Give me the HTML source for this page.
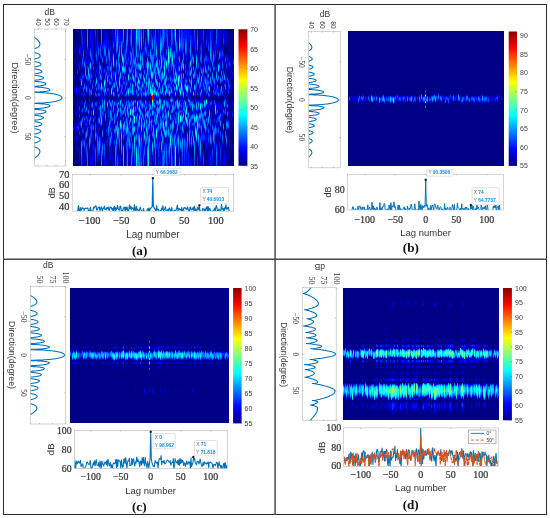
<!DOCTYPE html>
<html lang="en"><head><meta charset="utf-8"><title>Figure</title>
<style>html,body{margin:0;padding:0;background:#fff;}svg{display:block;}</style></head>
<body>
<svg width="550" height="518" viewBox="0 0 550 518"><rect x="0" y="0" width="550" height="518" fill="#fff"/>
<defs><filter id="bl" x="-5%" y="-5%" width="110%" height="110%"><feGaussianBlur stdDeviation="0.5"/></filter></defs>
<rect x="73.00" y="29.00" width="161.00" height="137.00" fill="#000087"/>
<clipPath id="hc1"><rect x="73.00" y="29.00" width="161.00" height="137.00"/></clipPath>
<g clip-path="url(#hc1)"><g shape-rendering="crispEdges" filter="url(#bl)"><g transform="translate(73.5 29.0)" stroke-width="1.05" fill="none">
<path d="M0 33v1M0 84v1M0 91v1M0 97v1M0 114v1M1 50v1M1 63v1M1 73v2M1 104v1M2 30v1M2 35v1M2 64v2M2 79v2M2 82v1M2 90v4M2 108v1M3 14v2M3 19v2M3 56v1M3 86v1M3 95v1M3 105v1M3 112v1M3 116v2M3 121v2M4 22v1M4 34v1M4 39v1M4 50v1M4 58v1M4 94v1M4 103v2M4 113v3M4 125v3M5 17v2M5 24v1M5 40v5M5 48v1M5 65v1M5 71v1M5 73v5M5 83v1M5 92v2M5 103v1M5 109v1M5 113v2M6 7v3M6 14v2M6 27v1M6 32v1M6 43v1M6 48v1M6 52v1M6 66v1M6 89v1M6 116v1M7 15v1M7 26v1M7 31v1M7 35v1M7 40v2M7 61v1M7 64v3M7 70v1M7 79v1M7 83v1M7 103v1M7 107v2M8 14v1M8 22v1M8 31v2M8 60v2M8 65v1M8 71v1M8 107v1M9 25v1M9 41v1M9 43v1M9 60v1M9 62v1M9 72v1M9 105v1M10 2v9M10 16v1M10 35v1M10 73v1M10 85v1M10 94v3M10 109v1M10 119v1M10 130v5M11 0v7M11 18v2M11 24v2M11 30v1M11 40v1M11 44v1M11 49v1M11 63v1M11 82v3M11 94v1M11 125v12M12 0v4M12 52v1M12 55v1M12 61v1M12 65v1M12 76v1M12 78v1M12 85v1M12 135v2M13 9v7M13 52v1M13 54v1M13 65v1M13 75v1M13 92v1M13 98v1M13 110v1M14 23v1M14 25v2M14 30v1M14 77v1M14 111v2M15 10v4M15 25v4M15 65v1M15 73v1M15 79v1M15 94v1M15 103v1M15 111v4M16 0v9M16 20v1M16 32v1M16 57v1M16 81v1M16 84v1M16 87v1M16 104v2M16 135v2M17 56v1M17 58v1M17 73v2M17 76v1M17 81v1M17 83v1M17 86v1M17 124v1M18 0v3M18 16v1M18 22v1M18 32v1M18 43v1M18 52v1M18 57v1M18 70v2M18 88v1M18 91v1M18 110v1M18 129v8M19 40v3M19 53v1M19 62v3M19 71v1M19 82v1M19 90v1M19 110v5M20 16v1M20 21v1M20 44v6M20 61v1M20 63v1M20 72v1M20 87v1M20 102v1M20 127v2M21 9v3M21 36v3M21 44v3M21 50v1M21 54v1M21 57v1M21 73v1M21 112v2M22 31v1M22 42v1M22 68v1M22 80v2M22 90v1M22 113v1M22 115v1M23 4v4M23 34v1M23 38v1M23 45v1M23 68v1M23 82v4M23 94v1M23 99v2M23 112v1M23 117v4M24 21v1M24 35v1M24 56v1M24 60v1M24 66v1M24 80v1M24 97v1M24 103v1M25 42v1M25 51v1M25 68v1M25 75v1M25 85v1M25 98v6M25 133v3M26 11v2M26 18v2M26 25v1M26 76v1M26 82v1M26 103v1M26 105v1M26 132v3M27 13v1M27 34v1M27 55v2M27 64v1M27 74v1M27 99v1M27 106v1M27 128v1M28 20v2M28 66v1M28 70v1M28 98v1M28 112v4M29 0v3M29 12v1M29 23v1M29 37v1M29 42v3M29 51v4M29 66v1M29 95v1M29 98v1M29 112v1M29 134v3M30 6v2M30 50v1M30 73v1M30 88v1M30 91v1M30 98v1M30 103v2M30 109v1M30 121v1M31 37v1M31 90v1M31 100v2M31 103v2M32 9v1M32 35v1M32 56v2M32 82v1M32 93v1M33 21v1M33 52v1M33 61v1M33 71v1M33 76v1M33 81v4M33 90v1M33 107v3M33 117v1M33 127v1M34 0v7M34 18v1M34 43v2M34 57v1M34 69v1M34 92v1M34 94v1M34 123v14M35 2v6M35 32v2M35 64v1M35 70v1M35 75v1M35 113v2M35 125v10M36 57v1M36 60v1M36 85v1M37 0v5M37 15v1M37 24v1M37 35v1M37 58v4M37 67v1M37 69v1M37 79v1M37 134v3M38 20v1M38 57v1M38 93v2M38 112v1M38 117v5M39 36v1M39 41v1M39 100v2M39 116v2M39 122v3M40 0v4M40 50v1M40 72v2M40 87v1M40 91v2M40 94v1M40 104v2M40 107v2M40 114v1M40 123v2M40 133v4M41 21v3M41 28v2M41 31v1M41 39v2M41 49v2M41 60v1M41 71v1M41 82v1M41 96v1M41 129v2M42 18v3M42 36v1M42 39v1M42 63v1M42 84v1M42 86v1M42 110v1M43 26v1M43 60v1M43 63v1M43 65v2M43 92v1M43 105v2M44 26v1M44 43v2M44 65v1M44 117v1M45 18v1M45 48v1M45 55v1M45 57v1M45 77v1M45 87v1M45 117v1M45 124v1M46 30v1M46 45v1M46 61v1M46 78v1M46 99v2M47 23v2M47 32v2M47 39v1M47 59v2M47 106v1M47 111v5M47 123v2M48 8v1M48 49v3M48 68v1M48 75v1M48 92v1M48 129v1M49 53v1M49 60v2M49 66v1M49 70v1M49 72v1M49 87v2M49 108v2M49 112v2M49 123v7M50 24v1M50 45v1M50 57v2M50 62v1M50 65v1M51 12v2M51 35v1M51 48v1M51 50v1M51 67v1M51 75v1M51 87v1M51 111v1M52 14v2M52 108v1M52 114v2M52 118v2M53 46v4M53 59v1M53 68v1M53 85v1M53 108v1M54 20v1M54 22v1M54 31v1M54 47v1M54 66v1M55 0v8M55 35v1M55 42v1M55 68v1M55 133v4M56 0v4M56 26v1M56 30v1M56 33v1M56 55v1M56 65v1M56 84v3M56 99v1M56 122v1M56 130v7M57 46v1M57 71v1M57 87v1M57 94v1M57 101v1M57 110v1M57 122v1M57 126v1M58 34v2M58 66v1M58 87v2M58 96v4M58 117v3M59 9v1M59 15v1M59 108v1M59 110v1M60 7v4M60 67v1M60 70v1M60 111v2M60 118v1M60 129v4M61 15v1M61 22v1M61 39v1M61 45v2M61 56v1M61 66v1M61 79v2M61 95v1M61 104v1M62 65v1M62 69v1M62 87v6M62 94v2M62 100v2M62 114v1M62 117v1M63 31v1M63 51v1M63 66v1M63 71v1M63 74v3M63 113v1M64 51v1M64 63v1M64 82v1M64 114v1M65 30v1M65 42v2M65 68v1M65 83v1M66 42v1M66 66v1M66 99v1M66 123v1M67 56v1M67 92v1M68 24v1M68 41v1M68 87v1M68 104v1M69 0v10M69 19v1M69 49v2M69 68v3M69 91v1M69 108v1M69 110v1M69 135v2M70 43v1M70 71v1M70 79v1M70 115v1M71 6v3M71 11v2M71 28v5M71 36v3M71 100v1M71 113v2M72 27v4M72 49v3M72 92v3M72 122v5M73 0v12M73 28v1M73 30v1M73 119v1M73 131v6M74 66v1M74 70v3M75 18v1M75 20v1M75 71v1M76 13v2M76 20v3M76 46v1M76 67v1M76 101v2M76 119v1M76 122v2M77 72v1M77 89v1M77 104v4M78 21v1M78 68v1M78 71v3M78 84v2M78 105v2M78 115v2M78 118v2M79 0v3M79 40v1M79 52v1M79 88v1M79 101v1M79 130v7M80 50v1M81 48v1M81 123v1M81 126v1M82 70v1M82 73v1M83 0v4M83 40v1M83 59v1M83 111v2M83 124v1M83 131v6M84 2v14M84 70v1M84 130v6M85 21v2M85 26v7M86 10v2M86 51v1M86 107v1M86 126v1M87 67v1M87 113v4M87 122v2M88 86v2M88 99v1M88 109v1M88 128v3M89 69v1M89 102v1M90 42v1M91 19v5M91 60v2M91 93v1M91 109v1M91 111v1M92 23v2M92 40v3M92 67v1M92 70v1M92 75v1M92 99v1M92 123v1M93 54v1M93 69v1M94 44v2M94 51v1M94 66v1M94 94v3M94 108v3M94 118v1M94 123v1M95 11v1M95 46v1M95 70v1M95 90v1M95 112v2M96 13v1M96 20v1M96 71v1M96 83v2M96 86v3M97 11v4M97 32v1M97 39v3M97 74v1M97 80v1M97 92v1M98 44v2M98 86v1M99 43v4M99 59v2M99 86v1M99 118v1M99 122v1M100 10v2M100 30v1M100 60v1M100 69v1M100 102v1M100 109v1M100 125v1M101 16v1M101 19v1M101 32v2M101 72v3M101 83v1M101 97v2M101 101v1M102 81v1M102 87v1M102 96v1M102 98v1M102 100v1M102 102v1M102 112v1M103 0v4M103 27v1M103 63v1M103 66v1M103 69v1M103 79v2M103 123v1M103 133v4M104 31v3M104 41v2M104 69v1M104 120v6M105 10v2M105 19v1M105 68v4M105 98v1M105 101v1M106 25v1M106 112v1M106 122v1M107 26v1M107 48v1M107 69v1M107 79v1M107 123v1M107 131v2M108 26v2M108 30v1M108 71v1M109 42v2M109 46v1M109 68v1M109 106v1M110 52v1M110 56v4M110 90v1M110 97v2M110 109v1M110 117v1M110 126v2M111 21v1M111 32v1M111 35v2M111 41v1M111 47v1M111 60v1M111 65v1M111 85v1M111 87v2M111 104v2M112 0v3M112 29v1M112 32v1M112 62v2M112 70v1M112 79v1M112 94v1M112 103v1M112 106v1M112 123v1M112 133v4M113 67v1M113 106v2M114 18v2M114 35v1M114 38v1M114 73v1M114 80v1M114 128v2M115 17v1M115 29v1M115 34v2M115 49v1M115 91v1M115 105v1M115 108v1M115 114v1M115 119v1M116 13v4M116 28v2M116 66v1M116 79v1M116 86v1M117 39v2M117 48v2M117 56v1M117 85v2M117 108v1M117 119v1M117 126v1M118 19v4M118 67v1M118 83v1M118 99v1M118 102v1M118 121v3M119 18v1M119 22v1M119 47v1M119 49v1M119 56v1M119 111v3M119 117v2M119 129v2M120 5v3M120 16v1M120 60v1M120 81v1M120 91v1M120 98v1M120 104v1M120 123v1M121 27v2M121 39v1M121 52v1M121 63v1M121 106v1M122 0v4M122 30v1M122 35v1M122 80v1M122 85v1M122 94v2M122 111v2M122 121v1M122 131v6M123 9v1M123 44v1M123 63v1M123 116v6M124 23v1M124 26v1M124 38v2M124 55v1M124 104v1M124 122v1M125 30v1M125 67v1M125 82v1M125 84v1M125 101v1M125 124v2M126 26v1M126 40v1M126 65v1M126 77v2M126 102v1M126 109v2M127 34v1M127 50v1M128 58v1M128 91v1M128 120v2M129 14v3M129 21v14M129 63v2M129 67v1M129 100v1M129 115v1M129 123v1M130 23v3M130 28v1M130 46v1M130 61v1M130 66v1M130 69v1M130 75v1M130 80v2M130 101v1M131 10v2M131 20v1M131 88v1M131 102v2M131 114v1M132 17v1M132 45v1M132 64v1M132 79v1M132 110v1M132 116v1M132 129v4M133 46v1M133 48v1M133 81v1M133 95v1M133 121v1M133 131v2M134 21v2M134 36v1M134 39v1M134 73v1M134 75v1M134 89v1M134 110v1M134 118v3M135 27v1M135 69v3M135 85v1M135 121v1M136 18v1M136 25v1M136 29v1M136 36v1M136 50v1M136 64v1M136 91v1M136 95v2M136 107v1M136 113v2M136 124v3M137 33v1M137 46v1M137 56v1M137 59v1M137 71v1M137 82v2M137 101v1M138 36v1M138 58v1M138 61v1M138 63v1M138 77v1M138 89v1M138 97v1M138 102v1M138 129v2M139 15v1M139 24v2M139 41v1M139 58v1M139 61v3M139 72v1M139 82v2M139 88v3M139 103v2M139 111v1M140 15v1M140 35v1M140 43v1M140 55v1M140 77v1M140 79v1M140 117v3M140 127v2M141 8v2M141 34v1M141 43v1M141 81v1M141 86v1M141 94v1M141 124v2M142 14v1M142 30v1M142 34v1M142 51v1M142 53v1M142 58v1M142 60v1M142 73v1M142 109v3M142 119v2M143 21v1M143 29v7M143 72v1M143 89v1M144 7v1M144 41v1M144 45v1M144 54v1M144 66v1M144 78v1M144 85v1M144 98v2M144 112v1M144 117v1M145 19v1M145 32v2M145 57v1M145 69v1M145 73v1M145 80v1M145 108v1M145 117v4M146 1v4M146 16v1M146 19v1M146 54v1M146 59v1M146 62v1M146 74v1M146 120v1M147 31v1M147 33v1M147 41v1M147 72v1M147 98v1M147 110v1M148 1v6M148 14v2M148 21v1M148 35v1M148 100v6M148 132v4M149 16v1M149 54v3M149 72v1M149 80v1M149 91v1M149 100v1M149 118v1M150 21v1M150 55v1M150 63v4M150 92v1M150 124v2M151 17v1M151 27v1M151 33v2M151 60v1M151 66v1M151 119v1M152 7v3M152 17v2M152 35v1M152 38v1M152 117v2M153 15v1M153 44v2M153 62v1M153 71v1M153 82v1M153 89v1M153 120v1M153 124v2M154 36v1M154 43v1M154 71v1M154 81v1M154 89v1M154 115v6M155 27v1M155 43v1M155 73v1M155 81v1M155 102v1M156 14v4M156 22v2M156 39v1M156 65v2M156 81v1M156 105v1M156 125v2M157 21v1M157 29v3M157 39v1M157 45v1M157 59v1M157 84v1M158 53v1M158 60v2M158 64v1M158 111v1M158 121v1M159 34v2M159 42v1M159 48v1M159 72v1M159 77v1M160 28v1M160 37v1M160 40v1M160 75v1M160 80v1M160 87v2" stroke="#00009f"/>
<path d="M0 85v1M0 90v1M0 102v1M0 108v1M0 113v1M1 20v2M1 25v1M1 59v1M1 62v1M1 93v1M1 102v2M2 31v1M2 34v1M2 81v1M2 102v1M2 107v1M3 16v3M3 66v1M3 75v1M3 82v1M3 111v1M3 118v3M4 23v1M4 33v1M4 56v2M4 70v1M4 78v1M4 116v9M5 19v5M5 31v1M5 39v1M5 45v3M5 58v1M5 72v1M5 78v1M5 87v1M5 90v2M5 94v1M5 110v3M6 0v7M6 16v1M6 49v3M6 60v1M6 71v2M6 76v1M6 96v1M6 107v1M6 117v1M6 133v4M7 16v1M7 32v3M7 56v1M7 60v1M7 71v2M7 75v1M7 98v1M7 104v3M8 13v1M8 30v1M8 33v1M8 47v1M8 49v1M8 73v1M8 77v1M8 85v1M8 89v1M8 100v1M8 108v1M9 20v1M9 40v1M9 53v2M9 59v1M9 67v1M9 78v1M9 84v1M9 94v1M9 121v5M10 17v1M10 34v1M10 43v1M10 67v1M10 74v1M10 89v1M10 98v1M10 118v1M11 7v11M11 20v4M11 61v1M11 72v1M11 81v1M11 85v1M11 93v1M11 95v1M11 100v1M11 123v2M12 4v12M12 27v3M12 49v1M12 53v2M12 62v3M12 70v1M12 91v1M12 98v1M12 101v1M12 129v6M13 4v5M13 16v3M13 35v1M13 44v1M13 93v1M14 22v1M14 27v3M14 42v1M14 45v1M14 54v1M14 60v1M14 75v2M14 86v1M14 107v1M14 113v3M15 14v4M15 24v1M15 29v1M15 64v1M15 86v1M15 89v1M15 93v1M15 95v2M15 101v2M16 21v1M16 27v1M16 42v1M16 52v1M16 73v1M16 85v2M16 89v1M16 103v1M16 129v6M17 29v1M17 75v1M17 82v1M17 117v1M17 125v1M18 3v5M18 14v2M18 35v1M18 67v1M18 72v1M19 39v1M19 43v1M19 50v1M19 87v3M19 93v1M19 108v2M19 115v2M20 17v4M20 28v1M20 58v1M20 66v1M20 88v1M20 94v1M20 105v1M20 126v1M21 0v9M21 51v3M21 58v3M21 74v2M21 82v1M21 85v1M21 92v1M21 114v2M21 134v3M22 36v1M22 39v1M22 59v1M22 79v1M22 85v1M22 89v1M22 91v1M23 8v3M23 47v1M23 56v1M23 62v1M23 78v1M23 101v1M23 111v1M24 26v1M24 34v1M24 36v1M24 46v1M24 51v1M24 76v1M24 79v1M24 81v1M24 89v1M24 94v1M24 102v1M25 14v1M25 32v1M25 39v1M25 49v1M25 97v1M25 104v3M25 131v2M26 13v5M26 26v5M26 61v1M26 84v1M26 130v2M27 14v1M27 31v1M27 68v1M27 98v1M27 126v2M28 22v1M28 32v4M28 116v2M29 13v1M29 26v1M29 48v1M29 67v2M29 132v2M30 8v1M30 33v1M30 38v1M30 46v1M30 51v1M30 54v3M30 65v2M30 110v2M30 119v2M31 29v1M31 84v2M31 89v1M31 102v1M31 110v1M32 10v2M32 34v1M32 40v1M32 75v1M32 78v1M32 80v1M33 20v1M33 24v1M33 37v2M33 49v1M33 53v1M33 59v1M33 66v1M33 91v5M33 106v1M33 110v2M33 115v2M33 128v3M34 7v4M34 16v2M34 25v1M34 33v2M34 55v1M34 65v1M34 68v1M34 80v1M34 91v1M34 95v2M34 99v4M34 122v1M35 8v3M35 31v1M35 54v1M35 77v1M35 91v3M35 111v2M36 0v15M36 61v1M36 68v1M36 81v4M36 133v4M37 16v1M37 33v1M37 44v1M37 50v1M37 65v2M37 70v1M37 104v2M37 131v3M38 21v2M38 56v1M39 18v4M39 35v1M39 53v1M39 94v2M39 99v1M39 102v1M39 114v2M39 125v3M40 4v2M40 49v1M40 51v1M40 60v1M40 85v2M40 88v3M40 95v1M40 102v2M40 106v1M40 115v1M40 122v1M41 0v4M41 19v2M41 24v4M41 48v1M41 51v1M41 61v1M41 79v1M41 81v1M41 108v1M41 119v1M41 131v6M42 16v2M42 37v2M42 65v1M42 93v1M42 113v1M43 58v1M43 62v1M43 71v1M43 79v3M43 91v1M43 94v1M44 25v1M44 45v6M44 66v1M44 116v1M44 123v1M45 17v1M45 54v1M45 88v2M45 94v2M45 116v1M45 125v1M46 32v1M46 60v1M46 62v1M46 72v2M46 77v1M46 79v1M46 84v2M46 91v1M47 22v1M47 34v1M47 38v1M47 40v1M47 89v1M47 104v2M47 125v3M48 9v1M48 42v7M48 52v1M48 79v1M48 91v1M48 128v1M49 0v2M49 23v1M49 52v1M49 71v1M49 73v1M49 89v1M49 93v4M49 106v2M49 114v1M49 121v2M49 130v7M50 23v1M50 26v1M50 44v1M50 59v3M50 63v2M50 70v1M50 86v1M50 93v1M50 113v1M51 14v2M51 34v1M51 58v1M51 63v1M51 71v1M51 76v1M51 86v1M51 88v1M51 110v1M52 16v2M52 73v1M52 107v1M52 116v2M53 37v1M53 40v1M53 58v1M53 69v1M53 86v1M53 109v1M54 19v1M54 23v1M54 30v1M54 32v1M54 45v2M54 48v1M54 71v1M55 8v7M55 22v4M55 36v1M55 43v1M55 53v2M55 69v1M55 92v3M55 127v6M56 4v4M56 25v1M56 31v2M56 36v1M56 54v1M56 81v3M56 98v1M57 18v2M57 38v1M57 45v1M57 66v1M57 111v1M57 127v2M58 58v1M58 95v1M58 100v3M58 116v1M58 120v1M59 8v1M59 42v1M59 67v1M59 71v1M60 11v1M60 37v2M60 54v1M60 59v1M60 109v2M60 119v2M60 125v4M61 13v2M61 23v2M61 40v1M61 55v1M61 57v1M61 105v1M62 63v2M62 86v1M62 96v1M62 98v2M62 102v1M62 113v1M62 118v2M63 30v1M63 50v1M63 58v1M63 72v2M63 77v1M63 100v2M63 114v1M64 21v2M64 50v1M64 81v1M64 112v2M64 115v3M65 44v3M65 62v1M65 76v1M65 82v1M66 56v1M66 62v1M66 101v1M66 120v1M67 19v2M67 93v1M68 22v1M68 40v1M68 54v1M68 80v1M68 105v1M69 20v1M69 41v8M69 72v1M69 81v1M69 90v1M69 100v2M69 107v1M69 111v1M69 131v4M70 29v2M70 42v1M70 67v1M70 78v1M70 80v1M70 83v2M70 93v1M70 119v1M71 0v6M71 13v1M71 26v2M71 33v3M71 55v1M71 61v1M71 70v1M71 72v2M71 80v6M71 135v2M72 26v1M72 31v1M72 42v7M72 52v2M72 95v2M72 121v1M72 127v2M73 12v1M73 60v1M73 68v1M73 117v2M73 120v4M73 126v5M74 78v2M75 29v2M75 67v1M75 72v1M75 91v2M75 103v2M76 0v2M76 9v4M76 23v12M76 45v1M76 47v1M76 59v2M76 71v1M76 118v1M76 124v3M76 135v2M77 0v1M77 48v2M77 96v2M77 103v1M77 108v4M77 136v1M78 20v1M78 23v1M78 74v2M78 83v1M78 86v2M78 107v1M78 114v1M78 120v1M79 3v2M79 94v1M79 100v1M79 128v2M80 49v1M80 68v1M80 79v1M80 87v2M80 92v2M80 113v4M81 47v1M81 49v1M81 53v3M81 122v1M81 127v2M82 74v1M82 81v1M82 103v7M83 4v3M83 47v2M83 58v1M83 60v1M83 69v1M83 76v1M83 123v1M84 16v8M84 50v1M84 59v1M84 127v3M85 20v1M85 33v1M85 52v3M85 88v3M86 12v2M86 26v2M86 38v1M86 60v1M86 105v2M86 108v2M86 124v2M87 65v1M87 112v1M87 124v2M88 0v1M88 60v1M88 66v1M88 71v1M88 88v1M88 127v1M88 131v4M88 136v1M89 38v2M89 72v2M89 101v1M90 51v1M90 59v3M90 81v1M90 105v1M91 17v2M91 24v1M91 59v1M91 84v2M91 92v1M91 94v1M91 112v1M92 25v1M92 39v1M92 43v1M92 74v1M92 76v1M92 110v2M92 122v1M93 14v3M93 29v1M93 65v1M94 21v1M94 25v1M94 43v1M94 46v1M94 52v1M94 58v1M94 93v1M94 97v1M94 107v1M94 117v1M94 124v1M95 7v4M95 12v2M95 45v1M95 91v1M95 111v1M95 114v1M96 11v2M96 39v4M96 68v1M96 85v1M96 89v1M96 110v1M97 8v3M97 42v1M97 66v1M97 68v1M97 79v1M97 81v1M97 93v1M97 123v2M98 43v1M98 46v1M98 65v1M98 78v1M98 85v1M99 41v2M99 47v1M99 65v1M99 67v1M99 74v1M99 85v1M100 12v3M100 59v1M100 83v2M100 110v1M100 124v1M101 15v1M101 63v1M101 67v1M101 75v1M101 84v1M101 94v3M101 102v1M102 26v3M102 48v1M102 80v1M102 99v1M102 113v1M103 4v2M103 26v1M103 28v1M103 64v2M103 122v1M104 30v1M104 34v1M104 40v1M104 43v5M104 65v1M104 119v1M104 126v5M105 7v3M105 20v1M105 63v2M105 67v1M105 102v1M106 43v2M106 102v2M106 111v1M106 123v1M107 0v3M107 25v1M107 32v1M107 40v2M107 47v1M107 73v1M107 84v1M107 133v4M108 25v1M108 64v1M108 94v1M109 25v2M109 41v1M109 47v1M109 67v1M109 69v1M109 75v3M110 53v3M110 60v1M110 71v1M110 106v1M110 110v1M110 115v2M110 128v2M111 19v2M111 22v3M111 31v1M111 37v4M111 48v1M111 61v1M111 69v1M111 89v1M111 99v5M111 106v1M112 3v2M112 46v1M112 93v1M112 102v1M112 107v1M112 122v1M113 35v2M113 96v1M113 108v2M114 20v2M114 33v2M114 39v1M114 52v1M114 54v1M114 72v1M114 82v1M114 87v1M114 126v2M115 15v2M115 18v2M115 27v2M115 36v1M115 48v1M115 53v1M115 64v1M115 74v1M115 78v1M115 98v2M115 104v1M115 109v1M115 113v1M115 120v1M116 11v2M116 17v1M116 27v1M116 30v1M116 78v1M116 87v1M117 55v1M117 65v1M117 80v1M117 95v3M117 107v1M117 109v1M117 127v2M118 18v1M118 23v1M118 62v1M118 71v1M118 79v1M118 120v1M118 124v2M119 0v4M119 17v1M119 36v1M119 42v2M119 46v1M119 54v1M119 57v1M119 63v1M119 70v1M119 110v1M119 114v3M119 131v6M120 0v5M120 17v1M120 22v1M120 43v1M120 55v1M120 57v1M120 92v1M120 118v1M120 124v2M120 132v5M121 21v6M121 51v1M121 62v1M121 67v1M121 100v1M121 107v2M122 4v3M122 28v2M122 113v2M122 119v2M123 10v2M123 41v1M123 71v1M123 83v1M123 96v1M123 115v1M124 33v1M124 43v1M124 60v1M124 75v1M124 77v1M124 84v1M124 123v1M125 41v1M125 45v1M125 56v1M125 58v1M125 71v1M125 122v2M126 31v1M126 37v1M126 62v3M126 72v1M126 79v4M126 100v1M126 103v1M126 108v1M126 111v1M127 36v1M127 45v1M127 49v1M127 102v2M128 56v1M128 67v3M128 90v1M128 94v1M128 113v1M128 122v2M129 0v2M129 11v3M129 62v1M129 65v2M129 73v1M129 98v2M129 101v1M129 124v3M129 135v2M130 20v3M130 29v1M130 34v2M130 50v1M130 59v1M130 74v1M130 76v4M130 98v1M130 114v1M130 119v1M131 12v2M131 19v1M131 26v1M131 45v1M131 63v1M131 113v1M132 18v2M132 62v1M132 68v1M132 108v2M132 117v2M132 127v2M133 0v3M133 19v1M133 24v1M133 36v2M133 79v1M133 133v4M134 23v1M134 35v1M134 40v1M134 74v1M134 100v3M134 109v1M135 0v1M135 68v1M135 74v1M135 83v1M135 115v1M135 122v1M135 136v1M136 19v1M136 24v1M136 35v1M136 37v1M136 43v1M136 55v1M136 68v1M136 72v1M136 76v1M136 79v1M136 97v2M136 106v1M136 115v9M137 36v1M137 44v1M137 60v3M137 66v1M137 78v1M137 84v2M137 100v1M137 102v1M137 117v1M137 122v1M138 0v1M138 43v1M138 62v1M138 81v1M138 92v1M138 96v1M138 103v1M138 119v1M138 131v4M138 136v1M139 12v3M139 16v3M139 23v1M139 28v1M139 39v1M139 73v1M139 75v2M139 81v1M139 105v1M139 116v1M140 16v1M140 34v1M140 46v1M140 58v1M140 73v1M140 116v1M140 120v2M140 124v3M141 10v2M141 33v1M141 35v1M141 47v1M141 80v1M141 87v1M141 123v1M142 15v2M142 35v1M142 39v2M142 45v4M142 50v1M142 66v1M142 87v1M142 94v1M142 108v1M142 112v3M142 116v3M143 20v1M143 36v1M143 66v1M143 106v1M143 112v1M144 4v3M144 17v1M144 28v1M144 74v1M144 87v1M144 95v3M144 104v1M145 25v1M145 45v1M145 52v1M145 79v1M145 84v1M145 93v1M145 121v6M146 5v3M146 14v2M146 60v2M146 72v2M146 77v1M146 80v1M146 97v1M146 102v2M146 105v1M147 14v5M147 40v1M147 46v1M147 73v4M147 81v2M147 114v1M148 7v7M148 22v1M148 30v1M148 36v2M148 54v1M148 72v1M148 99v1M149 17v1M149 60v1M149 79v1M149 81v1M149 90v1M149 101v1M149 117v1M150 20v1M150 22v2M150 31v1M150 40v1M150 49v1M150 54v1M150 56v1M150 76v1M150 78v1M150 91v1M150 103v1M150 126v1M151 15v2M151 28v5M151 43v1M151 120v1M152 10v7M152 25v1M152 44v1M152 61v2M152 113v4M153 0v3M153 13v2M153 25v1M153 50v1M153 54v1M153 57v1M153 81v1M153 101v1M153 119v1M153 126v11M154 24v1M154 35v1M154 44v1M154 70v1M154 79v1M154 90v1M155 28v1M155 42v1M155 48v1M155 77v1M155 86v1M156 18v4M156 106v1M156 123v2M157 22v2M157 27v2M157 32v1M157 49v1M157 54v1M158 62v2M158 86v1M158 112v1M158 119v2M159 81v1M159 93v3M160 76v2M160 79v1" stroke="#0000b7"/>
<path d="M0 86v1M0 89v1M0 98v1M0 101v1M0 109v4M1 22v3M1 47v3M1 60v2M1 94v8M2 32v2M2 103v4M3 76v2M3 85v1M3 100v1M3 106v1M3 110v1M4 24v9M4 45v1M4 73v3M4 95v1M4 102v1M5 32v1M5 37v2M5 59v1M5 64v1M5 79v1M5 82v1M5 88v2M5 102v1M6 17v1M6 26v1M6 33v1M6 42v1M6 61v2M6 65v1M6 82v2M6 92v1M6 100v1M6 118v1M6 129v4M7 17v1M7 25v1M7 47v1M7 52v1M7 73v2M7 80v1M7 82v1M7 91v1M8 12v1M8 23v1M8 29v1M8 34v1M8 39v1M8 43v1M8 72v1M8 84v1M8 109v1M9 19v1M9 26v1M9 44v1M9 52v1M9 55v4M9 75v1M9 98v1M9 109v1M9 120v1M9 126v2M10 18v1M10 32v2M10 54v1M10 57v1M10 63v2M10 75v1M10 81v1M10 86v1M10 88v1M10 105v1M10 110v1M10 117v1M11 45v2M11 48v1M11 53v1M11 67v1M11 96v1M11 99v1M11 108v1M11 122v1M12 16v11M12 30v2M12 84v1M12 113v4M12 125v4M13 0v4M13 19v9M13 55v1M13 83v1M13 91v1M13 114v1M13 132v5M14 35v1M14 61v1M14 63v1M14 106v1M14 116v2M15 18v6M15 30v1M15 35v2M15 62v2M15 74v1M15 76v1M15 90v3M15 97v4M16 22v1M16 26v1M16 41v1M16 74v1M16 80v1M16 98v2M16 106v1M16 126v3M17 66v1M17 126v1M18 8v6M18 40v1M18 51v1M18 58v1M18 73v1M18 92v1M18 109v1M19 38v1M19 44v1M19 61v1M19 81v1M19 104v4M19 117v4M20 43v1M20 55v1M20 95v1M20 125v1M21 76v1M21 116v1M21 129v5M22 30v1M22 37v2M22 49v3M22 61v1M22 72v1M22 86v3M22 92v1M22 112v1M22 116v1M23 11v4M23 39v1M23 57v1M23 95v1M23 98v1M23 110v1M24 20v1M24 33v1M24 37v1M24 45v1M24 55v1M24 61v1M24 77v2M24 86v1M24 98v1M24 101v1M24 104v1M25 27v1M25 33v1M25 38v1M25 43v1M25 62v1M25 76v1M25 81v1M25 86v1M25 96v1M25 107v2M25 130v1M26 31v1M26 52v2M26 60v1M26 62v1M26 102v1M26 106v1M26 128v2M27 15v1M27 42v1M27 54v1M27 62v1M27 65v3M27 107v1M27 125v1M28 19v1M28 31v1M28 36v2M28 118v1M29 14v1M29 22v1M29 34v1M29 38v1M29 41v1M29 45v3M29 55v1M29 63v1M29 94v1M29 109v1M29 131v1M30 9v2M30 32v1M30 39v1M30 45v1M30 52v2M30 64v1M30 92v1M30 97v1M30 112v1M30 118v1M31 45v3M31 83v1M31 88v1M31 111v1M32 12v1M32 30v4M32 64v1M32 79v1M32 92v1M33 0v4M33 19v1M33 36v1M33 39v1M33 72v1M33 75v1M33 96v2M33 105v1M33 112v3M33 131v6M34 11v5M34 26v1M34 32v1M34 63v1M34 79v1M34 86v1M34 97v2M34 103v2M34 120v2M35 11v3M35 34v1M35 57v1M35 90v1M35 94v1M35 110v1M36 15v2M36 40v2M36 48v1M36 67v1M36 80v1M36 89v1M36 128v5M37 23v1M37 28v1M37 43v1M37 49v1M37 57v1M37 78v1M37 129v2M38 23v1M38 28v3M38 72v1M38 95v1M38 111v1M39 0v8M39 14v4M39 22v2M39 34v1M39 42v1M39 79v1M39 84v1M39 87v1M39 96v3M39 103v1M39 112v2M39 128v9M40 6v2M40 22v2M40 61v1M40 74v1M40 116v6M41 4v3M41 18v1M41 32v1M41 38v1M41 67v1M41 77v1M41 80v1M41 83v1M41 105v1M41 118v1M42 15v1M42 42v1M42 67v3M42 78v2M42 83v1M42 92v1M42 94v1M42 109v1M43 61v1M43 78v1M43 82v1M43 104v1M44 51v4M44 64v1M44 67v2M44 89v1M44 114v2M44 124v1M45 22v1M45 46v1M45 49v1M45 62v1M45 69v1M45 84v1M45 90v1M45 93v1M45 115v1M45 126v2M46 43v1M46 68v2M46 71v1M46 74v1M46 76v1M46 86v1M46 90v1M46 98v1M46 101v1M47 0v3M47 21v1M47 35v3M47 52v1M47 58v1M47 65v1M47 102v2M47 128v9M48 41v1M48 65v1M48 69v1M48 76v1M48 78v1M48 80v1M48 127v1M49 2v3M49 20v1M49 51v1M49 54v1M49 90v3M49 97v2M49 103v3M49 115v6M50 16v4M50 22v1M50 56v1M50 72v2M50 112v1M51 16v1M51 47v1M51 56v1M51 62v1M51 89v1M52 18v1M52 45v1M52 62v2M52 68v2M52 90v4M52 105v2M53 27v2M53 45v1M53 50v1M53 60v1M53 84v1M53 107v1M54 24v1M54 28v2M54 33v1M54 39v6M55 15v7M55 26v1M55 34v1M55 55v3M55 67v1M55 91v1M55 95v1M55 123v4M56 8v11M56 24v1M56 46v2M56 56v1M56 64v1M56 70v1M56 87v2M56 100v1M56 121v1M57 17v1M57 20v1M57 78v1M57 95v1M57 100v1M57 102v1M57 109v1M57 121v1M57 129v1M58 57v1M58 59v1M58 86v1M58 103v1M58 115v1M59 6v2M59 16v1M59 28v2M59 41v1M59 52v1M59 78v1M59 88v2M59 111v1M60 12v2M60 36v1M60 60v1M60 108v1M60 121v4M61 11v2M61 25v1M61 41v1M61 44v1M61 58v1M61 75v1M61 85v1M62 62v1M62 85v1M62 97v1M62 112v1M62 120v2M63 32v1M63 52v1M63 57v1M63 78v1M63 84v1M63 99v1M63 102v1M63 112v1M64 20v1M64 23v1M64 62v1M64 68v1M64 89v2M64 111v1M64 118v3M65 19v1M65 32v1M65 41v1M65 63v1M65 71v1M65 75v1M65 84v1M65 88v2M66 25v1M66 31v2M66 49v1M66 57v1M66 61v1M66 84v1M66 124v1M67 17v2M67 21v1M67 55v1M67 57v1M67 91v1M68 53v1M68 79v1M68 121v4M69 21v1M69 40v1M69 51v1M69 67v1M69 82v1M69 92v1M69 99v1M69 102v1M69 106v1M69 112v1M69 128v3M70 28v1M70 31v1M70 44v1M70 60v1M70 81v2M70 92v1M70 114v1M70 120v1M71 14v1M71 25v1M71 39v1M71 56v1M71 67v1M71 71v1M71 86v1M71 101v1M71 112v1M71 115v1M71 132v3M72 32v1M72 41v1M72 69v1M72 91v1M72 97v1M72 103v2M72 120v1M72 129v4M73 13v1M73 27v1M73 31v1M73 41v2M73 59v1M73 71v1M73 81v1M73 124v2M74 49v2M74 58v2M74 90v1M75 17v1M75 21v1M75 73v1M75 102v1M76 2v7M76 35v1M76 103v1M76 127v8M77 1v10M77 31v2M77 50v1M77 73v1M77 82v1M77 88v1M77 98v1M77 102v1M77 112v3M77 125v11M78 36v1M78 56v2M78 88v1M78 104v1M78 108v1M78 113v1M78 121v2M79 5v1M79 51v1M79 109v1M79 111v1M80 15v5M80 48v1M80 51v1M80 67v1M80 89v1M80 91v1M80 94v1M80 112v1M80 117v1M81 31v3M81 50v3M81 56v1M81 73v1M81 97v2M81 121v1M81 129v2M82 71v2M82 80v1M82 98v5M82 110v1M83 7v3M83 41v1M83 70v1M83 77v1M83 113v1M83 122v1M84 24v1M84 44v2M84 105v2M84 124v3M85 18v2M85 34v1M85 48v4M85 55v1M85 69v1M85 77v1M85 86v2M85 91v1M86 14v3M86 24v2M86 28v1M86 39v1M86 64v1M86 66v1M86 99v6M86 110v1M86 123v1M87 68v1M87 84v2M87 102v2M87 111v1M87 126v1M88 1v3M88 41v1M88 61v1M88 72v4M88 85v1M88 98v1M88 100v1M88 111v1M88 126v1M88 135v1M89 37v1M89 40v1M89 53v1M89 65v1M89 100v1M89 103v1M90 33v2M90 41v1M90 43v1M90 52v1M90 58v1M90 62v1M90 68v2M90 82v1M90 103v1M91 16v1M91 25v1M91 58v1M91 62v1M91 108v1M91 113v1M92 26v1M92 38v1M92 44v2M92 112v1M92 121v1M93 13v1M93 27v1M93 80v2M93 110v3M94 26v1M94 41v2M94 47v1M94 50v1M94 71v1M94 81v2M94 92v1M94 98v1M94 111v2M94 116v1M94 125v1M95 0v7M95 14v1M95 47v1M95 89v1M95 92v1M95 95v1M95 110v1M95 115v1M95 135v2M96 8v3M96 21v1M96 38v1M96 43v1M96 51v2M96 72v1M96 82v1M96 94v2M96 109v1M96 111v1M97 0v8M97 15v1M97 30v1M97 33v1M97 38v1M97 43v2M97 54v2M97 75v1M97 82v2M97 122v1M97 125v12M98 47v4M98 79v1M98 92v1M99 19v2M99 40v1M99 73v1M99 87v1M99 117v1M99 123v1M100 15v3M100 32v1M100 61v1M100 64v1M100 101v1M100 111v1M100 123v1M101 14v1M101 20v1M101 31v1M101 34v1M101 55v2M101 64v1M101 82v1M101 93v1M101 103v1M102 25v1M102 29v1M102 37v1M102 86v1M102 88v1M102 95v1M102 111v1M103 6v2M103 29v1M103 36v5M103 78v1M103 107v2M103 121v1M104 0v5M104 35v1M104 48v1M104 54v2M104 104v2M104 118v1M104 131v6M105 0v7M105 21v1M105 65v1M105 72v1M105 97v1M105 103v1M105 133v4M106 23v1M106 34v1M106 55v2M106 70v1M106 87v2M106 101v1M106 104v1M106 110v1M106 124v1M107 3v2M107 24v1M107 33v1M107 39v1M107 55v1M107 67v1M107 74v1M107 78v1M107 95v1M107 102v1M107 122v1M108 24v1M108 31v1M108 63v1M108 68v3M108 73v1M108 96v1M109 24v1M109 27v1M109 48v1M109 74v1M109 78v1M109 104v1M110 0v3M110 50v1M110 91v1M110 111v4M110 130v7M111 17v2M111 25v6M111 49v3M111 59v1M111 90v1M111 98v1M111 107v1M112 5v1M112 28v1M112 33v1M112 48v1M112 95v1M112 101v1M112 108v1M112 121v1M113 28v1M113 34v1M113 37v1M113 41v3M113 71v1M114 22v2M114 29v4M114 48v4M114 68v1M114 86v1M114 99v2M114 124v2M115 13v2M115 20v2M115 25v2M115 37v1M115 47v1M115 75v1M115 77v1M115 81v1M115 90v1M115 92v1M115 100v1M115 103v1M115 110v3M116 7v4M116 18v1M116 62v1M117 70v1M117 81v1M117 84v1M117 110v1M117 118v1M117 129v2M118 17v1M118 24v1M118 35v2M118 45v2M118 60v2M118 63v1M118 66v1M118 78v1M118 82v1M118 92v2M118 98v1M118 103v1M118 119v1M118 126v1M119 4v3M119 16v1M119 23v1M119 33v1M119 37v1M119 41v1M119 44v2M119 50v1M119 53v1M119 58v1M119 62v1M119 83v1M119 100v1M119 109v1M120 18v1M120 21v1M120 50v1M120 52v1M120 58v2M120 61v1M120 71v1M120 79v1M120 105v1M120 126v6M121 18v3M121 40v1M121 50v1M121 54v1M121 74v1M122 7v2M122 27v1M122 36v1M122 67v2M122 86v1M122 110v1M122 115v4M123 12v2M123 20v3M123 45v1M123 62v1M123 82v1M123 95v1M123 97v1M123 114v1M124 27v1M124 66v1M124 71v1M124 103v1M124 124v1M125 31v1M125 62v2M125 81v1M125 85v1M125 103v1M125 120v2M126 12v6M126 24v2M126 32v1M126 36v1M126 52v2M126 61v1M126 76v1M126 107v1M126 112v1M127 7v5M127 42v1M127 51v1M127 72v1M127 104v1M128 0v5M128 35v1M128 55v1M128 66v1M128 70v2M128 124v13M129 2v9M129 39v1M129 50v3M129 61v1M129 81v1M129 97v1M129 102v1M129 114v1M129 127v8M130 18v2M130 30v1M130 33v1M130 36v1M130 51v1M130 62v1M130 65v1M130 82v1M130 102v1M130 113v1M130 120v1M131 14v5M131 41v1M131 70v1M131 101v1M131 104v1M131 112v1M132 20v1M132 47v1M132 59v1M132 67v1M132 80v1M132 91v2M132 105v3M132 119v8M133 3v2M133 35v1M133 38v1M133 86v2M133 110v1M133 120v1M134 24v2M134 90v1M134 99v1M134 103v1M134 108v1M135 1v8M135 23v1M135 33v2M135 49v1M135 62v1M135 98v1M135 123v13M136 20v4M136 30v1M136 34v1M136 90v1M136 99v1M137 63v1M137 86v1M137 103v1M137 123v1M138 1v4M138 35v1M138 50v2M138 88v1M138 93v3M138 104v1M138 118v1M138 135v1M139 9v3M139 19v4M139 53v2M139 57v1M139 74v1M139 77v4M139 94v1M139 102v1M139 110v1M140 17v1M140 65v1M140 76v1M140 80v1M140 83v3M140 89v2M140 122v2M141 12v2M141 42v1M141 70v1M141 79v1M141 97v1M141 122v1M142 17v1M142 29v1M142 36v3M142 41v4M142 49v1M142 54v1M142 107v1M142 115v1M143 53v3M143 73v1M143 96v2M144 0v4M144 18v1M144 27v1M144 42v1M144 44v1M144 48v1M144 60v1M144 77v1M144 79v1M144 94v1M144 105v1M144 111v1M144 118v1M144 133v4M145 0v6M145 17v2M145 31v1M145 68v1M145 74v1M145 78v1M145 96v1M145 107v1M145 127v10M146 8v6M146 20v1M146 32v1M146 41v1M146 78v1M146 84v1M146 96v1M146 104v1M146 111v1M146 119v1M147 12v2M147 19v1M147 30v1M147 34v1M147 39v1M147 55v1M147 58v1M147 77v1M147 80v1M147 101v1M147 109v1M147 115v1M148 38v1M148 48v1M148 55v1M148 63v1M148 80v1M148 88v4M148 98v1M149 18v1M149 42v2M149 53v1M149 66v1M149 73v1M149 78v1M149 89v1M150 19v1M150 30v1M150 48v1M150 50v1M150 53v1M150 57v1M150 62v1M150 71v1M150 88v1M150 90v1M150 93v1M150 127v2M151 13v2M151 58v1M151 67v2M151 85v1M151 121v2M152 47v1M152 77v1M152 100v1M152 112v1M153 3v10M153 26v6M153 40v1M153 61v1M153 72v1M153 80v1M153 105v1M153 118v1M154 25v1M154 45v1M154 54v1M154 88v1M155 29v1M155 39v3M155 65v1M155 74v1M155 76v1M155 90v1M155 101v1M156 31v1M156 38v1M156 54v1M156 61v1M156 82v1M156 86v1M156 107v1M156 121v2M157 24v3M157 33v2M157 37v2M157 46v3M157 58v1M158 91v1M158 113v2M158 117v2M159 43v1M159 47v1M159 73v1M159 76v1M159 88v1M160 41v1M160 44v1M160 78v1" stroke="#0000cf"/>
<path d="M0 87v2M0 99v2M3 57v1M3 65v1M3 83v2M3 96v1M3 107v1M3 109v1M4 40v1M4 71v2M4 76v2M4 101v1M5 33v4M5 63v1M5 80v2M5 95v1M6 18v1M6 34v1M6 63v2M6 88v1M6 106v1M6 119v3M6 125v4M7 18v1M7 24v1M7 57v1M7 59v1M7 81v1M8 11v1M8 24v2M8 28v1M8 78v6M8 110v1M9 39v1M9 51v1M9 63v1M9 73v2M9 87v1M9 104v1M9 119v1M9 128v3M10 31v1M10 44v1M10 50v2M10 53v1M10 66v1M10 76v1M10 87v1M10 99v1M11 39v1M11 47v1M11 86v1M11 97v2M11 121v1M12 32v1M12 75v1M12 92v1M12 97v1M12 102v1M12 112v1M12 117v8M13 28v2M13 34v1M13 51v1M13 64v1M13 76v1M13 86v1M13 94v1M13 97v1M13 101v1M13 130v2M14 21v1M14 46v1M14 53v1M14 62v1M14 87v1M14 95v2M14 118v1M15 31v1M15 33v2M15 54v8M15 75v1M16 23v3M16 33v1M16 58v1M16 68v1M16 72v1M16 75v1M16 97v1M16 100v3M16 123v3M17 16v2M17 42v1M17 55v1M17 59v1M17 94v2M17 116v1M17 127v2M18 23v1M18 36v1M18 80v2M18 87v1M19 0v6M19 37v1M19 45v1M19 49v1M19 80v1M19 94v1M19 102v2M19 121v16M20 29v1M20 50v1M20 59v2M20 64v1M20 79v1M20 106v1M20 112v2M20 124v1M21 77v1M21 91v1M21 117v3M21 124v5M22 13v6M22 29v1M22 43v1M22 48v1M22 67v1M22 78v1M23 15v4M23 33v1M23 44v1M23 67v1M23 72v1M23 96v2M23 102v1M24 19v1M24 27v1M24 43v2M24 52v3M24 65v1M24 82v1M24 90v1M24 93v1M24 99v2M24 105v1M25 15v1M25 34v4M25 48v1M25 52v1M25 67v1M25 95v1M25 109v1M25 128v2M26 32v1M26 46v2M26 59v1M26 67v1M26 72v1M26 74v1M26 85v2M26 95v1M26 98v1M26 127v1M27 30v1M27 43v1M27 53v1M27 57v1M27 69v1M27 72v1M27 97v1M27 108v1M27 123v2M28 18v1M28 23v1M28 30v1M28 38v1M28 65v1M28 71v1M28 97v1M28 119v1M29 15v1M29 21v1M29 39v2M29 69v1M29 88v3M29 93v1M29 99v1M29 113v1M29 130v1M30 11v2M30 30v2M30 40v1M30 44v1M30 74v1M30 87v1M30 93v1M30 96v1M30 113v5M31 0v11M31 28v1M31 38v1M31 48v1M31 86v2M31 112v1M31 135v2M32 13v1M32 29v1M32 41v1M32 72v1M32 74v1M32 83v1M33 4v3M33 18v1M33 25v1M33 48v1M33 54v1M33 62v1M33 73v2M33 98v1M33 104v1M34 27v1M34 31v1M34 35v1M34 42v1M34 58v1M34 66v2M34 81v1M34 85v1M34 87v4M34 105v2M34 119v1M35 14v2M35 30v1M35 53v1M35 63v1M35 109v1M36 17v1M36 39v1M36 42v1M36 47v1M36 49v1M36 56v1M36 62v1M36 69v1M36 79v1M36 125v3M37 17v1M37 32v1M37 45v1M37 51v1M37 71v1M37 103v1M37 106v1M37 118v11M38 24v4M38 31v1M38 92v1M39 8v6M39 24v2M39 32v2M39 43v4M39 55v1M39 78v1M39 80v1M39 93v1M39 104v2M39 109v3M40 8v2M40 21v1M40 48v1M40 52v1M40 84v1M40 96v1M40 101v1M41 7v4M41 15v3M41 33v1M41 37v1M41 41v1M41 47v1M41 59v1M41 62v1M41 98v1M42 14v1M42 62v1M42 66v1M42 72v2M42 77v1M42 80v1M42 87v1M42 108v1M42 114v1M43 25v1M43 29v1M43 49v1M43 72v1M43 90v1M43 107v1M44 24v1M44 69v1M44 72v2M44 90v1M44 112v2M45 16v1M45 53v1M45 58v1M45 76v1M45 91v2M45 114v1M45 128v2M46 0v6M46 29v1M46 46v1M46 63v1M46 67v1M46 70v1M46 75v1M46 80v1M46 83v1M46 89v1M46 92v1M46 123v14M47 3v5M47 20v1M47 41v1M47 51v1M47 53v1M47 61v1M47 70v1M47 88v1M48 10v1M48 31v2M48 53v1M48 73v1M48 77v1M48 93v1M49 5v2M49 35v1M49 45v1M49 62v1M49 80v1M49 86v1M49 99v4M50 15v1M50 20v2M50 71v1M50 74v1M50 79v1M50 87v1M50 91v1M50 111v1M50 114v1M51 17v2M51 33v1M51 36v1M51 51v1M51 59v1M51 74v1M51 85v1M51 90v1M51 109v1M52 19v1M52 46v1M52 70v1M52 72v1M52 74v1M52 89v1M52 94v1M52 104v1M53 26v1M53 36v1M53 41v4M53 67v1M53 70v1M53 79v1M53 110v1M54 18v1M54 25v3M54 34v1M54 38v1M54 49v1M54 72v3M55 37v1M55 41v1M55 70v1M55 90v1M55 96v1M55 119v4M56 19v5M56 45v1M56 48v1M56 53v1M56 89v2M57 16v1M57 37v1M57 72v1M57 112v1M57 120v1M57 130v3M58 33v1M58 36v1M58 44v3M58 51v2M58 56v1M58 70v1M58 89v1M58 94v1M58 104v1M58 121v1M59 0v6M59 17v1M59 27v1M59 30v1M59 43v1M59 51v1M59 107v1M59 135v2M60 14v1M60 39v1M61 7v4M61 26v1M61 38v1M61 42v2M61 47v1M61 54v1M61 59v4M61 70v1M61 74v1M61 76v3M61 81v1M61 84v1M62 0v2M62 59v3M62 75v1M62 84v1M62 103v1M62 122v8M62 134v3M63 49v1M63 59v1M63 83v1M63 94v5M63 115v1M64 64v1M64 83v1M64 91v1M64 94v2M64 110v1M64 121v1M65 17v2M65 20v1M65 29v1M65 87v1M65 102v1M66 24v1M66 26v2M66 30v1M66 43v1M66 63v1M66 70v1M66 102v1M66 125v1M67 16v1M67 43v1M67 51v1M67 65v1M67 78v1M67 94v1M67 99v2M68 25v1M68 32v1M68 42v1M68 52v1M68 55v1M68 81v1M68 86v1M68 120v1M68 125v1M69 22v1M69 39v1M69 61v1M69 103v3M69 113v1M69 125v3M70 32v1M70 41v1M70 59v1M70 85v1M70 94v1M70 113v1M70 121v1M71 15v1M71 24v1M71 46v1M71 60v1M71 87v1M71 130v2M72 0v5M72 25v1M72 33v1M72 40v1M72 54v1M72 68v1M72 98v1M72 101v2M72 105v1M72 119v1M72 133v4M73 14v2M73 26v1M73 40v1M73 61v1M73 82v1M73 116v1M74 16v3M74 48v1M74 51v1M74 57v1M74 65v1M74 73v1M74 77v1M74 91v1M75 28v1M75 78v2M75 90v1M75 105v1M76 36v1M76 44v1M76 58v1M76 61v1M76 72v1M76 100v1M76 117v1M77 11v6M77 47v1M77 65v1M77 90v1M77 95v1M77 99v1M77 101v1M77 115v10M78 19v1M78 24v1M78 35v1M78 37v1M78 76v1M78 82v1M78 109v4M78 123v1M79 6v1M79 23v2M79 41v1M79 87v1M79 89v1M79 93v1M79 95v1M79 99v1M79 102v1M79 127v1M80 11v4M80 20v2M80 47v1M80 69v1M80 78v1M80 86v1M80 90v1M80 118v2M81 30v1M81 34v1M81 80v2M81 96v1M81 99v2M81 131v3M82 30v2M82 55v1M82 66v1M82 75v1M82 111v1M83 10v2M83 57v1M83 68v1M83 97v1M83 110v1M83 121v1M84 25v1M84 49v1M84 51v1M84 58v1M84 90v1M84 107v1M84 122v2M85 16v2M85 103v4M86 17v7M86 37v1M86 50v1M86 91v8M86 122v1M87 33v2M87 52v3M87 83v1M87 86v1M87 101v1M87 104v1M87 110v1M87 127v2M88 4v2M88 23v2M88 54v2M88 59v1M88 76v1M88 84v1M88 89v1M88 125v1M89 36v1M89 52v1M89 54v1M89 70v2M90 35v1M90 80v1M90 106v1M90 114v4M91 15v1M91 26v1M91 65v1M91 70v1M91 91v1M91 95v1M92 27v1M92 37v1M92 46v1M92 71v1M92 73v1M92 77v1M92 100v1M92 120v1M93 12v1M93 17v1M93 41v2M93 53v1M93 79v1M93 109v1M94 20v1M94 38v3M94 48v2M94 53v1M94 57v1M94 59v1M94 80v1M94 90v2M94 106v1M94 113v3M94 126v1M95 53v1M95 66v1M95 71v1M95 79v1M95 93v2M95 96v1M95 116v1M95 131v4M96 5v3M96 37v1M96 44v1M96 50v1M96 73v2M96 90v4M96 96v2M96 99v2M97 16v1M97 45v1M97 78v1M97 121v1M98 42v1M98 51v1M98 77v1M98 87v1M98 93v1M98 111v2M99 18v1M99 21v1M99 39v1M99 48v1M99 58v1M99 61v1M99 68v1M99 124v1M100 18v2M100 29v1M100 53v1M100 70v1M100 85v1M100 122v1M101 13v1M101 76v1M101 85v1M101 92v1M102 20v5M102 30v1M102 36v1M102 38v1M102 56v2M102 71v1M102 82v1M102 103v1M103 8v1M103 25v1M103 30v1M103 35v1M103 41v1M103 62v1M103 81v1M103 106v1M103 109v1M103 120v1M104 5v4M104 28v2M104 36v1M104 39v1M104 64v1M104 84v3M104 92v2M104 103v1M104 117v1M105 22v1M105 43v2M105 59v2M105 62v1M105 66v1M105 129v4M106 36v1M106 54v1M106 99v2M106 105v5M106 125v1M107 5v2M107 23v1M107 34v1M107 42v1M107 49v1M107 56v1M107 85v1M107 94v1M107 101v1M107 103v5M108 23v1M108 80v1M108 110v1M109 40v1M109 49v1M109 54v2M109 70v1M109 79v1M109 107v1M110 3v3M110 32v1M110 43v1M110 70v1M110 72v1M110 99v1M110 105v1M111 15v2M111 52v2M111 62v1M111 64v1M111 84v1M112 6v2M112 27v1M112 61v1M112 71v1M112 96v1M112 100v1M112 109v1M112 120v1M113 26v2M113 29v5M113 38v3M113 48v1M113 86v1M113 110v1M114 24v5M114 40v1M114 47v1M114 69v1M114 71v1M114 74v1M114 79v1M114 83v1M114 88v1M114 101v1M114 123v1M115 11v2M115 22v3M115 38v6M115 46v1M115 54v1M115 63v1M115 65v1M115 76v1M115 97v1M115 101v2M115 121v2M116 0v7M116 19v1M116 26v1M116 31v1M116 55v1M116 61v1M116 63v1M116 65v1M116 77v1M116 88v1M116 120v4M116 130v7M117 0v2M117 57v1M117 79v1M117 82v2M117 87v1M117 98v1M117 106v1M117 111v1M117 117v1M117 131v6M118 16v1M118 25v1M118 64v2M118 80v1M118 85v1M118 104v1M118 127v3M119 7v4M119 14v2M119 38v3M119 51v2M119 59v3M119 84v1M119 91v2M119 97v1M120 19v2M120 26v1M120 42v1M120 72v1M120 82v1M120 90v1M120 97v1M121 16v2M121 82v1M121 99v1M121 109v1M122 9v2M122 25v2M122 69v1M122 73v1M122 78v1M122 81v1M122 84v1M123 14v6M123 23v1M123 46v2M123 61v1M124 22v1M124 32v1M124 54v1M124 61v1M124 82v1M124 125v1M125 40v1M125 46v1M125 59v3M125 66v1M125 100v1M125 119v1M126 0v12M126 18v6M126 33v3M126 41v1M126 54v1M126 73v3M126 91v2M126 104v3M126 113v1M126 132v5M127 0v7M127 12v2M127 33v1M127 46v1M127 48v1M127 60v2M127 68v4M127 93v2M127 101v1M127 105v1M127 135v2M128 5v5M128 38v1M128 45v1M128 65v1M128 79v1M128 89v1M128 112v1M129 49v1M129 53v1M129 60v1M129 82v1M129 96v1M129 103v1M129 113v1M130 16v2M130 31v2M130 45v1M130 58v1M130 63v2M130 70v1M130 73v1M130 83v1M130 121v1M131 27v1M131 40v1M131 79v2M131 87v1M131 89v1M131 111v1M132 21v2M132 34v2M132 61v1M132 65v2M132 69v1M132 90v1M132 93v1M132 104v1M133 5v2M133 18v1M133 25v1M133 34v1M133 49v1M133 69v1M133 77v2M133 82v1M133 93v1M133 103v2M133 108v2M133 111v2M133 119v1M134 26v1M134 33v2M134 41v1M134 65v1M134 104v4M135 9v3M135 28v1M135 51v1M135 75v1M135 78v1M135 82v1M135 86v1M135 95v1M135 114v1M136 31v3M136 38v1M136 42v1M136 51v1M136 54v1M136 63v1M136 75v1M136 100v2M136 104v2M137 32v1M137 64v2M137 77v1M137 87v1M137 99v1M137 116v1M137 124v2M138 5v2M138 44v1M138 49v1M138 71v1M138 76v1M138 82v1M138 105v1M138 117v1M139 6v3M139 29v1M139 42v1M139 52v1M139 55v2M139 106v1M139 109v1M139 117v1M140 18v2M140 36v1M140 47v1M140 54v1M140 59v1M140 74v1M140 81v2M140 86v1M140 88v1M140 91v2M140 115v1M141 14v2M141 19v6M141 32v1M141 36v1M141 48v1M141 65v1M141 76v3M141 88v1M141 93v1M141 121v1M142 18v1M142 57v1M143 19v1M143 37v1M143 52v1M143 56v2M143 74v1M143 78v3M143 86v1M143 90v1M143 95v1M143 105v1M143 113v1M144 43v1M144 53v1M144 55v1M144 62v1M144 75v2M144 110v1M144 119v1M144 130v3M145 6v5M145 15v2M145 26v1M145 43v1M145 51v1M145 58v1M145 62v1M145 75v3M145 85v1M145 106v1M146 31v1M146 79v1M146 95v1M146 112v1M146 118v1M147 9v3M147 20v1M147 35v1M147 38v1M147 66v1M147 78v2M148 23v1M148 29v1M148 39v1M148 47v1M148 49v1M148 53v1M148 73v1M148 78v2M148 81v7M148 92v1M148 97v1M149 41v1M149 44v1M149 74v1M149 82v1M149 88v1M149 102v1M149 116v1M150 18v1M150 24v1M150 29v1M150 47v1M150 51v2M150 75v1M150 84v1M150 89v1M150 102v1M150 129v3M151 0v13M151 54v1M151 63v1M151 69v1M151 81v1M151 123v3M151 132v5M152 26v1M152 34v1M152 39v1M152 43v1M152 74v1M152 86v1M152 111v1M153 32v1M153 51v1M153 53v1M153 58v1M153 60v1M153 79v1M153 90v1M154 26v1M154 34v1M154 46v1M154 100v1M155 30v1M155 38v1M155 49v1M155 75v1M155 82v1M155 85v1M156 108v3M156 118v3M157 35v2M157 55v1M158 87v1M158 90v1M158 115v2M159 74v2M159 82v1M160 29v1M160 36v1M160 42v2" stroke="#0000e7"/>
<path d="M3 58v1M3 63v2M3 97v1M3 99v1M3 108v1M4 96v1M4 99v2M5 60v3M5 96v1M5 101v1M6 19v1M6 25v1M6 35v1M6 41v1M6 84v1M6 93v1M6 95v1M6 101v1M6 122v3M7 19v5M7 48v1M7 51v1M7 58v1M7 97v1M8 9v2M8 26v2M8 35v1M8 38v1M8 46v1M8 57v1M8 99v1M9 0v5M9 18v1M9 27v1M9 38v1M9 45v1M9 66v1M9 93v1M9 110v1M9 118v1M9 131v6M10 19v1M10 30v1M10 49v1M10 52v1M10 65v1M10 77v1M10 80v1M10 100v1M10 104v1M10 111v1M10 115v2M11 31v1M11 73v1M11 80v1M11 92v1M11 109v1M11 120v1M12 33v1M12 48v1M12 79v1M12 83v1M12 111v1M13 30v4M13 45v1M13 109v1M13 128v2M14 36v1M14 41v1M14 88v1M14 94v1M14 97v1M14 105v1M14 119v1M15 32v1M15 37v1M15 53v1M15 85v1M16 40v1M16 43v1M16 51v1M16 69v1M16 79v1M16 90v1M16 121v2M17 0v4M17 13v3M17 18v1M17 32v1M17 41v1M17 43v1M17 87v1M17 93v1M17 96v1M17 101v3M17 115v1M17 129v8M18 31v1M18 39v1M18 44v1M18 50v1M18 59v1M18 66v1M18 79v1M18 93v1M18 108v1M19 6v8M19 19v9M19 36v1M19 46v3M19 54v1M19 60v1M19 72v1M19 101v1M20 30v1M20 42v1M20 65v1M20 93v1M20 101v1M20 107v1M20 109v3M20 114v2M20 122v2M21 81v1M21 86v1M21 90v1M21 120v4M22 10v3M22 19v4M22 28v1M22 52v1M22 58v1M22 93v1M22 117v1M23 19v2M23 32v1M23 40v1M23 43v1M23 64v1M23 77v1M23 109v1M24 0v5M24 17v2M24 28v1M24 32v1M24 38v5M24 62v3M24 83v3M24 91v2M24 133v4M25 16v1M25 26v1M25 44v1M25 61v1M25 63v1M25 77v1M25 80v1M25 87v1M25 110v1M25 127v1M26 48v1M26 51v1M26 54v1M26 63v1M26 73v1M26 77v1M26 81v1M26 87v1M26 101v1M26 126v1M27 16v1M27 29v1M27 35v1M27 51v2M27 120v3M28 24v1M28 39v1M28 45v2M28 72v5M28 84v1M28 120v1M29 16v1M29 27v1M29 62v1M29 87v1M29 91v2M29 128v2M30 13v2M30 23v7M30 41v3M30 57v1M30 63v1M30 94v2M31 11v3M31 39v1M31 44v1M31 68v1M31 113v1M31 130v5M32 14v2M32 28v1M32 42v2M32 73v1M33 7v3M33 17v1M33 35v1M33 40v1M33 55v1M33 58v1M33 99v1M33 102v2M34 28v3M34 36v1M34 45v1M34 54v1M34 72v1M34 84v1M34 107v2M34 117v2M35 16v1M35 35v1M35 52v1M35 58v1M35 71v1M35 74v1M35 78v1M35 89v1M35 95v1M35 108v1M36 18v2M36 38v1M36 43v1M36 46v1M36 78v1M36 90v1M36 101v4M36 122v3M37 18v2M37 21v2M37 29v1M37 36v1M37 56v1M37 80v1M37 96v2M37 117v1M38 51v3M38 55v1M38 66v1M38 96v1M38 110v1M39 26v6M39 47v1M39 52v1M39 62v1M39 65v1M39 70v1M39 77v1M39 83v1M39 92v1M39 106v3M40 10v1M40 20v1M40 40v2M40 59v1M40 67v1M40 83v1M40 97v4M41 11v4M41 34v1M41 46v1M41 52v1M41 95v1M41 109v1M41 117v1M42 13v1M42 56v2M42 70v2M42 74v1M42 76v1M42 81v2M42 88v1M42 91v1M42 95v1M43 46v3M43 50v1M43 77v1M43 83v1M43 95v1M44 23v1M44 55v1M44 88v1M44 91v1M44 111v1M44 125v1M45 0v3M45 15v1M45 39v1M45 50v3M45 68v1M45 96v1M45 113v1M45 130v7M46 6v6M46 59v1M46 81v2M46 87v2M46 97v1M46 102v1M46 121v2M47 8v4M47 18v2M47 101v1M48 11v1M48 30v1M48 33v1M48 40v1M48 54v1M48 87v1M48 90v1M48 126v1M49 7v2M49 19v1M49 46v1M49 50v1M49 55v1M49 59v1M49 79v1M50 14v1M50 46v1M50 78v1M50 85v1M51 19v2M51 46v1M51 60v2M51 64v1M51 66v1M51 108v1M52 44v1M52 52v2M52 61v1M52 71v1M52 103v1M53 25v1M53 29v1M53 51v1M53 78v1M53 80v1M53 83v1M53 87v1M53 124v3M54 17v1M54 35v3M54 50v1M54 55v3M54 65v1M54 75v1M55 27v1M55 33v1M55 52v1M55 58v1M55 97v1M55 118v1M56 37v1M56 49v4M56 63v1M56 71v1M56 80v1M56 101v1M56 120v1M57 0v4M57 21v1M57 39v1M57 47v1M57 52v1M57 65v1M57 133v4M58 20v3M58 47v1M58 50v1M58 53v3M58 65v1M58 90v1M58 93v1M58 105v1M58 114v1M58 122v1M59 26v1M59 40v1M59 53v1M59 77v1M59 87v1M59 112v1M59 132v3M60 15v2M60 53v1M60 55v1M60 58v1M60 66v1M60 107v1M61 0v7M61 27v1M61 63v1M61 65v1M61 96v1M61 133v4M62 2v6M62 22v4M62 58v1M62 70v1M62 76v1M62 83v1M62 104v1M62 111v1M62 130v4M63 29v1M63 33v1M63 53v1M63 56v1M63 79v1M63 82v1M63 85v1M63 103v1M64 19v1M64 24v1M64 41v2M64 49v1M64 60v2M64 71v1M64 88v1M64 92v2M64 96v1M64 109v1M64 122v2M65 16v1M65 21v1M65 47v1M65 67v1M65 74v1M65 85v2M65 101v1M65 103v1M66 23v1M66 28v2M66 33v1M66 41v1M66 50v1M66 65v1M66 98v1M66 103v1M66 119v1M67 14v2M67 22v1M67 50v1M67 52v1M67 54v1M67 70v1M67 77v1M67 90v1M67 98v1M67 101v2M67 107v2M68 21v1M68 31v1M68 33v1M68 51v1M68 68v3M68 103v1M68 119v1M68 126v1M69 38v1M69 60v1M69 62v1M69 66v1M69 80v1M69 98v1M69 114v1M69 123v2M70 17v4M70 27v1M70 52v2M70 61v1M70 72v1M70 77v1M71 16v1M71 23v1M71 40v1M71 47v1M71 62v1M71 74v1M71 79v1M71 88v1M71 99v1M71 116v1M71 129v1M72 5v3M72 24v1M72 34v1M72 39v1M72 55v1M72 70v1M72 76v2M72 90v1M72 99v2M72 118v1M73 16v1M73 32v1M73 43v1M73 75v1M73 88v1M73 115v1M74 14v2M74 19v7M74 47v1M74 52v1M74 80v1M74 113v2M75 22v1M75 31v1M75 74v1M75 77v1M75 80v1M75 93v1M75 101v1M76 37v1M76 62v1M76 66v1M77 17v1M77 46v1M77 51v1M77 81v1M77 83v1M77 100v1M78 18v1M78 34v1M78 38v1M78 67v1M78 77v1M78 89v1M78 103v1M78 124v4M79 7v1M79 22v1M79 39v1M79 53v1M79 126v1M80 0v11M80 22v1M80 37v1M80 46v1M80 66v1M80 80v1M80 111v1M80 120v3M80 130v7M81 0v5M81 46v1M81 68v1M81 72v1M81 82v1M81 95v1M81 101v1M81 120v1M81 134v3M82 28v2M82 32v1M82 56v1M82 79v1M82 82v1M82 97v1M82 112v1M83 12v1M83 29v2M83 39v1M83 46v1M83 61v1M83 75v1M83 84v1M83 96v1M83 98v1M83 114v1M83 120v1M84 26v1M84 43v1M84 46v1M84 66v1M84 89v1M84 95v2M84 104v1M84 108v1M84 120v2M85 12v4M85 35v1M85 62v1M85 68v1M85 78v1M85 85v1M85 92v1M85 107v8M86 29v1M86 52v1M86 59v1M86 61v1M86 67v1M86 89v2M86 111v1M86 120v2M87 31v2M87 35v1M87 55v3M87 82v1M87 105v1M87 108v2M87 129v3M88 6v1M88 25v1M88 40v1M88 42v1M88 56v1M88 77v1M88 83v1M88 108v1M89 23v3M89 35v1M89 99v1M90 21v3M90 32v1M90 50v1M90 57v1M90 67v1M90 70v1M90 113v1M90 118v2M91 13v2M91 57v1M91 63v1M91 79v1M91 83v1M91 86v1M91 114v1M92 59v2M92 72v1M92 109v1M92 113v1M92 119v1M93 10v2M93 18v1M93 43v1M93 55v1M93 70v1M93 78v1M93 82v1M93 113v1M94 19v1M94 27v1M94 36v2M94 65v1M94 83v1M94 88v2M94 99v1M94 105v1M94 127v2M95 15v1M95 44v1M95 48v1M95 52v1M95 54v1M95 80v1M95 109v1M95 117v1M95 128v3M96 0v5M96 22v1M96 36v1M96 45v2M96 53v1M96 59v1M96 98v1M96 101v1M96 108v1M96 112v1M96 133v4M97 34v1M97 37v1M97 46v1M97 53v1M97 56v1M97 65v1M97 69v1M97 73v1M97 76v2M97 84v1M97 91v1M97 120v1M98 66v1M98 91v1M98 110v1M98 113v1M99 17v1M99 38v1M99 54v4M99 88v1M99 116v1M99 125v1M100 20v1M100 52v1M100 54v1M100 58v1M100 62v2M100 82v1M100 100v1M100 112v1M100 121v1M101 12v1M101 21v1M101 30v1M101 35v1M101 41v3M101 62v1M101 65v2M101 91v1M101 104v1M102 19v1M102 31v1M102 35v1M102 47v1M103 9v2M103 31v1M103 34v1M103 70v1M103 96v3M103 110v1M103 119v1M104 9v3M104 27v1M104 37v2M104 63v1M104 82v2M104 87v1M104 91v1M104 106v1M104 116v1M105 23v2M105 31v5M105 58v1M105 61v1M105 104v1M105 126v3M106 26v1M106 57v1M106 64v1M106 86v1M106 89v1M106 96v3M106 126v1M107 7v1M107 22v1M107 35v1M107 38v1M107 43v1M107 46v1M107 54v1M107 70v1M107 72v1M107 80v1M107 100v1M107 108v1M107 121v1M108 22v1M108 32v1M108 65v1M108 67v1M108 79v1M108 81v1M108 97v1M108 101v2M108 109v1M108 111v2M109 23v1M109 28v1M109 53v1M109 56v1M109 66v1M109 73v1M109 84v2M109 94v1M110 6v2M110 61v1M110 69v1M110 96v1M111 13v2M111 54v1M111 63v1M111 70v1M111 91v1M111 97v1M111 108v1M112 8v1M112 34v1M112 45v1M112 80v1M112 97v3M112 110v1M112 119v1M113 25v1M113 44v4M113 49v1M113 55v1M113 75v1M113 111v2M114 67v1M114 70v1M114 84v2M114 98v1M114 121v2M115 8v3M115 44v2M115 62v1M115 73v1M115 123v1M116 20v2M116 24v2M116 54v1M116 64v1M116 118v2M116 124v6M117 2v4M117 50v1M117 94v1M117 99v1M117 105v1M117 112v2M117 115v2M118 0v6M118 13v3M118 59v1M118 77v1M118 81v1M118 91v1M118 94v1M118 97v1M118 118v1M118 130v7M119 11v3M119 24v1M119 32v1M119 71v1M119 108v1M120 35v2M120 53v2M120 67v1M120 73v1M120 83v1M120 93v1M120 117v1M121 14v2M121 64v1M121 66v1M121 81v1M121 83v1M121 98v1M121 110v1M122 11v3M122 23v2M122 37v1M122 49v5M122 66v1M122 74v1M122 109v1M123 24v1M123 40v1M123 48v2M123 60v1M123 94v1M123 98v1M123 113v1M124 28v1M124 44v1M124 72v1M124 74v1M124 126v2M125 32v1M125 64v1M125 80v1M125 86v1M125 118v1M126 60v1M126 83v1M126 99v1M126 114v1M126 127v5M127 14v2M127 37v1M127 41v1M127 47v1M127 59v1M127 92v1M127 95v1M127 100v1M127 106v1M127 132v3M128 10v4M128 54v1M128 72v1M128 78v1M128 95v1M128 111v1M129 40v1M129 48v1M129 54v6M129 80v1M129 95v1M129 104v1M129 112v1M130 15v1M130 37v1M130 97v1M130 103v1M130 112v1M130 122v1M131 39v1M131 46v1M131 62v1M131 105v1M132 23v2M132 33v1M132 44v1M132 56v1M132 60v1M132 78v1M132 88v2M133 7v2M133 17v1M133 33v1M133 39v1M133 45v1M133 65v1M133 85v1M133 96v1M133 102v1M133 105v3M133 113v1M133 118v1M134 27v3M134 32v1M134 42v1M134 91v1M134 98v1M135 12v1M135 22v1M135 32v1M135 35v1M135 63v1M135 76v2M135 79v3M136 39v1M136 56v1M136 67v1M136 73v2M136 102v2M137 37v1M137 43v1M137 47v1M137 55v1M137 72v1M137 88v1M137 98v1M137 104v1M137 126v1M138 7v2M138 34v1M138 45v1M138 52v1M138 57v1M138 83v1M138 87v1M138 106v1M139 0v6M139 38v1M139 107v2M139 118v1M139 132v5M140 20v2M140 33v1M140 42v1M140 75v1M140 87v1M140 93v1M140 95v3M141 16v3M141 25v1M141 31v1M141 41v1M141 61v2M141 75v1M141 89v1M141 92v1M141 98v1M141 119v2M142 19v1M142 28v1M142 55v2M142 61v1M142 86v1M142 95v1M142 106v1M143 17v2M143 38v1M143 58v1M143 65v1M143 75v3M143 81v1M143 98v1M143 114v1M144 19v1M144 26v1M144 84v1M144 88v1M144 93v1M144 106v4M144 120v1M144 127v3M145 11v4M145 27v1M145 30v1M145 34v1M145 59v3M145 92v1M145 97v1M145 105v1M146 21v1M146 33v1M146 85v1M146 94v1M146 117v1M147 0v9M147 21v1M147 29v1M147 36v2M147 47v1M147 59v1M147 83v1M147 108v1M147 116v2M147 133v4M148 24v1M148 28v1M148 40v1M148 74v4M148 93v4M149 19v1M149 29v2M149 52v1M149 61v1M149 75v3M149 83v2M149 87v1M149 103v1M149 115v1M150 0v5M150 16v2M150 25v4M150 41v1M150 58v1M150 61v1M150 72v1M150 79v1M150 132v5M151 51v1M151 61v1M151 78v1M151 84v1M151 126v6M152 40v1M152 42v1M152 48v1M152 63v1M152 65v1M152 70v1M152 78v1M152 101v1M152 110v1M153 33v1M153 52v1M153 59v1M153 73v1M153 78v1M153 100v1M153 117v1M154 27v1M154 32v2M154 47v1M154 53v1M154 74v1M154 91v1M155 31v2M155 36v2M155 59v1M155 83v2M155 91v1M155 100v1M156 32v1M156 83v3M156 111v7M157 56v2M158 88v2M159 44v3M159 83v1M159 87v1" stroke="#0000ff"/>
<path d="M3 59v1M3 61v2M3 98v1M4 41v1M4 44v1M4 97v2M5 97v1M5 100v1M6 20v5M6 36v5M6 77v1M6 81v1M6 85v1M6 94v1M6 102v1M6 105v1M7 92v1M8 7v2M8 36v2M8 44v2M8 90v1M8 111v1M9 5v3M9 16v2M9 28v1M9 37v1M9 46v1M9 50v1M9 64v1M9 79v1M9 83v1M9 88v1M9 99v1M9 103v1M9 117v1M10 20v1M10 45v1M10 48v1M10 62v1M10 78v2M10 103v1M10 112v3M11 54v1M11 60v1M11 64v1M11 66v1M11 87v1M11 110v1M11 119v1M12 34v2M12 71v1M12 80v1M12 93v4M12 103v1M12 110v1M13 50v1M13 56v1M13 63v1M13 90v1M13 95v2M13 115v1M13 126v2M14 20v1M14 40v1M14 47v1M14 52v1M14 89v1M14 93v1M14 120v1M15 52v1M15 80v1M16 34v1M16 67v1M16 70v2M16 76v3M16 96v1M16 107v1M16 120v1M17 4v9M17 19v1M17 28v1M17 44v1M17 48v1M17 60v1M17 65v1M17 97v1M17 99v2M17 104v1M18 24v1M18 37v2M18 74v1M18 82v1M18 86v1M18 94v1M19 14v5M19 28v2M19 35v1M19 79v1M19 95v1M19 100v1M20 31v6M20 41v1M20 51v1M20 54v1M20 96v1M20 108v1M20 116v6M21 78v3M21 87v1M21 89v1M22 7v3M22 23v5M22 44v2M22 47v1M22 62v1M22 73v1M22 77v1M22 94v1M22 111v1M22 118v1M23 21v1M23 41v2M23 55v1M23 103v1M23 108v1M24 5v12M24 29v3M24 106v1M24 127v6M25 17v1M25 45v3M25 53v1M25 78v2M25 88v1M25 94v1M25 111v1M25 126v1M26 33v1M26 45v1M26 49v2M26 58v1M26 99v2M26 107v1M26 125v1M27 17v1M27 28v1M27 41v1M27 61v1M27 70v2M27 75v1M27 90v3M27 96v1M27 109v2M27 117v3M28 17v1M28 25v1M28 29v1M28 44v1M28 52v1M28 62v3M28 77v7M28 85v1M28 121v1M29 17v4M29 33v1M29 56v1M29 61v1M29 80v2M29 100v1M29 108v1M29 127v1M30 15v3M30 20v3M30 75v1M30 80v2M30 86v1M31 14v1M31 27v1M31 43v1M31 49v1M31 67v1M31 69v1M31 82v1M31 114v1M31 128v2M32 16v1M32 44v1M32 55v1M32 91v1M33 10v7M33 26v1M33 41v1M33 47v1M33 56v2M33 63v1M33 65v1M33 100v2M34 41v1M34 62v1M34 82v2M34 109v3M34 114v3M35 17v2M35 29v1M35 36v1M35 42v4M35 48v4M35 62v1M35 83v1M35 88v1M35 107v1M36 20v1M36 37v1M36 44v2M36 63v1M36 66v1M36 76v2M36 100v1M36 105v4M36 118v4M37 20v1M37 30v2M37 42v1M37 48v1M37 72v1M37 95v1M37 98v1M37 116v1M38 32v1M38 54v1M38 58v1M38 73v1M38 81v1M38 97v5M39 48v1M39 61v1M39 63v2M39 81v2M39 88v1M40 11v2M40 19v1M40 24v1M40 39v1M40 42v2M40 47v1M40 53v1M40 75v1M41 35v2M41 42v1M41 45v1M41 63v1M41 84v1M41 104v1M41 110v1M41 116v1M42 11v2M42 55v1M42 58v4M42 75v1M42 89v2M42 107v1M42 115v1M43 0v7M43 24v1M43 40v1M43 44v2M43 51v1M43 57v1M43 73v1M43 76v1M43 89v1M43 103v1M43 108v1M43 125v12M44 70v2M44 126v1M45 3v5M45 13v2M45 23v1M45 38v1M45 40v1M45 45v1M45 61v1M45 64v1M45 78v1M45 112v1M46 12v3M46 33v1M46 64v1M46 66v1M46 93v1M46 103v2M46 119v2M47 12v6M47 50v1M47 54v1M47 57v1M47 62v1M47 64v1M47 90v1M48 29v1M48 34v1M48 39v1M48 55v1M48 64v1M48 70v1M48 81v1M48 86v1M48 88v2M48 125v1M49 9v2M49 18v1M49 24v1M49 34v1M49 44v1M49 47v3M49 65v1M49 81v1M50 27v1M50 51v2M50 55v1M50 75v1M50 77v1M50 80v1M50 104v1M50 110v1M50 115v1M51 21v3M51 32v1M51 55v1M51 65v1M51 72v2M51 77v1M51 84v1M51 91v1M51 107v1M52 20v1M52 31v4M52 47v1M52 51v1M52 54v2M52 67v1M52 81v1M52 88v1M52 95v1M52 102v1M53 0v4M53 24v1M53 30v1M53 35v1M53 57v1M53 61v1M53 71v1M53 77v1M53 81v2M53 106v1M53 111v1M53 121v3M53 127v10M54 51v4M54 58v1M54 87v4M55 28v1M55 32v1M55 38v3M55 80v2M55 89v1M55 116v2M56 44v1M56 57v1M56 72v1M56 91v1M56 97v1M57 4v3M57 14v2M57 29v2M57 51v1M57 73v1M57 77v1M57 93v1M57 96v1M57 99v1M57 108v1M57 113v1M57 119v1M58 19v1M58 43v1M58 48v2M58 60v1M58 85v1M58 91v2M58 106v1M58 113v1M58 123v1M59 18v1M59 31v1M59 39v1M59 66v1M59 72v1M59 79v1M59 90v1M59 106v1M59 113v1M59 130v2M60 17v2M60 35v1M60 45v1M60 95v2M61 28v1M61 53v1M61 64v1M61 82v2M61 103v1M61 106v1M61 129v4M62 8v4M62 20v2M62 26v1M62 74v1M62 105v1M62 110v1M63 40v2M63 54v2M63 65v1M63 80v2M63 93v1M63 111v1M64 18v1M64 32v2M64 40v1M64 43v2M64 52v1M64 59v1M64 67v1M64 80v1M64 105v4M64 124v2M65 15v1M65 22v1M65 28v1M65 33v1M65 72v1M65 77v1M65 81v1M65 90v1M65 100v1M65 104v1M66 22v1M66 48v1M66 58v1M66 60v1M66 64v1M66 73v3M66 85v1M66 104v1M66 126v1M67 11v3M67 42v1M67 53v1M67 79v1M67 95v3M67 103v4M67 109v2M68 26v1M68 39v1M68 48v3M68 56v1M68 71v1M68 78v1M68 88v1M68 106v1M68 117v2M68 127v1M69 23v1M69 52v1M69 63v3M69 73v1M69 83v1M69 89v1M69 93v1M69 115v8M70 15v2M70 21v2M70 25v2M70 33v1M70 40v1M70 45v1M70 54v1M70 58v1M70 86v1M70 91v1M70 102v4M70 111v2M70 122v2M71 17v2M71 21v2M71 57v1M71 89v1M71 127v2M72 8v2M72 23v1M72 35v4M72 56v1M72 106v1M73 17v1M73 25v1M73 39v1M73 58v1M73 62v1M73 67v1M73 76v1M73 80v1M73 89v1M73 105v2M74 13v1M74 26v2M74 53v1M74 56v1M74 60v1M74 74v1M74 76v1M74 89v1M74 92v1M74 96v3M74 112v1M74 115v1M75 16v1M75 27v1M75 47v1M75 66v1M75 75v2M75 89v1M75 106v1M76 38v2M76 43v1M76 48v1M76 57v1M76 104v1M76 116v1M77 18v2M77 30v1M77 33v1M77 45v1M77 52v1M77 74v1M77 87v1M77 94v1M78 0v6M78 16v2M78 25v1M78 55v1M78 81v1M78 102v1M78 128v9M79 8v1M79 21v1M79 25v1M79 90v1M79 92v1M79 96v1M79 98v1M79 108v1M79 112v1M80 23v1M80 36v1M80 38v1M80 52v1M80 59v1M80 70v1M80 95v1M80 110v1M80 123v7M81 5v2M81 29v1M81 35v1M81 57v1M81 67v1M81 69v1M81 83v3M81 94v1M81 102v3M82 16v12M82 33v1M82 54v1M82 57v1M82 76v1M82 88v2M82 96v1M82 113v2M83 13v2M83 42v1M83 49v1M83 78v1M83 83v1M83 115v1M83 118v2M84 27v1M84 48v1M84 91v1M84 97v1M84 109v1M84 117v3M85 0v12M85 47v1M85 56v1M85 61v1M85 76v1M85 102v1M85 115v3M85 128v9M86 40v1M86 63v1M86 68v1M86 87v2M86 112v2M86 119v1M87 0v4M87 30v1M87 36v1M87 43v3M87 51v1M87 58v1M87 69v1M87 81v1M87 87v1M87 106v2M87 132v5M88 7v1M88 22v1M88 57v2M88 62v1M88 78v5M88 101v1M88 124v1M89 21v2M89 26v2M89 34v1M89 41v1M89 51v1M89 74v1M89 104v1M89 117v5M90 19v2M90 24v1M90 31v1M90 36v1M90 40v1M90 53v1M90 63v1M90 83v1M90 107v1M90 112v1M90 120v1M91 12v1M91 27v1M91 64v1M91 78v1M91 80v1M91 96v1M91 107v1M91 115v1M92 28v1M92 36v1M92 47v1M92 78v1M92 98v1M92 114v2M92 117v2M93 8v2M93 19v1M93 26v1M93 30v1M93 40v1M93 44v1M93 64v1M93 114v1M94 28v2M94 34v2M94 54v1M94 56v1M94 79v1M94 84v4M94 100v1M94 129v3M95 16v1M95 51v1M95 72v1M95 78v1M95 97v1M95 118v3M95 125v3M96 35v1M96 47v3M96 60v1M96 75v1M96 81v1M96 102v1M96 113v1M96 130v3M97 17v1M97 29v1M97 35v2M97 94v1M97 103v1M98 41v1M98 52v1M98 56v2M98 64v1M98 67v1M98 75v2M98 80v1M98 84v1M98 88v1M98 90v1M98 94v1M98 100v2M98 109v1M98 114v1M99 15v2M99 22v1M99 49v1M99 53v1M99 64v1M99 84v1M99 89v2M99 104v3M99 126v2M100 21v1M100 28v1M100 33v1M100 46v3M100 71v1M100 86v5M100 113v1M100 119v2M101 11v1M101 40v1M101 44v1M101 81v1M101 86v1M101 90v1M102 18v1M102 32v3M102 39v1M102 49v1M102 58v1M102 61v1M102 67v1M102 79v1M102 83v1M102 85v1M102 104v1M102 110v1M102 114v1M103 11v1M103 24v1M103 32v2M103 42v1M103 53v1M103 77v1M103 82v1M103 95v1M103 99v1M103 105v1M103 111v1M103 118v1M104 12v5M104 22v5M104 49v1M104 53v1M104 56v1M104 80v2M104 88v3M104 94v1M104 102v1M104 107v1M104 115v1M105 25v6M105 36v1M105 42v1M105 45v1M105 81v1M105 124v2M106 53v1M106 71v1M106 78v2M106 85v1M106 90v2M106 93v3M106 127v1M107 8v2M107 21v1M107 36v2M107 44v2M107 57v1M107 75v1M107 77v1M107 83v1M107 96v1M107 109v1M108 0v2M108 20v2M108 42v2M108 66v1M108 82v1M108 93v1M108 98v3M108 103v1M108 107v2M108 113v1M108 123v14M109 0v4M109 22v1M109 39v1M109 50v3M109 65v1M109 71v2M109 80v2M109 83v1M109 93v1M109 134v3M110 8v2M110 20v3M110 31v1M110 33v1M110 41v1M110 89v1M110 104v1M111 0v13M111 58v1M111 83v1M111 96v1M111 130v7M112 9v1M112 26v1M112 49v1M112 92v1M112 111v1M112 118v1M113 0v6M113 54v1M113 66v1M113 72v1M113 74v1M113 76v1M113 95v1M113 113v1M113 124v13M114 41v1M114 46v1M114 55v1M114 66v1M114 102v1M114 120v1M115 0v8M115 55v1M115 59v3M115 66v3M115 82v1M115 93v1M115 96v1M115 124v13M116 22v2M116 32v1M116 56v1M116 70v1M116 76v1M116 89v1M116 117v1M117 6v2M117 28v2M117 38v1M117 47v1M117 54v1M117 64v1M117 71v1M117 100v1M117 104v1M117 114v1M118 6v7M118 26v1M118 34v1M118 37v1M118 47v1M118 95v2M118 105v1M118 117v1M119 90v1M119 93v1M119 96v1M120 44v1M120 84v1M120 96v1M121 11v3M121 41v1M121 49v1M121 75v1M121 80v1M121 111v1M122 14v3M122 20v3M122 38v1M122 46v3M122 54v1M122 70v1M122 72v1M122 77v1M122 82v2M122 93v1M122 96v1M123 50v1M123 59v1M123 72v1M123 84v1M124 21v1M124 29v3M124 62v1M124 73v1M124 78v1M124 102v1M124 128v2M125 33v1M125 39v1M125 47v1M125 65v1M125 104v1M125 117v1M126 42v1M126 51v1M126 115v2M126 122v5M127 16v2M127 21v4M127 38v1M127 52v1M127 62v1M127 67v1M127 73v1M127 96v1M127 99v1M127 107v2M127 130v2M128 14v2M128 34v1M128 44v1M128 59v1M128 80v1M128 88v1M128 105v2M128 110v1M129 74v1M129 83v1M129 94v1M129 105v1M129 111v1M130 13v2M130 52v1M130 71v2M130 84v1M130 111v1M130 123v1M131 28v1M131 35v4M131 53v3M131 81v1M131 100v1M131 106v1M131 109v2M132 25v2M132 32v1M132 36v1M132 48v1M132 70v1M132 103v1M133 9v2M133 16v1M133 26v1M133 32v1M133 50v1M133 76v1M133 83v2M133 88v1M133 101v1M133 114v4M134 30v2M134 43v1M134 58v1M134 64v1M134 97v1M135 13v2M135 29v3M135 41v1M135 44v1M135 56v1M135 61v1M135 67v1M135 99v1M135 104v3M135 113v1M136 40v2M136 52v2M136 65v1M136 80v1M136 89v1M137 0v3M137 31v1M137 76v1M137 89v1M137 97v1M137 115v1M137 127v10M138 9v2M138 33v1M138 46v3M138 75v1M138 84v3M138 107v2M138 115v2M139 30v1M139 51v1M139 95v1M139 101v1M139 119v1M139 129v3M140 22v1M140 48v1M140 60v1M140 64v1M140 94v1M140 98v1M140 114v1M141 26v2M141 30v1M141 37v1M141 56v2M141 60v1M141 63v2M141 90v2M141 118v1M142 20v2M142 27v1M142 74v1M142 105v1M143 16v1M143 39v2M143 51v1M143 59v1M143 64v1M143 82v1M143 85v1M143 91v1M143 94v1M143 104v1M143 115v1M144 20v2M144 24v2M144 80v1M144 92v1M144 121v6M145 28v2M145 67v1M145 86v1M145 104v1M146 30v1M146 40v1M146 93v1M146 113v4M147 22v1M147 28v1M147 60v1M147 89v2M147 97v1M147 102v1M147 118v1M147 129v4M148 25v3M148 46v1M148 50v1M148 52v1M149 20v2M149 27v2M149 31v1M149 40v1M149 45v1M149 65v1M149 85v2M149 104v1M149 114v1M150 5v4M150 15v1M150 46v1M150 59v2M150 73v2M150 94v1M150 101v1M151 44v1M151 57v1M151 62v1M151 70v1M151 82v1M152 27v1M152 33v1M152 41v1M152 53v2M152 60v1M152 64v1M152 85v1M152 109v1M153 39v1M153 74v4M153 91v1M153 106v1M153 116v1M154 28v4M154 48v1M154 82v1M154 87v1M155 33v3M155 50v1M155 58v1M155 60v2M155 64v1M156 37v1M156 55v1M156 60v1M159 84v3M160 30v1M160 35v1" stroke="#0018ff"/>
<path d="M3 60v1M4 42v2M5 98v2M6 80v1M6 86v2M6 103v2M7 49v2M7 93v1M7 96v1M8 0v7M8 112v1M8 134v3M9 8v8M9 29v2M9 35v2M9 47v1M9 49v1M9 65v1M9 92v1M9 100v3M9 111v1M9 116v1M10 21v1M10 29v1M10 46v2M10 58v1M10 101v2M11 32v1M11 38v1M11 65v1M11 79v1M11 88v1M11 91v1M11 118v1M12 36v1M12 74v1M12 81v2M12 104v1M12 109v1M13 46v1M13 77v1M13 82v1M13 87v1M13 116v1M13 124v2M14 19v1M14 37v3M14 51v1M14 90v3M14 98v1M14 104v1M14 121v2M15 51v1M16 35v1M16 39v1M16 59v1M16 66v1M16 119v1M17 20v1M17 45v3M17 49v1M17 54v1M17 61v1M17 64v1M17 92v1M17 98v1M17 105v2M17 114v1M18 25v1M18 30v1M18 45v1M18 49v1M18 60v1M18 78v1M18 83v1M18 85v1M18 95v1M18 107v1M19 30v5M19 55v1M19 59v1M19 73v1M19 96v4M20 37v2M20 40v1M20 52v2M20 89v1M21 88v1M22 0v7M22 46v1M22 53v1M22 66v1M22 76v1M22 95v1M22 119v1M22 132v5M23 22v2M23 31v1M23 48v1M23 58v1M23 61v1M23 66v1M23 73v1M23 76v1M23 104v2M23 107v1M24 124v3M25 18v1M25 25v1M25 54v1M25 89v1M25 93v1M25 112v1M25 124v2M26 34v1M26 44v1M26 55v3M26 64v1M26 66v1M26 88v1M26 124v1M27 18v2M27 26v2M27 44v1M27 50v1M27 58v1M27 89v1M27 93v3M27 111v6M28 16v1M28 26v3M28 40v1M28 43v1M28 47v1M28 51v1M28 96v1M28 122v1M29 28v1M29 57v1M29 70v1M29 82v1M29 86v1M29 114v1M29 126v1M30 18v2M30 58v1M30 76v4M30 82v4M31 15v2M31 40v3M31 59v1M31 66v1M31 115v1M31 125v3M32 17v1M32 27v1M32 45v2M32 58v1M33 27v1M33 34v1M33 42v1M33 64v1M34 37v1M34 40v1M34 53v1M34 59v1M34 78v1M34 112v2M35 19v1M35 28v1M35 37v1M35 40v2M35 46v2M35 59v1M35 61v1M35 72v2M35 79v4M35 84v4M35 96v1M35 106v1M36 21v1M36 33v4M36 50v1M36 55v1M36 64v2M36 70v1M36 75v1M36 91v1M36 99v1M36 109v9M37 46v2M37 52v1M37 94v1M37 102v1M37 107v1M38 33v1M38 41v1M38 50v1M38 80v1M38 82v2M38 91v1M38 102v1M38 109v1M39 49v3M39 76v1M39 91v1M40 13v2M40 18v1M40 38v1M40 44v1M40 46v1M40 58v1M40 82v1M41 43v2M41 66v1M41 72v1M41 99v1M41 111v1M41 115v1M42 9v2M42 43v1M42 54v1M42 96v1M42 105v2M42 116v1M43 7v3M43 30v1M43 39v1M43 41v3M43 74v2M43 84v1M43 88v1M43 121v4M44 22v1M44 56v1M44 87v1M44 92v1M44 110v1M44 127v2M45 8v5M45 37v1M45 41v1M45 59v1M45 72v1M45 83v1M45 97v1M45 110v2M46 15v2M46 28v1M46 42v1M46 65v1M46 94v3M46 105v4M46 118v1M47 42v1M47 55v2M47 63v1M47 87v1M48 12v1M48 28v1M48 35v4M48 56v3M48 72v1M48 85v1M48 124v1M49 11v3M49 16v2M49 36v1M49 56v1M49 58v1M49 63v1M49 74v1M49 85v1M50 13v1M50 50v1M50 53v2M50 76v1M50 88v1M50 90v1M50 94v1M50 103v1M50 105v1M50 109v1M51 24v8M51 37v1M51 45v1M51 52v1M51 101v6M52 21v1M52 30v1M52 35v1M52 43v1M52 48v3M52 56v2M52 60v1M52 64v1M52 75v1M52 80v1M53 4v4M53 31v1M53 52v1M53 66v1M53 88v1M53 95v2M53 112v1M53 119v2M54 16v1M54 59v1M54 76v1M54 91v1M55 29v3M55 44v1M55 71v1M55 79v1M55 82v1M55 98v1M55 114v2M56 62v1M56 102v1M56 119v1M57 7v7M57 22v1M57 28v1M57 31v1M57 36v1M57 44v1M57 53v1M57 58v1M57 64v1M57 86v1M57 88v1M57 103v1M57 118v1M58 18v1M58 23v1M58 32v1M58 37v1M58 71v1M58 84v1M58 107v2M58 111v2M58 124v1M59 19v1M59 25v1M59 32v1M59 38v1M59 44v1M59 50v1M59 128v2M60 19v6M60 40v1M60 44v1M60 56v2M60 61v1M60 71v1M60 94v1M60 106v1M61 29v1M61 37v1M61 48v1M61 71v1M61 73v1M61 127v2M62 12v8M62 50v1M62 82v1M62 106v4M63 39v1M63 42v1M63 48v1M63 86v1M63 104v1M63 116v1M64 25v1M64 31v1M64 34v2M64 38v2M64 45v2M64 48v1M64 84v1M64 87v1M64 97v1M64 103v2M64 126v2M65 14v1M65 23v1M65 27v1M65 40v1M65 73v1M65 99v1M65 105v1M66 34v1M66 55v1M66 59v1M66 71v2M66 83v1M66 97v1M66 127v1M67 0v11M67 23v1M67 44v1M67 58v1M67 64v1M67 76v1M67 111v3M67 127v10M68 30v1M68 34v1M68 43v1M68 47v1M68 63v1M68 72v1M68 82v1M68 116v1M68 128v2M69 24v1M69 37v1M69 59v1M69 97v1M70 13v2M70 23v2M70 34v1M70 39v1M70 51v1M70 57v1M70 62v1M70 66v1M70 73v1M70 76v1M70 95v1M70 101v1M70 106v5M70 124v1M71 19v2M71 45v1M71 54v1M71 58v2M71 66v1M71 75v1M71 78v1M71 90v1M71 111v1M71 117v1M71 126v1M72 10v2M72 22v1M72 57v2M72 67v1M72 71v1M72 75v1M72 117v1M73 18v1M73 24v1M73 33v1M73 38v1M73 51v1M73 72v1M73 74v1M73 87v1M73 107v1M73 114v1M74 11v2M74 46v1M74 54v2M74 64v1M74 75v1M74 93v3M74 99v1M74 111v1M74 116v1M75 23v1M75 41v2M75 46v1M75 48v1M75 81v1M75 94v1M75 100v1M75 107v1M76 40v3M76 63v3M76 73v1M76 84v2M76 99v1M77 44v1M77 53v1M77 84v1M77 91v1M78 6v10M78 39v1M78 50v2M78 58v1M78 78v3M78 90v1M78 101v1M79 9v1M79 50v1M79 80v1M79 91v1M79 97v1M79 103v1M79 125v1M80 24v1M80 35v1M80 39v1M80 45v1M80 60v1M80 77v1M80 85v1M81 7v2M81 27v2M81 36v1M81 70v2M81 74v1M81 79v1M81 86v1M81 105v1M81 119v1M82 11v5M82 58v2M82 77v2M82 115v1M83 15v1M83 28v1M83 45v1M83 71v1M83 82v1M83 85v1M83 95v1M83 116v2M84 28v1M84 47v1M84 60v1M84 92v1M84 94v1M84 103v1M84 110v7M85 36v1M85 63v1M85 72v1M85 84v1M85 93v1M85 118v10M86 30v1M86 36v1M86 62v1M86 85v2M86 114v5M87 4v3M87 29v1M87 46v1M87 50v1M87 64v1M87 100v1M88 8v1M88 53v1M88 65v1M88 90v1M88 97v1M88 112v1M88 123v1M89 19v2M89 28v6M89 55v1M89 82v2M89 90v3M89 98v1M89 116v1M89 122v3M90 18v1M90 25v1M90 37v1M90 44v1M90 56v1M90 79v1M90 89v2M90 102v1M90 108v4M90 121v1M91 9v3M91 28v1M91 49v1M91 56v1M91 81v2M91 87v1M91 90v1M91 116v2M92 29v1M92 35v1M92 48v1M92 108v1M92 116v1M93 0v8M93 45v1M93 77v1M93 83v1M93 108v1M93 115v1M93 135v2M94 0v5M94 18v1M94 30v4M94 55v1M94 60v1M94 72v1M94 101v4M94 132v5M95 43v1M95 49v2M95 55v1M95 65v1M95 73v1M95 88v1M95 108v1M95 121v4M96 23v1M96 34v1M96 54v1M96 58v1M96 67v1M96 103v1M96 107v1M96 128v2M97 47v1M97 57v1M97 59v3M97 85v1M97 102v1M97 119v1M98 17v3M98 53v1M98 55v1M98 58v1M98 68v1M98 74v1M98 89v1M98 99v1M98 102v1M99 0v4M99 14v1M99 23v1M99 37v1M99 50v1M99 62v2M99 69v1M99 75v1M99 91v1M99 103v1M99 107v1M99 115v1M99 128v9M100 22v1M100 27v1M100 49v1M100 51v1M100 55v1M100 57v1M100 72v1M100 114v5M101 0v1M101 7v4M101 22v1M101 29v1M101 36v4M101 45v1M101 54v1M101 57v1M101 77v1M101 87v3M101 105v1M101 136v1M102 17v1M102 59v2M102 62v1M102 84v1M102 89v1M102 94v1M103 12v1M103 52v1M103 76v1M103 83v1M103 91v1M103 94v1M103 104v1M103 112v1M103 116v2M104 17v5M104 50v1M104 62v1M104 70v1M104 114v1M105 37v1M105 73v1M105 80v1M105 96v1M105 105v1M105 122v2M106 22v1M106 42v1M106 80v1M106 92v1M106 128v2M107 10v2M107 19v2M107 50v1M107 71v1M107 76v1M107 97v1M107 99v1M107 120v1M108 2v5M108 19v1M108 33v1M108 62v1M108 74v1M108 78v1M108 83v1M108 104v3M108 114v2M108 120v3M109 4v10M109 20v2M109 29v1M109 64v1M109 82v1M109 86v1M109 95v1M109 103v1M109 108v1M109 127v7M110 10v3M110 18v2M110 23v1M110 49v1M110 68v1M110 73v1M110 82v1M110 92v1M110 100v1M111 55v3M111 75v3M111 92v1M111 109v1M111 120v10M112 10v1M112 25v1M112 35v2M112 39v3M112 44v1M112 78v1M112 112v6M113 6v5M113 24v1M113 50v1M113 63v2M113 73v1M113 87v1M113 114v10M114 42v1M114 45v1M114 65v1M114 75v1M114 78v1M114 89v1M114 103v1M114 118v2M115 56v3M115 89v1M115 94v2M116 33v1M116 39v1M116 46v3M116 53v1M116 60v1M116 116v1M117 8v3M117 27v1M117 30v1M117 41v1M117 78v1M117 88v1M117 93v1M117 101v3M118 27v1M118 44v1M118 72v1M118 106v1M119 25v1M119 31v1M119 72v1M119 82v1M119 101v1M119 107v1M120 27v1M120 74v1M120 78v1M120 85v1M120 89v1M120 94v2M120 106v1M120 116v1M121 6v5M121 55v1M121 61v1M121 65v1M121 79v1M121 84v1M121 97v1M122 17v3M122 39v1M122 44v2M122 55v1M122 63v3M122 71v1M122 75v2M122 87v1M122 108v1M123 25v1M123 51v2M123 58v1M123 81v1M123 93v1M123 112v1M124 0v2M124 45v1M124 53v1M124 65v1M124 81v1M124 85v1M124 130v7M125 34v1M125 38v1M125 55v1M125 72v1M125 79v1M125 87v2M125 99v1M125 116v1M126 55v1M126 59v1M126 90v1M126 93v1M126 117v5M127 18v3M127 25v2M127 32v1M127 39v2M127 58v1M127 82v2M127 91v1M127 97v2M127 109v1M127 128v2M128 16v3M128 46v1M128 53v1M128 73v1M128 77v1M128 104v1M128 107v3M129 41v1M129 47v1M129 79v1M129 93v1M129 106v5M130 0v4M130 8v5M130 38v1M130 44v1M130 53v1M130 57v1M130 85v3M130 96v1M130 104v2M130 110v1M130 124v3M130 133v4M131 29v1M131 33v2M131 47v1M131 52v1M131 56v1M131 107v2M132 27v2M132 31v1M132 81v1M132 87v1M132 94v1M133 11v5M133 27v1M133 30v2M133 40v1M133 92v1M133 97v1M133 100v1M134 44v2M134 47v4M134 56v2M134 59v2M134 63v1M134 92v1M135 15v2M135 21v1M135 55v1M135 107v1M135 112v1M136 66v1M137 3v8M137 38v1M137 73v1M137 90v1M137 96v1M137 105v1M138 11v2M138 53v1M138 56v1M138 72v1M138 109v2M138 114v1M139 31v1M139 37v1M139 43v1M139 120v2M139 125v4M140 23v1M140 37v1M140 41v1M140 49v1M140 53v1M140 61v1M140 99v1M141 28v2M141 38v3M141 49v1M141 55v1M141 58v2M141 71v1M141 74v1M141 108v5M141 115v3M142 22v5M142 65v1M142 96v1M143 14v2M143 41v1M143 60v4M143 83v2M143 92v2M143 99v1M143 116v2M144 22v2M144 49v1M144 52v1M144 59v1M144 63v1M144 65v1M144 89v3M145 46v1M145 50v1M145 63v1M145 91v1M145 98v1M145 103v1M146 22v1M146 34v1M146 86v1M147 23v2M147 26v2M147 48v1M147 54v1M147 61v1M147 65v1M147 84v1M147 88v1M147 107v1M147 119v10M148 41v1M148 51v1M148 56v1M148 62v1M149 22v2M149 25v2M149 32v1M149 39v1M149 62v1M149 64v1M149 113v1M150 9v6M150 42v1M150 80v1M150 83v1M151 55v1M151 71v1M151 83v1M152 28v1M152 32v1M152 49v1M152 52v1M152 79v2M152 102v1M152 108v1M153 34v1M153 38v1M153 115v1M154 49v1M154 51v2M154 78v1M154 92v1M154 99v1M155 51v1M155 56v2M155 62v2M155 92v1M155 99v1M156 33v2M156 36v1M156 59v1M160 31v1M160 34v1" stroke="#0030ff"/>
<path d="M6 78v2M7 94v2M8 50v1M8 91v1M8 98v1M8 130v4M9 31v4M9 48v1M9 80v3M9 89v1M9 91v1M9 112v4M10 22v1M10 27v2M10 61v1M11 55v1M11 74v1M11 89v2M11 111v2M11 116v2M12 37v1M12 47v1M12 72v2M12 105v4M13 47v1M13 49v1M13 57v1M13 88v2M13 102v1M13 108v1M13 117v2M13 121v3M14 18v1M14 48v3M14 99v1M14 103v1M14 123v1M15 38v1M15 49v2M15 81v1M15 84v1M16 36v3M16 44v1M16 50v1M16 60v1M16 63v3M16 91v1M16 95v1M16 108v1M16 118v1M17 21v1M17 27v1M17 40v1M17 50v1M17 62v2M17 88v1M17 107v2M17 112v2M18 26v1M18 29v1M18 48v1M18 61v1M18 65v1M18 75v3M18 84v1M18 96v2M18 106v1M19 56v1M19 58v1M19 78v1M20 39v1M20 86v1M20 92v1M20 100v1M22 54v1M22 57v1M22 63v1M22 74v2M22 96v7M22 110v1M22 120v1M22 128v4M23 24v2M23 29v2M23 65v1M23 74v2M23 106v1M24 107v1M24 121v3M25 19v1M25 24v1M25 55v1M25 60v1M25 64v1M25 66v1M25 90v3M25 113v2M25 122v2M26 35v1M26 65v1M26 78v1M26 80v1M26 94v1M26 108v1M26 123v1M27 20v6M27 36v1M27 59v2M28 15v1M28 41v2M28 53v1M28 61v1M28 86v1M28 123v2M29 29v1M29 32v1M29 58v3M29 79v1M29 83v3M29 101v1M29 107v1M29 115v1M29 125v1M30 62v1M31 17v1M31 26v1M31 60v1M31 65v1M31 70v1M31 116v9M32 18v1M32 26v1M32 47v4M32 63v1M32 84v1M32 90v1M33 33v1M33 43v1M33 45v2M34 38v2M34 46v1M34 60v2M35 20v2M35 27v1M35 38v2M35 60v1M35 97v1M35 105v1M36 22v1M36 32v1M36 74v1M36 92v1M36 98v1M37 37v1M37 55v1M37 77v1M37 93v1M37 99v3M37 115v1M38 34v1M38 39v2M38 42v1M38 74v1M38 79v1M38 84v1M38 90v1M39 56v1M39 75v1M39 89v2M40 15v3M40 25v1M40 45v1M40 54v1M40 62v1M41 53v1M41 58v1M41 64v2M41 76v1M41 85v1M41 94v1M41 103v1M41 112v3M42 6v3M42 53v1M42 104v1M43 10v3M43 23v1M43 38v1M43 52v1M43 56v1M43 85v3M43 96v1M43 102v1M43 109v1M43 119v2M44 21v1M44 63v1M44 74v1M44 80v1M44 129v2M45 24v1M45 36v1M45 44v1M45 60v1M45 67v1M45 109v1M46 17v1M46 47v1M46 58v1M46 109v1M46 116v2M47 77v1M47 84v3M47 100v1M48 13v1M48 27v1M48 59v1M48 63v1M48 71v1M48 82v1M48 94v1M48 101v1M49 14v2M49 57v1M49 64v1M49 78v1M49 82v1M50 12v1M50 28v1M50 43v1M50 47v1M50 49v1M50 84v1M50 89v1M50 106v3M50 116v1M51 53v2M51 83v1M51 92v1M51 100v1M52 22v2M52 29v1M52 36v1M52 58v2M52 65v2M52 82v1M52 87v1M52 96v1M52 101v1M53 8v3M53 23v1M53 32v3M53 53v1M53 56v1M53 62v1M53 72v1M53 76v1M53 94v1M53 97v1M53 105v1M53 113v2M53 116v3M54 15v1M54 60v1M54 64v1M54 86v1M54 105v3M54 116v3M55 66v1M55 72v1M55 78v1M55 88v1M55 99v1M55 113v1M56 38v1M56 58v1M56 61v1M56 73v1M56 79v1M56 92v1M56 96v1M56 103v5M56 118v1M57 23v1M57 27v1M57 40v1M57 48v1M57 50v1M57 57v1M57 59v1M57 74v1M57 76v1M57 79v1M57 97v2M57 107v1M57 114v4M58 17v1M58 24v1M58 42v1M58 61v1M58 64v1M58 72v5M58 78v6M58 109v2M58 125v2M59 20v5M59 33v5M59 54v1M59 91v1M59 105v1M59 114v1M59 126v2M60 25v2M60 34v1M60 41v3M60 46v1M60 93v1M61 30v1M61 52v1M61 72v1M61 86v1M61 125v2M62 27v1M62 35v3M62 49v1M62 51v1M62 57v1M62 77v1M63 28v1M63 34v1M63 43v1M63 47v1M63 60v1M63 92v1M63 110v1M64 0v2M64 17v1M64 26v1M64 29v2M64 36v2M64 47v1M64 65v2M64 79v1M64 98v1M64 101v2M64 128v9M65 13v1M65 24v3M65 55v2M65 61v1M65 64v1M65 78v1M65 80v1M65 91v1M65 98v1M65 106v1M65 114v5M66 21v1M66 76v1M66 105v1M66 118v1M66 128v2M67 24v1M67 33v2M67 49v1M67 62v2M67 89v1M67 114v13M68 20v1M68 27v3M68 35v1M68 38v1M68 46v1M68 57v1M68 62v1M68 67v1M68 73v1M68 77v1M68 85v1M68 107v1M68 114v2M68 130v3M69 25v1M69 36v1M69 79v1M69 94v3M70 0v3M70 10v3M70 35v4M70 55v2M70 74v2M70 87v1M70 90v1M70 96v1M70 99v2M70 125v3M70 134v3M71 41v1M71 63v1M71 76v2M71 102v1M71 118v1M71 124v2M72 12v2M72 20v2M72 59v1M72 78v1M72 83v2M72 89v1M72 107v1M72 116v1M73 19v5M73 34v1M73 37v1M73 44v1M73 50v1M73 63v1M73 73v1M73 77v1M73 83v1M73 95v2M73 104v1M73 113v1M74 9v2M74 28v1M74 61v1M74 81v1M74 110v1M75 15v1M75 24v3M75 40v1M75 43v3M75 82v1M75 88v1M76 56v1M76 74v1M76 86v1M76 115v1M77 20v1M77 43v1M77 54v1M77 75v1M77 86v1M77 92v2M78 26v1M78 33v1M78 40v1M78 52v1M78 54v1M78 99v2M79 10v1M79 20v1M79 26v1M79 38v1M79 42v1M79 86v1M79 107v1M79 124v1M80 25v1M80 34v1M80 44v1M80 58v1M80 65v1M80 81v1M80 96v1M80 109v1M81 9v2M81 20v7M81 37v1M81 45v1M81 66v1M81 87v1M81 93v1M81 106v1M81 118v1M82 0v11M82 34v1M82 42v1M82 53v1M82 60v1M82 65v1M82 83v1M82 87v1M82 90v1M82 95v1M82 116v1M82 130v7M83 16v1M83 31v1M83 43v2M83 56v1M83 79v1M83 109v1M84 42v1M84 65v1M84 71v1M84 76v1M84 93v1M84 98v1M84 102v1M85 37v1M85 57v1M85 60v1M85 94v1M85 101v1M86 49v1M86 75v2M86 84v1M87 7v2M87 28v1M87 37v1M87 42v1M87 47v1M87 49v1M87 59v1M87 80v1M87 88v1M88 9v1M88 21v1M88 26v1M88 39v1M88 43v1M88 63v1M88 107v1M89 0v7M89 16v3M89 42v1M89 64v1M89 84v1M89 89v1M89 93v2M89 96v2M89 105v1M89 115v1M89 125v12M90 17v1M90 26v2M90 29v2M90 38v2M90 49v1M90 54v2M90 64v1M90 66v1M90 71v1M90 78v1M90 88v1M90 122v2M91 0v9M91 29v1M91 48v1M91 71v1M91 77v1M91 88v2M91 97v1M91 106v1M91 118v1M91 133v4M92 30v1M92 34v1M92 58v1M92 66v1M92 79v1M92 84v1M92 90v2M93 20v1M93 25v1M93 46v1M93 52v1M93 71v1M93 76v1M93 116v2M93 130v5M94 5v3M94 16v2M94 64v1M95 17v1M95 38v2M95 42v1M95 59v3M95 74v1M95 77v1M95 98v1M95 107v1M96 24v1M96 76v1M96 104v3M96 114v1M96 127v1M97 18v1M97 52v1M97 58v1M97 62v1M97 64v1M97 70v1M97 72v1M97 101v1M97 104v1M98 11v6M98 20v3M98 39v2M98 54v1M98 95v1M98 98v1M98 108v1M98 115v1M99 4v10M99 51v2M99 72v1M99 92v1M99 108v1M99 114v1M100 23v4M100 45v1M100 50v1M100 56v1M100 73v4M100 81v1M100 91v1M100 99v1M101 1v6M101 23v1M101 46v1M101 61v1M101 78v1M101 80v1M101 106v1M101 118v18M102 16v1M102 55v1M102 72v1M102 105v1M102 109v1M103 13v1M103 23v1M103 43v1M103 71v1M103 75v1M103 84v7M103 92v2M103 100v2M103 103v1M103 113v3M104 51v2M104 79v1M104 95v1M104 101v1M104 108v2M104 112v2M105 38v4M105 82v1M105 120v2M106 27v1M106 33v1M106 37v1M106 45v1M106 52v1M106 58v1M106 77v1M106 81v1M106 84v1M106 130v4M107 12v3M107 17v2M107 53v1M107 58v1M107 81v1M107 98v1M107 110v1M107 119v1M108 7v4M108 17v2M108 41v1M108 44v1M108 51v1M108 75v1M108 77v1M108 84v1M108 116v4M109 14v6M109 30v1M109 38v1M109 57v1M109 63v1M109 92v1M109 123v4M110 13v5M110 24v1M110 30v1M110 75v3M110 81v1M110 95v1M110 101v1M110 103v1M111 71v1M111 73v2M111 78v1M111 82v1M111 93v3M111 110v1M111 117v3M112 11v1M112 24v1M112 37v2M112 42v2M112 50v1M112 60v1M113 11v3M113 22v2M113 53v1M113 65v1M114 43v2M114 64v1M114 76v2M114 97v1M114 117v1M115 69v1M115 83v1M116 34v5M116 40v6M116 49v1M116 57v1M116 59v1M116 75v1M116 99v2M116 115v1M117 11v2M117 51v1M117 53v1M117 58v1M117 72v2M118 28v1M118 33v1M118 58v1M118 76v1M118 86v1M118 90v1M118 107v1M118 116v1M119 26v1M119 85v1M119 94v2M120 34v1M120 37v1M120 41v1M120 49v1M120 62v1M121 0v6M121 42v1M121 48v1M121 76v3M121 85v1M121 96v1M121 112v1M121 131v6M122 40v4M122 61v2M123 39v1M123 53v5M123 73v1M123 99v1M124 2v4M124 20v1M124 46v1M124 63v2M124 79v2M125 35v3M125 89v4M125 98v1M125 105v1M125 115v1M126 43v1M126 50v1M126 56v1M126 58v1M126 84v1M126 98v1M127 27v1M127 31v1M127 63v1M127 90v1M127 110v1M127 127v1M128 19v6M128 33v1M128 39v1M128 64v1M128 81v1M128 87v1M128 96v1M128 103v1M129 42v1M129 46v1M129 84v1M129 92v1M130 4v4M130 56v1M130 88v3M130 106v4M130 127v6M131 30v3M131 48v4M131 57v1M131 61v1M131 71v1M131 78v1M131 86v1M131 90v1M131 99v1M132 29v2M132 55v1M132 71v1M132 77v1M132 102v1M133 28v2M133 41v1M133 44v1M133 51v2M133 60v1M133 64v1M133 89v1M133 98v2M134 46v1M134 51v2M134 55v1M134 61v2M134 93v4M135 17v4M135 36v1M135 48v1M135 52v1M135 57v1M135 87v1M135 94v1M135 100v1M135 102v2M135 108v4M137 11v6M137 30v1M137 39v1M137 42v1M137 48v1M137 54v1M137 74v2M137 91v5M137 114v1M138 13v13M138 32v1M138 54v2M138 73v2M138 111v3M139 50v1M139 96v1M139 100v1M139 122v3M140 24v1M140 32v1M140 38v1M140 50v1M140 52v1M140 62v2M140 100v1M140 113v1M141 72v2M141 99v1M141 107v1M141 113v2M142 62v1M142 85v1M142 104v1M143 10v4M143 42v1M143 100v1M143 102v2M143 118v1M144 50v1M144 56v1M144 64v1M144 81v1M144 83v1M145 87v1M145 90v1M145 99v4M146 23v1M146 29v1M146 39v1M146 92v1M147 25v1M147 62v3M147 87v1M147 91v1M147 103v4M148 45v1M149 24v1M149 33v2M149 38v1M149 46v1M149 51v1M149 63v1M149 105v2M149 112v1M150 43v3M150 81v2M150 100v1M151 45v1M151 56v1M152 29v3M152 50v2M152 55v1M152 71v1M152 73v1M152 81v1M152 84v1M152 107v1M153 35v3M153 92v1M153 99v1M153 107v1M153 114v1M154 50v1M154 86v1M155 52v4M155 93v1M155 98v1M156 35v1M156 56v3M160 32v2" stroke="#0048ff"/>
<path d="M8 113v2M8 127v3M9 90v1M10 23v4M10 59v2M11 33v1M11 37v1M11 56v1M11 59v1M11 75v1M11 78v1M11 113v3M12 38v1M13 48v1M13 62v1M13 78v1M13 81v1M13 119v2M14 17v1M14 100v3M14 124v2M15 48v1M16 61v2M16 92v3M16 109v1M16 117v1M17 22v1M17 33v1M17 51v3M17 89v3M17 109v3M18 27v2M18 46v2M18 62v3M18 98v8M19 57v1M19 74v1M19 77v1M20 80v1M20 90v2M20 97v3M22 55v2M22 64v2M22 103v1M22 109v1M22 121v7M23 26v3M23 59v2M24 108v1M24 117v4M25 20v4M25 56v2M25 59v1M25 65v1M25 115v7M26 36v8M26 79v1M26 109v1M26 122v1M27 40v1M27 49v1M27 76v1M27 88v1M28 14v1M28 48v3M28 125v2M29 30v2M29 71v3M29 102v1M29 106v1M29 124v1M30 59v3M31 18v2M31 25v1M31 50v1M31 58v1M31 64v1M31 81v1M32 19v2M32 24v2M32 51v1M32 54v1M33 28v2M33 32v1M33 44v1M35 22v5M35 104v1M36 23v1M36 30v2M36 51v1M36 54v1M36 71v1M36 73v1M36 97v1M37 41v1M37 53v2M37 73v1M37 81v1M37 89v4M37 108v1M37 114v1M38 35v4M38 43v1M38 75v1M38 78v1M38 85v2M38 89v1M38 103v1M38 108v1M39 60v1M39 71v1M39 74v1M40 55v3M40 76v1M40 81v1M41 89v1M41 100v1M41 102v1M42 0v6M42 52v1M42 97v1M42 103v1M42 117v1M42 132v5M43 13v2M43 22v1M43 31v1M43 37v1M43 97v1M43 110v1M43 117v2M44 0v4M44 20v1M44 79v1M44 93v1M44 109v1M44 131v6M45 25v1M45 31v5M45 42v2M45 75v1M45 98v1M45 108v1M46 18v1M46 27v1M46 34v1M46 41v1M46 110v2M46 114v2M47 43v1M47 49v1M47 76v1M47 78v1M47 83v1M48 14v1M48 26v1M48 60v3M48 83v2M48 100v1M48 102v1M48 123v1M49 25v1M49 83v2M50 11v1M50 48v1M50 81v1M50 102v1M51 44v1M51 78v1M51 82v1M51 99v1M52 24v5M52 37v1M52 42v1M52 79v1M52 97v4M53 11v3M53 21v2M53 54v2M53 65v1M53 73v3M53 89v1M53 93v1M53 115v1M54 14v1M54 61v3M54 77v1M54 85v1M54 92v1M54 104v1M54 108v1M54 113v3M54 119v2M55 51v1M55 59v1M55 73v5M55 83v1M55 100v13M56 43v1M56 59v2M56 93v1M56 108v1M56 117v1M57 24v3M57 32v1M57 35v1M57 43v1M57 49v1M57 54v1M57 56v1M57 60v1M57 63v1M57 75v1M57 104v1M57 106v1M58 16v1M58 38v1M58 41v1M58 62v2M58 77v1M58 127v3M59 45v1M59 65v1M59 73v1M59 76v1M59 86v1M59 92v1M59 115v2M59 124v2M60 27v2M60 33v1M60 52v1M60 62v1M60 65v1M60 76v1M60 90v3M60 97v1M60 105v1M61 36v1M61 49v1M61 94v1M61 123v2M62 28v1M62 38v1M62 71v1M62 73v1M62 81v1M63 35v1M63 37v2M63 44v3M63 64v1M63 87v1M63 105v1M63 109v1M63 117v1M64 2v5M64 15v2M64 27v2M64 58v1M64 85v2M64 99v2M65 11v2M65 34v1M65 39v1M65 48v1M65 66v1M65 79v1M65 107v1M65 112v2M65 119v2M66 20v1M66 44v1M66 51v1M66 92v2M66 96v1M66 130v3M67 32v1M67 59v3M67 71v1M67 75v1M67 80v1M67 86v3M68 0v4M68 36v2M68 44v2M68 58v1M68 61v1M68 64v1M68 74v3M68 83v2M68 102v1M68 108v1M68 111v3M68 133v4M69 26v1M69 53v1M69 58v1M69 84v1M69 88v1M70 3v7M70 46v1M70 50v1M70 63v1M70 65v1M70 88v2M70 97v2M70 128v6M71 42v1M71 44v1M71 48v1M71 65v1M71 91v1M71 98v1M71 110v1M71 119v5M72 14v6M72 60v1M72 72v1M72 74v1M72 82v1M72 108v1M72 115v1M73 35v2M73 52v1M73 57v1M73 66v1M73 78v2M73 90v1M73 94v1M73 108v1M73 112v1M74 7v2M74 29v1M74 45v1M74 62v2M74 88v1M74 100v1M74 109v1M74 117v1M75 14v1M75 32v1M75 49v1M75 65v1M75 83v1M75 86v2M75 95v1M75 99v1M75 108v2M76 49v1M76 75v4M76 83v1M76 87v1M76 98v1M76 105v1M76 114v1M77 21v1M77 29v1M77 42v1M77 55v1M77 64v1M77 80v1M77 85v1M78 32v1M78 49v1M78 53v1M78 91v1M78 97v2M79 11v2M79 19v1M79 27v1M79 54v1M79 79v1M79 104v1M79 113v1M79 123v1M80 26v2M80 33v1M80 40v4M80 53v1M80 61v1M80 71v2M80 84v1M80 108v1M81 11v9M81 38v1M81 44v1M81 58v1M81 75v1M81 78v1M81 88v1M81 92v1M81 107v1M82 35v1M82 40v2M82 43v2M82 61v1M82 84v1M82 86v1M82 91v1M82 117v4M82 124v6M83 17v1M83 27v1M83 38v1M83 62v1M83 67v1M83 74v1M83 80v2M83 94v1M83 99v1M84 29v1M84 52v1M84 57v1M84 61v1M84 75v1M84 77v1M84 88v1M84 99v3M85 46v1M85 58v2M85 67v1M85 75v1M85 79v1M85 100v1M86 31v1M86 35v1M86 41v1M86 69v1M86 83v1M87 9v2M87 27v1M87 38v4M87 48v1M87 60v1M87 89v5M87 99v1M88 10v2M88 20v1M88 44v1M88 52v1M88 64v1M88 91v1M88 102v1M88 113v1M88 122v1M89 7v9M89 50v1M89 56v1M89 81v1M89 85v1M89 88v1M89 95v1M89 106v1M89 114v1M90 0v1M90 15v2M90 28v1M90 65v1M90 72v6M90 84v1M90 87v1M90 91v1M90 124v3M90 136v1M91 30v1M91 50v1M91 119v3M91 128v5M92 31v3M92 49v1M92 61v1M92 83v1M92 85v1M92 89v1M92 101v1M93 21v4M93 39v1M93 56v1M93 75v1M93 84v1M93 99v2M93 107v1M93 118v4M93 125v5M94 8v8M94 61v1M94 73v1M94 78v1M95 37v1M95 40v2M95 56v3M95 62v1M95 64v1M95 75v2M95 81v1M95 99v1M96 33v1M96 55v3M96 61v1M96 80v1M96 115v1M96 125v2M97 28v1M97 48v1M97 51v1M97 63v1M97 71v1M97 90v1M97 95v1M97 100v1M97 118v1M98 0v11M98 23v2M98 32v7M98 69v1M98 73v1M98 81v3M98 96v2M98 103v1M98 107v1M98 116v2M98 129v8M99 24v1M99 36v1M99 70v1M99 83v1M99 102v1M99 109v1M99 113v1M100 34v1M100 41v4M100 77v1M101 24v1M101 28v1M101 47v1M101 79v1M101 116v2M102 15v1M102 40v1M102 46v1M102 78v1M102 90v1M102 93v1M102 106v1M102 108v1M102 115v1M103 14v2M103 22v1M103 54v1M103 61v1M103 72v3M103 102v1M104 57v1M104 61v1M104 110v2M105 46v1M105 57v1M105 95v1M105 106v1M105 118v2M106 0v5M106 21v1M106 63v1M106 72v1M106 76v1M106 82v2M106 134v3M107 15v2M107 51v2M107 66v1M107 82v1M107 93v1M107 111v1M108 11v6M108 34v1M108 52v1M108 76v1M108 85v1M109 37v1M109 58v1M109 62v1M109 87v1M109 102v1M109 109v1M109 121v2M110 25v1M110 34v1M110 44v1M110 62v1M110 74v1M110 78v1M110 83v1M110 93v1M110 102v1M111 72v1M111 79v1M111 81v1M111 111v6M112 12v2M112 23v1M112 51v3M112 72v1M112 81v1M112 91v1M113 14v8M113 51v2M113 56v1M113 77v1M113 85v1M114 104v1M114 116v1M115 72v1M116 50v1M116 52v1M116 58v1M116 90v1M116 98v1M116 101v1M117 13v4M117 26v1M117 31v1M117 52v1M117 63v1M117 74v1M117 77v1M117 89v1M117 92v1M118 29v1M118 32v1M118 38v1M118 48v1M118 73v1M118 115v1M119 27v1M119 29v2M119 73v1M119 89v1M119 102v1M119 106v1M120 75v1M120 77v1M120 86v3M120 107v1M120 115v1M121 95v1M121 113v2M121 127v4M122 56v1M122 60v1M122 107v1M123 26v1M123 111v1M124 6v3M124 19v1M124 47v1M124 52v1M124 86v1M124 101v1M125 48v1M125 73v1M125 78v1M125 93v2M125 97v1M125 114v1M126 44v1M126 57v1M126 94v1M127 28v3M127 53v1M127 57v1M127 66v1M127 84v1M127 111v1M127 125v2M128 25v8M128 43v1M128 74v1M128 76v1M128 102v1M129 43v3M129 75v1M129 78v1M129 91v1M130 39v1M130 43v1M130 54v2M130 91v2M130 94v2M131 58v1M131 60v1M131 82v1M132 37v1M132 43v1M132 49v1M132 72v1M132 86v1M132 95v1M133 42v2M133 53v2M133 58v2M133 61v3M133 75v1M133 91v1M134 53v2M135 45v1M135 53v2M135 60v1M135 64v1M135 66v1M135 101v1M136 81v1M136 88v1M137 17v2M137 40v2M137 106v1M137 113v1M138 26v6M139 32v2M139 36v1M139 44v1M139 97v1M139 99v1M140 25v1M140 39v2M140 51v1M140 101v2M140 112v1M141 50v1M141 54v1M141 100v1M141 105v2M142 63v2M142 75v1M142 97v1M142 103v1M143 0v10M143 50v1M143 101v1M143 119v4M143 128v9M144 51v1M144 82v1M145 35v1M145 42v1M145 47v1M145 49v1M145 64v1M145 66v1M145 88v2M146 35v1M146 87v2M146 90v2M147 49v1M147 53v1M147 85v2M147 96v1M148 42v3M149 35v3M149 50v1M149 107v2M149 110v2M150 95v1M151 50v1M151 72v1M152 56v1M152 59v1M152 72v1M152 82v2M152 103v4M153 93v1M153 98v1M153 108v1M153 113v1M154 75v1M154 83v1M154 93v1M154 98v1M155 94v4" stroke="#0060ff"/>
<path d="M8 56v1M8 92v1M8 97v1M8 115v1M8 125v2M11 34v3M11 57v2M11 76v2M12 39v2M12 46v1M13 58v1M13 79v2M13 103v1M13 107v1M14 0v2M14 16v1M14 126v11M15 39v1M15 47v1M15 82v2M16 45v1M16 49v1M16 116v1M17 23v4M17 39v1M19 75v2M22 104v1M22 108v1M23 49v1M23 54v1M24 109v8M25 58v1M26 89v1M26 110v1M26 120v2M27 37v1M27 39v1M27 45v1M27 85v3M28 0v6M28 11v3M28 60v1M28 87v1M28 95v1M28 127v10M29 74v1M29 78v1M29 103v3M29 116v2M29 122v2M31 20v5M31 61v3M31 71v1M31 80v1M32 21v3M32 52v2M32 85v1M32 89v1M33 30v2M34 47v1M34 52v1M35 98v2M35 103v1M36 24v6M36 52v2M36 72v1M36 93v4M37 38v1M37 76v1M37 88v1M37 109v1M37 113v1M38 44v1M38 49v1M38 59v1M38 65v1M38 76v2M38 87v2M38 104v4M39 57v1M39 59v1M39 72v2M40 37v1M40 66v1M41 54v1M41 73v1M41 75v1M41 86v3M41 90v4M41 101v1M42 44v1M42 98v2M42 101v2M42 118v2M42 128v4M43 15v7M43 36v1M43 53v3M43 101v1M43 111v1M43 115v2M44 4v3M44 19v1M44 57v1M44 81v1M44 86v1M44 94v1M44 97v3M45 26v5M45 65v2M45 73v1M45 79v1M45 82v1M45 106v2M46 19v2M46 48v1M46 57v1M46 112v2M47 48v1M47 71v1M48 15v1M48 25v1M48 95v1M48 121v2M49 33v1M49 43v1M49 75v1M49 77v1M50 9v2M50 82v2M50 117v1M51 38v1M51 93v1M51 98v1M52 38v4M52 76v1M52 83v1M52 86v1M53 14v7M53 63v2M53 90v3M53 98v1M53 104v1M54 12v2M54 93v1M54 103v1M54 109v4M54 121v3M55 87v1M56 39v1M56 42v1M56 94v2M56 109v1M57 33v2M57 41v1M57 55v1M57 61v2M57 92v1M57 105v1M58 0v7M58 13v3M58 25v1M58 31v1M58 39v2M58 130v7M59 49v1M59 55v1M59 74v2M59 80v1M59 93v1M59 96v2M59 104v1M59 117v7M60 29v4M60 63v2M60 89v1M61 31v2M61 35v1M61 50v2M61 97v1M61 102v1M61 107v1M61 121v2M62 29v1M62 34v1M62 39v1M62 48v1M62 52v1M62 56v1M62 72v1M62 78v1M62 80v1M63 16v4M63 27v1M63 36v1M63 61v1M63 91v1M63 106v3M64 7v8M64 53v1M64 78v1M65 0v11M65 65v1M65 92v1M65 97v1M65 108v4M65 121v4M65 131v6M66 0v5M66 19v1M66 35v1M66 40v1M66 47v1M66 54v1M66 77v1M66 86v1M66 91v1M66 94v2M66 106v1M66 117v1M66 133v4M67 25v1M67 35v1M67 41v1M67 45v1M67 74v1M67 85v1M68 4v3M68 19v1M68 59v2M68 65v2M68 89v1M68 94v1M68 109v2M69 27v1M69 35v1M69 54v1M69 74v1M69 85v1M69 87v1M70 64v1M71 43v1M71 64v1M71 92v1M72 61v1M72 73v1M72 79v1M72 81v1M72 85v1M72 88v1M72 109v1M72 113v2M73 45v1M73 49v1M73 64v1M73 84v1M73 86v1M73 97v1M73 103v1M73 109v3M74 0v7M74 30v1M74 44v1M74 82v1M74 101v1M74 108v1M74 118v1M74 133v4M75 13v1M75 39v1M75 50v1M75 61v4M75 84v2M75 96v3M75 110v2M76 55v1M76 79v4M76 97v1M76 106v1M77 22v1M77 28v1M77 34v1M77 56v1M78 27v1M78 41v1M78 59v1M78 66v1M78 96v1M79 13v1M79 18v1M79 28v6M79 37v1M79 49v1M79 78v1M79 81v1M79 105v2M80 28v5M80 54v1M80 57v1M80 73v4M80 82v2M80 97v1M80 107v1M81 39v1M81 65v1M81 89v3M81 108v1M81 117v1M82 36v4M82 45v1M82 62v1M82 64v1M82 85v1M82 92v3M82 121v3M83 18v1M83 50v1M83 72v2M83 86v1M83 93v1M84 30v1M84 41v1M84 62v3M85 38v1M85 73v1M85 83v1M85 95v2M85 99v1M86 32v3M86 42v1M86 47v2M86 53v1M86 58v1M86 74v1M86 77v1M87 11v2M87 26v1M87 61v1M87 63v1M87 70v1M87 79v1M87 94v1M88 12v1M88 19v1M88 27v1M88 45v7M88 92v1M88 96v1M88 106v1M88 121v1M89 57v1M89 75v1M89 86v2M89 113v1M90 1v14M90 45v1M90 85v2M90 101v1M90 127v9M91 31v2M91 55v1M91 76v1M91 98v1M91 105v1M91 122v6M92 57v1M92 80v3M92 86v1M92 88v1M92 97v1M92 107v1M93 31v1M93 47v1M93 51v1M93 63v1M93 72v3M93 85v1M93 98v1M93 101v1M93 106v1M93 122v3M94 62v2M95 18v1M95 36v1M95 63v1M95 87v1M95 106v1M96 25v1M96 32v1M96 77v1M96 79v1M96 116v1M96 123v2M97 19v1M97 49v2M97 86v1M97 96v1M97 99v1M97 105v1M98 25v2M98 29v3M98 59v1M98 63v1M98 104v3M98 118v11M99 71v1M99 76v1M99 93v1M99 101v1M99 110v3M100 39v2M100 78v3M100 92v1M100 98v1M101 25v3M101 48v1M101 53v1M101 58v1M101 60v1M101 107v2M101 114v2M102 14v1M102 66v1M102 73v5M102 91v2M102 107v1M103 16v6M103 44v1M103 51v1M104 78v1M104 96v1M104 100v1M105 74v1M105 79v1M105 83v1M105 107v1M105 117v1M106 5v2M106 28v1M106 32v1M106 41v1M106 51v1M106 59v1M107 59v1M107 112v1M107 118v1M108 35v1M108 40v1M108 50v1M108 61v1M108 86v1M108 92v1M109 31v1M109 36v1M109 59v1M109 61v1M109 91v1M109 96v1M109 118v3M110 26v4M110 48v1M110 67v1M110 79v2M110 94v1M111 80v1M112 14v2M112 21v2M112 54v1M113 62v1M113 94v1M114 56v1M114 90v1M114 96v1M114 105v1M114 114v2M115 70v1M115 88v1M116 51v1M116 71v1M116 74v1M116 97v1M116 102v2M116 113v2M117 17v3M117 24v2M117 37v1M117 42v1M117 46v1M117 59v1M117 75v2M117 90v2M118 30v2M118 43v1M118 49v1M118 74v2M118 87v3M118 108v1M118 114v1M119 28v1M119 74v1M119 81v1M119 86v1M119 103v3M120 28v1M120 33v1M120 38v1M120 40v1M120 45v1M120 66v1M120 76v1M121 43v1M121 47v1M121 56v1M121 86v1M121 94v1M121 115v1M121 124v3M122 57v3M122 92v1M122 97v1M123 38v1M123 74v1M123 80v1M123 85v1M123 92v1M124 9v2M124 17v2M124 48v4M124 89v3M125 54v1M125 77v1M125 95v2M125 106v1M125 113v1M126 45v1M126 49v1M126 85v1M126 89v1M126 97v1M127 54v1M127 56v1M127 64v2M127 74v1M127 81v1M127 85v1M127 89v1M127 112v1M127 124v1M128 40v1M128 42v1M128 60v1M128 75v1M128 82v1M128 86v1M128 97v1M128 101v1M129 76v2M129 85v1M129 90v1M130 40v1M130 42v1M130 93v1M131 59v1M131 85v1M131 91v1M131 98v1M132 50v1M132 73v4M132 82v1M132 101v1M133 55v3M133 70v1M133 90v1M135 37v1M135 40v1M135 47v1M135 58v2M135 65v1M135 88v1M135 93v1M136 57v1M136 62v1M137 19v2M137 29v1M137 49v1M137 53v1M137 107v1M137 112v1M139 34v2M139 45v1M139 49v1M139 98v1M140 26v1M140 31v1M140 103v1M141 51v1M141 53v1M141 101v4M142 84v1M142 98v2M142 101v2M143 43v1M143 49v1M143 123v5M144 57v2M145 48v1M145 65v1M146 24v2M146 28v1M146 36v3M146 89v1M147 92v1M148 57v1M148 61v1M149 47v3M149 109v1M150 96v1M150 99v1M151 46v1M151 77v1M152 57v2M153 94v1M153 97v1M153 109v4M154 76v2M154 84v2M154 94v1M154 97v1" stroke="#0078ff"/>
<path d="M8 96v1M8 116v9M12 41v1M12 45v1M13 59v3M13 104v3M14 2v8M14 12v4M15 46v1M16 46v1M16 110v2M16 113v3M22 105v3M26 93v1M26 111v2M26 119v1M27 38v1M27 46v1M27 48v1M27 77v8M28 6v5M29 75v1M29 77v1M29 118v4M31 75v5M32 59v1M32 62v1M32 86v3M34 51v1M34 73v1M34 77v1M35 100v3M37 39v2M37 74v2M37 82v1M37 86v2M37 110v3M38 45v1M38 48v1M39 58v1M40 26v1M40 63v1M40 77v1M40 80v1M41 57v1M41 74v1M42 51v1M42 100v1M42 120v8M43 32v2M43 35v1M43 98v3M43 112v3M44 7v3M44 18v1M44 62v1M44 75v1M44 78v1M44 95v2M44 100v1M44 108v1M45 74v1M45 80v2M45 99v1M45 105v1M46 21v2M46 25v2M46 35v1M46 40v1M47 44v1M47 75v1M47 79v1M47 82v1M47 91v1M47 99v1M48 16v1M48 24v1M48 99v1M48 103v1M48 111v4M48 120v1M49 37v1M49 76v1M50 7v2M50 29v1M50 35v3M50 42v1M50 95v1M50 101v1M51 43v1M51 79v3M51 94v4M52 77v2M52 84v2M53 99v1M54 0v12M54 78v1M54 84v1M54 94v1M54 124v13M55 45v1M55 65v1M55 84v3M56 40v2M56 74v1M56 78v1M56 110v1M56 116v1M57 42v1M58 7v6M58 26v1M58 30v1M59 46v3M59 64v1M59 94v2M59 98v2M59 103v1M60 47v1M60 72v1M60 75v1M60 77v1M60 84v2M60 88v1M60 98v1M60 104v1M61 33v2M61 120v1M62 30v4M62 40v1M62 47v1M62 79v1M63 14v2M63 20v2M63 26v1M63 62v2M63 88v3M63 118v1M64 57v1M64 72v1M65 35v1M65 38v1M65 54v1M65 57v1M65 96v1M65 125v6M66 5v3M66 18v1M66 45v2M66 82v1M66 107v1M67 26v1M67 31v1M67 48v1M67 72v2M67 81v1M67 84v1M68 7v2M68 18v1M68 93v1M68 95v1M69 28v2M69 33v2M69 55v1M69 57v1M69 78v1M69 86v1M70 47v3M71 53v1M71 97v1M71 103v1M72 62v1M72 66v1M72 80v1M72 86v2M72 110v3M73 46v3M73 53v1M73 56v1M73 65v1M73 85v1M73 91v1M73 93v1M74 31v1M74 43v1M74 102v6M74 119v1M74 129v4M75 12v1M75 33v1M75 51v1M75 60v1M75 112v4M76 50v1M76 88v2M76 96v1M76 113v1M77 23v2M77 27v1M77 41v1M77 76v1M78 28v4M78 92v4M79 14v4M79 34v3M79 55v1M79 59v1M79 77v1M79 114v1M79 122v1M80 55v2M80 62v3M80 98v1M80 106v1M81 40v4M81 59v1M81 64v1M81 76v2M81 109v2M81 115v2M82 52v1M82 63v1M83 19v1M83 26v1M83 32v1M83 55v1M83 92v1M84 31v2M84 39v2M84 74v1M84 78v1M85 45v1M85 64v1M85 66v1M85 74v1M85 80v1M85 82v1M85 97v2M86 43v4M86 78v1M86 82v1M87 13v2M87 24v2M87 62v1M87 74v1M87 95v4M88 13v2M88 18v1M88 38v1M88 93v3M88 103v3M88 114v1M88 120v1M89 43v1M89 49v1M89 58v1M89 63v1M89 80v1M89 107v2M89 110v3M90 46v1M90 48v1M90 92v1M91 33v1M91 47v1M91 51v1M91 72v1M91 75v1M91 99v1M92 50v1M92 56v1M92 87v1M92 92v1M93 48v1M93 86v5M93 97v1M93 102v1M93 105v1M94 74v1M94 76v2M95 19v1M95 35v1M95 100v1M95 105v1M96 26v1M96 31v1M96 78v1M96 117v6M97 20v1M97 27v1M97 87v1M97 89v1M97 97v2M97 117v1M98 27v2M99 25v1M99 35v1M99 77v1M99 81v2M99 94v1M99 99v2M100 35v1M100 38v1M100 93v1M100 97v1M101 59v1M101 109v5M102 13v1M102 41v1M102 50v1M102 63v1M102 116v1M104 58v3M104 71v1M104 77v1M104 97v3M105 94v1M105 108v1M105 115v2M106 7v2M106 20v1M106 38v1M106 46v1M106 73v3M107 60v1M107 86v1M107 113v1M107 116v2M108 36v1M108 39v1M108 45v1M109 32v4M109 60v1M109 88v3M109 101v1M109 110v2M109 116v2M110 40v1M110 45v1M110 84v1M110 88v1M112 16v5M112 59v1M112 82v1M114 63v1M114 106v2M114 112v2M115 71v1M115 84v1M116 72v2M116 91v1M116 104v1M116 112v1M117 20v4M117 32v1M117 60v3M118 39v1M118 50v1M118 57v1M118 109v5M119 75v1M119 87v2M120 29v1M120 39v1M120 48v1M120 108v1M120 114v1M121 44v1M121 46v1M121 60v1M121 93v1M121 116v8M122 88v1M122 106v1M123 27v1M123 37v1M123 75v1M123 79v1M123 100v1M123 110v1M124 11v6M124 87v2M124 100v1M125 49v1M125 74v1M125 76v1M125 107v1M125 112v1M126 46v3M126 95v2M127 55v1M127 86v1M127 88v1M127 113v2M127 122v2M128 41v1M128 47v1M128 52v1M128 63v1M128 83v3M128 98v1M128 100v1M129 86v4M130 41v1M131 77v1M131 83v2M131 97v1M132 38v1M132 42v1M132 51v1M132 54v1M132 85v1M132 96v1M132 100v1M135 38v2M135 46v1M137 21v1M137 28v1M137 50v3M137 108v4M139 46v1M139 48v1M140 27v4M140 104v1M140 111v1M141 52v1M142 100v1M143 44v1M146 26v2M147 50v3M147 93v3M150 97v2M151 47v1M151 49v1M151 73v1M153 95v2M154 95v2" stroke="#008fff"/>
<path d="M8 51v1M8 93v3M12 42v3M14 10v2M15 40v1M15 45v1M16 47v2M16 112v1M17 34v1M17 38v1M20 85v1M23 50v1M26 90v1M26 92v1M26 113v6M27 47v1M28 54v1M28 88v1M28 94v1M29 76v1M31 51v1M31 57v1M31 72v3M32 60v1M34 48v3M37 83v3M38 46v2M40 36v1M40 65v1M40 78v2M41 55v2M42 45v1M42 50v1M43 34v1M44 10v8M44 58v1M44 61v1M44 76v2M44 82v1M44 85v1M44 101v1M44 107v1M45 100v5M46 23v2M46 36v1M46 39v1M46 49v1M46 56v1M47 45v3M47 80v2M48 17v7M48 96v3M48 104v1M48 109v2M48 115v5M49 26v1M49 32v1M49 42v1M50 0v7M50 30v1M50 34v1M50 118v1M50 134v3M51 39v1M51 42v1M53 100v4M54 83v1M54 95v1M54 102v1M55 60v1M56 75v1M56 77v1M56 111v5M57 89v1M58 27v3M59 56v1M59 63v1M59 85v1M59 100v3M60 51v1M60 86v2M61 101v1M61 108v1M61 118v2M62 41v6M62 53v3M63 12v2M63 22v4M63 119v1M64 54v1M64 77v1M65 36v2M65 49v1M65 60v1M65 93v3M66 8v3M66 16v2M66 36v1M66 39v1M66 52v2M66 78v1M66 90v1M66 116v1M67 27v1M67 30v1M67 36v1M67 46v2M67 82v2M68 9v2M68 17v1M68 101v1M69 30v3M69 56v1M69 75v1M69 77v1M71 49v1M71 93v1M71 96v1M71 109v1M72 63v1M73 54v2M73 92v1M73 98v1M73 102v1M74 32v1M74 42v1M74 83v1M74 87v1M74 120v9M75 11v1M75 38v1M75 52v5M75 58v2M75 116v2M76 51v1M76 54v1M76 90v2M76 95v1M76 107v2M76 111v2M77 25v2M77 35v1M77 40v1M77 57v1M77 63v1M77 77v3M78 42v1M78 48v1M79 43v1M79 58v1M79 60v1M79 82v1M79 85v1M79 121v1M80 99v1M80 105v1M81 111v4M82 46v1M83 20v1M83 25v1M83 37v1M83 51v1M83 87v1M83 91v1M83 108v1M84 33v6M84 53v1M84 56v1M84 72v2M84 79v4M84 87v1M85 39v1M85 65v1M85 81v1M86 70v1M86 79v3M87 15v4M87 21v3M87 71v1M87 73v1M87 75v4M88 15v3M88 28v1M88 115v5M89 44v1M89 48v1M89 76v1M89 109v1M90 47v1M90 100v1M91 34v2M91 46v1M91 52v3M91 73v2M91 100v1M91 103v2M92 51v1M92 55v1M92 62v1M92 102v1M92 106v1M93 38v1M93 49v2M93 57v1M93 62v1M93 91v1M93 103v2M94 75v1M95 82v1M95 101v4M96 27v4M96 62v1M96 66v1M97 21v1M97 88v1M97 106v1M97 116v1M98 60v1M98 62v1M98 70v1M98 72v1M99 26v1M99 34v1M99 78v3M99 95v1M99 97v2M100 36v2M100 94v3M101 49v2M101 52v1M102 12v1M102 42v1M102 45v1M102 54v1M103 45v1M103 50v1M103 55v1M105 56v1M105 75v1M105 78v1M105 109v1M105 113v2M106 9v2M106 19v1M106 29v3M106 39v2M106 50v1M106 60v3M107 114v2M108 37v2M108 49v1M108 53v1M108 60v1M108 87v1M108 91v1M109 97v1M109 112v4M110 35v1M110 46v2M110 63v1M112 55v1M112 77v1M112 83v1M112 90v1M113 88v1M113 93v1M114 91v1M114 95v1M114 108v4M115 85v3M116 92v1M116 96v1M116 105v7M117 36v1M117 43v1M117 45v1M118 42v1M118 51v1M118 56v1M119 76v1M119 80v1M120 30v1M120 32v1M120 46v2M120 63v1M120 109v1M120 113v1M121 45v1M121 57v1M121 87v1M121 92v1M122 89v1M122 91v1M122 98v1M122 105v1M123 28v1M123 36v1M123 76v3M123 91v1M123 101v1M124 92v1M125 50v1M125 53v1M125 75v1M125 108v4M126 86v1M126 88v1M127 87v1M127 115v7M128 61v2M128 99v1M131 72v1M131 92v1M131 96v1M132 39v1M132 41v1M132 52v2M132 83v2M132 97v1M132 99v1M135 89v4M136 82v1M136 87v1M137 22v6M139 47v1M140 105v1M140 110v1M142 76v1M142 83v1M143 45v4M145 36v1M148 58v3M151 48v1M151 76v1" stroke="#00a7ff"/>
<path d="M8 55v1M15 41v4M17 35v1M17 37v1M20 81v1M23 53v1M26 91v1M28 59v1M28 93v1M32 61v1M34 74v1M34 76v1M38 60v1M40 27v1M40 64v1M42 46v1M44 59v2M44 83v2M44 102v1M44 106v1M46 37v2M46 50v1M47 72v1M47 74v1M47 98v1M48 105v1M48 108v1M49 27v1M49 38v1M50 31v3M50 38v1M50 41v1M50 96v1M50 100v1M50 119v1M50 130v4M51 40v2M54 79v2M54 82v1M54 96v1M54 101v1M55 50v1M56 76v1M57 80v1M57 90v2M59 57v6M59 81v1M59 84v1M60 48v1M60 73v2M60 83v1M60 99v1M60 103v1M61 87v1M61 98v1M61 109v1M61 116v2M63 10v2M63 120v1M64 55v2M65 58v2M66 11v5M66 37v2M66 79v1M66 81v1M66 87v1M66 89v1M66 108v1M66 115v1M67 28v2M67 40v1M68 11v6M68 90v3M68 96v1M69 76v1M71 52v1M71 94v2M71 104v1M71 108v1M72 64v2M73 101v1M74 33v1M74 40v2M74 84v3M75 7v4M75 34v1M75 37v1M75 57v1M75 118v3M76 52v2M76 92v3M76 109v2M78 60v1M78 65v1M79 48v1M79 56v2M79 61v1M79 76v1M79 83v2M79 115v2M79 119v2M80 100v5M81 60v1M81 63v1M82 47v1M82 51v1M83 21v4M83 33v1M83 36v1M83 52v1M83 54v1M83 63v1M83 66v1M83 88v3M83 100v1M84 54v1M84 83v1M85 40v1M85 44v1M86 54v1M86 57v1M86 73v1M87 19v2M87 72v1M88 29v1M88 37v1M89 45v3M89 59v4M89 77v3M90 93v1M91 36v1M91 101v2M92 52v3M92 65v1M92 93v1M92 96v1M92 103v1M92 105v1M93 32v1M93 92v1M93 96v1M95 20v1M95 34v1M95 83v1M95 86v1M97 22v1M97 25v2M98 61v1M98 71v1M99 27v1M99 33v1M99 96v1M101 51v1M102 10v2M102 43v2M102 51v1M102 53v1M102 64v2M102 117v1M103 46v1M103 49v1M103 60v1M104 76v1M105 47v1M105 76v2M105 84v1M105 92v2M105 110v3M106 11v3M106 18v1M106 47v1M107 61v1M107 92v1M108 46v1M108 48v1M108 88v1M109 98v3M110 39v1M110 66v1M110 85v1M110 87v1M112 56v1M112 58v1M112 73v1M112 84v2M112 89v1M113 57v1M113 61v1M113 78v1M114 57v1M114 62v1M114 92v3M116 93v3M117 33v3M117 44v1M118 40v2M118 52v2M118 55v1M119 77v3M120 31v1M120 64v2M120 110v3M121 58v2M121 88v4M122 90v1M123 29v2M123 34v2M123 86v1M123 90v1M123 109v1M124 93v1M124 99v1M125 51v2M126 87v1M127 75v1M127 80v1M128 48v1M128 51v1M131 73v1M131 76v1M131 93v3M132 40v1M132 98v1M133 74v1M136 58v1M136 83v1M136 86v1M140 106v4M145 41v1M151 74v2" stroke="#00bfff"/>
<path d="M8 52v1M8 54v1M17 36v1M20 84v1M23 51v2M28 55v1M28 89v1M28 92v1M31 52v1M31 56v1M34 75v1M38 64v1M40 35v1M42 47v3M44 103v3M46 51v1M46 55v1M47 73v1M47 92v1M48 106v2M49 31v1M49 41v1M50 39v2M50 97v3M50 120v3M50 126v4M54 81v1M54 97v4M55 46v1M55 49v1M55 61v1M55 64v1M57 85v1M59 82v2M60 49v2M60 78v1M60 100v3M61 93v1M61 99v2M61 110v1M61 114v2M63 0v10M63 121v2M63 133v4M64 73v1M64 76v1M65 50v1M65 53v1M66 80v1M66 88v1M66 109v1M66 114v1M67 37v3M68 100v1M71 50v2M71 105v3M73 99v2M74 34v6M75 0v7M75 35v2M75 121v3M75 129v8M77 36v4M77 58v1M77 62v1M78 43v1M78 47v1M78 61v1M79 44v1M79 47v1M79 62v1M79 75v1M79 117v2M81 61v2M82 48v3M83 34v2M83 53v1M83 107v1M84 55v1M84 84v3M85 41v3M86 55v2M86 71v2M88 30v2M88 35v2M90 99v1M91 37v2M91 44v2M92 63v1M92 94v2M92 104v1M93 37v1M93 58v4M93 93v3M95 21v1M95 84v2M96 63v1M96 65v1M97 23v2M97 107v1M97 115v1M99 28v1M99 32v1M102 8v2M102 52v1M103 47v2M103 56v1M104 72v1M104 74v2M105 85v7M106 14v4M106 48v2M107 65v1M108 47v1M108 54v1M108 59v1M108 89v2M110 36v1M110 64v2M110 86v1M112 57v1M112 76v1M112 86v3M113 84v1M118 54v1M122 99v2M122 103v2M123 31v3M123 87v1M123 89v1M123 102v1M123 108v1M124 98v1M128 49v2M131 74v2M133 71v1M136 61v1M136 84v2M142 77v1M142 82v1M145 37v1M145 40v1" stroke="#00d7ff"/>
<path d="M8 53v1M20 82v2M28 56v1M28 58v1M28 90v2M38 61v1M38 63v1M40 28v1M40 34v1M46 52v3M47 97v1M49 28v3M49 39v2M50 123v3M55 47v2M55 62v2M60 82v1M61 111v3M63 123v10M64 75v1M65 51v2M66 110v4M68 97v3M75 124v5M77 59v3M78 44v1M78 46v1M78 62v3M79 45v2M79 74v1M83 64v2M83 101v1M88 32v3M90 94v1M91 39v5M92 64v1M93 33v2M93 36v1M95 22v1M95 33v1M96 64v1M97 108v1M97 114v1M99 29v3M102 0v8M102 118v1M102 134v3M103 59v1M104 73v1M105 48v1M105 55v1M107 62v1M107 87v1M108 58v1M110 37v2M112 74v2M113 58v1M113 60v1M113 79v1M113 89v1M113 92v1M114 58v1M114 61v1M122 101v2M123 88v1M123 103v2M123 106v2M124 94v4M127 76v1M127 79v1M133 73v1M136 59v2M142 78v1M142 81v1M145 38v2" stroke="#00efff"/>
<path d="M28 57v1M31 53v3M38 62v1M40 29v1M40 33v1M47 93v1M57 81v1M60 79v1M60 81v1M61 88v1M64 74v1M78 45v1M79 63v1M83 106v1M90 95v4M93 35v1M95 23v1M95 32v1M97 109v5M102 119v2M102 129v5M103 57v2M105 54v1M107 63v2M107 91v1M108 55v3M113 59v1M113 90v2M114 59v2M123 105v1M127 77v2M133 72v1M142 79v2" stroke="#08fff7"/>
<path d="M40 30v3M47 94v3M57 84v1M60 80v1M61 92v1M79 73v1M83 102v4M95 24v2M95 30v2M102 121v8M105 49v1M107 88v1M113 80v1M113 83v1" stroke="#20ffdf"/>
<path d="M57 82v2M61 89v1M61 91v1M79 64v1M79 72v1M95 26v4M105 50v4M107 89v2M113 81v2" stroke="#38ffc7"/>
<path d="M61 90v1" stroke="#50ffaf"/>
<path d="M79 65v1M79 71v1" stroke="#ffd700"/>
<path d="M79 66v1M79 70v1" stroke="#ff4800"/>
<path d="M79 67v1M79 69v1" stroke="#ff0000"/>
<path d="M79 68v1" stroke="#e70000"/>
</g></g></g>
<rect x="34.30" y="29.00" width="31.30" height="137.00" fill="none" stroke="#b8b8b8" stroke-width="0.60"/>
<defs><linearGradient id="ga" x1="0" y1="0" x2="0" y2="1"><stop offset="0.0000" stop-color="#870000"/><stop offset="0.0312" stop-color="#a70000"/><stop offset="0.0625" stop-color="#c60000"/><stop offset="0.0938" stop-color="#e60000"/><stop offset="0.1250" stop-color="#ff0600"/><stop offset="0.1562" stop-color="#ff2500"/><stop offset="0.1875" stop-color="#ff4500"/><stop offset="0.2188" stop-color="#ff6400"/><stop offset="0.2500" stop-color="#ff8300"/><stop offset="0.2812" stop-color="#ffa300"/><stop offset="0.3125" stop-color="#ffc200"/><stop offset="0.3438" stop-color="#ffe200"/><stop offset="0.3750" stop-color="#fdff02"/><stop offset="0.4062" stop-color="#deff21"/><stop offset="0.4375" stop-color="#beff41"/><stop offset="0.4688" stop-color="#9fff60"/><stop offset="0.5000" stop-color="#80ff80"/><stop offset="0.5312" stop-color="#60ff9f"/><stop offset="0.5625" stop-color="#41ffbe"/><stop offset="0.5938" stop-color="#21ffde"/><stop offset="0.6250" stop-color="#02fffd"/><stop offset="0.6562" stop-color="#00e2ff"/><stop offset="0.6875" stop-color="#00c2ff"/><stop offset="0.7188" stop-color="#00a3ff"/><stop offset="0.7500" stop-color="#0083ff"/><stop offset="0.7812" stop-color="#0064ff"/><stop offset="0.8125" stop-color="#0045ff"/><stop offset="0.8438" stop-color="#0025ff"/><stop offset="0.8750" stop-color="#0006ff"/><stop offset="0.9062" stop-color="#0000e6"/><stop offset="0.9375" stop-color="#0000c6"/><stop offset="0.9688" stop-color="#0000a7"/><stop offset="1.0000" stop-color="#000087"/></linearGradient></defs>
<rect x="238.50" y="29.30" width="8.90" height="136.50" fill="url(#ga)"/>
<text x="250.20" y="29.70" font-family='"Liberation Sans", Arial, sans-serif' font-size="7.00" text-anchor="start" dominant-baseline="central" fill="#404040">70</text>
<line x1="246.20" y1="29.70" x2="247.40" y2="29.70" stroke="#555" stroke-width="0.4"/>
<text x="250.20" y="49.20" font-family='"Liberation Sans", Arial, sans-serif' font-size="7.00" text-anchor="start" dominant-baseline="central" fill="#404040">65</text>
<line x1="246.20" y1="49.20" x2="247.40" y2="49.20" stroke="#555" stroke-width="0.4"/>
<text x="250.20" y="68.70" font-family='"Liberation Sans", Arial, sans-serif' font-size="7.00" text-anchor="start" dominant-baseline="central" fill="#404040">60</text>
<line x1="246.20" y1="68.70" x2="247.40" y2="68.70" stroke="#555" stroke-width="0.4"/>
<text x="250.20" y="88.20" font-family='"Liberation Sans", Arial, sans-serif' font-size="7.00" text-anchor="start" dominant-baseline="central" fill="#404040">55</text>
<line x1="246.20" y1="88.20" x2="247.40" y2="88.20" stroke="#555" stroke-width="0.4"/>
<text x="250.20" y="107.70" font-family='"Liberation Sans", Arial, sans-serif' font-size="7.00" text-anchor="start" dominant-baseline="central" fill="#404040">50</text>
<line x1="246.20" y1="107.70" x2="247.40" y2="107.70" stroke="#555" stroke-width="0.4"/>
<text x="250.20" y="127.20" font-family='"Liberation Sans", Arial, sans-serif' font-size="7.00" text-anchor="start" dominant-baseline="central" fill="#404040">45</text>
<line x1="246.20" y1="127.20" x2="247.40" y2="127.20" stroke="#555" stroke-width="0.4"/>
<text x="250.20" y="146.70" font-family='"Liberation Sans", Arial, sans-serif' font-size="7.00" text-anchor="start" dominant-baseline="central" fill="#404040">40</text>
<line x1="246.20" y1="146.70" x2="247.40" y2="146.70" stroke="#555" stroke-width="0.4"/>
<text x="250.20" y="166.20" font-family='"Liberation Sans", Arial, sans-serif' font-size="7.00" text-anchor="start" dominant-baseline="central" fill="#404040">35</text>
<line x1="246.20" y1="166.20" x2="247.40" y2="166.20" stroke="#555" stroke-width="0.4"/>
<rect x="72.20" y="174.30" width="161.50" height="36.90" fill="none" stroke="#b8b8b8" stroke-width="0.60"/>
<text x="69.40" y="174.20" font-family='"Liberation Serif", "Times New Roman", serif' font-size="10.40" text-anchor="end" dominant-baseline="central" fill="#333" stroke="#333" stroke-width="0.22">70</text>
<text x="69.40" y="184.80" font-family='"Liberation Serif", "Times New Roman", serif' font-size="10.40" text-anchor="end" dominant-baseline="central" fill="#333" stroke="#333" stroke-width="0.22">60</text>
<text x="69.40" y="195.40" font-family='"Liberation Serif", "Times New Roman", serif' font-size="10.40" text-anchor="end" dominant-baseline="central" fill="#333" stroke="#333" stroke-width="0.22">50</text>
<text x="69.40" y="206.00" font-family='"Liberation Serif", "Times New Roman", serif' font-size="10.40" text-anchor="end" dominant-baseline="central" fill="#333" stroke="#333" stroke-width="0.22">40</text>
<text x="89.80" y="220.30" font-family='"Liberation Serif", "Times New Roman", serif' font-size="10.40" text-anchor="middle" dominant-baseline="central" fill="#333" stroke="#333" stroke-width="0.22">−100</text>
<line x1="89.80" y1="211.20" x2="89.80" y2="210.00" stroke="#888" stroke-width="0.5"/>
<line x1="89.80" y1="174.30" x2="89.80" y2="175.50" stroke="#888" stroke-width="0.5"/>
<text x="121.30" y="220.30" font-family='"Liberation Serif", "Times New Roman", serif' font-size="10.40" text-anchor="middle" dominant-baseline="central" fill="#333" stroke="#333" stroke-width="0.22">−50</text>
<line x1="121.30" y1="211.20" x2="121.30" y2="210.00" stroke="#888" stroke-width="0.5"/>
<line x1="121.30" y1="174.30" x2="121.30" y2="175.50" stroke="#888" stroke-width="0.5"/>
<text x="152.80" y="220.30" font-family='"Liberation Serif", "Times New Roman", serif' font-size="10.40" text-anchor="middle" dominant-baseline="central" fill="#333" stroke="#333" stroke-width="0.22">0</text>
<line x1="152.80" y1="211.20" x2="152.80" y2="210.00" stroke="#888" stroke-width="0.5"/>
<line x1="152.80" y1="174.30" x2="152.80" y2="175.50" stroke="#888" stroke-width="0.5"/>
<text x="184.30" y="220.30" font-family='"Liberation Serif", "Times New Roman", serif' font-size="10.40" text-anchor="middle" dominant-baseline="central" fill="#333" stroke="#333" stroke-width="0.22">50</text>
<line x1="184.30" y1="211.20" x2="184.30" y2="210.00" stroke="#888" stroke-width="0.5"/>
<line x1="184.30" y1="174.30" x2="184.30" y2="175.50" stroke="#888" stroke-width="0.5"/>
<text x="215.80" y="220.30" font-family='"Liberation Serif", "Times New Roman", serif' font-size="10.40" text-anchor="middle" dominant-baseline="central" fill="#333" stroke="#333" stroke-width="0.22">100</text>
<line x1="215.80" y1="211.20" x2="215.80" y2="210.00" stroke="#888" stroke-width="0.5"/>
<line x1="215.80" y1="174.30" x2="215.80" y2="175.50" stroke="#888" stroke-width="0.5"/>
<text x="152.90" y="234.10" font-family='"Liberation Sans", Arial, sans-serif' font-size="10.00" text-anchor="middle" dominant-baseline="central" fill="#333">Lag number</text>
<text x="139.60" y="250.80" font-family='"Liberation Serif", "Times New Roman", serif' font-size="13.20" text-anchor="middle" dominant-baseline="central" fill="#111" font-weight="bold">(a)</text>
<text x="49.70" y="11.60" font-family='"Liberation Sans", Arial, sans-serif' font-size="8.50" text-anchor="middle" dominant-baseline="central" fill="#333">dB</text>
<text x="38.00" y="25.60" font-family='"Liberation Sans", Arial, sans-serif' font-size="6.60" text-anchor="end" dominant-baseline="central" fill="#333" transform="rotate(90 38.00 25.60)">40</text>
<line x1="38.00" y1="29.00" x2="38.00" y2="30.20" stroke="#888" stroke-width="0.5"/>
<line x1="38.00" y1="166.00" x2="38.00" y2="164.80" stroke="#888" stroke-width="0.5"/>
<text x="47.00" y="25.60" font-family='"Liberation Sans", Arial, sans-serif' font-size="6.60" text-anchor="end" dominant-baseline="central" fill="#333" transform="rotate(90 47.00 25.60)">50</text>
<line x1="47.00" y1="29.00" x2="47.00" y2="30.20" stroke="#888" stroke-width="0.5"/>
<line x1="47.00" y1="166.00" x2="47.00" y2="164.80" stroke="#888" stroke-width="0.5"/>
<text x="56.00" y="25.60" font-family='"Liberation Sans", Arial, sans-serif' font-size="6.60" text-anchor="end" dominant-baseline="central" fill="#333" transform="rotate(90 56.00 25.60)">60</text>
<line x1="56.00" y1="29.00" x2="56.00" y2="30.20" stroke="#888" stroke-width="0.5"/>
<line x1="56.00" y1="166.00" x2="56.00" y2="164.80" stroke="#888" stroke-width="0.5"/>
<text x="66.00" y="25.60" font-family='"Liberation Sans", Arial, sans-serif' font-size="6.60" text-anchor="end" dominant-baseline="central" fill="#333" transform="rotate(90 66.00 25.60)">70</text>
<line x1="66.00" y1="29.00" x2="66.00" y2="30.20" stroke="#888" stroke-width="0.5"/>
<line x1="66.00" y1="166.00" x2="66.00" y2="164.80" stroke="#888" stroke-width="0.5"/>
<text x="27.00" y="59.40" font-family='"Liberation Serif", "Times New Roman", serif' font-size="7.40" text-anchor="middle" dominant-baseline="central" fill="#333" transform="rotate(90 27.00 59.40)">−50</text>
<line x1="34.30" y1="59.40" x2="35.50" y2="59.40" stroke="#888" stroke-width="0.5"/>
<line x1="65.60" y1="59.40" x2="64.40" y2="59.40" stroke="#888" stroke-width="0.5"/>
<text x="27.00" y="97.80" font-family='"Liberation Serif", "Times New Roman", serif' font-size="7.40" text-anchor="middle" dominant-baseline="central" fill="#333" transform="rotate(90 27.00 97.80)">0</text>
<line x1="34.30" y1="97.80" x2="35.50" y2="97.80" stroke="#888" stroke-width="0.5"/>
<line x1="65.60" y1="97.80" x2="64.40" y2="97.80" stroke="#888" stroke-width="0.5"/>
<text x="27.00" y="136.60" font-family='"Liberation Serif", "Times New Roman", serif' font-size="7.40" text-anchor="middle" dominant-baseline="central" fill="#333" transform="rotate(90 27.00 136.60)">50</text>
<line x1="34.30" y1="136.60" x2="35.50" y2="136.60" stroke="#888" stroke-width="0.5"/>
<line x1="65.60" y1="136.60" x2="64.40" y2="136.60" stroke="#888" stroke-width="0.5"/>
<text x="14.70" y="98.00" font-family='"Liberation Sans", Arial, sans-serif' font-size="9.20" text-anchor="middle" dominant-baseline="central" fill="#333" transform="rotate(90 14.70 98.00)">Direction(degree)</text>
<text x="52.30" y="192.80" font-family='"Liberation Sans", Arial, sans-serif' font-size="9.00" text-anchor="middle" dominant-baseline="central" fill="#333" transform="rotate(-90 52.30 192.80)">dB</text>
<clipPath id="cp2"><rect x="34.60" y="29.30" width="30.70" height="136.40"/></clipPath><g clip-path="url(#cp2)">
<polyline points="31.3,28.4 31.3,28.5 31.3,28.6 31.3,28.6 31.3,28.7 31.3,28.8 31.3,28.9 31.3,28.9 31.3,29.0 31.3,29.1 31.3,29.2 31.3,29.2 31.3,29.3 31.3,29.4 31.3,29.5 31.3,29.6 31.3,29.6 31.3,29.7 31.3,29.8 31.3,29.9 31.3,29.9 31.3,30.0 31.3,30.1 31.3,30.2 31.3,30.2 31.3,30.3 31.3,30.4 31.3,30.5 31.3,30.6 31.3,30.6 31.3,30.7 31.3,30.8 31.3,30.9 31.3,30.9 31.3,31.0 31.3,31.1 31.3,31.2 31.3,31.3 31.3,31.3 31.3,31.4 31.3,31.5 31.3,31.6 31.3,31.6 31.3,31.7 31.3,31.8 31.3,31.9 31.3,31.9 31.3,32.0 31.3,32.1 31.3,32.2 31.3,32.3 31.3,32.3 31.3,32.4 31.3,32.5 31.3,32.6 31.3,32.6 31.3,32.7 31.3,32.8 31.3,32.9 31.3,32.9 31.3,33.0 31.3,33.1 31.3,33.2 31.3,33.3 31.3,33.3 31.3,33.4 31.3,33.5 31.3,33.6 31.3,33.6 31.3,33.7 31.3,33.8 31.3,33.9 31.3,34.0 31.3,34.0 31.3,34.1 31.3,34.2 31.3,34.3 31.3,34.3 31.3,34.4 31.3,34.5 31.3,34.6 31.3,34.6 31.3,34.7 31.3,34.8 31.3,34.9 31.3,35.0 31.3,35.0 31.3,35.1 31.3,35.2 31.3,35.3 31.3,35.3 31.3,35.4 31.3,35.5 31.3,35.6 31.3,35.6 31.3,35.7 31.5,35.8 31.6,35.9 31.8,36.0 31.9,36.0 32.1,36.1 32.2,36.2 32.4,36.3 32.5,36.3 32.7,36.4 32.8,36.5 33.0,36.6 33.1,36.7 33.2,36.7 33.4,36.8 33.5,36.9 33.6,37.0 33.8,37.0 33.9,37.1 34.0,37.2 34.2,37.3 34.3,37.3 34.4,37.4 34.5,37.5 34.6,37.6 34.8,37.7 34.9,37.7 35.0,37.8 35.1,37.9 35.2,38.0 35.3,38.0 35.4,38.1 35.6,38.2 35.7,38.3 35.8,38.4 35.9,38.4 36.0,38.5 36.1,38.6 36.2,38.7 36.3,38.7 36.4,38.8 36.5,38.9 36.6,39.0 36.7,39.0 36.8,39.1 36.8,39.2 36.9,39.3 37.0,39.4 37.1,39.4 37.2,39.5 37.3,39.6 37.4,39.7 37.4,39.7 37.5,39.8 37.6,39.9 37.7,40.0 37.8,40.0 37.8,40.1 37.9,40.2 38.0,40.3 38.1,40.4 38.1,40.4 38.2,40.5 38.3,40.6 38.3,40.7 38.4,40.7 38.5,40.8 38.5,40.9 38.6,41.0 38.6,41.1 38.7,41.1 38.8,41.2 38.8,41.3 38.9,41.4 38.9,41.4 39.0,41.5 39.0,41.6 39.1,41.7 39.1,41.7 39.2,41.8 39.2,41.9 39.3,42.0 39.3,42.1 39.4,42.1 39.4,42.2 39.4,42.3 39.5,42.4 39.5,42.4 39.5,42.5 39.6,42.6 39.6,42.7 39.6,42.7 39.7,42.8 39.7,42.9 39.7,43.0 39.7,43.1 39.8,43.1 39.8,43.2 39.8,43.3 39.8,43.4 39.8,43.4 39.8,43.5 39.8,43.6 39.9,43.7 39.9,43.8 39.9,43.8 39.9,43.9 39.9,44.0 39.9,44.1 39.9,44.1 39.9,44.2 39.9,44.3 39.9,44.4 39.9,44.4 39.9,44.5 39.8,44.6 39.8,44.7 39.8,44.8 39.8,44.8 39.8,44.9 39.7,45.0 39.7,45.1 39.7,45.1 39.7,45.2 39.6,45.3 39.6,45.4 39.6,45.4 39.5,45.5 39.5,45.6 39.4,45.7 39.4,45.8 39.3,45.8 39.3,45.9 39.2,46.0 39.2,46.1 39.1,46.1 39.0,46.2 39.0,46.3 38.9,46.4 38.8,46.5 38.7,46.5 38.7,46.6 38.6,46.7 38.5,46.8 38.4,46.8 38.3,46.9 38.2,47.0 38.1,47.1 38.0,47.1 37.9,47.2 37.7,47.3 37.6,47.4 37.5,47.5 37.3,47.5 37.2,47.6 37.0,47.7 36.9,47.8 36.7,47.8 36.6,47.9 36.4,48.0 36.2,48.1 36.0,48.1 35.8,48.2 35.6,48.3 35.4,48.4 35.2,48.5 34.9,48.5 34.7,48.6 34.4,48.7 34.1,48.8 33.8,48.8 33.5,48.9 33.2,49.0 32.9,49.1 32.5,49.2 32.1,49.2 31.7,49.3 31.3,49.4 31.3,49.5 31.3,49.5 31.3,49.6 31.3,49.7 31.3,49.8 31.3,49.8 31.3,49.9 31.3,50.0 31.3,50.1 31.3,50.2 31.3,50.2 31.3,50.3 31.3,50.4 31.3,50.5 31.3,50.5 31.3,50.6 31.3,50.7 31.3,50.8 31.3,50.8 31.3,50.9 31.3,51.0 31.3,51.1 31.3,51.2 31.3,51.2 31.3,51.3 31.3,51.4 31.3,51.5 31.3,51.5 31.3,51.6 31.3,51.7 31.3,51.8 31.3,51.9 31.6,51.9 32.1,52.0 32.5,52.1 32.9,52.2 33.3,52.2 33.7,52.3 34.0,52.4 34.4,52.5 34.7,52.5 35.0,52.6 35.3,52.7 35.5,52.8 35.8,52.9 36.1,52.9 36.3,53.0 36.5,53.1 36.7,53.2 37.0,53.2 37.2,53.3 37.4,53.4 37.5,53.5 37.7,53.6 37.9,53.6 38.1,53.7 38.2,53.8 38.4,53.9 38.5,53.9 38.6,54.0 38.8,54.1 38.9,54.2 39.0,54.2 39.1,54.3 39.2,54.4 39.3,54.5 39.4,54.6 39.5,54.6 39.6,54.7 39.7,54.8 39.7,54.9 39.8,54.9 39.9,55.0 39.9,55.1 40.0,55.2 40.0,55.2 40.1,55.3 40.1,55.4 40.1,55.5 40.1,55.6 40.2,55.6 40.2,55.7 40.2,55.8 40.2,55.9 40.2,55.9 40.2,56.0 40.2,56.1 40.2,56.2 40.1,56.3 40.1,56.3 40.1,56.4 40.0,56.5 40.0,56.6 40.0,56.6 39.9,56.7 39.8,56.8 39.8,56.9 39.7,56.9 39.6,57.0 39.5,57.1 39.4,57.2 39.3,57.3 39.2,57.3 39.1,57.4 39.0,57.5 38.8,57.6 38.7,57.6 38.6,57.7 38.4,57.8 38.2,57.9 38.0,57.9 37.9,58.0 37.7,58.1 37.4,58.2 37.2,58.3 37.0,58.3 36.7,58.4 36.4,58.5 36.2,58.6 35.9,58.6 35.5,58.7 35.2,58.8 34.8,58.9 34.4,59.0 34.0,59.0 33.5,59.1 33.0,59.2 32.5,59.3 31.9,59.3 31.3,59.4 31.3,59.5 31.3,59.6 31.3,59.6 31.3,59.7 31.3,59.8 31.3,59.9 31.3,60.0 31.3,60.0 31.3,60.1 31.3,60.2 31.3,60.3 31.3,60.3 31.3,60.4 31.3,60.5 31.3,60.6 31.3,60.6 31.3,60.7 31.3,60.8 31.3,60.9 31.3,61.0 31.3,61.0 31.3,61.1 31.8,61.2 32.5,61.3 33.1,61.3 33.6,61.4 34.1,61.5 34.6,61.6 35.0,61.7 35.4,61.7 35.8,61.8 36.2,61.9 36.5,62.0 36.8,62.0 37.1,62.1 37.4,62.2 37.7,62.3 37.9,62.3 38.2,62.4 38.4,62.5 38.6,62.6 38.8,62.7 39.0,62.7 39.2,62.8 39.4,62.9 39.5,63.0 39.7,63.0 39.8,63.1 39.9,63.2 40.1,63.3 40.2,63.3 40.3,63.4 40.4,63.5 40.5,63.6 40.5,63.7 40.6,63.7 40.7,63.8 40.7,63.9 40.8,64.0 40.8,64.0 40.8,64.1 40.8,64.2 40.8,64.3 40.9,64.4 40.8,64.4 40.8,64.5 40.8,64.6 40.8,64.7 40.7,64.7 40.7,64.8 40.6,64.9 40.6,65.0 40.5,65.0 40.4,65.1 40.3,65.2 40.2,65.3 40.1,65.4 40.0,65.4 39.9,65.5 39.7,65.6 39.6,65.7 39.4,65.7 39.2,65.8 39.0,65.9 38.8,66.0 38.6,66.0 38.3,66.1 38.1,66.2 37.8,66.3 37.5,66.4 37.2,66.4 36.8,66.5 36.4,66.6 36.0,66.7 35.6,66.7 35.1,66.8 34.6,66.9 34.1,67.0 33.4,67.1 32.8,67.1 32.0,67.2 31.3,67.3 31.3,67.4 31.3,67.4 31.3,67.5 31.3,67.6 31.3,67.7 31.3,67.7 31.3,67.8 31.3,67.9 31.3,68.0 31.3,68.1 31.3,68.1 31.3,68.2 31.3,68.3 31.3,68.4 31.3,68.4 31.3,68.5 31.5,68.6 32.4,68.7 33.2,68.8 33.9,68.8 34.5,68.9 35.1,69.0 35.7,69.1 36.2,69.1 36.6,69.2 37.0,69.3 37.5,69.4 37.8,69.4 38.2,69.5 38.5,69.6 38.8,69.7 39.1,69.8 39.4,69.8 39.6,69.9 39.8,70.0 40.1,70.1 40.3,70.1 40.5,70.2 40.6,70.3 40.8,70.4 41.0,70.4 41.1,70.5 41.2,70.6 41.3,70.7 41.4,70.8 41.5,70.8 41.6,70.9 41.7,71.0 41.8,71.1 41.8,71.1 41.9,71.2 41.9,71.3 41.9,71.4 41.9,71.5 41.9,71.5 41.9,71.6 41.9,71.7 41.8,71.8 41.8,71.8 41.7,71.9 41.7,72.0 41.6,72.1 41.5,72.1 41.4,72.2 41.3,72.3 41.2,72.4 41.0,72.5 40.9,72.5 40.7,72.6 40.5,72.7 40.3,72.8 40.1,72.8 39.8,72.9 39.6,73.0 39.3,73.1 39.0,73.1 38.7,73.2 38.3,73.3 37.9,73.4 37.5,73.5 37.0,73.5 36.5,73.6 36.0,73.7 35.4,73.8 34.7,73.8 33.9,73.9 33.1,74.0 32.1,74.1 31.3,74.2 31.3,74.2 31.3,74.3 31.3,74.4 31.3,74.5 31.3,74.5 31.3,74.6 31.3,74.7 31.3,74.8 31.3,74.8 31.3,74.9 31.3,75.0 31.3,75.1 31.7,75.2 32.8,75.2 33.8,75.3 34.6,75.4 35.4,75.5 36.1,75.5 36.7,75.6 37.3,75.7 37.9,75.8 38.4,75.8 38.8,75.9 39.2,76.0 39.6,76.1 40.0,76.2 40.3,76.2 40.6,76.3 40.9,76.4 41.2,76.5 41.5,76.5 41.7,76.6 41.9,76.7 42.1,76.8 42.3,76.9 42.5,76.9 42.6,77.0 42.8,77.1 42.9,77.2 43.0,77.2 43.1,77.3 43.2,77.4 43.3,77.5 43.4,77.5 43.4,77.6 43.5,77.7 43.5,77.8 43.5,77.9 43.5,77.9 43.5,78.0 43.5,78.1 43.4,78.2 43.4,78.2 43.3,78.3 43.3,78.4 43.2,78.5 43.1,78.5 43.0,78.6 42.8,78.7 42.7,78.8 42.5,78.9 42.3,78.9 42.1,79.0 41.9,79.1 41.7,79.2 41.4,79.2 41.1,79.3 40.8,79.4 40.5,79.5 40.1,79.6 39.7,79.6 39.2,79.7 38.7,79.8 38.2,79.9 37.6,79.9 36.9,80.0 36.1,80.1 35.3,80.2 34.3,80.2 33.2,80.3 31.8,80.4 31.3,80.5 31.3,80.6 31.3,80.6 31.3,80.7 31.3,80.8 31.3,80.9 31.3,80.9 31.3,81.0 31.3,81.1 31.7,81.2 33.2,81.2 34.5,81.3 35.6,81.4 36.5,81.5 37.4,81.6 38.1,81.6 38.8,81.7 39.4,81.8 40.0,81.9 40.5,81.9 41.0,82.0 41.5,82.1 41.9,82.2 42.3,82.3 42.6,82.3 43.0,82.4 43.3,82.5 43.6,82.6 43.8,82.6 44.1,82.7 44.3,82.8 44.5,82.9 44.7,82.9 44.9,83.0 45.1,83.1 45.2,83.2 45.3,83.3 45.5,83.3 45.6,83.4 45.7,83.5 45.7,83.6 45.8,83.6 45.8,83.7 45.9,83.8 45.9,83.9 45.9,84.0 45.9,84.0 45.9,84.1 45.9,84.2 45.8,84.3 45.7,84.3 45.7,84.4 45.6,84.5 45.5,84.6 45.3,84.6 45.2,84.7 45.0,84.8 44.8,84.9 44.6,85.0 44.4,85.0 44.2,85.1 43.9,85.2 43.6,85.3 43.2,85.3 42.9,85.4 42.5,85.5 42.0,85.6 41.5,85.6 41.0,85.7 40.4,85.8 39.7,85.9 38.9,86.0 38.0,86.0 37.0,86.1 35.7,86.2 34.3,86.3 32.4,86.3 31.3,86.4 31.3,86.5 31.3,86.6 31.3,86.7 31.3,86.7 31.3,86.8 32.1,86.9 34.2,87.0 35.9,87.0 37.3,87.1 38.5,87.2 39.5,87.3 40.4,87.3 41.3,87.4 42.0,87.5 42.7,87.6 43.3,87.7 43.9,87.7 44.4,87.8 44.9,87.9 45.3,88.0 45.7,88.0 46.1,88.1 46.5,88.2 46.8,88.3 47.1,88.3 47.4,88.4 47.7,88.5 48.0,88.6 48.2,88.7 48.4,88.7 48.6,88.8 48.8,88.9 49.0,89.0 49.1,89.0 49.3,89.1 49.4,89.2 49.5,89.3 49.6,89.4 49.7,89.4 49.8,89.5 49.8,89.6 49.9,89.7 49.9,89.7 49.9,89.8 49.9,89.9 49.9,90.0 49.9,90.0 49.8,90.1 49.7,90.2 49.7,90.3 49.6,90.4 49.4,90.4 49.3,90.5 49.1,90.6 49.0,90.7 48.8,90.7 48.5,90.8 48.3,90.9 48.0,91.0 47.7,91.0 47.3,91.1 46.9,91.2 46.4,91.3 45.9,91.4 45.4,91.4 44.7,91.5 44.0,91.6 43.2,91.7 42.2,91.7 41.0,91.8 39.6,91.9 37.8,92.0 35.3,92.1 31.7,92.1 31.3,92.2 31.3,92.3 31.3,92.4 34.9,92.4 37.9,92.5 40.0,92.6 41.8,92.7 43.2,92.7 44.5,92.8 45.6,92.9 46.6,93.0 47.5,93.1 48.3,93.1 49.0,93.2 49.7,93.3 50.4,93.4 51.0,93.4 51.5,93.5 52.1,93.6 52.6,93.7 53.0,93.7 53.5,93.8 53.9,93.9 54.3,94.0 54.7,94.1 55.1,94.1 55.4,94.2 55.8,94.3 56.1,94.4 56.4,94.4 56.7,94.5 57.0,94.6 57.3,94.7 57.5,94.8 57.8,94.8 58.0,94.9 58.3,95.0 58.5,95.1 58.7,95.1 58.9,95.2 59.1,95.3 59.3,95.4 59.5,95.4 59.6,95.5 59.8,95.6 60.0,95.7 60.1,95.8 60.3,95.8 60.4,95.9 60.5,96.0 60.7,96.1 60.8,96.1 60.9,96.2 61.0,96.3 61.1,96.4 61.2,96.4 61.3,96.5 61.4,96.6 61.5,96.7 61.5,96.8 61.6,96.8 61.7,96.9 61.7,97.0 61.8,97.1 61.8,97.1 61.9,97.2 61.9,97.3 61.9,97.4 61.9,97.5 62.0,97.5 62.0,97.6 62.0,97.7 62.0,97.8 62.0,97.8 62.0,97.9 62.0,98.0 62.0,98.1 61.9,98.1 61.9,98.2 61.9,98.3 61.9,98.4 61.8,98.5 61.8,98.5 61.7,98.6 61.7,98.7 61.6,98.8 61.5,98.8 61.5,98.9 61.4,99.0 61.3,99.1 61.2,99.2 61.1,99.2 61.0,99.3 60.9,99.4 60.8,99.5 60.7,99.5 60.5,99.6 60.4,99.7 60.3,99.8 60.1,99.8 60.0,99.9 59.8,100.0 59.6,100.1 59.5,100.2 59.3,100.2 59.1,100.3 58.9,100.4 58.7,100.5 58.5,100.5 58.3,100.6 58.0,100.7 57.8,100.8 57.5,100.8 57.3,100.9 57.0,101.0 56.7,101.1 56.4,101.2 56.1,101.2 55.8,101.3 55.4,101.4 55.1,101.5 54.7,101.5 54.3,101.6 53.9,101.7 53.5,101.8 53.0,101.9 52.6,101.9 52.1,102.0 51.5,102.1 51.0,102.2 50.4,102.2 49.7,102.3 49.0,102.4 48.3,102.5 47.5,102.5 46.6,102.6 45.6,102.7 44.5,102.8 43.2,102.9 41.8,102.9 40.0,103.0 37.9,103.1 34.9,103.2 31.3,103.2 31.3,103.3 31.3,103.4 31.7,103.5 35.3,103.5 37.8,103.6 39.6,103.7 41.0,103.8 42.2,103.9 43.2,103.9 44.0,104.0 44.7,104.1 45.4,104.2 45.9,104.2 46.4,104.3 46.9,104.4 47.3,104.5 47.7,104.6 48.0,104.6 48.3,104.7 48.5,104.8 48.8,104.9 49.0,104.9 49.1,105.0 49.3,105.1 49.4,105.2 49.6,105.2 49.7,105.3 49.7,105.4 49.8,105.5 49.9,105.6 49.9,105.6 49.9,105.7 49.9,105.8 49.9,105.9 49.9,105.9 49.8,106.0 49.8,106.1 49.7,106.2 49.6,106.2 49.5,106.3 49.4,106.4 49.3,106.5 49.1,106.6 49.0,106.6 48.8,106.7 48.6,106.8 48.4,106.9 48.2,106.9 48.0,107.0 47.7,107.1 47.4,107.2 47.1,107.3 46.8,107.3 46.5,107.4 46.1,107.5 45.7,107.6 45.3,107.6 44.9,107.7 44.4,107.8 43.9,107.9 43.3,107.9 42.7,108.0 42.0,108.1 41.3,108.2 40.4,108.3 39.5,108.3 38.5,108.4 37.3,108.5 35.9,108.6 34.2,108.6 32.1,108.7 31.3,108.8 31.3,108.9 31.3,108.9 31.3,109.0 31.3,109.1 31.3,109.2 32.4,109.3 34.3,109.3 35.7,109.4 37.0,109.5 38.0,109.6 38.9,109.6 39.7,109.7 40.4,109.8 41.0,109.9 41.5,110.0 42.0,110.0 42.5,110.1 42.9,110.2 43.2,110.3 43.6,110.3 43.9,110.4 44.2,110.5 44.4,110.6 44.6,110.6 44.8,110.7 45.0,110.8 45.2,110.9 45.3,111.0 45.5,111.0 45.6,111.1 45.7,111.2 45.7,111.3 45.8,111.3 45.9,111.4 45.9,111.5 45.9,111.6 45.9,111.6 45.9,111.7 45.9,111.8 45.8,111.9 45.8,112.0 45.7,112.0 45.7,112.1 45.6,112.2 45.5,112.3 45.3,112.3 45.2,112.4 45.1,112.5 44.9,112.6 44.7,112.7 44.5,112.7 44.3,112.8 44.1,112.9 43.8,113.0 43.6,113.0 43.3,113.1 43.0,113.2 42.6,113.3 42.3,113.3 41.9,113.4 41.5,113.5 41.0,113.6 40.5,113.7 40.0,113.7 39.4,113.8 38.8,113.9 38.1,114.0 37.4,114.0 36.5,114.1 35.6,114.2 34.5,114.3 33.2,114.4 31.7,114.4 31.3,114.5 31.3,114.6 31.3,114.7 31.3,114.7 31.3,114.8 31.3,114.9 31.3,115.0 31.3,115.0 31.3,115.1 31.8,115.2 33.2,115.3 34.3,115.4 35.3,115.4 36.1,115.5 36.9,115.6 37.6,115.7 38.2,115.7 38.7,115.8 39.2,115.9 39.7,116.0 40.1,116.0 40.5,116.1 40.8,116.2 41.1,116.3 41.4,116.4 41.7,116.4 41.9,116.5 42.1,116.6 42.3,116.7 42.5,116.7 42.7,116.8 42.8,116.9 43.0,117.0 43.1,117.1 43.2,117.1 43.3,117.2 43.3,117.3 43.4,117.4 43.4,117.4 43.5,117.5 43.5,117.6 43.5,117.7 43.5,117.7 43.5,117.8 43.5,117.9 43.4,118.0 43.4,118.1 43.3,118.1 43.2,118.2 43.1,118.3 43.0,118.4 42.9,118.4 42.8,118.5 42.6,118.6 42.5,118.7 42.3,118.7 42.1,118.8 41.9,118.9 41.7,119.0 41.5,119.1 41.2,119.1 40.9,119.2 40.6,119.3 40.3,119.4 40.0,119.4 39.6,119.5 39.2,119.6 38.8,119.7 38.4,119.8 37.9,119.8 37.3,119.9 36.7,120.0 36.1,120.1 35.4,120.1 34.6,120.2 33.8,120.3 32.8,120.4 31.7,120.4 31.3,120.5 31.3,120.6 31.3,120.7 31.3,120.8 31.3,120.8 31.3,120.9 31.3,121.0 31.3,121.1 31.3,121.1 31.3,121.2 31.3,121.3 31.3,121.4 31.3,121.4 32.1,121.5 33.1,121.6 33.9,121.7 34.7,121.8 35.4,121.8 36.0,121.9 36.5,122.0 37.0,122.1 37.5,122.1 37.9,122.2 38.3,122.3 38.7,122.4 39.0,122.5 39.3,122.5 39.6,122.6 39.8,122.7 40.1,122.8 40.3,122.8 40.5,122.9 40.7,123.0 40.9,123.1 41.0,123.1 41.2,123.2 41.3,123.3 41.4,123.4 41.5,123.5 41.6,123.5 41.7,123.6 41.7,123.7 41.8,123.8 41.8,123.8 41.9,123.9 41.9,124.0 41.9,124.1 41.9,124.1 41.9,124.2 41.9,124.3 41.9,124.4 41.8,124.5 41.8,124.5 41.7,124.6 41.6,124.7 41.5,124.8 41.4,124.8 41.3,124.9 41.2,125.0 41.1,125.1 41.0,125.2 40.8,125.2 40.6,125.3 40.5,125.4 40.3,125.5 40.1,125.5 39.8,125.6 39.6,125.7 39.4,125.8 39.1,125.8 38.8,125.9 38.5,126.0 38.2,126.1 37.8,126.2 37.5,126.2 37.0,126.3 36.6,126.4 36.2,126.5 35.7,126.5 35.1,126.6 34.5,126.7 33.9,126.8 33.2,126.8 32.4,126.9 31.5,127.0 31.3,127.1 31.3,127.2 31.3,127.2 31.3,127.3 31.3,127.4 31.3,127.5 31.3,127.5 31.3,127.6 31.3,127.7 31.3,127.8 31.3,127.9 31.3,127.9 31.3,128.0 31.3,128.1 31.3,128.2 31.3,128.2 31.3,128.3 32.0,128.4 32.8,128.5 33.4,128.5 34.1,128.6 34.6,128.7 35.1,128.8 35.6,128.9 36.0,128.9 36.4,129.0 36.8,129.1 37.2,129.2 37.5,129.2 37.8,129.3 38.1,129.4 38.3,129.5 38.6,129.6 38.8,129.6 39.0,129.7 39.2,129.8 39.4,129.9 39.6,129.9 39.7,130.0 39.9,130.1 40.0,130.2 40.1,130.2 40.2,130.3 40.3,130.4 40.4,130.5 40.5,130.6 40.6,130.6 40.6,130.7 40.7,130.8 40.7,130.9 40.8,130.9 40.8,131.0 40.8,131.1 40.8,131.2 40.9,131.2 40.8,131.3 40.8,131.4 40.8,131.5 40.8,131.6 40.8,131.6 40.7,131.7 40.7,131.8 40.6,131.9 40.5,131.9 40.5,132.0 40.4,132.1 40.3,132.2 40.2,132.3 40.1,132.3 39.9,132.4 39.8,132.5 39.7,132.6 39.5,132.6 39.4,132.7 39.2,132.8 39.0,132.9 38.8,132.9 38.6,133.0 38.4,133.1 38.2,133.2 37.9,133.3 37.7,133.3 37.4,133.4 37.1,133.5 36.8,133.6 36.5,133.6 36.2,133.7 35.8,133.8 35.4,133.9 35.0,133.9 34.6,134.0 34.1,134.1 33.6,134.2 33.1,134.3 32.5,134.3 31.8,134.4 31.3,134.5 31.3,134.6 31.3,134.6 31.3,134.7 31.3,134.8 31.3,134.9 31.3,135.0 31.3,135.0 31.3,135.1 31.3,135.2 31.3,135.3 31.3,135.3 31.3,135.4 31.3,135.5 31.3,135.6 31.3,135.6 31.3,135.7 31.3,135.8 31.3,135.9 31.3,136.0 31.3,136.0 31.3,136.1 31.3,136.2 31.9,136.3 32.5,136.3 33.0,136.4 33.5,136.5 34.0,136.6 34.4,136.6 34.8,136.7 35.2,136.8 35.5,136.9 35.9,137.0 36.2,137.0 36.4,137.1 36.7,137.2 37.0,137.3 37.2,137.3 37.4,137.4 37.7,137.5 37.9,137.6 38.0,137.7 38.2,137.7 38.4,137.8 38.6,137.9 38.7,138.0 38.8,138.0 39.0,138.1 39.1,138.2 39.2,138.3 39.3,138.3 39.4,138.4 39.5,138.5 39.6,138.6 39.7,138.7 39.8,138.7 39.8,138.8 39.9,138.9 40.0,139.0 40.0,139.0 40.0,139.1 40.1,139.2 40.1,139.3 40.1,139.3 40.2,139.4 40.2,139.5 40.2,139.6 40.2,139.7 40.2,139.7 40.2,139.8 40.2,139.9 40.2,140.0 40.1,140.0 40.1,140.1 40.1,140.2 40.1,140.3 40.0,140.4 40.0,140.4 39.9,140.5 39.9,140.6 39.8,140.7 39.7,140.7 39.7,140.8 39.6,140.9 39.5,141.0 39.4,141.0 39.3,141.1 39.2,141.2 39.1,141.3 39.0,141.4 38.9,141.4 38.8,141.5 38.6,141.6 38.5,141.7 38.4,141.7 38.2,141.8 38.1,141.9 37.9,142.0 37.7,142.0 37.5,142.1 37.4,142.2 37.2,142.3 37.0,142.4 36.7,142.4 36.5,142.5 36.3,142.6 36.1,142.7 35.8,142.7 35.5,142.8 35.3,142.9 35.0,143.0 34.7,143.1 34.4,143.1 34.0,143.2 33.7,143.3 33.3,143.4 32.9,143.4 32.5,143.5 32.1,143.6 31.6,143.7 31.3,143.7 31.3,143.8 31.3,143.9 31.3,144.0 31.3,144.1 31.3,144.1 31.3,144.2 31.3,144.3 31.3,144.4 31.3,144.4 31.3,144.5 31.3,144.6 31.3,144.7 31.3,144.8 31.3,144.8 31.3,144.9 31.3,145.0 31.3,145.1 31.3,145.1 31.3,145.2 31.3,145.3 31.3,145.4 31.3,145.4 31.3,145.5 31.3,145.6 31.3,145.7 31.3,145.8 31.3,145.8 31.3,145.9 31.3,146.0 31.3,146.1 31.3,146.1 31.3,146.2 31.7,146.3 32.1,146.4 32.5,146.4 32.9,146.5 33.2,146.6 33.5,146.7 33.8,146.8 34.1,146.8 34.4,146.9 34.7,147.0 34.9,147.1 35.2,147.1 35.4,147.2 35.6,147.3 35.8,147.4 36.0,147.5 36.2,147.5 36.4,147.6 36.6,147.7 36.7,147.8 36.9,147.8 37.0,147.9 37.2,148.0 37.3,148.1 37.5,148.1 37.6,148.2 37.7,148.3 37.9,148.4 38.0,148.5 38.1,148.5 38.2,148.6 38.3,148.7 38.4,148.8 38.5,148.8 38.6,148.9 38.7,149.0 38.7,149.1 38.8,149.1 38.9,149.2 39.0,149.3 39.0,149.4 39.1,149.5 39.2,149.5 39.2,149.6 39.3,149.7 39.3,149.8 39.4,149.8 39.4,149.9 39.5,150.0 39.5,150.1 39.6,150.2 39.6,150.2 39.6,150.3 39.7,150.4 39.7,150.5 39.7,150.5 39.7,150.6 39.8,150.7 39.8,150.8 39.8,150.8 39.8,150.9 39.8,151.0 39.9,151.1 39.9,151.2 39.9,151.2 39.9,151.3 39.9,151.4 39.9,151.5 39.9,151.5 39.9,151.6 39.9,151.7 39.9,151.8 39.9,151.8 39.9,151.9 39.8,152.0 39.8,152.1 39.8,152.2 39.8,152.2 39.8,152.3 39.8,152.4 39.8,152.5 39.7,152.5 39.7,152.6 39.7,152.7 39.7,152.8 39.6,152.9 39.6,152.9 39.6,153.0 39.5,153.1 39.5,153.2 39.5,153.2 39.4,153.3 39.4,153.4 39.4,153.5 39.3,153.5 39.3,153.6 39.2,153.7 39.2,153.8 39.1,153.9 39.1,153.9 39.0,154.0 39.0,154.1 38.9,154.2 38.9,154.2 38.8,154.3 38.8,154.4 38.7,154.5 38.6,154.5 38.6,154.6 38.5,154.7 38.5,154.8 38.4,154.9 38.3,154.9 38.3,155.0 38.2,155.1 38.1,155.2 38.1,155.2 38.0,155.3 37.9,155.4 37.8,155.5 37.8,155.6 37.7,155.6 37.6,155.7 37.5,155.8 37.4,155.9 37.4,155.9 37.3,156.0 37.2,156.1 37.1,156.2 37.0,156.2 36.9,156.3 36.8,156.4 36.8,156.5 36.7,156.6 36.6,156.6 36.5,156.7 36.4,156.8 36.3,156.9 36.2,156.9 36.1,157.0 36.0,157.1 35.9,157.2 35.8,157.2 35.7,157.3 35.6,157.4 35.4,157.5 35.3,157.6 35.2,157.6 35.1,157.7 35.0,157.8 34.9,157.9 34.8,157.9 34.6,158.0 34.5,158.1 34.4,158.2 34.3,158.3 34.2,158.3 34.0,158.4 33.9,158.5 33.8,158.6 33.6,158.6 33.5,158.7 33.4,158.8 33.2,158.9 33.1,158.9 33.0,159.0 32.8,159.1 32.7,159.2 32.5,159.3 32.4,159.3 32.2,159.4 32.1,159.5 31.9,159.6 31.8,159.6 31.6,159.7 31.5,159.8 31.3,159.9 31.3,160.0 31.3,160.0 31.3,160.1 31.3,160.2 31.3,160.3 31.3,160.3 31.3,160.4 31.3,160.5 31.3,160.6 31.3,160.6 31.3,160.7 31.3,160.8 31.3,160.9 31.3,161.0 31.3,161.0 31.3,161.1 31.3,161.2 31.3,161.3 31.3,161.3 31.3,161.4 31.3,161.5 31.3,161.6 31.3,161.6 31.3,161.7 31.3,161.8 31.3,161.9 31.3,162.0 31.3,162.0 31.3,162.1 31.3,162.2 31.3,162.3 31.3,162.3 31.3,162.4 31.3,162.5 31.3,162.6 31.3,162.7 31.3,162.7 31.3,162.8 31.3,162.9 31.3,163.0 31.3,163.0 31.3,163.1 31.3,163.2 31.3,163.3 31.3,163.3 31.3,163.4 31.3,163.5 31.3,163.6 31.3,163.7 31.3,163.7 31.3,163.8 31.3,163.9 31.3,164.0 31.3,164.0 31.3,164.1 31.3,164.2 31.3,164.3 31.3,164.3 31.3,164.4 31.3,164.5 31.3,164.6 31.3,164.7 31.3,164.7 31.3,164.8 31.3,164.9 31.3,165.0 31.3,165.0 31.3,165.1 31.3,165.2 31.3,165.3 31.3,165.4 31.3,165.4 31.3,165.5 31.3,165.6 31.3,165.7 31.3,165.7 31.3,165.8 31.3,165.9 31.3,166.0 31.3,166.0 31.3,166.1 31.3,166.2 31.3,166.3 31.3,166.4 31.3,166.4 31.3,166.5 31.3,166.6 31.3,166.7 31.3,166.7 31.3,166.8 31.3,166.9 31.3,167.0 31.3,167.0 31.3,167.1 31.3,167.2" fill="none" stroke="#0072bd" stroke-width="1.05" stroke-linejoin="round" stroke-linecap="round"/>
</g>
<clipPath id="cp3"><rect x="72.50" y="174.60" width="160.90" height="36.40"/></clipPath><g clip-path="url(#cp3)">
<polyline points="74.1,214.2 74.7,214.2 75.3,214.2 75.9,214.2 76.6,212.4 77.2,212.2 77.8,210.6 78.5,205.5 79.1,210.7 79.7,212.2 80.4,207.6 81.0,210.3 81.6,209.3 82.2,207.7 82.9,208.0 83.5,208.6 84.1,210.3 84.8,208.4 85.4,208.4 86.0,208.3 86.7,208.5 87.3,208.0 87.9,208.3 88.5,211.3 89.2,210.4 89.8,209.5 90.4,207.3 91.1,212.7 91.7,210.9 92.3,213.7 93.0,211.1 93.6,207.0 94.2,208.1 94.8,207.0 95.5,205.8 96.1,206.0 96.7,210.0 97.4,210.0 98.0,207.9 98.6,207.2 99.3,207.0 99.9,210.4 100.5,209.6 101.1,206.9 101.8,207.7 102.4,211.1 103.0,208.7 103.7,208.1 104.3,206.1 104.9,209.4 105.6,208.8 106.2,209.8 106.8,207.7 107.4,208.4 108.1,206.9 108.7,209.6 109.3,210.3 110.0,207.2 110.6,207.6 111.2,207.2 111.9,209.4 112.5,208.4 113.1,212.4 113.7,207.6 114.4,206.2 115.0,211.3 115.6,207.8 116.3,209.7 116.9,208.0 117.5,205.3 118.2,209.2 118.8,209.5 119.4,210.1 120.0,206.5 120.7,206.2 121.3,210.6 121.9,210.3 122.6,213.0 123.2,208.3 123.8,207.8 124.5,207.1 125.1,211.3 125.7,207.1 126.3,209.5 127.0,207.1 127.6,209.5 128.2,212.8 128.9,209.5 129.5,204.9 130.1,208.9 130.8,206.5 131.4,209.5 132.0,207.5 132.6,208.7 133.3,208.3 133.9,210.6 134.5,204.9 135.2,209.7 135.8,211.9 136.4,206.3 137.1,209.9 137.7,209.4 138.3,210.8 138.9,212.3 139.6,209.3 140.2,207.3 140.8,209.1 141.5,211.1 142.1,212.2 142.7,213.1 143.4,208.5 144.0,210.8 144.6,213.2 145.2,211.9 145.9,212.0 146.5,212.0 147.1,210.3 147.8,208.7 148.4,210.4 149.0,207.9 149.7,211.1 150.3,208.4 150.9,208.1 151.5,207.6 152.2,206.5 152.8,178.2 153.4,206.5 154.1,207.6 154.7,208.7 155.3,209.5 156.0,211.3 156.6,205.7 157.2,210.0 157.8,209.0 158.5,209.4 159.1,212.3 159.7,212.5 160.4,210.4 161.0,211.3 161.6,208.1 162.2,209.5 162.9,205.7 163.5,211.1 164.1,209.6 164.8,208.9 165.4,206.7 166.0,210.8 166.7,214.0 167.3,209.7 167.9,212.5 168.6,209.7 169.2,208.0 169.8,208.6 170.4,213.4 171.1,211.0 171.7,207.5 172.3,211.1 173.0,213.0 173.6,212.0 174.2,210.4 174.9,210.4 175.5,211.2 176.1,210.0 176.7,208.0 177.4,205.1 178.0,210.6 178.6,208.5 179.3,208.6 179.9,210.0 180.5,209.4 181.2,210.4 181.8,207.3 182.4,211.9 183.0,210.9 183.7,208.4 184.3,207.5 184.9,208.1 185.6,207.9 186.2,209.6 186.8,209.3 187.5,206.9 188.1,208.9 188.7,212.8 189.3,213.0 190.0,207.0 190.6,207.4 191.2,209.8 191.9,210.0 192.5,208.7 193.1,207.4 193.8,210.3 194.4,206.2 195.0,210.6 195.6,209.1 196.3,210.9 196.9,210.5 197.5,207.0 198.2,209.3 198.8,209.7 199.4,205.3 200.1,213.5 200.7,211.0 201.3,214.2 201.9,212.1 202.6,208.6 203.2,208.7 203.8,209.3 204.5,211.9 205.1,208.7 205.7,211.0 206.4,207.2 207.0,206.8 207.6,210.8 208.2,206.6 208.9,210.6 209.5,208.5 210.1,208.9 210.8,212.2 211.4,213.8 212.0,211.4 212.7,211.0 213.3,210.8 213.9,209.8 214.5,208.2 215.2,211.2 215.8,207.4 216.4,205.5 217.1,208.6 217.7,212.2 218.3,210.6 219.0,209.0 219.6,211.1 220.2,211.7 220.8,210.2 221.5,204.4 222.1,209.1 222.7,209.3 223.4,208.5 224.0,212.5 224.6,207.9 225.2,208.9 225.9,204.9 226.5,208.9 227.1,209.2 227.8,207.6 228.4,207.3 229.0,209.9 229.7,214.2 230.3,214.2 230.9,214.2 231.6,214.2" fill="none" stroke="#0072bd" stroke-width="1.15" stroke-linejoin="round" stroke-linecap="round"/>
</g>
<rect x="151.80" y="177.15" width="2.00" height="2.00" fill="#111"/>
<rect x="198.42" y="204.26" width="2.00" height="2.00" fill="#111"/>
<rect x="154.00" y="168.40" width="26.80" height="6.90" fill="#fdfdfd" stroke="#c8c8c8" stroke-width="0.5" rx="0.6"/>
<text x="155.80" y="173.58" font-family='"Liberation Sans", Arial, sans-serif' font-size="4.80" fill="#666">Y <tspan fill="#1a8fe0" font-weight="bold">66.2682</tspan></text>
<rect x="200.60" y="187.50" width="28.00" height="16.30" fill="#fdfdfd" stroke="#c8c8c8" stroke-width="0.5" rx="0.6"/>
<text x="202.40" y="193.30" font-family='"Liberation Sans", Arial, sans-serif' font-size="4.80" fill="#666">X <tspan fill="#1a8fe0" font-weight="bold">74</tspan></text>
<text x="202.40" y="201.45" font-family='"Liberation Sans", Arial, sans-serif' font-size="4.80" fill="#666">Y <tspan fill="#1a8fe0" font-weight="bold">40.6913</tspan></text>
<rect x="348.00" y="31.00" width="156.00" height="135.00" fill="#000087"/>
<clipPath id="hc4"><rect x="348.00" y="31.00" width="156.00" height="135.00"/></clipPath>
<g clip-path="url(#hc4)"><g shape-rendering="crispEdges" filter="url(#bl)"><g transform="translate(348.5 31.0)" stroke-width="1.05" fill="none">
<path d="M0 67v1M0 69v1M2 67v3M4 65v1M7 68v1M15 69v1M21 71v1M23 71v1M24 64v1M32 65v1M36 65v1M38 64v1M39 65v1M41 63v1M42 59v2M42 64v1M43 71v1M47 70v1M48 69v1M50 70v1M51 64v1M54 64v1M54 70v1M55 64v1M59 64v1M60 69v1M64 64v1M68 66v1M70 67v2M72 65v1M77 54v1M77 58v1M77 81v1M80 68v2M82 65v1M85 63v1M88 63v1M91 64v1M93 71v1M94 64v1M95 69v1M96 69v1M104 70v1M108 64v1M111 71v1M112 65v1M117 70v1M119 63v1M121 65v1M123 64v1M124 64v1M129 65v1M130 71v1M133 67v1M135 71v1M138 71v1M141 71v1M142 66v1M142 70v1M143 70v1M150 65v1M151 63v1M153 69v1" stroke="#00009f"/>
<path d="M0 68v1M1 70v1M6 69v1M7 65v1M7 67v1M8 66v1M9 66v1M10 65v1M11 63v1M13 70v1M16 67v1M16 70v1M17 70v1M18 66v1M18 69v1M23 63v1M26 64v1M27 70v1M29 69v1M30 67v1M30 70v1M33 71v1M34 71v1M37 67v3M38 70v1M39 71v1M46 65v1M49 69v1M53 65v1M56 69v1M58 69v1M62 71v1M63 71v1M64 69v1M68 67v3M71 64v1M74 70v1M76 64v1M76 71v1M81 65v1M85 70v1M90 69v1M91 68v1M94 69v1M95 64v1M97 65v1M97 72v1M98 64v1M98 70v1M101 64v1M103 65v1M105 63v1M106 70v1M109 66v1M109 69v1M110 70v1M112 70v1M113 66v1M113 72v1M116 70v1M117 65v1M120 71v1M125 65v1M127 66v3M128 70v1M129 68v1M132 65v1M133 68v1M134 63v1M137 64v1M138 64v1M139 70v1M142 67v3M143 66v1M144 65v1M144 69v1M146 65v1M146 70v1M147 71v1M148 69v1M149 70v1M150 70v1M153 65v1M154 66v1M154 68v1" stroke="#0000b7"/>
<path d="M3 64v1M3 68v1M4 69v1M7 66v1M8 69v1M9 70v1M11 69v1M12 66v1M12 70v1M13 64v1M15 63v1M16 68v2M18 67v2M19 65v1M19 69v1M21 65v1M25 65v1M25 70v1M27 67v1M27 69v1M29 66v1M30 68v2M32 71v1M33 66v1M35 63v1M36 72v1M40 64v1M41 69v1M42 72v1M44 71v1M47 64v1M48 64v1M50 65v1M53 68v1M53 70v1M56 64v1M58 66v1M59 71v1M60 65v1M60 68v1M62 65v1M65 67v1M65 72v1M66 64v1M67 65v1M67 71v1M69 64v1M69 69v1M73 69v1M78 65v1M79 64v1M81 71v1M82 71v1M84 64v1M88 69v1M89 64v1M89 70v1M92 70v1M93 64v1M94 68v1M96 65v1M96 68v1M99 65v1M99 70v1M101 68v1M102 63v1M103 66v1M103 68v1M106 65v1M107 70v1M108 68v1M109 67v2M111 65v1M112 69v1M115 70v1M116 65v1M117 69v1M118 70v1M124 70v1M125 71v1M126 65v1M129 66v2M130 64v1M132 71v1M135 65v1M136 71v1M139 66v2M140 65v1M141 65v1M148 64v1M149 64v1M150 66v1M151 68v1M154 67v1" stroke="#0000cf"/>
<path d="M1 65v1M4 66v1M6 65v1M6 68v1M8 67v2M9 67v1M9 69v1M12 69v1M14 70v1M17 65v1M20 64v1M20 69v1M27 68v1M28 64v1M28 70v1M29 67v2M31 72v1M34 64v1M38 65v1M39 66v1M41 64v1M43 65v1M46 72v1M48 68v1M49 63v1M51 70v1M52 65v1M52 70v1M53 66v2M53 69v1M54 65v1M54 69v1M57 71v1M58 68v1M61 65v1M64 65v1M71 71v1M72 66v1M72 70v1M74 65v1M75 71v1M77 61v1M77 72v1M78 71v1M82 66v1M83 64v1M87 64v1M91 65v1M91 67v1M92 64v1M94 65v1M96 66v2M100 66v1M100 72v1M101 65v1M101 67v1M102 68v1M103 67v1M104 65v1M105 70v1M106 69v1M107 65v1M108 65v3M112 66v1M114 65v1M116 69v1M117 66v1M119 69v1M120 66v1M120 70v1M123 70v1M126 71v1M128 65v1M131 65v1M131 71v1M136 65v1M139 68v2M140 71v1M141 66v1M141 70v1M143 67v1M143 69v1M144 66v1M144 68v1M146 66v1M147 66v1M150 67v3M151 64v1M151 67v1M153 68v1" stroke="#0000e7"/>
<path d="M3 65v3M4 67v2M6 66v2M9 68v1M11 64v1M12 67v2M13 69v1M14 65v1M15 68v1M17 69v1M19 66v1M19 68v1M24 71v1M25 66v1M25 69v1M26 69v1M31 65v1M33 70v1M39 70v1M44 65v1M45 65v1M47 69v1M48 65v1M50 66v1M50 69v1M51 65v1M55 70v1M56 68v1M57 66v1M58 67v1M60 66v2M61 70v1M63 64v1M64 68v1M65 68v1M66 70v1M74 69v1M75 65v1M79 71v1M83 69v1M84 71v1M86 63v1M86 69v1M88 64v1M91 66v1M94 66v2M95 65v1M95 68v1M98 69v1M101 66v1M104 69v1M106 68v1M111 70v1M112 67v2M113 67v1M114 71v1M115 65v1M115 69v1M116 66v1M117 67v2M121 71v1M123 65v1M128 69v1M130 70v1M132 66v1M134 70v1M135 66v1M135 70v1M137 70v1M138 70v1M141 67v3M143 68v1M144 67v1M146 67v3M147 70v1M148 65v1M148 68v1M151 65v2M153 66v2" stroke="#0000ff"/>
<path d="M1 69v1M10 66v1M10 71v1M14 69v1M15 64v1M17 66v1M17 68v1M19 67v1M21 66v1M21 70v1M25 67v2M26 65v1M32 66v1M32 70v1M33 67v3M36 66v1M38 69v1M40 65v1M40 70v1M41 65v1M41 68v1M43 70v1M46 66v1M48 66v2M49 68v1M50 67v1M54 68v1M55 65v1M56 65v1M57 70v1M62 70v1M64 66v2M65 71v1M67 66v1M67 70v1M69 65v1M69 68v1M72 67v3M73 63v1M74 66v1M77 74v1M81 66v1M81 70v1M82 70v1M85 69v1M87 71v1M88 68v1M89 65v1M89 69v1M90 68v1M92 69v1M93 70v1M95 66v1M97 66v1M98 65v1M99 66v1M99 69v1M102 67v1M104 66v1M106 66v2M107 66v1M107 69v1M110 63v1M113 71v1M116 67v2M118 64v1M119 64v1M120 67v1M120 69v1M121 66v1M124 65v1M124 69v1M125 66v1M125 70v1M128 66v1M132 67v1M132 70v1M137 65v1M138 65v1M140 66v1M147 67v1M147 69v1M149 65v1M149 69v1" stroke="#0018ff"/>
<path d="M1 66v1M10 67v1M11 68v1M13 65v1M13 68v1M17 67v1M20 65v1M20 68v1M21 67v1M21 69v1M23 70v1M24 65v1M28 65v1M34 70v1M35 70v1M36 71v1M38 66v1M38 68v1M39 67v1M39 69v1M40 66v1M41 66v2M43 66v1M44 70v1M45 72v1M47 65v1M47 68v1M49 64v1M49 67v1M50 68v1M51 69v1M52 66v1M52 69v1M54 66v2M56 66v2M57 67v3M59 65v1M59 70v1M61 66v1M61 69v1M62 66v1M63 70v1M65 69v2M66 65v1M69 66v2M71 70v1M73 68v1M74 67v2M76 65v1M76 70v1M78 66v1M78 70v1M82 67v1M83 65v1M83 68v1M85 64v1M88 67v1M89 66v3M90 63v1M93 65v1M95 67v1M97 71v1M98 68v1M99 67v2M100 67v1M102 64v1M104 67v2M107 67v2M111 66v1M113 68v1M115 68v1M118 69v1M119 68v1M120 68v1M123 69v1M126 66v1M126 70v1M128 67v2M130 65v1M131 66v1M131 70v1M132 68v2M134 64v1M135 67v1M135 69v1M136 66v1M136 70v1M140 67v1M140 70v1M147 68v1M148 66v2M149 68v1" stroke="#0030ff"/>
<path d="M1 68v1M10 68v1M11 65v1M13 67v1M14 66v1M14 68v1M15 67v1M21 68v1M23 64v1M26 66v3M28 69v1M32 67v1M32 69v1M34 65v1M35 64v1M36 67v1M38 67v1M39 68v1M40 67v1M42 65v1M42 71v1M43 69v1M44 66v1M46 67v5M47 66v1M49 65v2M51 66v1M52 67v2M55 69v1M61 67v2M66 66v1M66 69v1M67 67v1M67 69v1M71 65v1M75 70v1M77 76v1M81 67v1M81 69v1M82 68v2M83 66v2M84 65v1M85 68v1M86 64v1M86 68v1M87 65v1M88 65v2M90 67v1M92 65v1M97 67v2M98 66v1M100 68v1M100 71v1M102 65v2M105 64v1M105 69v1M110 69v1M111 69v1M113 69v2M114 66v1M114 70v1M115 66v1M121 67v1M123 66v1M123 68v1M124 66v1M124 68v1M125 69v1M126 67v1M130 69v1M135 68v1M136 67v1M136 69v1M137 69v1M138 69v1M140 68v2M149 66v2" stroke="#0048ff"/>
<path d="M1 67v1M10 69v2M11 66v2M13 66v1M14 67v1M15 65v2M20 66v2M24 70v1M31 71v1M32 68v1M34 66v1M40 68v2M43 67v1M44 67v1M44 69v1M47 67v1M51 68v1M55 66v1M62 67v1M62 69v1M63 65v1M66 67v2M67 68v1M75 66v1M76 69v1M77 59v1M77 63v1M78 67v1M79 65v1M81 68v1M84 70v1M86 67v1M90 64v1M92 68v1M93 66v1M93 69v1M97 69v1M98 67v1M100 69v2M111 67v2M114 67v1M115 67v1M118 65v1M119 65v3M121 70v1M123 67v1M124 67v1M125 67v1M126 68v2M130 66v1M131 67v1M131 69v1M136 68v1M137 66v3M138 66v1" stroke="#0060ff"/>
<path d="M24 66v1M28 66v1M28 68v1M31 66v1M34 69v1M35 65v1M36 68v1M36 70v1M43 68v1M44 68v1M45 66v1M51 67v1M55 68v1M59 66v1M59 69v1M62 68v1M71 69v1M73 64v1M75 69v1M78 68v2M79 70v1M85 65v1M85 67v1M86 65v1M87 70v1M90 65v2M92 66v2M93 67v2M97 70v1M105 68v1M110 64v1M118 68v1M121 68v2M125 68v1M130 68v1M131 68v1M134 65v1M134 69v1M138 67v2" stroke="#0078ff"/>
<path d="M23 69v1M28 67v1M31 70v1M34 67v2M36 69v1M45 71v1M55 67v1M59 67v2M63 69v1M71 68v1M73 67v1M76 66v1M76 68v1M77 60v1M77 75v1M84 66v1M84 69v1M85 66v1M86 66v1M87 66v1M105 65v1M105 67v1M110 68v1M114 68v2M118 66v2M130 67v1" stroke="#008fff"/>
<path d="M23 65v1M24 67v1M24 69v1M31 67v1M31 69v1M35 66v1M35 69v1M42 66v1M42 70v1M63 66v3M71 66v2M73 65v2M75 67v2M76 67v1M79 66v4M84 67v2M87 67v1M87 69v1M105 66v1M110 65v1M134 66v1M134 68v1" stroke="#00a7ff"/>
<path d="M23 68v1M24 68v1M31 68v1M35 67v2M42 69v1M87 68v1M110 66v2M134 67v1" stroke="#00bfff"/>
<path d="M23 66v2M42 67v2" stroke="#00d7ff"/>
<path d="M45 67v1M45 70v1" stroke="#00efff"/>
<path d="M45 69v1" stroke="#20ffdf"/>
<path d="M45 68v1" stroke="#38ffc7"/>
<path d="M77 71v1" stroke="#afff50"/>
<path d="M77 64v1" stroke="#dfff20"/>
<path d="M77 70v1" stroke="#ff7800"/>
<path d="M77 65v1" stroke="#ff4800"/>
<path d="M77 69v1" stroke="#e70000"/>
<path d="M77 66v1" stroke="#cf0000"/>
<path d="M77 67v2" stroke="#9f0000"/>
</g></g></g>
<rect x="308.60" y="31.40" width="31.90" height="136.40" fill="none" stroke="#b8b8b8" stroke-width="0.60"/>
<defs><linearGradient id="gb" x1="0" y1="0" x2="0" y2="1"><stop offset="0.0000" stop-color="#870000"/><stop offset="0.0312" stop-color="#a70000"/><stop offset="0.0625" stop-color="#c60000"/><stop offset="0.0938" stop-color="#e60000"/><stop offset="0.1250" stop-color="#ff0600"/><stop offset="0.1562" stop-color="#ff2500"/><stop offset="0.1875" stop-color="#ff4500"/><stop offset="0.2188" stop-color="#ff6400"/><stop offset="0.2500" stop-color="#ff8300"/><stop offset="0.2812" stop-color="#ffa300"/><stop offset="0.3125" stop-color="#ffc200"/><stop offset="0.3438" stop-color="#ffe200"/><stop offset="0.3750" stop-color="#fdff02"/><stop offset="0.4062" stop-color="#deff21"/><stop offset="0.4375" stop-color="#beff41"/><stop offset="0.4688" stop-color="#9fff60"/><stop offset="0.5000" stop-color="#80ff80"/><stop offset="0.5312" stop-color="#60ff9f"/><stop offset="0.5625" stop-color="#41ffbe"/><stop offset="0.5938" stop-color="#21ffde"/><stop offset="0.6250" stop-color="#02fffd"/><stop offset="0.6562" stop-color="#00e2ff"/><stop offset="0.6875" stop-color="#00c2ff"/><stop offset="0.7188" stop-color="#00a3ff"/><stop offset="0.7500" stop-color="#0083ff"/><stop offset="0.7812" stop-color="#0064ff"/><stop offset="0.8125" stop-color="#0045ff"/><stop offset="0.8438" stop-color="#0025ff"/><stop offset="0.8750" stop-color="#0006ff"/><stop offset="0.9062" stop-color="#0000e6"/><stop offset="0.9375" stop-color="#0000c6"/><stop offset="0.9688" stop-color="#0000a7"/><stop offset="1.0000" stop-color="#000087"/></linearGradient></defs>
<rect x="508.70" y="31.50" width="8.30" height="134.40" fill="url(#gb)"/>
<text x="520.00" y="35.80" font-family='"Liberation Sans", Arial, sans-serif' font-size="7.00" text-anchor="start" dominant-baseline="central" fill="#404040">90</text>
<line x1="515.80" y1="35.80" x2="517.00" y2="35.80" stroke="#555" stroke-width="0.4"/>
<text x="520.00" y="54.35" font-family='"Liberation Sans", Arial, sans-serif' font-size="7.00" text-anchor="start" dominant-baseline="central" fill="#404040">85</text>
<line x1="515.80" y1="54.35" x2="517.00" y2="54.35" stroke="#555" stroke-width="0.4"/>
<text x="520.00" y="72.90" font-family='"Liberation Sans", Arial, sans-serif' font-size="7.00" text-anchor="start" dominant-baseline="central" fill="#404040">80</text>
<line x1="515.80" y1="72.90" x2="517.00" y2="72.90" stroke="#555" stroke-width="0.4"/>
<text x="520.00" y="91.45" font-family='"Liberation Sans", Arial, sans-serif' font-size="7.00" text-anchor="start" dominant-baseline="central" fill="#404040">75</text>
<line x1="515.80" y1="91.45" x2="517.00" y2="91.45" stroke="#555" stroke-width="0.4"/>
<text x="520.00" y="110.00" font-family='"Liberation Sans", Arial, sans-serif' font-size="7.00" text-anchor="start" dominant-baseline="central" fill="#404040">70</text>
<line x1="515.80" y1="110.00" x2="517.00" y2="110.00" stroke="#555" stroke-width="0.4"/>
<text x="520.00" y="128.55" font-family='"Liberation Sans", Arial, sans-serif' font-size="7.00" text-anchor="start" dominant-baseline="central" fill="#404040">65</text>
<line x1="515.80" y1="128.55" x2="517.00" y2="128.55" stroke="#555" stroke-width="0.4"/>
<text x="520.00" y="147.10" font-family='"Liberation Sans", Arial, sans-serif' font-size="7.00" text-anchor="start" dominant-baseline="central" fill="#404040">60</text>
<line x1="515.80" y1="147.10" x2="517.00" y2="147.10" stroke="#555" stroke-width="0.4"/>
<text x="520.00" y="165.65" font-family='"Liberation Sans", Arial, sans-serif' font-size="7.00" text-anchor="start" dominant-baseline="central" fill="#404040">55</text>
<line x1="515.80" y1="165.65" x2="517.00" y2="165.65" stroke="#555" stroke-width="0.4"/>
<rect x="347.60" y="174.20" width="156.00" height="35.80" fill="none" stroke="#b8b8b8" stroke-width="0.60"/>
<text x="344.80" y="189.50" font-family='"Liberation Serif", "Times New Roman", serif' font-size="10.00" text-anchor="end" dominant-baseline="central" fill="#333" stroke="#333" stroke-width="0.22">80</text>
<text x="344.80" y="209.70" font-family='"Liberation Serif", "Times New Roman", serif' font-size="10.00" text-anchor="end" dominant-baseline="central" fill="#333" stroke="#333" stroke-width="0.22">60</text>
<text x="364.70" y="219.00" font-family='"Liberation Serif", "Times New Roman", serif' font-size="10.00" text-anchor="middle" dominant-baseline="central" fill="#333" stroke="#333" stroke-width="0.22">−100</text>
<line x1="364.70" y1="210.00" x2="364.70" y2="208.80" stroke="#888" stroke-width="0.5"/>
<line x1="364.70" y1="174.20" x2="364.70" y2="175.40" stroke="#888" stroke-width="0.5"/>
<text x="395.20" y="219.00" font-family='"Liberation Serif", "Times New Roman", serif' font-size="10.00" text-anchor="middle" dominant-baseline="central" fill="#333" stroke="#333" stroke-width="0.22">−50</text>
<line x1="395.20" y1="210.00" x2="395.20" y2="208.80" stroke="#888" stroke-width="0.5"/>
<line x1="395.20" y1="174.20" x2="395.20" y2="175.40" stroke="#888" stroke-width="0.5"/>
<text x="425.70" y="219.00" font-family='"Liberation Serif", "Times New Roman", serif' font-size="10.00" text-anchor="middle" dominant-baseline="central" fill="#333" stroke="#333" stroke-width="0.22">0</text>
<line x1="425.70" y1="210.00" x2="425.70" y2="208.80" stroke="#888" stroke-width="0.5"/>
<line x1="425.70" y1="174.20" x2="425.70" y2="175.40" stroke="#888" stroke-width="0.5"/>
<text x="456.20" y="219.00" font-family='"Liberation Serif", "Times New Roman", serif' font-size="10.00" text-anchor="middle" dominant-baseline="central" fill="#333" stroke="#333" stroke-width="0.22">50</text>
<line x1="456.20" y1="210.00" x2="456.20" y2="208.80" stroke="#888" stroke-width="0.5"/>
<line x1="456.20" y1="174.20" x2="456.20" y2="175.40" stroke="#888" stroke-width="0.5"/>
<text x="486.70" y="219.00" font-family='"Liberation Serif", "Times New Roman", serif' font-size="10.00" text-anchor="middle" dominant-baseline="central" fill="#333" stroke="#333" stroke-width="0.22">100</text>
<line x1="486.70" y1="210.00" x2="486.70" y2="208.80" stroke="#888" stroke-width="0.5"/>
<line x1="486.70" y1="174.20" x2="486.70" y2="175.40" stroke="#888" stroke-width="0.5"/>
<text x="425.60" y="232.50" font-family='"Liberation Sans", Arial, sans-serif' font-size="9.50" text-anchor="middle" dominant-baseline="central" fill="#333">Lag number</text>
<text x="410.80" y="247.60" font-family='"Liberation Serif", "Times New Roman", serif' font-size="13.20" text-anchor="middle" dominant-baseline="central" fill="#111" font-weight="bold">(b)</text>
<text x="324.90" y="14.20" font-family='"Liberation Sans", Arial, sans-serif' font-size="8.50" text-anchor="middle" dominant-baseline="central" fill="#333">dB</text>
<text x="311.50" y="28.70" font-family='"Liberation Sans", Arial, sans-serif' font-size="6.60" text-anchor="end" dominant-baseline="central" fill="#333" transform="rotate(90 311.50 28.70)">40</text>
<line x1="311.50" y1="31.40" x2="311.50" y2="32.60" stroke="#888" stroke-width="0.5"/>
<line x1="311.50" y1="167.80" x2="311.50" y2="166.60" stroke="#888" stroke-width="0.5"/>
<text x="322.30" y="28.70" font-family='"Liberation Sans", Arial, sans-serif' font-size="6.60" text-anchor="end" dominant-baseline="central" fill="#333" transform="rotate(90 322.30 28.70)">60</text>
<line x1="322.30" y1="31.40" x2="322.30" y2="32.60" stroke="#888" stroke-width="0.5"/>
<line x1="322.30" y1="167.80" x2="322.30" y2="166.60" stroke="#888" stroke-width="0.5"/>
<text x="333.50" y="28.70" font-family='"Liberation Sans", Arial, sans-serif' font-size="6.60" text-anchor="end" dominant-baseline="central" fill="#333" transform="rotate(90 333.50 28.70)">80</text>
<line x1="333.50" y1="31.40" x2="333.50" y2="32.60" stroke="#888" stroke-width="0.5"/>
<line x1="333.50" y1="167.80" x2="333.50" y2="166.60" stroke="#888" stroke-width="0.5"/>
<text x="301.40" y="62.00" font-family='"Liberation Serif", "Times New Roman", serif' font-size="7.40" text-anchor="middle" dominant-baseline="central" fill="#333" transform="rotate(90 301.40 62.00)">−50</text>
<line x1="308.60" y1="62.00" x2="309.80" y2="62.00" stroke="#888" stroke-width="0.5"/>
<line x1="340.50" y1="62.00" x2="339.30" y2="62.00" stroke="#888" stroke-width="0.5"/>
<text x="301.40" y="99.90" font-family='"Liberation Serif", "Times New Roman", serif' font-size="7.40" text-anchor="middle" dominant-baseline="central" fill="#333" transform="rotate(90 301.40 99.90)">0</text>
<line x1="308.60" y1="99.90" x2="309.80" y2="99.90" stroke="#888" stroke-width="0.5"/>
<line x1="340.50" y1="99.90" x2="339.30" y2="99.90" stroke="#888" stroke-width="0.5"/>
<text x="301.40" y="137.50" font-family='"Liberation Serif", "Times New Roman", serif' font-size="7.40" text-anchor="middle" dominant-baseline="central" fill="#333" transform="rotate(90 301.40 137.50)">50</text>
<line x1="308.60" y1="137.50" x2="309.80" y2="137.50" stroke="#888" stroke-width="0.5"/>
<line x1="340.50" y1="137.50" x2="339.30" y2="137.50" stroke="#888" stroke-width="0.5"/>
<text x="289.80" y="100.00" font-family='"Liberation Sans", Arial, sans-serif' font-size="8.60" text-anchor="middle" dominant-baseline="central" fill="#333" transform="rotate(90 289.80 100.00)">Direction(degree)</text>
<text x="328.40" y="192.00" font-family='"Liberation Sans", Arial, sans-serif' font-size="9.00" text-anchor="middle" dominant-baseline="central" fill="#333" transform="rotate(-90 328.40 192.00)">dB</text>
<clipPath id="cp5"><rect x="308.90" y="31.70" width="31.30" height="135.80"/></clipPath><g clip-path="url(#cp5)">
<polyline points="305.6,32.0 305.6,32.1 305.6,32.2 305.6,32.3 305.6,32.3 305.6,32.4 305.6,32.5 305.6,32.6 305.6,32.6 305.6,32.7 305.6,32.8 305.6,32.9 305.6,32.9 305.6,33.0 305.6,33.1 305.6,33.2 305.6,33.2 305.6,33.3 305.6,33.4 305.6,33.5 305.6,33.5 305.6,33.6 305.6,33.7 305.6,33.8 305.6,33.8 305.6,33.9 305.6,34.0 305.6,34.1 305.6,34.1 305.6,34.2 305.6,34.3 305.6,34.4 305.6,34.4 305.6,34.5 305.6,34.6 305.6,34.7 305.6,34.7 305.6,34.8 305.6,34.9 305.6,35.0 305.6,35.0 305.6,35.1 305.6,35.2 305.6,35.3 305.6,35.3 305.6,35.4 305.6,35.5 305.6,35.6 305.6,35.6 305.6,35.7 305.6,35.8 305.6,35.9 305.6,35.9 305.6,36.0 305.6,36.1 305.6,36.2 305.6,36.3 305.6,36.3 305.6,36.4 305.6,36.5 305.6,36.6 305.6,36.6 305.6,36.7 305.6,36.8 305.6,36.9 305.6,36.9 305.6,37.0 305.6,37.1 305.6,37.2 305.6,37.2 305.6,37.3 305.6,37.4 305.6,37.5 305.6,37.5 305.6,37.6 305.6,37.7 305.6,37.8 305.6,37.8 305.6,37.9 305.6,38.0 305.6,38.1 305.6,38.1 305.6,38.2 305.6,38.3 305.6,38.4 305.6,38.4 305.6,38.5 305.6,38.6 305.6,38.7 305.6,38.7 305.6,38.8 305.6,38.9 305.6,39.0 305.6,39.0 305.6,39.1 305.6,39.2 305.6,39.3 305.6,39.3 305.6,39.4 305.6,39.5 305.6,39.6 305.6,39.6 305.6,39.7 305.6,39.8 305.6,39.9 305.6,39.9 305.6,40.0 305.6,40.1 305.6,40.2 305.6,40.3 305.6,40.3 305.6,40.4 305.6,40.5 305.6,40.6 305.6,40.6 305.6,40.7 305.6,40.8 305.6,40.9 305.6,40.9 305.6,41.0 305.7,41.1 305.9,41.2 306.0,41.2 306.2,41.3 306.3,41.4 306.4,41.5 306.6,41.5 306.7,41.6 306.8,41.7 306.9,41.8 307.1,41.8 307.2,41.9 307.3,42.0 307.4,42.1 307.5,42.1 307.7,42.2 307.8,42.3 307.9,42.4 308.0,42.4 308.1,42.5 308.2,42.6 308.3,42.7 308.4,42.7 308.5,42.8 308.6,42.9 308.7,43.0 308.8,43.0 308.9,43.1 309.0,43.2 309.1,43.3 309.2,43.3 309.3,43.4 309.4,43.5 309.5,43.6 309.6,43.6 309.7,43.7 309.8,43.8 309.8,43.9 309.9,43.9 310.0,44.0 310.1,44.1 310.2,44.2 310.2,44.2 310.3,44.3 310.4,44.4 310.5,44.5 310.5,44.6 310.6,44.6 310.7,44.7 310.7,44.8 310.8,44.9 310.8,44.9 310.9,45.0 311.0,45.1 311.0,45.2 311.1,45.2 311.1,45.3 311.2,45.4 311.2,45.5 311.3,45.5 311.3,45.6 311.4,45.7 311.4,45.8 311.4,45.8 311.5,45.9 311.5,46.0 311.6,46.1 311.6,46.1 311.6,46.2 311.6,46.3 311.7,46.4 311.7,46.4 311.7,46.5 311.7,46.6 311.8,46.7 311.8,46.7 311.8,46.8 311.8,46.9 311.8,47.0 311.8,47.0 311.8,47.1 311.9,47.2 311.9,47.3 311.9,47.3 311.9,47.4 311.9,47.5 311.8,47.6 311.8,47.6 311.8,47.7 311.8,47.8 311.8,47.9 311.8,47.9 311.8,48.0 311.7,48.1 311.7,48.2 311.7,48.2 311.7,48.3 311.6,48.4 311.6,48.5 311.6,48.6 311.5,48.6 311.5,48.7 311.4,48.8 311.4,48.9 311.3,48.9 311.3,49.0 311.2,49.1 311.1,49.2 311.1,49.2 311.0,49.3 310.9,49.4 310.8,49.5 310.8,49.5 310.7,49.6 310.6,49.7 310.5,49.8 310.4,49.8 310.3,49.9 310.2,50.0 310.1,50.1 309.9,50.1 309.8,50.2 309.7,50.3 309.6,50.4 309.4,50.4 309.3,50.5 309.1,50.6 309.0,50.7 308.8,50.7 308.6,50.8 308.5,50.9 308.3,51.0 308.1,51.0 307.9,51.1 307.7,51.2 307.5,51.3 307.2,51.3 307.0,51.4 306.7,51.5 306.5,51.6 306.2,51.6 305.9,51.7 305.6,51.8 305.6,51.9 305.6,51.9 305.6,52.0 305.6,52.1 305.6,52.2 305.6,52.2 305.6,52.3 305.6,52.4 305.6,52.5 305.6,52.6 305.6,52.6 305.6,52.7 305.6,52.8 305.6,52.9 305.6,52.9 305.6,53.0 305.6,53.1 305.6,53.2 305.6,53.2 305.6,53.3 305.6,53.4 305.6,53.5 305.6,53.5 305.6,53.6 305.6,53.7 305.6,53.8 305.6,53.8 305.6,53.9 305.6,54.0 305.6,54.1 305.6,54.1 305.6,54.2 305.6,54.3 305.6,54.4 305.6,54.4 305.6,54.5 305.6,54.6 305.6,54.7 305.6,54.7 305.6,54.8 305.6,54.9 305.6,55.0 305.6,55.0 305.6,55.1 305.6,55.2 305.6,55.3 305.6,55.3 305.6,55.4 305.6,55.5 305.6,55.6 305.6,55.6 306.0,55.7 306.3,55.8 306.7,55.9 307.0,55.9 307.3,56.0 307.6,56.1 307.8,56.2 308.1,56.2 308.4,56.3 308.6,56.4 308.8,56.5 309.1,56.5 309.3,56.6 309.5,56.7 309.7,56.8 309.9,56.9 310.0,56.9 310.2,57.0 310.4,57.1 310.5,57.2 310.7,57.2 310.8,57.3 310.9,57.4 311.1,57.5 311.2,57.5 311.3,57.6 311.4,57.7 311.5,57.8 311.6,57.8 311.7,57.9 311.8,58.0 311.8,58.1 311.9,58.1 312.0,58.2 312.0,58.3 312.1,58.4 312.1,58.4 312.1,58.5 312.2,58.6 312.2,58.7 312.2,58.7 312.2,58.8 312.2,58.9 312.2,59.0 312.2,59.0 312.2,59.1 312.2,59.2 312.2,59.3 312.1,59.3 312.1,59.4 312.1,59.5 312.0,59.6 311.9,59.6 311.9,59.7 311.8,59.8 311.7,59.9 311.6,59.9 311.5,60.0 311.4,60.1 311.3,60.2 311.2,60.2 311.1,60.3 310.9,60.4 310.8,60.5 310.6,60.5 310.4,60.6 310.3,60.7 310.1,60.8 309.9,60.9 309.7,60.9 309.4,61.0 309.2,61.1 308.9,61.2 308.7,61.2 308.4,61.3 308.1,61.4 307.7,61.5 307.4,61.5 307.0,61.6 306.6,61.7 306.2,61.8 305.8,61.8 305.6,61.9 305.6,62.0 305.6,62.1 305.6,62.1 305.6,62.2 305.6,62.3 305.6,62.4 305.6,62.4 305.6,62.5 305.6,62.6 305.6,62.7 305.6,62.7 305.6,62.8 305.6,62.9 305.6,63.0 305.6,63.0 305.6,63.1 305.6,63.2 305.6,63.3 305.6,63.3 305.6,63.4 305.6,63.5 305.6,63.6 305.6,63.6 305.6,63.7 305.6,63.8 305.6,63.9 305.6,63.9 305.6,64.0 305.6,64.1 305.6,64.2 305.6,64.2 305.6,64.3 305.6,64.4 305.6,64.5 306.0,64.5 306.5,64.6 307.0,64.7 307.4,64.8 307.8,64.8 308.2,64.9 308.6,65.0 308.9,65.1 309.2,65.2 309.5,65.2 309.8,65.3 310.1,65.4 310.4,65.5 310.6,65.5 310.8,65.6 311.0,65.7 311.2,65.8 311.4,65.8 311.6,65.9 311.8,66.0 311.9,66.1 312.1,66.1 312.2,66.2 312.3,66.3 312.4,66.4 312.5,66.4 312.6,66.5 312.7,66.6 312.8,66.7 312.8,66.7 312.9,66.8 312.9,66.9 313.0,67.0 313.0,67.0 313.0,67.1 313.0,67.2 313.0,67.3 313.0,67.3 313.0,67.4 312.9,67.5 312.9,67.6 312.8,67.6 312.8,67.7 312.7,67.8 312.6,67.9 312.5,67.9 312.4,68.0 312.3,68.1 312.1,68.2 312.0,68.2 311.8,68.3 311.7,68.4 311.5,68.5 311.3,68.5 311.1,68.6 310.8,68.7 310.6,68.8 310.3,68.8 310.0,68.9 309.7,69.0 309.4,69.1 309.0,69.2 308.6,69.2 308.2,69.3 307.7,69.4 307.3,69.5 306.7,69.5 306.2,69.6 305.6,69.7 305.6,69.8 305.6,69.8 305.6,69.9 305.6,70.0 305.6,70.1 305.6,70.1 305.6,70.2 305.6,70.3 305.6,70.4 305.6,70.4 305.6,70.5 305.6,70.6 305.6,70.7 305.6,70.7 305.6,70.8 305.6,70.9 305.6,71.0 305.6,71.0 305.6,71.1 305.6,71.2 305.6,71.3 305.6,71.3 305.6,71.4 305.6,71.5 305.6,71.6 305.6,71.6 306.2,71.7 306.8,71.8 307.4,71.9 308.0,71.9 308.5,72.0 308.9,72.1 309.4,72.2 309.8,72.2 310.2,72.3 310.6,72.4 310.9,72.5 311.2,72.5 311.5,72.6 311.8,72.7 312.1,72.8 312.3,72.8 312.5,72.9 312.8,73.0 313.0,73.1 313.1,73.2 313.3,73.2 313.5,73.3 313.6,73.4 313.7,73.5 313.8,73.5 313.9,73.6 314.0,73.7 314.1,73.8 314.2,73.8 314.2,73.9 314.2,74.0 314.3,74.1 314.3,74.1 314.3,74.2 314.3,74.3 314.2,74.4 314.2,74.4 314.1,74.5 314.1,74.6 314.0,74.7 313.9,74.7 313.8,74.8 313.7,74.9 313.5,75.0 313.4,75.0 313.2,75.1 313.0,75.2 312.8,75.3 312.6,75.3 312.4,75.4 312.1,75.5 311.8,75.6 311.5,75.6 311.2,75.7 310.8,75.8 310.4,75.9 310.0,75.9 309.5,76.0 309.0,76.1 308.5,76.2 307.9,76.2 307.2,76.3 306.5,76.4 305.7,76.5 305.6,76.5 305.6,76.6 305.6,76.7 305.6,76.8 305.6,76.8 305.6,76.9 305.6,77.0 305.6,77.1 305.6,77.1 305.6,77.2 305.6,77.3 305.6,77.4 305.6,77.5 305.6,77.5 305.6,77.6 305.6,77.7 305.6,77.8 305.6,77.8 305.6,77.9 305.6,78.0 306.5,78.1 307.4,78.1 308.1,78.2 308.8,78.3 309.4,78.4 310.0,78.4 310.6,78.5 311.1,78.6 311.5,78.7 312.0,78.7 312.4,78.8 312.8,78.9 313.1,79.0 313.4,79.0 313.7,79.1 314.0,79.2 314.3,79.3 314.5,79.3 314.7,79.4 315.0,79.5 315.1,79.6 315.3,79.6 315.5,79.7 315.6,79.8 315.7,79.9 315.8,79.9 315.9,80.0 316.0,80.1 316.1,80.2 316.1,80.2 316.2,80.3 316.2,80.4 316.2,80.5 316.2,80.5 316.2,80.6 316.1,80.7 316.1,80.8 316.0,80.8 315.9,80.9 315.8,81.0 315.7,81.1 315.5,81.1 315.4,81.2 315.2,81.3 315.0,81.4 314.8,81.5 314.5,81.5 314.3,81.6 314.0,81.7 313.7,81.8 313.3,81.8 313.0,81.9 312.5,82.0 312.1,82.1 311.6,82.1 311.1,82.2 310.5,82.3 309.8,82.4 309.1,82.4 308.3,82.5 307.4,82.6 306.4,82.7 305.6,82.7 305.6,82.8 305.6,82.9 305.6,83.0 305.6,83.0 305.6,83.1 305.6,83.2 305.6,83.3 305.6,83.3 305.6,83.4 305.6,83.5 305.6,83.6 305.6,83.6 305.6,83.7 305.6,83.8 306.7,83.9 307.8,83.9 308.8,84.0 309.7,84.1 310.6,84.2 311.3,84.2 312.0,84.3 312.6,84.4 313.2,84.5 313.7,84.5 314.2,84.6 314.7,84.7 315.1,84.8 315.5,84.8 315.9,84.9 316.3,85.0 316.6,85.1 316.9,85.1 317.1,85.2 317.4,85.3 317.6,85.4 317.8,85.4 318.0,85.5 318.2,85.6 318.4,85.7 318.5,85.8 318.6,85.8 318.8,85.9 318.8,86.0 318.9,86.1 319.0,86.1 319.0,86.2 319.1,86.3 319.1,86.4 319.1,86.4 319.0,86.5 319.0,86.6 318.9,86.7 318.9,86.7 318.8,86.8 318.7,86.9 318.5,87.0 318.4,87.0 318.2,87.1 318.0,87.2 317.8,87.3 317.5,87.3 317.3,87.4 317.0,87.5 316.6,87.6 316.3,87.6 315.9,87.7 315.4,87.8 314.9,87.9 314.4,87.9 313.8,88.0 313.2,88.1 312.4,88.2 311.6,88.2 310.7,88.3 309.6,88.4 308.4,88.5 306.9,88.5 305.6,88.6 305.6,88.7 305.6,88.8 305.6,88.8 305.6,88.9 305.6,89.0 305.6,89.1 305.6,89.1 305.6,89.2 305.6,89.3 307.1,89.4 308.8,89.4 310.2,89.5 311.4,89.6 312.5,89.7 313.5,89.8 314.4,89.8 315.2,89.9 315.9,90.0 316.6,90.1 317.2,90.1 317.8,90.2 318.4,90.3 318.9,90.4 319.3,90.4 319.8,90.5 320.2,90.6 320.5,90.7 320.9,90.7 321.2,90.8 321.5,90.9 321.8,91.0 322.1,91.0 322.3,91.1 322.5,91.2 322.7,91.3 322.9,91.3 323.1,91.4 323.2,91.5 323.4,91.6 323.5,91.6 323.6,91.7 323.7,91.8 323.7,91.9 323.8,91.9 323.8,92.0 323.8,92.1 323.8,92.2 323.8,92.2 323.8,92.3 323.7,92.4 323.6,92.5 323.5,92.5 323.4,92.6 323.3,92.7 323.1,92.8 322.9,92.8 322.7,92.9 322.5,93.0 322.2,93.1 321.9,93.1 321.5,93.2 321.1,93.3 320.7,93.4 320.2,93.4 319.7,93.5 319.1,93.6 318.4,93.7 317.7,93.8 316.8,93.8 315.8,93.9 314.6,94.0 313.2,94.1 311.5,94.1 309.3,94.2 306.4,94.3 305.6,94.4 305.6,94.4 305.6,94.5 305.6,94.6 305.9,94.7 309.4,94.7 312.0,94.8 314.1,94.9 315.9,95.0 317.4,95.0 318.7,95.1 319.9,95.2 320.9,95.3 321.9,95.3 322.8,95.4 323.6,95.5 324.4,95.6 325.1,95.6 325.8,95.7 326.4,95.8 327.0,95.9 327.6,95.9 328.1,96.0 328.6,96.1 329.1,96.2 329.6,96.2 330.0,96.3 330.5,96.4 330.9,96.5 331.2,96.5 331.6,96.6 332.0,96.7 332.3,96.8 332.6,96.8 333.0,96.9 333.3,97.0 333.5,97.1 333.8,97.1 334.1,97.2 334.3,97.3 334.6,97.4 334.8,97.4 335.1,97.5 335.3,97.6 335.5,97.7 335.7,97.7 335.9,97.8 336.1,97.9 336.2,98.0 336.4,98.1 336.6,98.1 336.7,98.2 336.8,98.3 337.0,98.4 337.1,98.4 337.2,98.5 337.3,98.6 337.5,98.7 337.6,98.7 337.7,98.8 337.7,98.9 337.8,99.0 337.9,99.0 338.0,99.1 338.0,99.2 338.1,99.3 338.1,99.3 338.2,99.4 338.2,99.5 338.2,99.6 338.3,99.6 338.3,99.7 338.3,99.8 338.3,99.9 338.3,99.9 338.3,100.0 338.3,100.1 338.3,100.2 338.2,100.2 338.2,100.3 338.2,100.4 338.1,100.5 338.1,100.5 338.0,100.6 338.0,100.7 337.9,100.8 337.8,100.8 337.7,100.9 337.7,101.0 337.6,101.1 337.5,101.1 337.3,101.2 337.2,101.3 337.1,101.4 337.0,101.4 336.8,101.5 336.7,101.6 336.6,101.7 336.4,101.7 336.2,101.8 336.1,101.9 335.9,102.0 335.7,102.1 335.5,102.1 335.3,102.2 335.1,102.3 334.8,102.4 334.6,102.4 334.3,102.5 334.1,102.6 333.8,102.7 333.5,102.7 333.3,102.8 333.0,102.9 332.6,103.0 332.3,103.0 332.0,103.1 331.6,103.2 331.2,103.3 330.9,103.3 330.5,103.4 330.0,103.5 329.6,103.6 329.1,103.6 328.6,103.7 328.1,103.8 327.6,103.9 327.0,103.9 326.4,104.0 325.8,104.1 325.1,104.2 324.4,104.2 323.6,104.3 322.8,104.4 321.9,104.5 320.9,104.5 319.9,104.6 318.7,104.7 317.4,104.8 315.9,104.8 314.1,104.9 312.0,105.0 309.4,105.1 305.9,105.1 305.6,105.2 305.6,105.3 305.6,105.4 305.6,105.4 306.4,105.5 309.3,105.6 311.5,105.7 313.2,105.7 314.6,105.8 315.8,105.9 316.8,106.0 317.7,106.0 318.4,106.1 319.1,106.2 319.7,106.3 320.2,106.4 320.7,106.4 321.1,106.5 321.5,106.6 321.9,106.7 322.2,106.7 322.5,106.8 322.7,106.9 322.9,107.0 323.1,107.0 323.3,107.1 323.4,107.2 323.5,107.3 323.6,107.3 323.7,107.4 323.8,107.5 323.8,107.6 323.8,107.6 323.8,107.7 323.8,107.8 323.8,107.9 323.7,107.9 323.7,108.0 323.6,108.1 323.5,108.2 323.4,108.2 323.2,108.3 323.1,108.4 322.9,108.5 322.7,108.5 322.5,108.6 322.3,108.7 322.1,108.8 321.8,108.8 321.5,108.9 321.2,109.0 320.9,109.1 320.5,109.1 320.2,109.2 319.8,109.3 319.3,109.4 318.9,109.4 318.4,109.5 317.8,109.6 317.2,109.7 316.6,109.7 315.9,109.8 315.2,109.9 314.4,110.0 313.5,110.0 312.5,110.1 311.4,110.2 310.2,110.3 308.8,110.4 307.1,110.4 305.6,110.5 305.6,110.6 305.6,110.7 305.6,110.7 305.6,110.8 305.6,110.9 305.6,111.0 305.6,111.0 305.6,111.1 305.6,111.2 306.9,111.3 308.4,111.3 309.6,111.4 310.7,111.5 311.6,111.6 312.4,111.6 313.2,111.7 313.8,111.8 314.4,111.9 314.9,111.9 315.4,112.0 315.9,112.1 316.3,112.2 316.6,112.2 317.0,112.3 317.3,112.4 317.5,112.5 317.8,112.5 318.0,112.6 318.2,112.7 318.4,112.8 318.5,112.8 318.7,112.9 318.8,113.0 318.9,113.1 318.9,113.1 319.0,113.2 319.0,113.3 319.1,113.4 319.1,113.4 319.1,113.5 319.0,113.6 319.0,113.7 318.9,113.7 318.8,113.8 318.8,113.9 318.6,114.0 318.5,114.0 318.4,114.1 318.2,114.2 318.0,114.3 317.8,114.4 317.6,114.4 317.4,114.5 317.1,114.6 316.9,114.7 316.6,114.7 316.3,114.8 315.9,114.9 315.5,115.0 315.1,115.0 314.7,115.1 314.2,115.2 313.7,115.3 313.2,115.3 312.6,115.4 312.0,115.5 311.3,115.6 310.6,115.6 309.7,115.7 308.8,115.8 307.8,115.9 306.7,115.9 305.6,116.0 305.6,116.1 305.6,116.2 305.6,116.2 305.6,116.3 305.6,116.4 305.6,116.5 305.6,116.5 305.6,116.6 305.6,116.7 305.6,116.8 305.6,116.8 305.6,116.9 305.6,117.0 305.6,117.1 306.4,117.1 307.4,117.2 308.3,117.3 309.1,117.4 309.8,117.4 310.5,117.5 311.1,117.6 311.6,117.7 312.1,117.7 312.5,117.8 313.0,117.9 313.3,118.0 313.7,118.0 314.0,118.1 314.3,118.2 314.5,118.3 314.8,118.3 315.0,118.4 315.2,118.5 315.4,118.6 315.5,118.7 315.7,118.7 315.8,118.8 315.9,118.9 316.0,119.0 316.1,119.0 316.1,119.1 316.2,119.2 316.2,119.3 316.2,119.3 316.2,119.4 316.2,119.5 316.1,119.6 316.1,119.6 316.0,119.7 315.9,119.8 315.8,119.9 315.7,119.9 315.6,120.0 315.5,120.1 315.3,120.2 315.1,120.2 315.0,120.3 314.7,120.4 314.5,120.5 314.3,120.5 314.0,120.6 313.7,120.7 313.4,120.8 313.1,120.8 312.8,120.9 312.4,121.0 312.0,121.1 311.5,121.1 311.1,121.2 310.6,121.3 310.0,121.4 309.4,121.4 308.8,121.5 308.1,121.6 307.4,121.7 306.5,121.7 305.6,121.8 305.6,121.9 305.6,122.0 305.6,122.0 305.6,122.1 305.6,122.2 305.6,122.3 305.6,122.3 305.6,122.4 305.6,122.5 305.6,122.6 305.6,122.7 305.6,122.7 305.6,122.8 305.6,122.9 305.6,123.0 305.6,123.0 305.6,123.1 305.6,123.2 305.6,123.3 305.7,123.3 306.5,123.4 307.2,123.5 307.9,123.6 308.5,123.6 309.0,123.7 309.5,123.8 310.0,123.9 310.4,123.9 310.8,124.0 311.2,124.1 311.5,124.2 311.8,124.2 312.1,124.3 312.4,124.4 312.6,124.5 312.8,124.5 313.0,124.6 313.2,124.7 313.4,124.8 313.5,124.8 313.7,124.9 313.8,125.0 313.9,125.1 314.0,125.1 314.1,125.2 314.1,125.3 314.2,125.4 314.2,125.4 314.3,125.5 314.3,125.6 314.3,125.7 314.3,125.7 314.2,125.8 314.2,125.9 314.2,126.0 314.1,126.0 314.0,126.1 313.9,126.2 313.8,126.3 313.7,126.3 313.6,126.4 313.5,126.5 313.3,126.6 313.1,126.6 313.0,126.7 312.8,126.8 312.5,126.9 312.3,127.0 312.1,127.0 311.8,127.1 311.5,127.2 311.2,127.3 310.9,127.3 310.6,127.4 310.2,127.5 309.8,127.6 309.4,127.6 308.9,127.7 308.5,127.8 308.0,127.9 307.4,127.9 306.8,128.0 306.2,128.1 305.6,128.2 305.6,128.2 305.6,128.3 305.6,128.4 305.6,128.5 305.6,128.5 305.6,128.6 305.6,128.7 305.6,128.8 305.6,128.8 305.6,128.9 305.6,129.0 305.6,129.1 305.6,129.1 305.6,129.2 305.6,129.3 305.6,129.4 305.6,129.4 305.6,129.5 305.6,129.6 305.6,129.7 305.6,129.7 305.6,129.8 305.6,129.9 305.6,130.0 305.6,130.0 305.6,130.1 306.2,130.2 306.7,130.3 307.3,130.3 307.7,130.4 308.2,130.5 308.6,130.6 309.0,130.6 309.4,130.7 309.7,130.8 310.0,130.9 310.3,131.0 310.6,131.0 310.8,131.1 311.1,131.2 311.3,131.3 311.5,131.3 311.7,131.4 311.8,131.5 312.0,131.6 312.1,131.6 312.3,131.7 312.4,131.8 312.5,131.9 312.6,131.9 312.7,132.0 312.8,132.1 312.8,132.2 312.9,132.2 312.9,132.3 313.0,132.4 313.0,132.5 313.0,132.5 313.0,132.6 313.0,132.7 313.0,132.8 313.0,132.8 312.9,132.9 312.9,133.0 312.8,133.1 312.8,133.1 312.7,133.2 312.6,133.3 312.5,133.4 312.4,133.4 312.3,133.5 312.2,133.6 312.1,133.7 311.9,133.7 311.8,133.8 311.6,133.9 311.4,134.0 311.2,134.0 311.0,134.1 310.8,134.2 310.6,134.3 310.4,134.3 310.1,134.4 309.8,134.5 309.5,134.6 309.2,134.6 308.9,134.7 308.6,134.8 308.2,134.9 307.8,135.0 307.4,135.0 307.0,135.1 306.5,135.2 306.0,135.3 305.6,135.3 305.6,135.4 305.6,135.5 305.6,135.6 305.6,135.6 305.6,135.7 305.6,135.8 305.6,135.9 305.6,135.9 305.6,136.0 305.6,136.1 305.6,136.2 305.6,136.2 305.6,136.3 305.6,136.4 305.6,136.5 305.6,136.5 305.6,136.6 305.6,136.7 305.6,136.8 305.6,136.8 305.6,136.9 305.6,137.0 305.6,137.1 305.6,137.1 305.6,137.2 305.6,137.3 305.6,137.4 305.6,137.4 305.6,137.5 305.6,137.6 305.6,137.7 305.6,137.7 305.6,137.8 305.6,137.9 305.8,138.0 306.2,138.0 306.6,138.1 307.0,138.2 307.4,138.3 307.7,138.3 308.1,138.4 308.4,138.5 308.7,138.6 308.9,138.6 309.2,138.7 309.4,138.8 309.7,138.9 309.9,138.9 310.1,139.0 310.3,139.1 310.4,139.2 310.6,139.3 310.8,139.3 310.9,139.4 311.1,139.5 311.2,139.6 311.3,139.6 311.4,139.7 311.5,139.8 311.6,139.9 311.7,139.9 311.8,140.0 311.9,140.1 311.9,140.2 312.0,140.2 312.1,140.3 312.1,140.4 312.1,140.5 312.2,140.5 312.2,140.6 312.2,140.7 312.2,140.8 312.2,140.8 312.2,140.9 312.2,141.0 312.2,141.1 312.2,141.1 312.2,141.2 312.1,141.3 312.1,141.4 312.1,141.4 312.0,141.5 312.0,141.6 311.9,141.7 311.8,141.7 311.8,141.8 311.7,141.9 311.6,142.0 311.5,142.0 311.4,142.1 311.3,142.2 311.2,142.3 311.1,142.3 310.9,142.4 310.8,142.5 310.7,142.6 310.5,142.6 310.4,142.7 310.2,142.8 310.0,142.9 309.9,142.9 309.7,143.0 309.5,143.1 309.3,143.2 309.1,143.3 308.8,143.3 308.6,143.4 308.4,143.5 308.1,143.6 307.8,143.6 307.6,143.7 307.3,143.8 307.0,143.9 306.7,143.9 306.3,144.0 306.0,144.1 305.6,144.2 305.6,144.2 305.6,144.3 305.6,144.4 305.6,144.5 305.6,144.5 305.6,144.6 305.6,144.7 305.6,144.8 305.6,144.8 305.6,144.9 305.6,145.0 305.6,145.1 305.6,145.1 305.6,145.2 305.6,145.3 305.6,145.4 305.6,145.4 305.6,145.5 305.6,145.6 305.6,145.7 305.6,145.7 305.6,145.8 305.6,145.9 305.6,146.0 305.6,146.0 305.6,146.1 305.6,146.2 305.6,146.3 305.6,146.3 305.6,146.4 305.6,146.5 305.6,146.6 305.6,146.6 305.6,146.7 305.6,146.8 305.6,146.9 305.6,146.9 305.6,147.0 305.6,147.1 305.6,147.2 305.6,147.2 305.6,147.3 305.6,147.4 305.6,147.5 305.6,147.6 305.6,147.6 305.6,147.7 305.6,147.8 305.6,147.9 305.6,147.9 305.6,148.0 305.9,148.1 306.2,148.2 306.5,148.2 306.7,148.3 307.0,148.4 307.2,148.5 307.5,148.5 307.7,148.6 307.9,148.7 308.1,148.8 308.3,148.8 308.5,148.9 308.6,149.0 308.8,149.1 309.0,149.1 309.1,149.2 309.3,149.3 309.4,149.4 309.6,149.4 309.7,149.5 309.8,149.6 309.9,149.7 310.1,149.7 310.2,149.8 310.3,149.9 310.4,150.0 310.5,150.0 310.6,150.1 310.7,150.2 310.8,150.3 310.8,150.3 310.9,150.4 311.0,150.5 311.1,150.6 311.1,150.6 311.2,150.7 311.3,150.8 311.3,150.9 311.4,150.9 311.4,151.0 311.5,151.1 311.5,151.2 311.6,151.2 311.6,151.3 311.6,151.4 311.7,151.5 311.7,151.6 311.7,151.6 311.7,151.7 311.8,151.8 311.8,151.9 311.8,151.9 311.8,152.0 311.8,152.1 311.8,152.2 311.8,152.2 311.9,152.3 311.9,152.4 311.9,152.5 311.9,152.5 311.9,152.6 311.8,152.7 311.8,152.8 311.8,152.8 311.8,152.9 311.8,153.0 311.8,153.1 311.8,153.1 311.7,153.2 311.7,153.3 311.7,153.4 311.7,153.4 311.6,153.5 311.6,153.6 311.6,153.7 311.6,153.7 311.5,153.8 311.5,153.9 311.4,154.0 311.4,154.0 311.4,154.1 311.3,154.2 311.3,154.3 311.2,154.3 311.2,154.4 311.1,154.5 311.1,154.6 311.0,154.6 311.0,154.7 310.9,154.8 310.8,154.9 310.8,154.9 310.7,155.0 310.7,155.1 310.6,155.2 310.5,155.2 310.5,155.3 310.4,155.4 310.3,155.5 310.2,155.6 310.2,155.6 310.1,155.7 310.0,155.8 309.9,155.9 309.8,155.9 309.8,156.0 309.7,156.1 309.6,156.2 309.5,156.2 309.4,156.3 309.3,156.4 309.2,156.5 309.1,156.5 309.0,156.6 308.9,156.7 308.8,156.8 308.7,156.8 308.6,156.9 308.5,157.0 308.4,157.1 308.3,157.1 308.2,157.2 308.1,157.3 308.0,157.4 307.9,157.4 307.8,157.5 307.7,157.6 307.5,157.7 307.4,157.7 307.3,157.8 307.2,157.9 307.1,158.0 306.9,158.0 306.8,158.1 306.7,158.2 306.6,158.3 306.4,158.3 306.3,158.4 306.2,158.5 306.0,158.6 305.9,158.6 305.7,158.7 305.6,158.8 305.6,158.9 305.6,158.9 305.6,159.0 305.6,159.1 305.6,159.2 305.6,159.2 305.6,159.3 305.6,159.4 305.6,159.5 305.6,159.5 305.6,159.6 305.6,159.7 305.6,159.8 305.6,159.9 305.6,159.9 305.6,160.0 305.6,160.1 305.6,160.2 305.6,160.2 305.6,160.3 305.6,160.4 305.6,160.5 305.6,160.5 305.6,160.6 305.6,160.7 305.6,160.8 305.6,160.8 305.6,160.9 305.6,161.0 305.6,161.1 305.6,161.1 305.6,161.2 305.6,161.3 305.6,161.4 305.6,161.4 305.6,161.5 305.6,161.6 305.6,161.7 305.6,161.7 305.6,161.8 305.6,161.9 305.6,162.0 305.6,162.0 305.6,162.1 305.6,162.2 305.6,162.3 305.6,162.3 305.6,162.4 305.6,162.5 305.6,162.6 305.6,162.6 305.6,162.7 305.6,162.8 305.6,162.9 305.6,162.9 305.6,163.0 305.6,163.1 305.6,163.2 305.6,163.2 305.6,163.3 305.6,163.4 305.6,163.5 305.6,163.5 305.6,163.6 305.6,163.7 305.6,163.8 305.6,163.9 305.6,163.9 305.6,164.0 305.6,164.1 305.6,164.2 305.6,164.2 305.6,164.3 305.6,164.4 305.6,164.5 305.6,164.5 305.6,164.6 305.6,164.7 305.6,164.8 305.6,164.8 305.6,164.9 305.6,165.0 305.6,165.1 305.6,165.1 305.6,165.2 305.6,165.3 305.6,165.4 305.6,165.4 305.6,165.5 305.6,165.6 305.6,165.7 305.6,165.7 305.6,165.8 305.6,165.9 305.6,166.0 305.6,166.0 305.6,166.1 305.6,166.2 305.6,166.3 305.6,166.3 305.6,166.4 305.6,166.5 305.6,166.6 305.6,166.6 305.6,166.7 305.6,166.8 305.6,166.9 305.6,166.9 305.6,167.0 305.6,167.1 305.6,167.2 305.6,167.2 305.6,167.3 305.6,167.4 305.6,167.5 305.6,167.5 305.6,167.6 305.6,167.7 305.6,167.8" fill="none" stroke="#0072bd" stroke-width="1.05" stroke-linejoin="round" stroke-linecap="round"/>
</g>
<clipPath id="cp6"><rect x="347.90" y="174.50" width="155.40" height="35.30"/></clipPath><g clip-path="url(#cp6)">
<polyline points="349.4,213.0 350.1,213.0 350.7,213.0 351.3,213.0 351.9,211.9 352.5,206.8 353.1,206.6 353.7,209.2 354.3,213.0 354.9,210.3 355.6,208.5 356.2,211.6 356.8,210.6 357.4,211.1 358.0,206.1 358.6,209.8 359.2,206.5 359.8,205.7 360.4,207.0 361.0,210.5 361.6,209.3 362.3,206.9 362.9,209.6 363.5,207.2 364.1,206.8 364.7,210.1 365.3,213.0 365.9,209.4 366.5,211.3 367.1,213.0 367.8,204.7 368.4,212.5 369.0,209.4 369.6,207.2 370.2,208.7 370.8,211.5 371.4,213.0 372.0,202.3 372.6,209.3 373.2,206.0 373.8,212.6 374.5,207.8 375.1,209.8 375.7,208.7 376.3,213.0 376.9,206.9 377.5,208.9 378.1,212.8 378.7,212.7 379.3,213.0 379.9,202.6 380.6,212.0 381.2,207.6 381.8,210.9 382.4,208.8 383.0,206.0 383.6,206.3 384.2,203.3 384.8,204.6 385.4,213.0 386.1,213.0 386.7,209.1 387.3,209.1 387.9,208.9 388.5,212.7 389.1,205.0 389.7,208.7 390.3,210.6 390.9,202.7 391.5,211.2 392.1,205.5 392.8,207.0 393.4,205.8 394.0,201.8 394.6,207.6 395.2,206.4 395.8,209.6 396.4,211.9 397.0,210.7 397.6,208.8 398.2,204.9 398.9,212.5 399.5,205.2 400.1,210.7 400.7,208.5 401.3,209.4 401.9,211.8 402.5,210.0 403.1,209.1 403.7,207.4 404.3,206.7 405.0,213.0 405.6,208.7 406.2,211.7 406.8,212.8 407.4,205.9 408.0,208.5 408.6,213.0 409.2,208.1 409.8,209.4 410.4,208.6 411.1,204.2 411.7,206.1 412.3,210.4 412.9,212.0 413.5,209.6 414.1,210.6 414.7,203.7 415.3,207.8 415.9,210.9 416.6,213.0 417.2,209.9 417.8,208.9 418.4,213.0 419.0,201.3 419.6,208.7 420.2,210.8 420.8,204.3 421.4,207.1 422.0,212.0 422.6,205.5 423.3,206.2 423.9,208.1 424.5,205.0 425.1,206.4 425.7,179.2 426.3,206.4 426.9,204.4 427.5,205.3 428.1,213.0 428.8,207.9 429.4,209.7 430.0,210.3 430.6,205.5 431.2,210.1 431.8,206.4 432.4,205.0 433.0,206.7 433.6,211.5 434.2,204.7 434.8,203.8 435.5,205.3 436.1,208.4 436.7,209.2 437.3,206.7 437.9,205.3 438.5,212.9 439.1,211.2 439.7,207.5 440.3,206.8 440.9,207.0 441.6,211.9 442.2,208.8 442.8,211.3 443.4,213.0 444.0,211.3 444.6,203.6 445.2,213.0 445.8,207.9 446.4,213.0 447.1,208.0 447.7,207.3 448.3,211.0 448.9,211.1 449.5,209.9 450.1,207.2 450.7,212.3 451.3,213.0 451.9,208.4 452.5,204.4 453.1,207.1 453.8,210.6 454.4,204.5 455.0,213.0 455.6,211.0 456.2,213.0 456.8,210.3 457.4,203.1 458.0,207.8 458.6,207.9 459.2,208.8 459.9,212.2 460.5,208.2 461.1,213.0 461.7,203.8 462.3,209.4 462.9,208.4 463.5,209.7 464.1,208.1 464.7,213.0 465.3,207.1 466.0,208.9 466.6,207.0 467.2,211.4 467.8,208.6 468.4,208.6 469.0,213.0 469.6,213.0 470.2,209.0 470.8,205.1 471.4,209.1 472.1,205.1 472.7,212.1 473.3,206.3 473.9,208.5 474.5,213.0 475.1,210.1 475.7,208.4 476.3,213.0 476.9,204.9 477.6,209.2 478.2,207.0 478.8,208.7 479.4,209.6 480.0,213.0 480.6,213.0 481.2,204.7 481.8,207.3 482.4,212.5 483.0,207.5 483.6,208.7 484.3,206.8 484.9,209.2 485.5,205.7 486.1,211.7 486.7,211.5 487.3,204.6 487.9,208.6 488.5,210.9 489.1,213.0 489.8,212.6 490.4,210.1 491.0,211.1 491.6,210.1 492.2,213.0 492.8,210.2 493.4,205.8 494.0,207.9 494.6,205.6 495.2,208.2 495.8,205.0 496.5,212.0 497.1,206.7 497.7,207.4 498.3,205.8 498.9,212.3 499.5,205.4 500.1,213.0 500.7,213.0 501.3,213.0 501.9,213.0" fill="none" stroke="#0072bd" stroke-width="1.00" stroke-linejoin="round" stroke-linecap="round"/>
</g>
<rect x="424.70" y="178.75" width="2.00" height="2.00" fill="#111"/>
<rect x="469.84" y="204.08" width="2.00" height="2.00" fill="#111"/>
<rect x="426.60" y="169.20" width="26.40" height="7.00" fill="#fdfdfd" stroke="#c8c8c8" stroke-width="0.5" rx="0.6"/>
<text x="428.40" y="174.43" font-family='"Liberation Sans", Arial, sans-serif' font-size="4.80" fill="#666">Y <tspan fill="#1a8fe0" font-weight="bold">90.3506</tspan></text>
<rect x="472.00" y="187.70" width="27.30" height="17.00" fill="#fdfdfd" stroke="#c8c8c8" stroke-width="0.5" rx="0.6"/>
<text x="473.80" y="193.68" font-family='"Liberation Sans", Arial, sans-serif' font-size="4.80" fill="#666">X <tspan fill="#1a8fe0" font-weight="bold">74</tspan></text>
<text x="473.80" y="202.18" font-family='"Liberation Sans", Arial, sans-serif' font-size="4.80" fill="#666">Y <tspan fill="#1a8fe0" font-weight="bold">64.7737</tspan></text>
<rect x="70.00" y="288.00" width="159.00" height="135.00" fill="#000087"/>
<clipPath id="hc7"><rect x="70.00" y="288.00" width="159.00" height="135.00"/></clipPath>
<g clip-path="url(#hc7)"><g shape-rendering="crispEdges" filter="url(#bl)"><g transform="translate(70.5 288.0)" stroke-width="1.05" fill="none">
<path d="M2 58v1M3 59v1M4 58v1M4 60v1M4 76v1M5 59v1M6 73v1M6 76v1M6 80v1M7 63v1M8 59v1M8 74v2M10 70v1M12 59v1M13 58v1M14 75v1M15 59v1M16 71v1M17 70v1M21 59v1M22 58v1M22 76v1M23 58v1M23 74v2M25 59v1M25 74v1M27 74v2M29 74v1M30 59v1M31 59v1M31 74v2M32 58v1M32 60v1M33 60v1M35 53v1M37 60v1M37 71v1M39 103v3M40 74v1M41 59v1M41 75v1M42 59v1M43 53v1M43 73v1M45 59v1M45 74v2M46 73v1M46 80v1M47 58v1M47 76v1M49 58v1M51 53v2M52 54v1M52 76v1M52 80v1M53 52v1M53 57v1M53 86v1M55 58v1M55 60v1M56 53v1M56 58v1M56 73v1M56 80v1M57 53v2M57 80v1M59 74v1M59 76v1M59 102v2M61 73v1M61 76v1M61 81v1M62 59v1M62 62v1M62 75v1M63 103v2M65 76v1M65 99v1M65 102v4M66 53v2M66 76v1M66 80v1M67 60v1M67 75v1M68 59v1M70 53v1M70 80v1M71 73v1M71 76v1M72 59v1M72 74v1M73 58v1M73 76v1M74 59v1M74 74v2M74 99v1M74 106v1M75 103v3M76 58v1M76 60v1M78 76v1M78 101v5M79 41v2M79 61v1M79 93v1M79 98v1M79 106v1M80 58v1M80 63v1M81 59v2M81 63v1M81 74v1M81 101v3M82 99v1M82 106v1M83 74v1M84 73v1M84 80v1M85 59v1M86 58v1M86 76v1M88 81v1M89 53v2M89 73v1M90 54v1M90 81v1M90 99v3M90 105v2M91 72v1M92 72v1M93 76v1M93 80v1M94 59v1M94 75v1M94 100v1M94 104v1M95 58v1M95 76v1M96 53v1M97 71v1M97 80v1M98 74v1M98 100v4M99 58v1M100 71v1M100 74v2M101 60v1M103 63v1M104 58v1M105 101v3M106 58v1M107 99v2M107 105v1M108 53v1M108 101v4M109 58v1M110 74v2M111 63v1M111 73v1M111 76v1M112 53v1M112 73v1M112 76v1M113 59v1M113 63v1M114 59v1M114 74v2M116 58v1M116 60v1M116 63v1M116 74v2M117 60v1M118 58v1M119 76v1M121 53v2M121 73v1M121 80v1M122 104v2M124 53v1M124 73v1M125 53v1M125 76v1M126 74v2M127 58v1M128 58v1M129 59v1M129 102v2M130 53v2M130 76v1M130 80v1M131 70v1M134 63v1M136 59v2M137 74v2M138 60v1M138 63v1M140 58v1M141 58v1M143 59v1M143 74v2M147 58v1M147 60v1M148 58v1M148 60v1M149 70v1M150 72v1M155 58v1M155 60v1M155 74v2M156 62v1" stroke="#00009e"/>
<path d="M2 60v1M3 74v2M5 74v2M6 58v1M8 71v1M9 63v1M9 70v1M13 60v1M13 74v1M14 60v1M14 71v1M14 74v1M16 58v1M19 70v1M21 74v2M23 60v1M25 75v1M26 64v1M26 72v1M29 59v2M29 63v1M32 59v1M32 75v1M33 59v1M33 74v2M34 70v1M35 58v1M35 73v1M36 63v1M37 59v1M37 74v2M38 63v1M39 70v1M39 101v2M40 70v1M40 75v1M41 70v1M41 74v1M42 63v1M42 75v1M43 63v1M43 76v1M46 53v2M46 76v1M49 59v1M49 74v2M50 63v1M50 70v1M53 81v1M55 75v1M56 60v1M56 76v1M57 58v1M57 76v1M59 58v1M59 75v1M60 71v1M61 53v2M61 80v1M62 74v1M63 59v2M63 74v2M64 58v1M64 63v1M65 72v1M65 100v2M66 60v1M67 58v1M67 74v1M68 74v2M69 58v1M69 60v1M69 62v1M69 75v1M70 73v1M72 75v1M73 60v1M74 100v1M74 105v1M75 69v1M79 55v1M79 85v1M79 87v1M79 92v1M79 99v4M79 105v1M80 60v1M80 74v1M82 64v1M82 104v2M83 99v1M83 106v1M84 72v1M85 75v1M88 53v2M88 79v1M90 53v1M90 72v1M90 80v1M90 102v3M91 58v1M91 60v1M92 58v1M92 60v1M92 74v1M93 58v1M94 101v1M95 60v1M96 76v1M97 58v1M97 60v1M97 62v1M98 58v1M98 60v1M99 60v1M99 76v1M101 59v1M101 62v1M101 74v2M102 58v1M103 70v1M104 60v1M104 74v2M105 70v1M105 74v2M106 59v2M106 74v2M107 58v1M107 74v2M107 101v4M108 54v1M108 60v1M109 60v1M109 74v2M110 59v1M111 58v1M115 64v1M117 59v1M118 60v1M118 74v2M119 59v2M121 62v1M121 71v1M122 103v1M123 63v1M123 71v1M124 76v1M125 58v1M125 60v1M126 59v1M127 60v1M127 74v1M128 60v1M129 62v1M129 74v1M131 58v1M131 60v1M131 74v2M135 58v1M135 60v1M136 74v2M137 59v1M138 59v1M138 75v1M139 64v1M140 59v2M140 62v1M141 74v2M142 59v1M142 74v2M144 62v1M147 59v1M147 74v1M150 58v1M150 60v1M150 74v2M151 71v1M152 63v1M152 69v1M153 69v1M157 71v1" stroke="#0000b4"/>
<path d="M1 70v1M2 59v1M2 72v1M2 75v1M3 62v1M4 59v1M5 64v1M6 59v2M8 63v1M11 63v1M12 62v1M13 59v1M13 63v1M13 75v1M14 59v1M16 60v1M16 74v1M18 63v1M18 69v1M19 62v1M21 71v1M22 60v1M23 59v1M23 63v1M25 71v1M28 63v1M31 70v1M32 74v1M35 60v1M42 74v1M43 58v1M43 60v1M43 72v1M44 74v2M46 58v1M46 60v1M47 60v1M47 71v1M48 63v1M51 58v1M51 60v1M53 53v2M53 73v1M53 80v1M54 70v1M55 59v1M55 72v1M55 74v1M56 59v1M57 59v2M58 70v1M59 59v2M61 71v1M64 75v1M65 58v1M67 59v1M67 64v1M69 59v1M69 74v1M70 76v1M71 58v1M71 60v1M73 59v1M74 101v1M75 62v1M76 59v1M76 74v2M77 71v1M78 58v1M78 71v1M78 74v2M79 103v2M80 59v1M80 75v1M82 100v1M82 103v1M83 100v1M83 105v1M84 58v1M84 60v1M84 75v1M85 71v1M85 74v1M86 59v2M86 63v1M86 74v1M88 73v1M88 76v1M88 80v1M89 76v1M90 73v1M90 76v1M91 59v1M91 74v2M92 75v1M93 60v1M93 74v1M94 102v2M95 59v1M95 74v2M98 59v1M98 63v1M99 59v1M99 62v1M100 63v1M102 60v1M102 74v2M104 59v1M105 58v1M107 60v1M108 58v2M108 75v1M109 59v1M110 71v1M112 60v1M115 71v1M116 59v1M118 59v1M118 70v1M119 63v1M120 64v1M121 58v1M121 76v1M122 100v3M125 63v1M125 74v2M127 59v1M127 75v1M128 59v1M128 63v1M128 74v2M129 70v1M129 75v1M130 58v1M131 59v1M132 70v1M135 59v1M135 70v1M135 74v2M137 63v1M138 74v1M140 75v1M141 59v2M142 64v1M146 63v1M147 75v1M148 59v1M148 74v2M149 63v1M150 59v1M154 64v1M155 59v1" stroke="#0000ca"/>
<path d="M1 65v1M2 74v1M3 70v1M4 74v2M5 72v1M7 70v1M10 64v1M11 69v1M15 71v1M16 59v1M16 75v1M20 70v1M21 63v1M22 59v1M22 63v1M22 74v2M24 70v1M25 63v1M27 63v1M28 70v1M30 64v1M31 62v1M32 71v1M35 59v1M35 75v1M36 70v1M38 70v1M39 64v1M42 71v1M44 58v1M44 60v1M44 64v1M47 59v1M47 74v2M49 63v1M49 71v1M51 59v1M51 71v1M51 74v2M52 58v1M52 60v1M52 62v1M52 74v2M53 76v1M54 63v1M57 63v1M57 74v2M59 70v1M62 70v1M63 62v1M63 70v1M64 60v1M64 74v1M65 60v1M65 74v1M66 58v2M66 72v1M66 74v2M70 58v1M71 59v1M71 74v2M72 62v1M72 70v1M73 74v2M74 102v1M74 104v1M78 60v1M79 47v2M79 52v1M79 57v1M81 71v1M82 101v2M83 70v1M83 101v1M83 103v2M84 59v1M84 74v1M86 75v1M87 62v1M88 58v1M89 58v1M90 58v1M92 59v1M93 59v1M93 75v1M96 58v1M96 60v1M96 62v1M96 74v2M97 59v1M97 74v2M98 71v1M99 74v2M102 59v1M105 60v1M106 63v1M106 71v1M107 59v1M108 74v1M109 62v1M109 70v1M111 59v2M112 58v1M112 74v2M117 70v1M119 71v1M120 70v1M121 60v1M122 70v1M124 58v1M124 60v1M125 59v1M130 60v1M130 72v1M130 74v2M135 62v1M137 71v1M140 74v1M143 71v1M145 71v1M147 63v1M153 63v1M153 68v1M157 64v1M158 64v1M158 70v1" stroke="#0000e1"/>
<path d="M0 62v1M0 68v1M1 69v1M6 75v1M7 64v1M10 69v1M12 69v1M17 63v1M17 69v1M23 71v1M24 63v1M30 71v1M34 63v1M35 74v1M37 63v1M39 69v1M41 62v1M43 59v1M43 74v2M44 59v1M45 63v1M46 59v1M46 63v1M46 75v1M48 69v1M52 59v1M56 63v1M56 74v2M58 63v1M61 58v1M61 62v1M61 74v2M64 59v1M65 59v1M65 75v1M70 60v1M71 64v1M73 71v1M74 71v1M74 103v1M77 65v1M78 59v1M78 63v1M79 86v1M82 71v1M83 102v1M87 69v1M89 60v1M89 70v1M89 74v2M90 59v2M93 70v1M94 71v1M102 71v1M103 64v1M105 59v1M107 63v1M110 63v1M111 75v1M112 59v1M113 71v1M119 74v2M121 59v1M121 74v2M124 74v2M130 59v1M132 63v1M133 70v1M134 71v1M139 71v1M140 70v1M142 72v1M143 64v1M147 71v1M149 69v1M152 64v1M152 68v1M154 70v1M156 63v1" stroke="#0000f7"/>
<path d="M1 66v3M2 64v1M4 63v1M4 71v1M6 62v1M6 74v1M9 64v1M9 69v1M11 64v1M11 68v1M13 71v1M14 63v1M15 64v1M18 64v1M18 68v1M20 63v1M22 71v1M29 71v1M32 63v1M33 71v1M34 69v1M35 63v1M40 63v1M40 69v1M46 74v1M48 64v1M50 64v1M55 64v1M59 62v1M61 60v1M67 72v1M68 70v1M69 70v1M70 59v1M73 63v1M74 64v1M75 63v1M75 68v1M79 79v1M83 63v1M85 63v1M88 60v1M88 74v2M89 59v1M90 74v2M92 64v1M93 62v1M96 59v1M103 69v1M108 62v1M111 74v1M112 71v1M114 62v1M115 70v1M116 71v1M117 63v1M118 62v1M120 65v1M122 63v1M124 59v1M124 71v1M126 64v1M127 63v1M134 64v1M136 71v1M138 71v1M139 65v1M144 63v1M144 69v1M145 64v1M146 70v1M151 64v1M152 67v1M153 64v1M153 67v1M154 65v1M155 71v1M156 69v1M157 70v1M158 65v1" stroke="#000eff"/>
<path d="M7 69v1M8 64v1M8 70v1M10 65v1M10 67v2M11 65v1M11 67v1M14 70v1M16 63v1M19 69v1M26 65v1M26 71v1M27 70v1M28 64v1M28 69v1M33 64v1M35 71v1M36 69v1M37 70v1M38 64v1M38 69v1M39 65v4M44 72v1M45 70v1M48 68v1M50 69v1M51 63v1M52 70v1M53 58v1M53 74v2M54 69v1M56 71v1M58 69v1M60 64v1M61 59v1M62 63v1M64 71v1M68 63v1M70 62v1M70 74v2M71 72v1M75 64v1M76 64v1M76 71v1M77 70v1M81 64v1M82 65v1M84 69v1M86 71v1M87 63v1M88 59v1M90 63v1M91 69v1M94 64v1M95 63v1M95 70v1M99 70v1M100 70v1M101 63v1M101 70v1M103 65v1M104 64v1M104 71v1M107 71v1M111 71v1M112 63v1M113 64v1M114 69v1M120 69v1M123 70v1M126 71v1M127 70v1M128 71v1M131 69v1M132 69v1M133 63v1M136 64v1M138 64v1M141 70v1M148 64v1M152 65v2M154 66v1M155 64v1M158 69v1" stroke="#0025ff"/>
<path d="M0 63v1M0 67v1M5 65v1M6 70v1M7 65v1M7 68v1M9 65v1M9 68v1M10 66v1M11 66v1M12 63v1M12 68v1M15 70v1M16 70v1M17 68v1M18 65v1M18 67v1M19 63v1M21 64v1M21 70v1M24 69v1M27 64v1M29 64v1M30 65v1M30 70v1M31 69v1M34 68v1M36 64v1M41 69v1M42 64v1M46 71v1M47 63v1M48 65v1M50 65v1M53 60v1M54 64v1M58 64v1M60 70v1M65 71v1M66 64v1M70 70v1M75 65v3M77 66v1M77 69v1M79 62v1M79 81v1M80 71v1M81 70v1M83 69v1M84 62v1M85 70v1M86 64v1M87 68v1M88 62v1M89 62v1M92 71v1M100 64v1M102 63v1M103 68v1M108 70v1M110 70v1M111 64v1M115 65v1M117 69v1M118 69v1M120 66v1M123 64v1M125 71v1M129 63v1M131 62v1M135 69v1M139 70v1M140 63v1M141 63v1M146 64v1M148 71v1M149 64v1M149 68v1M150 64v1M150 71v1M151 70v1M153 65v2M154 67v3M156 64v1M157 65v1M158 66v1" stroke="#003bff"/>
<path d="M0 64v1M0 66v1M2 71v1M3 63v1M3 69v1M5 71v1M7 66v2M9 66v2M12 66v2M13 64v1M17 64v1M17 67v1M18 66v1M20 69v1M23 64v1M23 70v1M24 64v1M25 64v1M25 70v1M28 68v1M31 63v1M32 70v1M34 64v1M34 66v2M36 68v1M37 64v1M40 68v1M43 64v1M44 65v1M45 64v1M47 70v1M48 66v2M50 66v1M53 59v1M53 70v1M54 68v1M55 71v1M57 71v1M58 65v1M62 69v1M63 63v1M64 64v1M65 64v1M67 65v1M69 63v1M72 63v1M72 69v1M74 70v1M77 67v2M78 70v1M79 53v2M80 64v1M82 70v1M88 70v1M91 62v1M94 70v1M96 70v1M97 70v1M98 70v1M99 63v1M100 69v1M103 66v2M105 62v1M105 69v1M106 64v1M109 69v1M113 70v1M115 69v1M116 64v1M119 64v1M120 67v2M121 63v1M121 70v1M122 69v1M124 63v1M125 64v1M128 64v1M129 69v1M130 64v1M132 64v1M132 68v1M133 69v1M134 65v1M134 70v1M135 63v1M137 64v1M137 70v1M139 66v1M142 65v1M142 71v1M143 65v1M143 70v1M144 64v1M144 68v1M145 65v1M146 69v1M147 64v1M149 67v1M157 69v1M158 67v2" stroke="#0051ff"/>
<path d="M0 65v1M8 65v1M8 69v1M12 64v2M14 64v1M15 65v1M17 65v2M19 64v1M22 64v1M24 68v1M27 65v1M27 69v1M28 65v1M28 67v1M33 65v1M33 70v1M34 65v1M36 65v1M36 67v1M38 65v1M38 68v1M40 64v1M41 63v1M42 70v1M43 71v1M49 64v1M49 70v1M50 67v2M51 70v1M52 63v1M54 65v1M57 64v1M58 66v1M59 63v1M59 69v1M62 64v1M63 69v1M67 71v1M73 70v1M74 65v1M78 64v1M79 73v1M79 80v1M81 65v1M82 66v1M82 69v1M83 64v1M87 64v1M87 67v1M94 65v1M97 63v1M98 64v1M100 68v1M101 64v1M102 70v1M104 70v1M106 70v1M107 64v1M109 63v1M110 64v1M114 63v1M115 66v1M116 70v1M117 64v1M118 63v1M119 70v1M122 64v1M123 69v1M126 65v1M127 64v1M129 64v1M130 71v1M132 66v2M133 64v1M134 66v1M136 70v1M138 65v1M138 70v1M139 69v1M140 69v1M144 65v3M145 66v1M145 70v1M146 68v1M147 70v1M149 65v2M151 65v1M151 69v1M155 70v1M156 68v1M157 66v3" stroke="#0068ff"/>
<path d="M2 65v1M3 68v1M4 64v1M4 70v1M8 66v1M13 65v1M13 70v1M14 69v1M15 69v1M16 64v1M19 68v1M20 64v1M21 65v1M22 70v1M24 65v1M24 67v1M25 69v1M26 66v1M26 70v1M27 66v1M28 66v1M29 65v1M29 70v1M30 66v4M31 68v1M32 64v1M36 66v1M37 69v1M38 66v2M40 65v1M40 67v1M41 68v1M45 65v1M45 69v1M46 64v1M53 62v1M54 66v2M55 65v1M56 64v1M58 67v2M60 65v1M61 63v1M61 70v1M64 70v1M65 70v1M66 71v1M68 64v1M69 69v1M71 65v1M72 64v1M72 68v1M74 69v1M76 65v1M79 76v1M82 67v2M83 68v1M85 64v1M85 69v1M86 65v1M86 70v1M89 69v1M90 71v1M92 65v1M92 70v1M93 63v1M93 69v1M94 69v1M95 69v1M96 63v1M99 69v1M100 65v1M100 67v1M101 69v1M102 64v1M104 65v1M106 65v1M108 63v1M110 69v1M111 70v1M112 70v1M113 65v1M113 69v1M114 68v1M115 67v2M117 68v1M118 68v1M123 65v1M126 70v1M127 69v1M128 70v1M131 63v1M131 68v1M132 65v1M133 65v4M134 67v3M136 65v1M139 67v2M141 69v1M143 66v1M145 67v2M146 65v3M148 65v1M155 65v1M156 65v1" stroke="#007eff"/>
<path d="M3 64v1M5 66v1M6 63v1M8 67v2M15 66v3M16 69v1M19 65v3M20 68v1M21 69v1M23 65v1M23 69v1M24 66v1M25 65v1M27 67v2M31 64v1M32 69v1M33 69v1M35 64v1M35 70v1M37 65v1M40 66v1M41 64v1M42 69v1M44 66v1M45 66v1M47 64v1M47 69v1M49 65v1M51 64v1M52 69v1M55 70v1M56 70v1M60 69v1M62 65v1M62 68v1M63 64v1M67 66v1M68 69v1M71 71v1M72 65v1M72 67v1M73 64v1M76 66v1M76 70v1M80 70v1M81 66v1M81 69v1M83 65v3M84 63v1M84 68v1M85 65v1M86 66v1M87 65v2M89 63v1M91 68v1M94 66v3M95 64v1M98 69v1M100 66v1M101 65v1M102 69v1M107 70v1M109 64v1M109 68v1M111 65v1M112 64v1M113 66v3M116 65v1M118 64v1M119 65v1M122 68v1M123 68v1M124 70v1M125 70v1M128 65v1M129 65v1M129 68v1M135 68v1M136 66v4M137 65v1M137 69v1M138 66v1M138 69v1M140 64v1M141 64v1M142 66v1M142 70v1M143 67v3M145 69v1M147 65v1M148 70v1M150 65v1M150 70v1M151 66v3M155 69v1M156 66v2" stroke="#0094ff"/>
<path d="M2 66v1M2 70v1M3 67v1M5 70v1M6 69v1M13 66v1M14 65v1M14 68v1M16 65v1M16 67v2M20 67v1M21 66v1M25 68v1M26 67v1M26 69v1M29 68v2M31 65v3M32 65v1M32 68v1M33 66v3M37 66v3M41 65v3M42 65v1M44 71v1M45 67v2M46 70v1M49 66v1M49 69v1M51 69v1M52 64v1M55 66v1M60 66v1M62 66v1M63 68v1M64 65v1M66 65v1M67 70v1M68 65v1M69 64v1M70 63v1M72 66v1M73 69v1M74 66v3M78 65v1M78 69v1M80 65v1M81 67v2M85 66v3M86 67v3M88 63v1M90 64v1M92 69v1M93 68v1M95 68v1M96 69v1M97 69v1M98 65v1M99 64v1M101 66v3M104 66v1M104 69v1M105 63v1M105 68v1M106 69v1M107 65v1M108 64v1M108 69v1M109 67v1M110 68v1M114 64v1M114 67v1M116 69v1M117 65v1M117 67v1M118 65v3M119 66v1M119 69v1M121 69v1M122 65v1M123 66v2M125 65v1M126 66v1M126 69v1M127 65v1M127 68v1M128 69v1M129 66v2M130 65v1M130 70v1M131 67v1M135 64v1M138 67v2M140 68v1M141 68v1M147 66v1M147 69v1M148 66v1M148 69v1M155 66v3" stroke="#00abff"/>
<path d="M3 65v2M4 65v1M4 69v1M5 67v3M13 67v3M14 66v2M16 66v1M20 65v1M22 65v1M22 69v1M23 66v1M23 68v1M25 66v1M26 68v1M29 66v2M32 66v2M42 68v1M43 65v1M43 70v1M47 65v1M47 68v1M49 67v2M52 65v1M55 69v1M57 65v1M57 70v1M59 64v1M59 68v1M60 67v2M61 64v1M62 67v1M63 65v1M64 69v1M65 65v1M65 69v1M67 67v1M68 66v1M68 68v1M69 65v1M70 69v1M73 65v1M76 67v1M78 66v1M79 58v1M80 69v1M88 69v1M90 70v1M91 63v1M92 66v1M97 64v1M98 68v1M99 68v1M102 65v1M104 67v2M106 66v3M107 66v1M107 69v1M109 65v2M110 65v1M110 67v1M111 69v1M116 66v1M117 66v1M121 64v1M122 66v2M124 64v1M125 66v2M125 69v1M126 67v2M127 66v2M128 66v1M128 68v1M131 64v3M135 67v1M137 66v3M140 65v1M140 67v1M141 65v3M142 69v1M147 67v2M148 67v2M150 66v1M150 69v1" stroke="#00c1ff"/>
<path d="M2 67v3M4 66v1M4 68v1M6 64v1M6 68v1M20 66v1M21 67v2M22 66v1M22 68v1M23 67v1M25 67v1M35 65v1M42 66v2M44 67v1M46 65v1M46 69v1M51 65v1M52 68v1M53 69v1M55 67v2M56 65v1M56 69v1M61 69v1M63 66v2M64 66v1M64 68v1M65 68v1M66 70v1M67 68v2M68 67v1M69 66v1M69 68v1M71 66v1M71 70v1M73 68v1M76 68v2M78 67v2M79 60v1M84 64v1M89 64v1M91 67v1M92 67v2M93 64v1M93 67v1M95 65v3M96 68v1M97 68v1M98 66v2M102 68v1M105 64v1M105 67v1M107 67v2M108 65v1M108 68v1M110 66v1M111 66v1M112 69v1M114 65v2M116 67v2M119 67v2M124 69v1M125 68v1M128 67v1M130 66v1M130 69v1M135 65v2M140 66v1M142 67v2M150 67v2" stroke="#00d7ff"/>
<path d="M4 67v1M6 67v1M22 67v1M35 66v1M35 69v1M43 69v1M44 68v3M46 68v1M47 66v2M51 66v1M51 68v1M52 66v2M53 63v1M57 66v2M57 69v1M59 65v3M64 67v1M65 66v2M66 66v1M69 67v1M71 69v1M73 66v2M80 66v3M84 67v1M88 64v1M89 68v1M90 65v1M91 64v1M91 66v1M96 64v1M96 67v1M97 65v3M99 65v1M99 67v1M102 66v2M105 65v2M108 66v2M111 67v2M112 65v1M121 65v1M121 68v1M124 65v1M130 67v2" stroke="#00edff"/>
<path d="M6 65v2M35 67v2M43 66v1M46 66v2M51 67v1M53 68v1M56 66v1M56 68v1M57 68v1M61 65v1M61 68v1M66 67v1M66 69v1M70 64v1M70 68v1M71 67v2M79 74v2M84 65v2M88 68v1M89 65v1M90 69v1M91 65v1M93 65v2M96 66v1M99 66v1M121 66v2M124 66v1M124 68v1" stroke="#05fffa"/>
<path d="M43 67v2M53 64v1M56 67v1M61 66v2M66 68v1M70 67v1M79 59v1M88 65v1M89 66v2M90 66v1M90 68v1M96 65v1M112 66v3M124 67v1" stroke="#1bffe4"/>
<path d="M53 65v3M70 65v2M88 67v1M90 67v1" stroke="#31ffce"/>
<path d="M79 71v1M88 66v1" stroke="#48ffb7"/>
<path d="M79 63v1" stroke="#ceff31"/>
<path d="M79 70v1" stroke="#ffab00"/>
<path d="M79 64v1" stroke="#ff6800"/>
<path d="M79 69v1" stroke="#ff0e00"/>
<path d="M79 65v1" stroke="#e10000"/>
<path d="M79 66v1M79 68v1" stroke="#b40000"/>
<path d="M79 67v1" stroke="#9e0000"/>
</g></g></g>
<rect x="30.40" y="286.40" width="35.00" height="137.60" fill="none" stroke="#b8b8b8" stroke-width="0.60"/>
<defs><linearGradient id="gc" x1="0" y1="0" x2="0" y2="1"><stop offset="0.0000" stop-color="#870000"/><stop offset="0.0312" stop-color="#a70000"/><stop offset="0.0625" stop-color="#c60000"/><stop offset="0.0938" stop-color="#e60000"/><stop offset="0.1250" stop-color="#ff0600"/><stop offset="0.1562" stop-color="#ff2500"/><stop offset="0.1875" stop-color="#ff4500"/><stop offset="0.2188" stop-color="#ff6400"/><stop offset="0.2500" stop-color="#ff8300"/><stop offset="0.2812" stop-color="#ffa300"/><stop offset="0.3125" stop-color="#ffc200"/><stop offset="0.3438" stop-color="#ffe200"/><stop offset="0.3750" stop-color="#fdff02"/><stop offset="0.4062" stop-color="#deff21"/><stop offset="0.4375" stop-color="#beff41"/><stop offset="0.4688" stop-color="#9fff60"/><stop offset="0.5000" stop-color="#80ff80"/><stop offset="0.5312" stop-color="#60ff9f"/><stop offset="0.5625" stop-color="#41ffbe"/><stop offset="0.5938" stop-color="#21ffde"/><stop offset="0.6250" stop-color="#02fffd"/><stop offset="0.6562" stop-color="#00e2ff"/><stop offset="0.6875" stop-color="#00c2ff"/><stop offset="0.7188" stop-color="#00a3ff"/><stop offset="0.7500" stop-color="#0083ff"/><stop offset="0.7812" stop-color="#0064ff"/><stop offset="0.8125" stop-color="#0045ff"/><stop offset="0.8438" stop-color="#0025ff"/><stop offset="0.8750" stop-color="#0006ff"/><stop offset="0.9062" stop-color="#0000e6"/><stop offset="0.9375" stop-color="#0000c6"/><stop offset="0.9688" stop-color="#0000a7"/><stop offset="1.0000" stop-color="#000087"/></linearGradient></defs>
<rect x="233.10" y="288.00" width="8.50" height="135.40" fill="url(#gc)"/>
<text x="244.50" y="288.30" font-family='"Liberation Sans", Arial, sans-serif' font-size="7.00" text-anchor="start" dominant-baseline="central" fill="#404040">100</text>
<line x1="240.40" y1="288.30" x2="241.60" y2="288.30" stroke="#555" stroke-width="0.4"/>
<text x="244.50" y="303.30" font-family='"Liberation Sans", Arial, sans-serif' font-size="7.00" text-anchor="start" dominant-baseline="central" fill="#404040">95</text>
<line x1="240.40" y1="303.30" x2="241.60" y2="303.30" stroke="#555" stroke-width="0.4"/>
<text x="244.50" y="318.30" font-family='"Liberation Sans", Arial, sans-serif' font-size="7.00" text-anchor="start" dominant-baseline="central" fill="#404040">90</text>
<line x1="240.40" y1="318.30" x2="241.60" y2="318.30" stroke="#555" stroke-width="0.4"/>
<text x="244.50" y="333.30" font-family='"Liberation Sans", Arial, sans-serif' font-size="7.00" text-anchor="start" dominant-baseline="central" fill="#404040">85</text>
<line x1="240.40" y1="333.30" x2="241.60" y2="333.30" stroke="#555" stroke-width="0.4"/>
<text x="244.50" y="348.30" font-family='"Liberation Sans", Arial, sans-serif' font-size="7.00" text-anchor="start" dominant-baseline="central" fill="#404040">80</text>
<line x1="240.40" y1="348.30" x2="241.60" y2="348.30" stroke="#555" stroke-width="0.4"/>
<text x="244.50" y="363.30" font-family='"Liberation Sans", Arial, sans-serif' font-size="7.00" text-anchor="start" dominant-baseline="central" fill="#404040">75</text>
<line x1="240.40" y1="363.30" x2="241.60" y2="363.30" stroke="#555" stroke-width="0.4"/>
<text x="244.50" y="378.30" font-family='"Liberation Sans", Arial, sans-serif' font-size="7.00" text-anchor="start" dominant-baseline="central" fill="#404040">70</text>
<line x1="240.40" y1="378.30" x2="241.60" y2="378.30" stroke="#555" stroke-width="0.4"/>
<text x="244.50" y="393.30" font-family='"Liberation Sans", Arial, sans-serif' font-size="7.00" text-anchor="start" dominant-baseline="central" fill="#404040">65</text>
<line x1="240.40" y1="393.30" x2="241.60" y2="393.30" stroke="#555" stroke-width="0.4"/>
<text x="244.50" y="408.30" font-family='"Liberation Sans", Arial, sans-serif' font-size="7.00" text-anchor="start" dominant-baseline="central" fill="#404040">60</text>
<line x1="240.40" y1="408.30" x2="241.60" y2="408.30" stroke="#555" stroke-width="0.4"/>
<text x="244.50" y="423.30" font-family='"Liberation Sans", Arial, sans-serif' font-size="7.00" text-anchor="start" dominant-baseline="central" fill="#404040">55</text>
<line x1="240.40" y1="423.30" x2="241.60" y2="423.30" stroke="#555" stroke-width="0.4"/>
<rect x="74.30" y="430.30" width="153.20" height="38.20" fill="none" stroke="#b8b8b8" stroke-width="0.60"/>
<text x="71.60" y="430.30" font-family='"Liberation Serif", "Times New Roman", serif' font-size="9.80" text-anchor="end" dominant-baseline="central" fill="#333" stroke="#333" stroke-width="0.22">100</text>
<text x="71.60" y="449.30" font-family='"Liberation Serif", "Times New Roman", serif' font-size="9.80" text-anchor="end" dominant-baseline="central" fill="#333" stroke="#333" stroke-width="0.22">80</text>
<text x="71.60" y="468.00" font-family='"Liberation Serif", "Times New Roman", serif' font-size="9.80" text-anchor="end" dominant-baseline="central" fill="#333" stroke="#333" stroke-width="0.22">60</text>
<text x="90.70" y="476.50" font-family='"Liberation Serif", "Times New Roman", serif' font-size="9.80" text-anchor="middle" dominant-baseline="central" fill="#333" stroke="#333" stroke-width="0.22">−100</text>
<line x1="90.70" y1="468.50" x2="90.70" y2="467.30" stroke="#888" stroke-width="0.5"/>
<line x1="90.70" y1="430.30" x2="90.70" y2="431.50" stroke="#888" stroke-width="0.5"/>
<text x="120.70" y="476.50" font-family='"Liberation Serif", "Times New Roman", serif' font-size="9.80" text-anchor="middle" dominant-baseline="central" fill="#333" stroke="#333" stroke-width="0.22">−50</text>
<line x1="120.70" y1="468.50" x2="120.70" y2="467.30" stroke="#888" stroke-width="0.5"/>
<line x1="120.70" y1="430.30" x2="120.70" y2="431.50" stroke="#888" stroke-width="0.5"/>
<text x="150.70" y="476.50" font-family='"Liberation Serif", "Times New Roman", serif' font-size="9.80" text-anchor="middle" dominant-baseline="central" fill="#333" stroke="#333" stroke-width="0.22">0</text>
<line x1="150.70" y1="468.50" x2="150.70" y2="467.30" stroke="#888" stroke-width="0.5"/>
<line x1="150.70" y1="430.30" x2="150.70" y2="431.50" stroke="#888" stroke-width="0.5"/>
<text x="180.70" y="476.50" font-family='"Liberation Serif", "Times New Roman", serif' font-size="9.80" text-anchor="middle" dominant-baseline="central" fill="#333" stroke="#333" stroke-width="0.22">50</text>
<line x1="180.70" y1="468.50" x2="180.70" y2="467.30" stroke="#888" stroke-width="0.5"/>
<line x1="180.70" y1="430.30" x2="180.70" y2="431.50" stroke="#888" stroke-width="0.5"/>
<text x="210.70" y="476.50" font-family='"Liberation Serif", "Times New Roman", serif' font-size="9.80" text-anchor="middle" dominant-baseline="central" fill="#333" stroke="#333" stroke-width="0.22">100</text>
<line x1="210.70" y1="468.50" x2="210.70" y2="467.30" stroke="#888" stroke-width="0.5"/>
<line x1="210.70" y1="430.30" x2="210.70" y2="431.50" stroke="#888" stroke-width="0.5"/>
<text x="150.60" y="490.10" font-family='"Liberation Sans", Arial, sans-serif' font-size="9.50" text-anchor="middle" dominant-baseline="central" fill="#333">Lag number</text>
<text x="139.30" y="506.90" font-family='"Liberation Serif", "Times New Roman", serif' font-size="13.20" text-anchor="middle" dominant-baseline="central" fill="#111" font-weight="bold">(c)</text>
<text x="48.30" y="264.60" font-family='"Liberation Sans", Arial, sans-serif' font-size="8.50" text-anchor="middle" dominant-baseline="central" fill="#333">dB</text>
<text x="39.70" y="283.50" font-family='"Liberation Serif", "Times New Roman", serif' font-size="8.00" text-anchor="end" dominant-baseline="central" fill="#333" transform="rotate(90 39.70 283.50)">50</text>
<line x1="39.70" y1="286.40" x2="39.70" y2="287.60" stroke="#888" stroke-width="0.5"/>
<line x1="39.70" y1="424.00" x2="39.70" y2="422.80" stroke="#888" stroke-width="0.5"/>
<text x="52.60" y="283.50" font-family='"Liberation Serif", "Times New Roman", serif' font-size="8.00" text-anchor="end" dominant-baseline="central" fill="#333" transform="rotate(90 52.60 283.50)">75</text>
<line x1="52.60" y1="286.40" x2="52.60" y2="287.60" stroke="#888" stroke-width="0.5"/>
<line x1="52.60" y1="424.00" x2="52.60" y2="422.80" stroke="#888" stroke-width="0.5"/>
<text x="65.60" y="283.50" font-family='"Liberation Serif", "Times New Roman", serif' font-size="8.00" text-anchor="end" dominant-baseline="central" fill="#333" transform="rotate(90 65.60 283.50)">100</text>
<line x1="65.60" y1="286.40" x2="65.60" y2="287.60" stroke="#888" stroke-width="0.5"/>
<line x1="65.60" y1="424.00" x2="65.60" y2="422.80" stroke="#888" stroke-width="0.5"/>
<text x="23.50" y="316.70" font-family='"Liberation Serif", "Times New Roman", serif' font-size="7.40" text-anchor="middle" dominant-baseline="central" fill="#333" transform="rotate(90 23.50 316.70)">−50</text>
<line x1="30.40" y1="316.70" x2="31.60" y2="316.70" stroke="#888" stroke-width="0.5"/>
<line x1="65.40" y1="316.70" x2="64.20" y2="316.70" stroke="#888" stroke-width="0.5"/>
<text x="23.50" y="355.00" font-family='"Liberation Serif", "Times New Roman", serif' font-size="7.40" text-anchor="middle" dominant-baseline="central" fill="#333" transform="rotate(90 23.50 355.00)">0</text>
<line x1="30.40" y1="355.00" x2="31.60" y2="355.00" stroke="#888" stroke-width="0.5"/>
<line x1="65.40" y1="355.00" x2="64.20" y2="355.00" stroke="#888" stroke-width="0.5"/>
<text x="23.50" y="393.00" font-family='"Liberation Serif", "Times New Roman", serif' font-size="7.40" text-anchor="middle" dominant-baseline="central" fill="#333" transform="rotate(90 23.50 393.00)">50</text>
<line x1="30.40" y1="393.00" x2="31.60" y2="393.00" stroke="#888" stroke-width="0.5"/>
<line x1="65.40" y1="393.00" x2="64.20" y2="393.00" stroke="#888" stroke-width="0.5"/>
<text x="11.80" y="355.00" font-family='"Liberation Sans", Arial, sans-serif' font-size="8.80" text-anchor="middle" dominant-baseline="central" fill="#333" transform="rotate(90 11.80 355.00)">Direction(degree)</text>
<text x="50.70" y="449.30" font-family='"Liberation Sans", Arial, sans-serif' font-size="9.60" text-anchor="middle" dominant-baseline="central" fill="#333" transform="rotate(-90 50.70 449.30)">dB</text>
<clipPath id="cp8"><rect x="30.70" y="286.70" width="34.40" height="137.00"/></clipPath><g clip-path="url(#cp8)">
<polyline points="27.4,286.4 27.4,286.5 27.4,286.6 27.4,286.6 27.4,286.7 27.4,286.8 27.4,286.9 27.4,286.9 27.4,287.0 27.4,287.1 27.4,287.2 27.4,287.2 27.4,287.3 27.4,287.4 27.4,287.5 27.4,287.6 27.4,287.6 27.4,287.7 27.4,287.8 27.4,287.9 27.4,287.9 27.4,288.0 27.4,288.1 27.4,288.2 27.4,288.2 27.4,288.3 27.4,288.4 27.4,288.5 27.4,288.5 27.4,288.6 27.4,288.7 27.4,288.8 27.4,288.8 27.4,288.9 27.4,289.0 27.4,289.1 27.4,289.2 27.4,289.2 27.4,289.3 27.4,289.4 27.4,289.5 27.4,289.5 27.4,289.6 27.4,289.7 27.4,289.8 27.4,289.8 27.4,289.9 27.4,290.0 27.4,290.1 27.4,290.1 27.4,290.2 27.4,290.3 27.4,290.4 27.4,290.4 27.4,290.5 27.4,290.6 27.4,290.7 27.4,290.8 27.4,290.8 27.4,290.9 27.4,291.0 27.4,291.1 27.4,291.1 27.4,291.2 27.4,291.3 27.4,291.4 27.4,291.4 27.4,291.5 27.4,291.6 27.4,291.7 27.4,291.7 27.4,291.8 27.4,291.9 27.4,292.0 27.4,292.0 27.4,292.1 27.4,292.2 27.4,292.3 27.4,292.4 27.4,292.4 27.4,292.5 27.4,292.6 27.4,292.7 27.4,292.7 27.4,292.8 27.4,292.9 27.4,293.0 27.4,293.0 27.4,293.1 27.4,293.2 27.4,293.3 27.4,293.3 27.4,293.4 27.4,293.5 27.4,293.6 27.4,293.7 27.4,293.7 27.4,293.8 27.4,293.9 27.4,294.0 27.4,294.0 27.4,294.1 27.5,294.2 27.7,294.3 27.9,294.3 28.0,294.4 28.2,294.5 28.4,294.6 28.6,294.6 28.7,294.7 28.9,294.8 29.1,294.9 29.2,294.9 29.4,295.0 29.5,295.1 29.7,295.2 29.9,295.3 30.0,295.3 30.2,295.4 30.3,295.5 30.5,295.6 30.6,295.6 30.7,295.7 30.9,295.8 31.0,295.9 31.2,295.9 31.3,296.0 31.4,296.1 31.6,296.2 31.7,296.2 31.8,296.3 32.0,296.4 32.1,296.5 32.2,296.5 32.3,296.6 32.5,296.7 32.6,296.8 32.7,296.9 32.8,296.9 32.9,297.0 33.1,297.1 33.2,297.2 33.3,297.2 33.4,297.3 33.5,297.4 33.6,297.5 33.7,297.5 33.8,297.6 33.9,297.7 34.0,297.8 34.1,297.8 34.2,297.9 34.3,298.0 34.4,298.1 34.5,298.1 34.6,298.2 34.7,298.3 34.7,298.4 34.8,298.5 34.9,298.5 35.0,298.6 35.1,298.7 35.2,298.8 35.2,298.8 35.3,298.9 35.4,299.0 35.5,299.1 35.5,299.1 35.6,299.2 35.7,299.3 35.7,299.4 35.8,299.4 35.9,299.5 35.9,299.6 36.0,299.7 36.0,299.8 36.1,299.8 36.1,299.9 36.2,300.0 36.2,300.1 36.3,300.1 36.3,300.2 36.4,300.3 36.4,300.4 36.5,300.4 36.5,300.5 36.5,300.6 36.6,300.7 36.6,300.7 36.6,300.8 36.7,300.9 36.7,301.0 36.7,301.0 36.7,301.1 36.8,301.2 36.8,301.3 36.8,301.4 36.8,301.4 36.8,301.5 36.8,301.6 36.8,301.7 36.8,301.7 36.9,301.8 36.9,301.9 36.9,302.0 36.8,302.0 36.8,302.1 36.8,302.2 36.8,302.3 36.8,302.3 36.8,302.4 36.8,302.5 36.8,302.6 36.7,302.6 36.7,302.7 36.7,302.8 36.6,302.9 36.6,303.0 36.6,303.0 36.5,303.1 36.5,303.2 36.4,303.3 36.4,303.3 36.3,303.4 36.3,303.5 36.2,303.6 36.2,303.6 36.1,303.7 36.0,303.8 36.0,303.9 35.9,303.9 35.8,304.0 35.7,304.1 35.6,304.2 35.5,304.3 35.4,304.3 35.3,304.4 35.2,304.5 35.1,304.6 35.0,304.6 34.9,304.7 34.7,304.8 34.6,304.9 34.5,304.9 34.3,305.0 34.2,305.1 34.0,305.2 33.8,305.2 33.7,305.3 33.5,305.4 33.3,305.5 33.1,305.5 32.9,305.6 32.7,305.7 32.5,305.8 32.3,305.9 32.0,305.9 31.8,306.0 31.5,306.1 31.2,306.2 30.9,306.2 30.7,306.3 30.3,306.4 30.0,306.5 29.7,306.5 29.3,306.6 28.9,306.7 28.5,306.8 28.1,306.8 27.7,306.9 27.4,307.0 27.4,307.1 27.4,307.1 27.4,307.2 27.4,307.3 27.4,307.4 27.4,307.5 27.4,307.5 27.4,307.6 27.4,307.7 27.4,307.8 27.4,307.8 27.4,307.9 27.4,308.0 27.4,308.1 27.4,308.1 27.4,308.2 27.4,308.3 27.4,308.4 27.4,308.4 27.4,308.5 27.4,308.6 27.4,308.7 27.4,308.7 27.4,308.8 27.4,308.9 27.4,309.0 27.4,309.1 27.4,309.1 27.4,309.2 27.4,309.3 27.4,309.4 27.4,309.4 27.4,309.5 27.4,309.6 27.4,309.7 27.4,309.7 27.6,309.8 28.1,309.9 28.6,310.0 29.1,310.0 29.5,310.1 29.9,310.2 30.3,310.3 30.7,310.4 31.1,310.4 31.4,310.5 31.8,310.6 32.1,310.7 32.4,310.7 32.7,310.8 32.9,310.9 33.2,311.0 33.5,311.0 33.7,311.1 33.9,311.2 34.1,311.3 34.4,311.3 34.6,311.4 34.8,311.5 34.9,311.6 35.1,311.6 35.3,311.7 35.5,311.8 35.6,311.9 35.7,312.0 35.9,312.0 36.0,312.1 36.1,312.2 36.3,312.3 36.4,312.3 36.5,312.4 36.6,312.5 36.7,312.6 36.7,312.6 36.8,312.7 36.9,312.8 37.0,312.9 37.0,312.9 37.1,313.0 37.1,313.1 37.1,313.2 37.2,313.2 37.2,313.3 37.2,313.4 37.2,313.5 37.2,313.6 37.2,313.6 37.2,313.7 37.2,313.8 37.2,313.9 37.2,313.9 37.1,314.0 37.1,314.1 37.1,314.2 37.0,314.2 36.9,314.3 36.9,314.4 36.8,314.5 36.7,314.5 36.6,314.6 36.5,314.7 36.4,314.8 36.3,314.9 36.2,314.9 36.0,315.0 35.9,315.1 35.7,315.2 35.6,315.2 35.4,315.3 35.2,315.4 35.0,315.5 34.8,315.5 34.6,315.6 34.3,315.7 34.1,315.8 33.8,315.8 33.5,315.9 33.2,316.0 32.9,316.1 32.6,316.1 32.2,316.2 31.8,316.3 31.4,316.4 31.0,316.5 30.5,316.5 30.0,316.6 29.5,316.7 28.9,316.8 28.3,316.8 27.6,316.9 27.4,317.0 27.4,317.1 27.4,317.1 27.4,317.2 27.4,317.3 27.4,317.4 27.4,317.4 27.4,317.5 27.4,317.6 27.4,317.7 27.4,317.7 27.4,317.8 27.4,317.9 27.4,318.0 27.4,318.1 27.4,318.1 27.4,318.2 27.4,318.3 27.4,318.4 27.4,318.4 27.4,318.5 27.4,318.6 27.4,318.7 27.4,318.7 27.4,318.8 27.6,318.9 28.3,319.0 29.0,319.0 29.6,319.1 30.2,319.2 30.8,319.3 31.3,319.3 31.8,319.4 32.2,319.5 32.6,319.6 33.0,319.7 33.4,319.7 33.8,319.8 34.1,319.9 34.4,320.0 34.7,320.0 35.0,320.1 35.3,320.2 35.5,320.3 35.8,320.3 36.0,320.4 36.2,320.5 36.4,320.6 36.6,320.6 36.8,320.7 36.9,320.8 37.1,320.9 37.2,321.0 37.3,321.0 37.5,321.1 37.6,321.2 37.7,321.3 37.7,321.3 37.8,321.4 37.9,321.5 37.9,321.6 38.0,321.6 38.0,321.7 38.0,321.8 38.1,321.9 38.1,321.9 38.1,322.0 38.0,322.1 38.0,322.2 38.0,322.2 37.9,322.3 37.9,322.4 37.8,322.5 37.7,322.6 37.6,322.6 37.5,322.7 37.4,322.8 37.3,322.9 37.2,322.9 37.0,323.0 36.8,323.1 36.7,323.2 36.5,323.2 36.2,323.3 36.0,323.4 35.8,323.5 35.5,323.5 35.2,323.6 34.9,323.7 34.6,323.8 34.2,323.8 33.9,323.9 33.5,324.0 33.0,324.1 32.6,324.2 32.1,324.2 31.5,324.3 30.9,324.4 30.3,324.5 29.6,324.5 28.8,324.6 28.0,324.7 27.4,324.8 27.4,324.8 27.4,324.9 27.4,325.0 27.4,325.1 27.4,325.1 27.4,325.2 27.4,325.3 27.4,325.4 27.4,325.5 27.4,325.5 27.4,325.6 27.4,325.7 27.4,325.8 27.4,325.8 27.4,325.9 27.4,326.0 27.4,326.1 27.4,326.1 27.5,326.2 28.5,326.3 29.4,326.4 30.2,326.4 30.9,326.5 31.6,326.6 32.2,326.7 32.8,326.7 33.3,326.8 33.8,326.9 34.3,327.0 34.7,327.1 35.1,327.1 35.5,327.2 35.9,327.3 36.2,327.4 36.5,327.4 36.8,327.5 37.1,327.6 37.3,327.7 37.6,327.7 37.8,327.8 38.0,327.9 38.2,328.0 38.4,328.0 38.5,328.1 38.7,328.2 38.8,328.3 38.9,328.3 39.0,328.4 39.1,328.5 39.2,328.6 39.3,328.7 39.3,328.7 39.4,328.8 39.4,328.9 39.4,329.0 39.4,329.0 39.4,329.1 39.3,329.2 39.3,329.3 39.3,329.3 39.2,329.4 39.1,329.5 39.0,329.6 38.9,329.6 38.8,329.7 38.6,329.8 38.5,329.9 38.3,329.9 38.1,330.0 37.9,330.1 37.6,330.2 37.4,330.3 37.1,330.3 36.8,330.4 36.5,330.5 36.1,330.6 35.7,330.6 35.3,330.7 34.9,330.8 34.4,330.9 33.9,330.9 33.3,331.0 32.7,331.1 32.0,331.2 31.2,331.2 30.4,331.3 29.4,331.4 28.4,331.5 27.4,331.6 27.4,331.6 27.4,331.7 27.4,331.8 27.4,331.9 27.4,331.9 27.4,332.0 27.4,332.1 27.4,332.2 27.4,332.2 27.4,332.3 27.4,332.4 27.4,332.5 27.4,332.5 27.4,332.6 28.0,332.7 29.2,332.8 30.3,332.8 31.3,332.9 32.1,333.0 32.9,333.1 33.7,333.2 34.3,333.2 34.9,333.3 35.5,333.4 36.0,333.5 36.5,333.5 37.0,333.6 37.4,333.7 37.8,333.8 38.2,333.8 38.5,333.9 38.8,334.0 39.1,334.1 39.4,334.1 39.6,334.2 39.9,334.3 40.1,334.4 40.3,334.4 40.5,334.5 40.6,334.6 40.8,334.7 40.9,334.8 41.0,334.8 41.1,334.9 41.2,335.0 41.3,335.1 41.3,335.1 41.4,335.2 41.4,335.3 41.4,335.4 41.4,335.4 41.3,335.5 41.3,335.6 41.2,335.7 41.2,335.7 41.1,335.8 41.0,335.9 40.8,336.0 40.7,336.0 40.5,336.1 40.3,336.2 40.1,336.3 39.9,336.4 39.7,336.4 39.4,336.5 39.1,336.6 38.8,336.7 38.4,336.7 38.0,336.8 37.6,336.9 37.1,337.0 36.6,337.0 36.0,337.1 35.4,337.2 34.7,337.3 34.0,337.3 33.1,337.4 32.2,337.5 31.1,337.6 29.9,337.7 28.4,337.7 27.4,337.8 27.4,337.9 27.4,338.0 27.4,338.0 27.4,338.1 27.4,338.2 27.4,338.3 27.4,338.3 27.4,338.4 27.4,338.5 27.4,338.6 28.5,338.6 30.1,338.7 31.4,338.8 32.6,338.9 33.7,338.9 34.6,339.0 35.5,339.1 36.3,339.2 37.0,339.3 37.7,339.3 38.3,339.4 38.8,339.5 39.4,339.6 39.8,339.6 40.3,339.7 40.7,339.8 41.1,339.9 41.4,339.9 41.8,340.0 42.1,340.1 42.4,340.2 42.6,340.2 42.9,340.3 43.1,340.4 43.3,340.5 43.5,340.5 43.7,340.6 43.8,340.7 44.0,340.8 44.1,340.9 44.2,340.9 44.2,341.0 44.3,341.1 44.3,341.2 44.4,341.2 44.4,341.3 44.4,341.4 44.4,341.5 44.3,341.5 44.3,341.6 44.2,341.7 44.1,341.8 44.0,341.8 43.8,341.9 43.7,342.0 43.5,342.1 43.3,342.2 43.1,342.2 42.8,342.3 42.5,342.4 42.2,342.5 41.9,342.5 41.5,342.6 41.1,342.7 40.6,342.8 40.1,342.8 39.5,342.9 38.9,343.0 38.2,343.1 37.4,343.1 36.6,343.2 35.6,343.3 34.5,343.4 33.2,343.4 31.7,343.5 29.8,343.6 27.5,343.7 27.4,343.8 27.4,343.8 27.4,343.9 27.4,344.0 27.4,344.1 27.4,344.1 27.4,344.2 29.8,344.3 31.9,344.4 33.6,344.4 35.1,344.5 36.4,344.6 37.6,344.7 38.6,344.7 39.5,344.8 40.3,344.9 41.1,345.0 41.8,345.0 42.5,345.1 43.1,345.2 43.7,345.3 44.2,345.4 44.7,345.4 45.1,345.5 45.5,345.6 45.9,345.7 46.3,345.7 46.6,345.8 47.0,345.9 47.3,346.0 47.5,346.0 47.8,346.1 48.0,346.2 48.2,346.3 48.4,346.3 48.6,346.4 48.8,346.5 48.9,346.6 49.0,346.6 49.1,346.7 49.2,346.8 49.3,346.9 49.3,347.0 49.4,347.0 49.4,347.1 49.4,347.2 49.4,347.3 49.3,347.3 49.3,347.4 49.2,347.5 49.1,347.6 48.9,347.6 48.8,347.7 48.6,347.8 48.4,347.9 48.2,347.9 47.9,348.0 47.7,348.1 47.3,348.2 47.0,348.3 46.6,348.3 46.1,348.4 45.6,348.5 45.1,348.6 44.4,348.6 43.7,348.7 42.9,348.8 42.0,348.9 41.0,348.9 39.7,349.0 38.3,349.1 36.5,349.2 34.2,349.2 31.2,349.3 27.4,349.4 27.4,349.5 27.4,349.5 27.4,349.6 30.6,349.7 34.3,349.8 37.1,349.9 39.2,349.9 41.1,350.0 42.6,350.1 44.0,350.2 45.2,350.2 46.4,350.3 47.4,350.4 48.3,350.5 49.2,350.5 50.0,350.6 50.7,350.7 51.4,350.8 52.1,350.8 52.7,350.9 53.3,351.0 53.9,351.1 54.4,351.1 54.9,351.2 55.4,351.3 55.9,351.4 56.3,351.5 56.7,351.5 57.1,351.6 57.5,351.7 57.9,351.8 58.2,351.8 58.6,351.9 58.9,352.0 59.2,352.1 59.5,352.1 59.8,352.2 60.1,352.3 60.4,352.4 60.6,352.4 60.9,352.5 61.1,352.6 61.3,352.7 61.6,352.8 61.8,352.8 62.0,352.9 62.2,353.0 62.3,353.1 62.5,353.1 62.7,353.2 62.8,353.3 63.0,353.4 63.1,353.4 63.3,353.5 63.4,353.6 63.5,353.7 63.6,353.7 63.7,353.8 63.8,353.9 63.9,354.0 64.0,354.0 64.1,354.1 64.1,354.2 64.2,354.3 64.3,354.4 64.3,354.4 64.4,354.5 64.4,354.6 64.4,354.7 64.5,354.7 64.5,354.8 64.5,354.9 64.5,355.0 64.5,355.0 64.5,355.1 64.5,355.2 64.5,355.3 64.4,355.3 64.4,355.4 64.4,355.5 64.3,355.6 64.3,355.6 64.2,355.7 64.1,355.8 64.1,355.9 64.0,356.0 63.9,356.0 63.8,356.1 63.7,356.2 63.6,356.3 63.5,356.3 63.4,356.4 63.3,356.5 63.1,356.6 63.0,356.6 62.8,356.7 62.7,356.8 62.5,356.9 62.3,356.9 62.2,357.0 62.0,357.1 61.8,357.2 61.6,357.2 61.3,357.3 61.1,357.4 60.9,357.5 60.6,357.6 60.4,357.6 60.1,357.7 59.8,357.8 59.5,357.9 59.2,357.9 58.9,358.0 58.6,358.1 58.2,358.2 57.9,358.2 57.5,358.3 57.1,358.4 56.7,358.5 56.3,358.5 55.9,358.6 55.4,358.7 54.9,358.8 54.4,358.9 53.9,358.9 53.3,359.0 52.7,359.1 52.1,359.2 51.4,359.2 50.7,359.3 50.0,359.4 49.2,359.5 48.3,359.5 47.4,359.6 46.4,359.7 45.2,359.8 44.0,359.8 42.6,359.9 41.1,360.0 39.2,360.1 37.1,360.1 34.3,360.2 30.6,360.3 27.4,360.4 27.4,360.5 27.4,360.5 27.4,360.6 31.2,360.7 34.2,360.8 36.5,360.8 38.3,360.9 39.7,361.0 41.0,361.1 42.0,361.1 42.9,361.2 43.7,361.3 44.4,361.4 45.1,361.4 45.6,361.5 46.1,361.6 46.6,361.7 47.0,361.7 47.3,361.8 47.7,361.9 47.9,362.0 48.2,362.1 48.4,362.1 48.6,362.2 48.8,362.3 48.9,362.4 49.1,362.4 49.2,362.5 49.3,362.6 49.3,362.7 49.4,362.7 49.4,362.8 49.4,362.9 49.4,363.0 49.3,363.0 49.3,363.1 49.2,363.2 49.1,363.3 49.0,363.4 48.9,363.4 48.8,363.5 48.6,363.6 48.4,363.7 48.2,363.7 48.0,363.8 47.8,363.9 47.5,364.0 47.3,364.0 47.0,364.1 46.6,364.2 46.3,364.3 45.9,364.3 45.5,364.4 45.1,364.5 44.7,364.6 44.2,364.6 43.7,364.7 43.1,364.8 42.5,364.9 41.8,365.0 41.1,365.0 40.3,365.1 39.5,365.2 38.6,365.3 37.6,365.3 36.4,365.4 35.1,365.5 33.6,365.6 31.9,365.6 29.8,365.7 27.4,365.8 27.4,365.9 27.4,365.9 27.4,366.0 27.4,366.1 27.4,366.2 27.4,366.2 27.5,366.3 29.8,366.4 31.7,366.5 33.2,366.6 34.5,366.6 35.6,366.7 36.6,366.8 37.4,366.9 38.2,366.9 38.9,367.0 39.5,367.1 40.1,367.2 40.6,367.2 41.1,367.3 41.5,367.4 41.9,367.5 42.2,367.5 42.5,367.6 42.8,367.7 43.1,367.8 43.3,367.8 43.5,367.9 43.7,368.0 43.8,368.1 44.0,368.2 44.1,368.2 44.2,368.3 44.3,368.4 44.3,368.5 44.4,368.5 44.4,368.6 44.4,368.7 44.4,368.8 44.3,368.8 44.3,368.9 44.2,369.0 44.2,369.1 44.1,369.1 44.0,369.2 43.8,369.3 43.7,369.4 43.5,369.5 43.3,369.5 43.1,369.6 42.9,369.7 42.6,369.8 42.4,369.8 42.1,369.9 41.8,370.0 41.4,370.1 41.1,370.1 40.7,370.2 40.3,370.3 39.8,370.4 39.4,370.4 38.8,370.5 38.3,370.6 37.7,370.7 37.0,370.7 36.3,370.8 35.5,370.9 34.6,371.0 33.7,371.1 32.6,371.1 31.4,371.2 30.1,371.3 28.5,371.4 27.4,371.4 27.4,371.5 27.4,371.6 27.4,371.7 27.4,371.7 27.4,371.8 27.4,371.9 27.4,372.0 27.4,372.0 27.4,372.1 27.4,372.2 28.4,372.3 29.9,372.3 31.1,372.4 32.2,372.5 33.1,372.6 34.0,372.7 34.7,372.7 35.4,372.8 36.0,372.9 36.6,373.0 37.1,373.0 37.6,373.1 38.0,373.2 38.4,373.3 38.8,373.3 39.1,373.4 39.4,373.5 39.7,373.6 39.9,373.6 40.1,373.7 40.3,373.8 40.5,373.9 40.7,374.0 40.8,374.0 41.0,374.1 41.1,374.2 41.2,374.3 41.2,374.3 41.3,374.4 41.3,374.5 41.4,374.6 41.4,374.6 41.4,374.7 41.4,374.8 41.3,374.9 41.3,374.9 41.2,375.0 41.1,375.1 41.0,375.2 40.9,375.2 40.8,375.3 40.6,375.4 40.5,375.5 40.3,375.6 40.1,375.6 39.9,375.7 39.6,375.8 39.4,375.9 39.1,375.9 38.8,376.0 38.5,376.1 38.2,376.2 37.8,376.2 37.4,376.3 37.0,376.4 36.5,376.5 36.0,376.5 35.5,376.6 34.9,376.7 34.3,376.8 33.7,376.8 32.9,376.9 32.1,377.0 31.3,377.1 30.3,377.2 29.2,377.2 28.0,377.3 27.4,377.4 27.4,377.5 27.4,377.5 27.4,377.6 27.4,377.7 27.4,377.8 27.4,377.8 27.4,377.9 27.4,378.0 27.4,378.1 27.4,378.1 27.4,378.2 27.4,378.3 27.4,378.4 27.4,378.4 28.4,378.5 29.4,378.6 30.4,378.7 31.2,378.8 32.0,378.8 32.7,378.9 33.3,379.0 33.9,379.1 34.4,379.1 34.9,379.2 35.3,379.3 35.7,379.4 36.1,379.4 36.5,379.5 36.8,379.6 37.1,379.7 37.4,379.7 37.6,379.8 37.9,379.9 38.1,380.0 38.3,380.1 38.5,380.1 38.6,380.2 38.8,380.3 38.9,380.4 39.0,380.4 39.1,380.5 39.2,380.6 39.3,380.7 39.3,380.7 39.3,380.8 39.4,380.9 39.4,381.0 39.4,381.0 39.4,381.1 39.4,381.2 39.3,381.3 39.3,381.3 39.2,381.4 39.1,381.5 39.0,381.6 38.9,381.7 38.8,381.7 38.7,381.8 38.5,381.9 38.4,382.0 38.2,382.0 38.0,382.1 37.8,382.2 37.6,382.3 37.3,382.3 37.1,382.4 36.8,382.5 36.5,382.6 36.2,382.6 35.9,382.7 35.5,382.8 35.1,382.9 34.7,382.9 34.3,383.0 33.8,383.1 33.3,383.2 32.8,383.3 32.2,383.3 31.6,383.4 30.9,383.5 30.2,383.6 29.4,383.6 28.5,383.7 27.5,383.8 27.4,383.9 27.4,383.9 27.4,384.0 27.4,384.1 27.4,384.2 27.4,384.2 27.4,384.3 27.4,384.4 27.4,384.5 27.4,384.5 27.4,384.6 27.4,384.7 27.4,384.8 27.4,384.9 27.4,384.9 27.4,385.0 27.4,385.1 27.4,385.2 27.4,385.2 28.0,385.3 28.8,385.4 29.6,385.5 30.3,385.5 30.9,385.6 31.5,385.7 32.1,385.8 32.6,385.8 33.0,385.9 33.5,386.0 33.9,386.1 34.2,386.2 34.6,386.2 34.9,386.3 35.2,386.4 35.5,386.5 35.8,386.5 36.0,386.6 36.2,386.7 36.5,386.8 36.7,386.8 36.8,386.9 37.0,387.0 37.2,387.1 37.3,387.1 37.4,387.2 37.5,387.3 37.6,387.4 37.7,387.4 37.8,387.5 37.9,387.6 37.9,387.7 38.0,387.8 38.0,387.8 38.0,387.9 38.1,388.0 38.1,388.1 38.1,388.1 38.0,388.2 38.0,388.3 38.0,388.4 37.9,388.4 37.9,388.5 37.8,388.6 37.7,388.7 37.7,388.7 37.6,388.8 37.5,388.9 37.3,389.0 37.2,389.0 37.1,389.1 36.9,389.2 36.8,389.3 36.6,389.4 36.4,389.4 36.2,389.5 36.0,389.6 35.8,389.7 35.5,389.7 35.3,389.8 35.0,389.9 34.7,390.0 34.4,390.0 34.1,390.1 33.8,390.2 33.4,390.3 33.0,390.3 32.6,390.4 32.2,390.5 31.8,390.6 31.3,390.7 30.8,390.7 30.2,390.8 29.6,390.9 29.0,391.0 28.3,391.0 27.6,391.1 27.4,391.2 27.4,391.3 27.4,391.3 27.4,391.4 27.4,391.5 27.4,391.6 27.4,391.6 27.4,391.7 27.4,391.8 27.4,391.9 27.4,391.9 27.4,392.0 27.4,392.1 27.4,392.2 27.4,392.3 27.4,392.3 27.4,392.4 27.4,392.5 27.4,392.6 27.4,392.6 27.4,392.7 27.4,392.8 27.4,392.9 27.4,392.9 27.4,393.0 27.6,393.1 28.3,393.2 28.9,393.2 29.5,393.3 30.0,393.4 30.5,393.5 31.0,393.5 31.4,393.6 31.8,393.7 32.2,393.8 32.6,393.9 32.9,393.9 33.2,394.0 33.5,394.1 33.8,394.2 34.1,394.2 34.3,394.3 34.6,394.4 34.8,394.5 35.0,394.5 35.2,394.6 35.4,394.7 35.6,394.8 35.7,394.8 35.9,394.9 36.0,395.0 36.2,395.1 36.3,395.1 36.4,395.2 36.5,395.3 36.6,395.4 36.7,395.5 36.8,395.5 36.9,395.6 36.9,395.7 37.0,395.8 37.1,395.8 37.1,395.9 37.1,396.0 37.2,396.1 37.2,396.1 37.2,396.2 37.2,396.3 37.2,396.4 37.2,396.4 37.2,396.5 37.2,396.6 37.2,396.7 37.2,396.8 37.1,396.8 37.1,396.9 37.1,397.0 37.0,397.1 37.0,397.1 36.9,397.2 36.8,397.3 36.7,397.4 36.7,397.4 36.6,397.5 36.5,397.6 36.4,397.7 36.3,397.7 36.1,397.8 36.0,397.9 35.9,398.0 35.7,398.0 35.6,398.1 35.5,398.2 35.3,398.3 35.1,398.4 34.9,398.4 34.8,398.5 34.6,398.6 34.4,398.7 34.1,398.7 33.9,398.8 33.7,398.9 33.5,399.0 33.2,399.0 32.9,399.1 32.7,399.2 32.4,399.3 32.1,399.3 31.8,399.4 31.4,399.5 31.1,399.6 30.7,399.6 30.3,399.7 29.9,399.8 29.5,399.9 29.1,400.0 28.6,400.0 28.1,400.1 27.6,400.2 27.4,400.3 27.4,400.3 27.4,400.4 27.4,400.5 27.4,400.6 27.4,400.6 27.4,400.7 27.4,400.8 27.4,400.9 27.4,400.9 27.4,401.0 27.4,401.1 27.4,401.2 27.4,401.3 27.4,401.3 27.4,401.4 27.4,401.5 27.4,401.6 27.4,401.6 27.4,401.7 27.4,401.8 27.4,401.9 27.4,401.9 27.4,402.0 27.4,402.1 27.4,402.2 27.4,402.2 27.4,402.3 27.4,402.4 27.4,402.5 27.4,402.5 27.4,402.6 27.4,402.7 27.4,402.8 27.4,402.9 27.4,402.9 27.4,403.0 27.7,403.1 28.1,403.2 28.5,403.2 28.9,403.3 29.3,403.4 29.7,403.5 30.0,403.5 30.3,403.6 30.7,403.7 30.9,403.8 31.2,403.8 31.5,403.9 31.8,404.0 32.0,404.1 32.3,404.1 32.5,404.2 32.7,404.3 32.9,404.4 33.1,404.5 33.3,404.5 33.5,404.6 33.7,404.7 33.8,404.8 34.0,404.8 34.2,404.9 34.3,405.0 34.5,405.1 34.6,405.1 34.7,405.2 34.9,405.3 35.0,405.4 35.1,405.4 35.2,405.5 35.3,405.6 35.4,405.7 35.5,405.7 35.6,405.8 35.7,405.9 35.8,406.0 35.9,406.1 36.0,406.1 36.0,406.2 36.1,406.3 36.2,406.4 36.2,406.4 36.3,406.5 36.3,406.6 36.4,406.7 36.4,406.7 36.5,406.8 36.5,406.9 36.6,407.0 36.6,407.0 36.6,407.1 36.7,407.2 36.7,407.3 36.7,407.4 36.8,407.4 36.8,407.5 36.8,407.6 36.8,407.7 36.8,407.7 36.8,407.8 36.8,407.9 36.8,408.0 36.9,408.0 36.9,408.1 36.9,408.2 36.8,408.3 36.8,408.3 36.8,408.4 36.8,408.5 36.8,408.6 36.8,408.6 36.8,408.7 36.8,408.8 36.7,408.9 36.7,409.0 36.7,409.0 36.7,409.1 36.6,409.2 36.6,409.3 36.6,409.3 36.5,409.4 36.5,409.5 36.5,409.6 36.4,409.6 36.4,409.7 36.3,409.8 36.3,409.9 36.2,409.9 36.2,410.0 36.1,410.1 36.1,410.2 36.0,410.2 36.0,410.3 35.9,410.4 35.9,410.5 35.8,410.6 35.7,410.6 35.7,410.7 35.6,410.8 35.5,410.9 35.5,410.9 35.4,411.0 35.3,411.1 35.2,411.2 35.2,411.2 35.1,411.3 35.0,411.4 34.9,411.5 34.8,411.5 34.7,411.6 34.7,411.7 34.6,411.8 34.5,411.9 34.4,411.9 34.3,412.0 34.2,412.1 34.1,412.2 34.0,412.2 33.9,412.3 33.8,412.4 33.7,412.5 33.6,412.5 33.5,412.6 33.4,412.7 33.3,412.8 33.2,412.8 33.1,412.9 32.9,413.0 32.8,413.1 32.7,413.1 32.6,413.2 32.5,413.3 32.3,413.4 32.2,413.5 32.1,413.5 32.0,413.6 31.8,413.7 31.7,413.8 31.6,413.8 31.4,413.9 31.3,414.0 31.2,414.1 31.0,414.1 30.9,414.2 30.7,414.3 30.6,414.4 30.5,414.4 30.3,414.5 30.2,414.6 30.0,414.7 29.9,414.7 29.7,414.8 29.5,414.9 29.4,415.0 29.2,415.1 29.1,415.1 28.9,415.2 28.7,415.3 28.6,415.4 28.4,415.4 28.2,415.5 28.0,415.6 27.9,415.7 27.7,415.7 27.5,415.8 27.4,415.9 27.4,416.0 27.4,416.0 27.4,416.1 27.4,416.2 27.4,416.3 27.4,416.3 27.4,416.4 27.4,416.5 27.4,416.6 27.4,416.7 27.4,416.7 27.4,416.8 27.4,416.9 27.4,417.0 27.4,417.0 27.4,417.1 27.4,417.2 27.4,417.3 27.4,417.3 27.4,417.4 27.4,417.5 27.4,417.6 27.4,417.6 27.4,417.7 27.4,417.8 27.4,417.9 27.4,418.0 27.4,418.0 27.4,418.1 27.4,418.2 27.4,418.3 27.4,418.3 27.4,418.4 27.4,418.5 27.4,418.6 27.4,418.6 27.4,418.7 27.4,418.8 27.4,418.9 27.4,418.9 27.4,419.0 27.4,419.1 27.4,419.2 27.4,419.2 27.4,419.3 27.4,419.4 27.4,419.5 27.4,419.6 27.4,419.6 27.4,419.7 27.4,419.8 27.4,419.9 27.4,419.9 27.4,420.0 27.4,420.1 27.4,420.2 27.4,420.2 27.4,420.3 27.4,420.4 27.4,420.5 27.4,420.5 27.4,420.6 27.4,420.7 27.4,420.8 27.4,420.8 27.4,420.9 27.4,421.0 27.4,421.1 27.4,421.2 27.4,421.2 27.4,421.3 27.4,421.4 27.4,421.5 27.4,421.5 27.4,421.6 27.4,421.7 27.4,421.8 27.4,421.8 27.4,421.9 27.4,422.0 27.4,422.1 27.4,422.1 27.4,422.2 27.4,422.3 27.4,422.4 27.4,422.4 27.4,422.5 27.4,422.6 27.4,422.7 27.4,422.8 27.4,422.8 27.4,422.9 27.4,423.0 27.4,423.1 27.4,423.1 27.4,423.2 27.4,423.3 27.4,423.4 27.4,423.4 27.4,423.5 27.4,423.6" fill="none" stroke="#0072bd" stroke-width="1.05" stroke-linejoin="round" stroke-linecap="round"/>
</g>
<clipPath id="cp9"><rect x="74.60" y="430.60" width="152.60" height="37.70"/></clipPath><g clip-path="url(#cp9)">
<polyline points="74.3,469.2 75.0,460.8 75.6,471.5 76.2,462.8 76.8,461.1 77.4,463.8 78.0,461.7 78.6,461.4 79.2,462.8 79.8,463.1 80.5,460.2 81.1,466.7 81.7,465.8 82.3,463.9 82.9,464.0 83.5,471.5 84.1,469.1 84.7,469.1 85.3,467.0 86.0,466.2 86.6,462.6 87.2,461.8 87.8,463.1 88.4,464.1 89.0,464.6 89.6,463.4 90.2,460.3 90.8,466.5 91.5,471.0 92.1,467.8 92.7,465.4 93.3,462.6 93.9,464.9 94.5,460.9 95.1,466.0 95.7,461.3 96.3,459.5 96.9,465.0 97.6,465.2 98.2,465.6 98.8,462.4 99.4,467.1 100.0,460.9 100.6,464.4 101.2,470.6 101.8,461.0 102.4,462.3 103.1,464.8 103.7,466.1 104.3,463.7 104.9,462.0 105.5,462.5 106.1,464.4 106.7,460.7 107.3,466.1 107.9,459.2 108.6,461.4 109.2,465.9 109.8,464.9 110.4,462.4 111.0,467.5 111.6,464.9 112.2,468.3 112.8,465.1 113.4,463.1 114.1,463.4 114.7,463.8 115.3,462.5 115.9,459.3 116.5,467.9 117.1,459.4 117.7,466.8 118.3,460.5 118.9,459.9 119.5,461.3 120.2,461.6 120.8,468.5 121.4,459.8 122.0,464.0 122.6,467.4 123.2,466.6 123.8,459.3 124.4,458.9 125.0,463.8 125.7,457.5 126.3,463.4 126.9,468.8 127.5,462.4 128.1,460.5 128.7,460.9 129.3,458.1 129.9,465.4 130.5,465.5 131.2,465.1 131.8,458.4 132.4,464.6 133.0,459.7 133.6,458.9 134.2,463.1 134.8,466.1 135.4,461.9 136.0,463.1 136.7,457.1 137.3,461.7 137.9,459.1 138.5,461.9 139.1,462.2 139.7,466.6 140.3,460.9 140.9,461.6 141.5,465.2 142.1,457.8 142.8,463.2 143.4,457.3 144.0,463.8 144.6,465.8 145.2,457.4 145.8,463.3 146.4,464.7 147.0,468.1 147.6,461.3 148.3,464.8 148.9,467.9 149.5,462.9 150.1,458.6 150.7,431.3 151.3,458.6 151.9,462.6 152.5,463.9 153.1,466.3 153.8,465.8 154.4,466.9 155.0,460.6 155.6,461.5 156.2,463.2 156.8,462.8 157.4,461.8 158.0,468.3 158.6,462.7 159.3,458.3 159.9,458.9 160.5,459.2 161.1,455.5 161.7,464.7 162.3,461.6 162.9,461.0 163.5,462.7 164.1,460.3 164.7,463.8 165.4,463.8 166.0,462.7 166.6,461.0 167.2,459.8 167.8,460.3 168.4,460.8 169.0,462.1 169.6,462.3 170.2,460.6 170.9,465.3 171.5,463.0 172.1,462.3 172.7,462.6 173.3,458.6 173.9,469.0 174.5,465.6 175.1,458.5 175.7,461.2 176.4,462.2 177.0,463.1 177.6,460.3 178.2,464.8 178.8,459.7 179.4,465.4 180.0,458.4 180.6,463.6 181.2,459.6 181.9,462.6 182.5,460.2 183.1,461.2 183.7,465.6 184.3,462.9 184.9,463.4 185.5,466.4 186.1,463.3 186.7,461.1 187.3,464.3 188.0,464.2 188.6,461.5 189.2,462.9 189.8,462.1 190.4,469.4 191.0,457.8 191.6,466.8 192.2,463.9 192.8,464.1 193.5,456.9 194.1,460.0 194.7,458.4 195.3,463.0 195.9,463.2 196.5,465.0 197.1,461.8 197.7,461.4 198.3,461.3 199.0,464.0 199.6,461.3 200.2,459.0 200.8,462.3 201.4,464.6 202.0,466.9 202.6,464.7 203.2,462.2 203.8,465.5 204.5,461.8 205.1,462.8 205.7,463.6 206.3,464.2 206.9,462.7 207.5,463.4 208.1,461.9 208.7,467.8 209.3,462.4 209.9,462.3 210.6,462.1 211.2,462.9 211.8,463.1 212.4,464.2 213.0,468.6 213.6,464.5 214.2,464.6 214.8,464.4 215.4,465.6 216.1,463.4 216.7,462.3 217.3,462.6 217.9,469.1 218.5,465.2 219.1,461.7 219.7,465.5 220.3,465.3 220.9,471.4 221.6,465.4 222.2,470.2 222.8,471.2 223.4,464.0 224.0,463.4 224.6,468.7 225.2,462.4 225.8,465.7 226.4,471.5 227.0,465.6" fill="none" stroke="#0072bd" stroke-width="1.05" stroke-linejoin="round" stroke-linecap="round"/>
</g>
<rect x="149.70" y="430.86" width="2.00" height="2.00" fill="#111"/>
<rect x="192.30" y="455.87" width="2.00" height="2.00" fill="#111"/>
<rect x="153.00" y="433.60" width="22.20" height="15.20" fill="#fdfdfd" stroke="#c8c8c8" stroke-width="0.5" rx="0.6"/>
<text x="154.80" y="439.13" font-family='"Liberation Sans", Arial, sans-serif' font-size="4.80" fill="#666">X <tspan fill="#1a8fe0" font-weight="bold">0</tspan></text>
<text x="154.80" y="446.73" font-family='"Liberation Sans", Arial, sans-serif' font-size="4.80" fill="#666">Y <tspan fill="#1a8fe0" font-weight="bold">98.962</tspan></text>
<rect x="194.40" y="440.50" width="22.90" height="15.30" fill="#fdfdfd" stroke="#c8c8c8" stroke-width="0.5" rx="0.6"/>
<text x="196.20" y="446.05" font-family='"Liberation Sans", Arial, sans-serif' font-size="4.80" fill="#666">X <tspan fill="#1a8fe0" font-weight="bold">71</tspan></text>
<text x="196.20" y="453.70" font-family='"Liberation Sans", Arial, sans-serif' font-size="4.80" fill="#666">Y <tspan fill="#1a8fe0" font-weight="bold">71.818</tspan></text>
<rect x="343.00" y="288.00" width="156.00" height="132.00" fill="#000087"/>
<clipPath id="hc10"><rect x="343.00" y="288.00" width="156.00" height="132.00"/></clipPath>
<g clip-path="url(#hc10)"><g shape-rendering="crispEdges" filter="url(#bl)"><g transform="translate(343.5 288.0)" stroke-width="1.05" fill="none">
<path d="M0 60v1M0 116v1M0 118v1M1 108v1M2 67v1M3 57v1M3 60v1M3 72v1M7 52v1M7 56v1M7 59v1M7 71v1M7 79v1M7 92v1M7 111v1M7 115v3M8 91v1M8 115v2M8 119v1M9 63v1M9 91v1M9 93v1M9 118v1M10 57v1M10 95v1M10 117v1M11 67v1M12 57v2M12 72v2M12 117v3M13 90v1M13 109v1M13 116v1M14 56v1M14 59v1M14 74v1M15 73v1M15 96v1M15 107v1M16 69v1M16 92v1M17 58v1M17 60v1M17 73v1M17 107v1M18 52v1M18 56v1M18 59v1M18 78v2M19 51v1M19 53v1M19 56v1M19 79v1M19 84v1M19 95v1M19 114v1M19 122v1M20 51v1M20 53v1M20 61v1M20 79v1M20 108v1M20 116v2M22 57v2M22 74v1M22 92v1M22 108v1M22 115v3M23 90v1M23 115v1M23 119v1M24 74v1M24 78v1M24 90v1M24 92v1M24 96v1M24 120v1M25 68v1M25 97v1M26 56v1M26 59v1M26 74v1M26 115v2M27 116v2M27 121v1M28 59v1M28 69v1M28 91v1M28 114v1M28 116v2M29 69v1M29 91v2M29 115v1M29 120v1M30 52v1M30 78v1M31 72v2M31 79v1M31 90v1M31 93v1M31 115v1M31 120v2M32 92v1M32 111v1M33 17v2M33 47v1M33 52v1M33 60v1M33 70v1M33 84v2M33 93v1M33 114v1M33 122v1M34 46v2M34 51v1M34 70v1M34 77v1M34 90v1M34 96v1M34 114v1M34 118v1M36 58v1M36 70v1M36 74v1M36 108v1M36 111v1M36 114v1M36 121v1M37 52v2M37 77v1M37 83v1M37 85v1M37 115v2M37 120v2M38 26v1M38 47v1M38 51v1M38 60v1M38 77v1M38 80v1M38 84v2M38 93v1M38 122v1M39 74v1M40 59v1M40 71v1M40 84v2M40 114v1M40 121v2M41 57v2M41 73v1M42 56v1M42 96v1M43 80v1M43 83v1M43 113v1M43 120v1M44 115v2M44 121v1M45 16v2M45 58v1M45 90v1M45 123v1M47 14v1M47 51v1M47 53v1M47 56v1M47 83v1M47 121v1M48 57v2M48 85v1M48 93v1M48 122v1M49 13v1M49 27v2M49 72v1M49 84v1M49 89v1M49 126v1M50 26v2M50 51v1M50 86v1M50 113v1M51 13v2M51 16v2M51 46v2M51 70v2M51 80v1M51 83v1M51 86v1M51 110v1M51 123v1M52 16v2M52 86v1M52 96v1M52 113v1M52 124v1M53 70v1M53 74v1M53 79v1M53 85v1M53 113v1M53 118v2M53 123v1M54 46v2M54 70v1M54 83v1M54 90v1M54 92v1M54 115v1M54 120v1M55 57v2M55 73v1M55 115v1M55 121v1M56 58v1M56 91v1M57 15v1M57 17v3M57 59v1M57 78v2M57 95v1M57 111v1M57 113v1M57 123v2M58 74v1M58 90v1M58 96v1M58 115v5M59 15v1M59 47v1M59 69v1M59 84v2M59 113v1M59 122v1M60 14v3M60 25v3M60 51v1M60 70v2M60 77v1M60 80v1M60 86v1M60 89v1M60 95v1M60 111v1M60 113v1M60 123v1M61 52v1M61 59v1M61 78v1M61 90v2M61 117v2M61 120v2M62 17v2M62 73v1M62 122v2M63 12v1M63 18v1M64 73v1M64 107v1M65 14v3M65 46v1M65 71v1M65 93v1M65 114v1M65 121v1M66 51v1M66 59v1M66 90v1M66 114v6M67 92v1M67 97v1M67 115v3M67 120v2M68 74v1M68 90v1M68 93v1M68 114v1M68 121v1M69 17v1M69 26v1M69 80v1M69 83v1M69 93v1M69 95v1M69 122v1M70 51v1M70 71v1M70 84v1M70 90v1M70 116v1M71 13v1M71 17v1M71 52v1M71 74v1M71 89v1M71 123v1M72 96v1M73 13v5M73 41v1M73 61v1M73 80v1M73 86v1M73 89v1M73 113v1M73 123v1M74 72v1M74 117v2M75 46v2M75 60v1M75 83v1M75 85v1M76 52v1M76 56v1M76 59v1M78 71v1M79 15v2M79 78v2M79 84v2M79 93v1M79 114v1M79 122v1M80 12v1M80 18v1M80 26v1M80 28v1M80 34v1M80 40v2M80 46v2M80 69v1M80 83v1M80 86v1M80 89v1M80 109v2M80 123v1M81 74v1M81 78v2M81 85v2M81 90v1M81 93v1M81 123v1M82 46v1M82 51v1M82 77v1M82 92v1M82 120v2M83 16v1M83 59v1M83 74v1M83 85v1M84 14v3M84 46v1M84 60v1M84 122v1M85 17v1M85 53v1M85 71v1M85 78v2M85 84v2M85 107v1M85 121v2M86 14v1M86 59v1M86 84v1M86 86v1M86 124v1M87 56v1M87 59v1M87 78v1M87 115v1M87 118v1M88 14v1M88 16v2M88 27v2M88 56v1M88 79v2M88 84v1M88 96v1M88 113v1M89 52v1M89 59v1M89 90v1M89 115v1M89 120v1M90 52v1M90 56v1M90 78v1M90 85v1M90 113v1M90 122v1M91 13v2M91 26v2M91 58v1M91 113v1M91 125v1M92 26v1M92 79v2M92 86v1M92 113v1M92 123v1M93 17v1M93 85v2M93 111v1M93 123v1M94 56v1M94 59v1M94 79v1M94 84v2M94 111v1M94 113v1M94 122v1M95 71v1M95 84v2M95 90v1M95 121v1M96 14v3M96 52v1M96 78v1M96 84v2M96 110v1M96 113v1M97 118v1M98 13v4M98 26v1M98 41v1M98 60v1M98 75v1M98 80v1M98 86v1M98 111v1M98 123v1M99 73v1M99 90v1M99 93v1M99 95v1M99 122v1M100 57v1M101 13v3M101 59v1M101 79v1M101 85v1M101 95v1M101 113v1M101 122v1M102 52v1M102 56v1M102 59v1M102 74v1M102 78v1M103 51v1M103 59v1M103 77v1M103 90v1M103 118v1M104 78v1M104 84v1M104 90v1M104 95v1M104 115v1M105 79v1M105 93v1M106 13v1M106 16v2M106 51v1M106 59v1M106 85v1M106 123v1M107 18v1M107 26v1M107 33v2M107 70v1M107 83v1M107 86v1M107 89v1M107 124v1M108 71v1M108 78v1M108 90v1M108 92v1M108 115v1M108 118v1M109 77v1M109 80v1M109 90v1M111 92v1M111 116v2M112 58v1M112 73v1M112 110v1M113 58v1M113 73v1M113 115v1M114 114v1M114 120v2M115 57v1M116 57v1M117 52v1M117 56v1M117 59v1M117 78v2M117 91v2M117 115v2M118 15v1M118 51v1M118 59v1M118 84v2M118 95v1M118 111v1M118 113v1M118 123v1M119 13v1M119 25v1M119 27v1M119 33v1M119 40v1M119 45v1M119 60v1M119 71v1M119 77v1M119 80v1M119 125v1M120 52v1M120 59v1M120 61v1M120 78v1M120 90v1M120 93v1M120 114v1M120 122v1M121 71v1M121 85v1M121 115v1M122 58v1M123 59v1M123 78v2M124 52v1M124 59v1M124 70v1M124 74v1M124 93v1M124 114v1M124 121v1M126 108v1M128 51v1M128 53v1M128 85v1M128 93v1M128 122v1M129 53v1M129 59v1M129 77v1M129 79v1M131 71v1M131 84v1M131 92v1M131 109v1M131 115v5M132 108v1M133 52v2M133 59v1M133 78v2M133 121v1M134 90v1M134 93v1M135 74v1M135 91v1M136 15v1M136 18v1M136 69v1M136 73v1M136 122v2M136 125v1M137 57v1M137 61v1M139 108v1M140 56v1M140 59v1M140 70v1M140 85v1M140 92v1M140 96v1M140 114v1M140 118v1M140 120v1M141 15v1M141 17v1M141 51v1M141 53v1M141 71v1M141 78v1M141 84v2M141 90v1M141 96v1M141 113v1M141 121v1M142 59v1M142 110v1M143 52v1M143 59v2M143 106v1M144 52v1M144 56v1M144 96v1M145 70v1M146 61v1M146 72v1M146 110v1M147 57v1M147 72v2M149 115v2M149 118v1M150 108v1M151 60v1M151 97v1M151 108v1M152 58v1M152 72v2M152 111v1M153 95v1M153 117v3M154 78v2" stroke="#00009e"/>
<path d="M0 91v2M0 117v1M1 69v1M1 96v1M2 107v1M3 58v1M3 73v1M5 57v2M5 97v1M6 69v1M7 78v1M8 57v2M8 74v1M8 92v1M8 117v2M9 92v1M9 98v1M9 114v1M9 116v2M13 62v1M13 70v1M13 92v1M13 119v1M14 109v1M15 62v1M16 95v1M18 74v1M18 108v1M19 59v1M19 78v1M19 90v1M19 118v1M19 121v1M20 52v1M20 56v1M20 77v1M20 95v1M22 73v1M22 91v1M22 118v2M22 121v1M23 91v1M23 116v3M24 57v1M24 60v1M24 91v1M24 111v1M24 116v1M25 60v1M25 108v1M26 70v1M27 68v1M27 118v1M28 56v1M28 74v1M28 92v1M28 95v1M28 115v1M29 116v1M29 119v1M30 61v1M30 74v1M31 57v2M31 60v1M31 116v2M31 119v1M33 78v2M33 96v1M33 117v5M34 53v1M34 71v1M34 91v2M34 115v3M35 107v1M36 57v1M36 72v1M36 91v1M36 93v1M36 115v6M37 60v1M37 84v1M37 90v1M37 92v1M37 114v1M37 117v3M38 53v1M38 70v2M38 114v1M38 120v2M39 72v1M39 96v1M40 56v1M40 74v1M40 78v2M40 90v1M40 119v2M41 115v1M41 117v3M42 51v2M42 70v1M42 110v1M43 40v2M43 77v1M43 84v2M43 92v1M43 95v1M43 119v1M44 61v1M44 117v4M45 57v1M45 69v1M45 85v1M45 114v1M45 122v1M47 70v2M47 79v1M47 84v2M47 93v1M47 114v1M48 73v1M48 90v1M48 97v1M48 114v1M49 14v6M49 57v1M49 59v1M49 74v1M49 86v1M49 95v1M49 125v1M50 13v1M50 15v2M50 19v1M50 53v1M50 56v1M50 59v1M50 78v2M50 84v1M50 95v1M50 122v1M51 15v1M51 53v1M51 93v1M51 114v1M51 121v2M52 58v1M52 73v1M52 85v1M52 90v1M52 123v1M53 57v2M53 72v2M53 117v1M53 120v3M54 60v1M54 71v1M54 84v2M54 91v1M54 111v1M54 116v4M55 90v1M55 116v3M56 62v1M57 13v2M57 74v1M57 122v1M58 57v2M58 72v2M58 91v2M59 51v1M59 70v2M59 90v1M59 93v1M59 110v1M60 47v1M60 53v1M60 56v1M60 84v2M60 121v2M61 72v1M61 110v1M61 114v3M62 57v1M62 90v1M62 93v1M62 121v1M63 13v1M63 16v2M63 52v2M63 56v1M63 59v2M63 78v1M63 80v1M63 95v1M63 123v3M64 69v1M65 47v1M65 51v1M65 53v1M65 78v2M65 108v1M65 111v1M65 115v1M65 119v2M66 52v1M66 56v1M66 69v1M66 79v1M66 91v2M67 95v1M67 118v2M68 57v1M68 115v4M69 15v2M69 71v1M69 77v1M69 114v1M69 121v1M70 53v1M70 91v1M70 108v1M70 119v1M71 14v3M71 84v2M71 110v1M71 114v1M71 122v1M73 40v1M73 46v2M73 51v1M73 53v1M73 77v1M73 83v1M73 110v1M74 57v2M74 73v1M74 115v2M75 51v1M75 53v1M75 71v1M75 77v1M75 84v1M75 97v1M75 111v1M76 71v1M76 78v2M77 61v1M77 109v1M78 52v1M78 79v1M79 90v1M79 121v1M80 13v1M80 27v1M80 71v1M80 77v1M80 80v1M81 57v2M81 109v1M81 114v1M81 119v2M81 122v1M82 53v1M82 71v1M82 79v1M82 84v2M82 90v2M82 114v4M83 61v1M83 90v1M83 93v1M83 111v1M83 114v1M83 121v1M84 52v2M84 84v2M84 114v1M84 121v1M85 52v1M85 93v1M85 114v1M85 120v1M86 15v3M86 78v2M86 85v1M86 122v2M87 116v2M88 15v1M88 70v1M88 74v1M88 85v2M89 56v1M89 116v4M90 59v1M90 74v1M90 111v1M90 120v2M91 15v1M91 19v1M91 70v1M91 79v2M91 96v1M92 14v1M92 18v1M92 57v1M92 72v1M92 74v1M92 84v1M92 90v1M92 96v1M92 121v2M93 14v3M93 62v1M93 90v1M93 93v1M93 114v1M93 122v1M94 72v1M94 74v1M94 78v1M94 90v1M94 121v1M95 92v1M95 95v1M95 114v7M96 59v1M96 70v1M96 79v1M96 93v1M96 123v1M97 69v1M97 95v1M97 116v2M98 46v2M98 51v1M98 53v1M98 71v1M98 84v2M98 90v1M98 93v1M98 113v1M98 122v1M99 61v1M99 115v1M100 58v1M100 109v1M101 57v1M101 74v1M103 52v1M103 56v1M103 79v1M103 92v1M103 116v2M104 59v1M104 74v1M104 91v2M104 116v5M105 56v1M105 59v1M105 70v1M105 90v1M105 115v1M105 121v1M106 14v2M106 52v1M106 71v1M106 78v2M106 84v1M106 93v1M106 114v1M106 122v1M107 14v1M107 17v1M107 51v1M107 53v1M107 71v1M107 111v1M108 59v1M108 61v1M108 91v1M108 116v2M109 51v1M109 53v1M109 71v1M111 118v2M112 96v1M113 90v1M113 93v1M113 116v1M113 121v1M114 92v1M114 119v1M115 109v1M116 58v1M116 72v2M118 16v1M118 52v1M118 79v1M118 122v1M119 14v1M119 18v1M119 26v1M119 34v1M119 41v1M119 47v1M119 83v1M119 86v1M119 110v2M119 113v1M119 124v1M120 70v1M120 72v2M120 121v1M121 51v1M121 53v1M121 61v1M121 78v1M121 84v1M121 116v4M123 56v1M123 74v1M124 90v1M124 92v1M124 120v1M125 58v1M125 68v1M125 74v1M127 74v1M128 52v1M128 56v1M128 59v1M128 78v2M128 90v1M128 114v1M128 121v1M129 52v1M129 108v1M130 95v1M131 51v1M131 53v1M131 90v2M131 95v1M133 60v1M133 90v1M133 114v1M133 118v3M134 74v1M134 114v1M134 119v4M135 57v2M136 95v1M136 121v1M137 58v1M137 73v1M138 57v1M138 72v2M138 96v1M139 107v1M140 74v1M140 90v2M140 111v1M140 115v1M140 117v1M141 16v1M141 52v1M141 79v1M141 93v1M141 97v1M141 120v1M142 72v2M145 97v1M146 69v1M147 58v1M148 110v1M149 117v1M150 63v1M151 72v2M152 70v1" stroke="#0000b4"/>
<path d="M0 68v1M0 109v1M3 111v1M4 95v1M5 72v2M7 57v1M8 72v1M9 115v1M10 58v1M10 72v2M11 61v1M13 91v1M13 95v1M13 117v2M14 72v2M14 97v1M15 70v1M16 63v1M16 108v1M19 52v1M19 70v1M19 74v1M19 91v2M19 115v1M19 117v1M19 119v2M20 78v1M21 98v1M21 108v1M22 120v1M23 57v1M23 61v1M23 72v2M24 58v1M24 117v1M24 119v1M26 72v2M26 96v1M27 111v1M27 119v2M29 117v2M30 57v1M30 59v1M30 72v2M30 109v1M31 95v1M31 118v1M33 71v1M33 90v3M33 111v1M33 115v2M34 52v1M34 56v1M34 59v1M34 78v2M36 73v1M36 92v1M37 56v1M37 71v1M37 74v1M37 91v1M37 95v1M38 52v1M38 59v1M38 79v1M38 90v1M38 115v1M38 119v1M39 57v2M39 60v1M39 73v1M40 92v1M40 115v1M40 118v1M41 91v2M41 116v1M42 61v1M43 46v2M43 53v1M43 59v1M43 90v2M43 114v5M45 93v1M45 115v2M45 120v2M46 109v1M47 52v1M47 78v1M47 120v1M48 120v2M49 73v1M49 85v1M49 111v1M49 123v2M50 14v1M50 17v2M50 52v1M50 70v1M50 85v1M50 93v1M50 121v1M51 51v1M51 78v2M51 84v2M51 90v1M51 95v1M51 120v1M52 61v1M52 69v1M52 91v1M52 93v1M52 122v1M53 90v1M53 92v1M53 114v1M54 51v1M54 53v1M54 77v1M54 79v1M54 96v1M55 92v1M55 119v2M56 70v1M57 57v1M57 60v1M57 69v1M57 72v1M57 84v2M57 93v1M57 114v1M59 53v1M59 59v1M59 78v2M59 91v1M59 117v3M59 121v1M60 46v1M60 52v1M60 78v2M60 93v1M60 119v2M61 74v1M62 58v1M62 109v1M62 114v1M62 118v3M63 14v2M63 84v1M63 86v1M63 90v1M63 113v1M63 122v1M64 57v2M65 52v1M65 84v2M65 90v1M65 116v3M66 77v1M66 111v1M68 58v1M68 91v1M68 108v1M69 51v1M69 53v1M69 59v1M69 79v1M69 84v2M69 90v1M70 52v1M70 56v1M70 59v1M70 74v1M70 77v1M70 117v2M71 57v1M71 72v2M71 93v1M72 57v1M73 71v1M73 79v1M73 93v1M73 121v2M75 59v1M75 79v1M76 97v1M78 56v1M78 59v2M78 78v1M78 97v1M79 57v1M79 72v1M79 74v1M79 91v2M79 95v1M79 115v1M79 120v1M80 14v1M80 51v1M80 53v1M80 68v1M80 84v2M80 113v1M80 122v1M81 91v1M81 118v1M81 121v1M82 52v1M82 56v1M82 59v1M82 78v1M82 118v2M83 115v3M83 119v2M84 56v1M84 71v1M84 78v2M84 93v1M84 110v1M84 119v2M85 59v1M85 74v1M85 90v1M85 115v1M85 119v1M86 74v1M86 90v1M86 114v1M86 120v2M87 74v1M88 57v2M88 72v1M88 114v1M88 124v1M89 72v1M89 91v2M90 60v1M90 69v1M90 72v1M90 90v1M90 92v1M90 108v1M90 114v1M90 119v1M91 16v1M91 62v1M91 84v1M91 124v1M92 15v1M92 58v1M92 73v1M92 85v1M92 93v1M92 120v1M93 115v1M93 118v4M94 91v2M94 95v1M94 114v1M94 120v1M95 51v1M95 53v1M95 56v1M95 78v1M95 91v1M96 61v1M96 74v1M96 95v1M96 114v1M96 122v1M97 60v1M97 74v1M97 108v1M98 56v1M98 121v1M99 91v2M99 116v3M99 121v1M100 72v2M101 90v1M101 93v1M101 121v1M103 78v1M103 91v1M104 57v1M105 92v1M105 111v1M105 116v2M105 120v1M106 56v1M106 121v1M107 15v2M107 52v1M107 56v1M107 77v1M107 79v1M107 85v1M107 93v1M107 113v1M107 123v1M108 56v1M108 74v1M109 97v1M110 57v1M110 72v2M110 109v1M111 108v1M113 117v4M114 91v1M114 111v1M114 115v4M115 72v2M116 70v1M116 108v1M117 69v1M117 74v1M117 109v1M118 57v1M118 60v1M118 69v1M118 74v1M118 78v1M118 114v1M118 121v1M119 15v3M119 46v1M119 51v1M119 53v1M119 56v1M119 74v1M119 79v1M119 123v1M120 57v1M120 91v2M120 115v1M120 118v3M121 52v1M121 108v1M124 91v1M124 95v1M124 115v5M125 57v1M125 70v1M125 72v1M125 96v1M126 57v2M126 72v2M126 96v1M127 57v2M127 72v1M127 96v1M128 110v1M128 115v3M129 74v1M129 78v1M130 67v1M131 52v1M131 56v1M131 59v1M131 78v2M132 95v1M133 57v1M133 72v1M133 74v1M133 92v1M133 115v1M133 117v1M134 72v2M134 91v2M134 115v1M134 118v1M135 72v2M135 95v1M136 90v1M136 114v1M136 120v1M137 70v1M137 72v1M138 58v1M139 70v1M140 116v1M141 56v1M141 59v1M141 74v1M141 91v1M141 114v1M141 119v1M142 57v1M142 96v1M143 74v1M144 61v1M144 108v1M146 109v1M148 61v1M149 64v1M149 95v1M150 95v1M151 68v1M151 98v1M151 107v1M152 62v1M153 61v1M154 72v1M154 74v1M154 97v1M155 69v1M155 97v1" stroke="#0000ca"/>
<path d="M1 107v1M4 69v1M4 107v1M5 109v1M6 62v1M6 106v1M7 58v1M7 74v1M8 70v1M8 73v1M8 95v1M9 95v1M10 108v1M11 108v1M12 110v1M14 57v2M15 106v1M18 57v2M18 72v1M19 109v1M19 116v1M20 59v1M23 58v1M23 109v1M24 72v2M24 118v1M26 68v1M26 109v1M28 60v1M28 72v2M31 91v2M33 56v1M34 74v1M34 110v1M35 97v1M37 79v1M37 109v1M38 56v1M38 78v1M38 92v1M38 116v3M39 109v1M40 70v1M40 91v1M40 116v2M42 57v2M42 74v1M43 51v1M43 56v1M43 71v1M45 91v1M45 95v1M45 97v1M45 117v3M46 62v1M46 69v1M47 59v1M47 74v1M47 90v1M47 95v1M47 115v1M47 118v2M48 91v2M48 115v5M49 113v1M50 74v1M50 90v1M50 120v1M51 52v1M51 56v1M51 59v2M51 115v1M52 92v1M52 95v1M52 114v1M52 120v2M53 91v1M53 96v1M53 111v1M53 115v2M54 59v1M54 78v1M55 69v1M55 91v1M55 95v1M56 108v1M57 58v1M57 73v1M59 52v1M59 56v1M59 74v1M59 92v1M59 114v3M59 120v1M60 59v1M60 90v2M60 114v1M60 118v1M61 57v1M61 61v1M61 73v1M62 91v2M62 115v3M63 74v1M63 79v1M63 85v1M63 96v1M63 121v1M65 56v1M65 59v1M65 91v2M66 74v1M66 78v1M68 61v1M68 72v2M68 92v1M69 52v1M69 56v1M69 78v1M69 92v1M69 110v1M69 120v1M70 79v1M71 58v1M71 69v1M71 115v1M71 121v1M72 58v1M72 72v2M72 108v1M73 52v1M73 56v1M73 78v1M73 84v2M73 90v1M73 114v1M73 119v2M74 108v1M75 52v1M75 78v1M76 57v1M76 74v1M76 110v1M77 68v1M77 96v1M78 108v1M79 58v1M79 73v1M79 109v1M79 116v4M80 15v1M80 17v1M80 52v1M80 78v2M80 90v1M80 93v1M81 60v1M81 72v2M81 92v1M81 115v3M82 74v1M83 57v2M83 72v2M83 91v2M83 108v1M83 118v1M84 59v1M84 90v1M84 115v4M85 57v1M85 91v2M85 110v1M85 117v2M86 57v2M86 72v1M86 93v1M86 119v1M87 107v1M88 61v1M88 73v1M88 93v1M88 115v1M88 121v3M89 74v1M90 57v1M90 73v1M90 91v1M90 115v4M91 17v2M91 86v1M91 90v1M91 93v1M91 114v1M92 16v2M92 91v1M92 114v1M92 119v1M93 68v1M93 116v2M94 73v1M94 115v1M94 119v1M95 59v1M95 79v1M95 109v1M96 57v1M96 90v1M96 92v1M96 115v1M96 121v1M97 57v2M97 72v1M98 52v1M98 91v2M98 109v1M98 114v1M98 118v3M99 119v2M100 61v1M100 96v1M101 58v1M101 72v2M101 114v3M101 120v1M102 72v2M102 110v1M103 57v2M103 72v1M104 58v1M104 72v1M105 74v1M105 91v1M105 118v1M106 70v1M106 90v1M106 115v1M107 60v1M107 78v1M107 84v1M107 90v1M108 96v1M108 110v1M109 52v1M109 56v1M109 59v1M109 74v1M109 78v1M109 110v1M110 58v1M111 63v1M113 69v1M113 91v1M114 63v1M114 107v1M115 70v1M115 97v1M117 72v1M118 58v1M118 72v1M118 90v1M118 93v1M118 119v2M119 59v1M119 78v1M119 84v2M119 90v1M119 93v1M119 122v1M120 58v1M120 116v2M121 56v1M121 59v1M121 74v1M121 95v1M122 96v1M122 107v1M123 107v1M124 57v1M124 61v1M124 72v2M125 73v1M125 108v1M126 70v1M127 70v1M127 73v1M127 109v1M128 72v1M128 91v2M128 118v3M129 56v1M130 107v1M131 60v1M131 74v1M133 58v1M133 91v1M133 116v1M134 57v2M134 61v1M134 111v1M134 116v2M135 108v1M136 93v1M136 115v1M136 117v3M137 97v1M137 110v1M138 107v1M139 98v1M139 106v1M140 72v2M141 92v1M141 115v1M141 118v1M142 58v1M143 57v1M143 105v1M144 57v2M144 72v1M144 74v1M145 62v1M146 97v1M147 69v1M149 69v1M149 108v1M151 106v1M153 108v1M154 57v2M154 73v1M154 110v1M155 108v1" stroke="#0000e1"/>
<path d="M1 61v1M1 97v1M3 70v1M3 97v1M4 61v1M5 62v1M5 108v1M6 95v1M8 62v1M8 108v1M9 64v1M11 62v1M11 66v1M12 97v1M14 108v1M15 97v1M16 64v1M16 68v1M17 68v1M17 106v1M18 73v1M18 96v1M18 107v1M19 57v1M19 61v1M19 72v1M20 60v1M20 107v1M21 67v1M21 105v3M22 62v1M24 62v1M25 98v1M25 107v1M26 57v2M28 57v1M28 108v1M29 62v1M30 58v1M32 62v1M32 110v1M33 59v1M34 60v1M35 106v1M37 59v1M37 78v1M38 91v1M38 110v1M40 58v1M40 61v1M40 72v2M40 95v1M40 108v1M42 72v1M43 52v1M43 61v1M43 74v1M43 78v2M43 109v1M44 68v1M44 109v1M45 61v1M45 92v1M47 57v1M47 116v2M48 69v1M49 58v1M49 61v1M49 90v1M49 93v1M49 122v1M50 57v2M50 91v2M50 114v1M50 119v1M51 91v1M51 119v1M52 115v5M54 52v1M54 74v1M55 98v1M57 90v1M57 115v1M57 121v1M58 61v1M58 69v1M58 110v1M59 111v1M60 72v1M60 74v1M60 92v1M60 115v3M61 58v1M63 72v1M63 114v1M64 96v1M64 106v1M65 74v1M66 57v2M66 60v1M66 97v1M67 68v1M68 95v1M69 74v1M69 91v1M69 115v1M69 119v1M70 78v1M71 90v1M71 92v1M71 120v1M72 70v1M72 97v1M72 107v1M73 60v1M73 74v1M73 92v1M73 115v1M73 118v1M74 95v1M75 56v1M75 74v1M75 110v1M76 58v1M76 70v1M77 108v1M78 74v1M78 98v1M80 16v1M80 56v1M80 108v1M80 111v1M80 114v2M82 57v1M84 61v1M84 74v1M84 91v2M85 58v1M85 116v1M86 73v1M86 91v1M86 115v1M86 117v2M87 57v2M88 90v1M88 116v1M88 120v1M89 57v2M89 73v1M90 58v1M91 85v1M91 91v1M91 95v1M91 119v5M92 70v1M92 92v1M92 97v1M92 115v4M93 91v2M93 96v1M94 57v2M94 61v1M95 52v1M95 74v1M96 58v1M96 91v1M96 119v2M97 73v1M98 59v1M98 77v1M98 79v1M98 115v3M99 69v1M101 61v1M101 91v2M101 119v1M102 57v2M102 69v1M102 97v1M103 60v1M103 69v1M103 74v1M103 96v1M103 109v1M104 73v1M104 108v1M105 119v1M106 58v1M106 61v1M106 74v1M106 91v2M106 110v1M106 116v5M107 59v1M107 74v1M107 92v1M107 114v1M107 120v1M107 122v1M109 60v1M109 79v1M112 109v1M113 61v1M113 92v1M115 108v1M117 57v2M117 73v1M117 96v1M118 73v1M118 91v1M118 115v1M118 118v1M119 52v1M119 92v1M119 114v1M119 120v2M122 62v1M122 69v1M123 57v1M123 73v1M123 95v1M124 58v1M126 107v1M128 74v1M128 96v1M129 70v1M129 96v1M130 61v1M131 108v1M132 107v1M133 73v1M135 70v1M136 61v1M136 91v2M136 116v1M138 61v1M139 105v1M140 57v2M140 68v1M141 95v1M141 116v2M143 58v1M143 72v2M144 97v1M145 111v1M147 61v1M147 95v1M148 96v1M149 65v1M150 70v1M151 99v1M152 97v1M152 110v1M153 68v1" stroke="#0000f7"/>
<path d="M0 108v1M2 95v1M2 106v1M3 63v1M3 110v1M5 98v1M7 97v1M7 110v1M10 61v1M10 96v1M11 63v3M13 69v1M13 108v1M14 70v1M14 98v1M15 105v1M16 65v1M17 95v1M19 58v1M19 73v1M20 57v1M20 72v1M20 74v1M21 60v1M21 99v1M22 70v1M22 107v1M23 69v1M23 96v1M25 67v1M27 61v1M27 97v1M28 58v1M29 68v1M32 97v1M33 74v1M34 57v1M36 107v1M37 73v1M40 57v1M41 69v1M41 95v1M42 73v1M42 109v1M46 96v1M47 91v2M48 95v1M49 69v1M49 114v2M50 68v1M50 72v1M50 118v1M51 72v1M51 74v1M51 92v1M51 116v1M51 118v1M53 60v1M54 56v1M54 72v1M55 61v1M56 96v1M57 91v2M57 110v1M57 116v1M57 118v3M59 72v1M60 57v1M60 73v1M61 96v1M62 69v1M63 57v2M63 73v1M63 91v1M63 93v1M63 115v3M63 120v1M66 72v1M67 61v1M69 60v1M69 116v3M70 57v1M70 73v1M71 91v1M71 116v1M71 119v1M72 106v1M73 59v1M73 91v1M73 111v1M73 116v2M75 98v1M76 109v1M78 99v1M78 107v1M79 61v1M80 59v1M80 74v1M80 91v1M80 116v1M80 121v1M82 58v1M82 95v1M84 70v1M84 107v1M84 111v1M85 72v2M85 111v1M86 60v1M86 92v1M86 116v1M87 69v1M87 72v2M88 92v1M88 119v1M89 69v1M89 111v1M91 92v1M91 115v1M92 62v1M92 95v1M93 63v1M93 67v1M94 116v3M95 57v1M95 72v1M96 72v2M96 116v3M97 107v1M98 78v1M98 95v1M99 109v1M100 69v1M100 108v1M101 110v1M101 117v2M103 73v1M105 57v2M105 72v1M105 107v1M106 57v1M107 69v1M107 91v1M107 115v1M107 119v1M107 121v1M108 57v2M108 70v1M108 72v1M109 57v1M110 97v1M110 108v1M111 70v1M112 68v1M114 70v1M116 96v1M116 107v1M117 70v1M117 108v1M118 92v1M118 116v2M119 57v1M119 61v1M119 70v1M119 72v2M119 91v1M119 109v1M119 119v1M120 111v1M121 72v1M123 58v1M123 72v1M124 109v1M125 97v1M125 107v1M126 97v1M128 57v1M128 73v1M129 58v1M129 72v2M129 107v1M131 69v1M131 72v2M133 62v1M133 95v1M133 108v1M134 97v1M136 110v1M138 69v1M139 99v1M141 72v2M142 69v1M143 95v1M143 104v1M144 73v1M146 108v1M147 107v1M148 68v1M149 66v1M149 68v1M150 107v1M151 100v2M151 105v1M154 98v1M155 62v1M155 98v1" stroke="#000eff"/>
<path d="M0 61v1M0 96v1M1 98v1M1 106v1M2 66v1M3 109v1M4 106v1M5 70v1M5 100v2M5 107v1M6 63v1M6 68v1M6 105v1M7 69v1M7 72v2M9 70v1M10 107v1M11 96v1M11 107v1M12 62v1M12 69v1M12 109v1M14 107v1M15 98v1M16 66v2M16 96v1M16 107v1M18 61v1M18 106v1M20 58v1M20 96v1M21 104v1M24 97v1M24 110v1M25 61v1M27 67v1M27 110v1M28 96v1M29 109v1M30 60v1M32 69v1M33 110v1M34 58v1M34 69v1M34 72v2M34 97v1M35 61v1M35 68v1M35 98v1M35 105v1M37 57v1M38 57v2M38 72v1M38 74v1M39 97v1M39 108v1M41 108v1M42 97v1M43 57v2M43 73v1M44 62v1M44 96v1M45 68v1M46 108v1M47 58v1M47 72v2M48 62v1M49 91v2M49 116v1M49 121v1M50 73v1M50 110v1M50 115v3M51 57v1M51 69v1M51 109v1M51 117v1M53 68v1M54 73v1M54 110v1M56 63v1M56 107v1M57 117v1M59 57v2M59 60v1M59 73v1M59 107v1M60 58v1M60 96v1M61 109v1M62 62v1M63 62v1M63 92v1M63 118v2M64 61v1M65 57v1M66 73v1M66 110v1M67 111v1M69 57v2M69 62v1M69 72v1M70 58v1M70 72v1M70 95v1M70 107v1M71 107v1M71 111v1M71 117v2M72 62v1M72 98v1M73 72v2M75 72v2M75 109v1M76 72v2M76 98v1M77 62v1M77 97v1M78 100v1M78 106v1M79 69v1M80 70v1M80 92v1M80 117v1M80 120v1M81 95v1M82 72v2M82 108v1M84 57v2M84 73v1M85 69v1M86 110v1M87 95v1M88 91v1M88 117v2M91 116v3M93 110v1M94 109v1M95 58v1M95 61v1M95 73v1M98 57v1M101 69v1M102 109v1M105 73v1M106 72v2M107 57v1M107 72v2M107 116v3M108 73v1M109 58v1M109 72v2M109 109v1M110 70v1M112 61v1M113 111v1M115 62v1M115 107v1M116 62v1M117 67v1M118 96v1M119 58v1M119 115v1M119 118v1M121 57v1M121 60v1M121 73v1M121 107v1M123 69v1M123 106v1M126 62v1M126 106v1M127 97v1M128 58v1M129 57v1M130 96v1M130 106v1M131 57v2M132 62v1M132 69v1M132 96v1M132 106v1M135 62v1M135 96v1M136 68v1M137 109v1M139 63v1M139 69v1M139 100v1M139 104v1M141 57v2M142 109v1M143 103v1M144 107v1M145 69v1M146 68v1M148 109v1M149 67v1M150 64v1M151 61v1M151 102v1M153 62v1M153 96v1M153 107v1M154 62v1M155 99v1" stroke="#0025ff"/>
<path d="M1 68v1M4 96v1M5 99v1M6 64v1M6 104v1M9 65v1M10 69v1M10 106v1M11 106v1M12 108v1M13 63v1M14 62v1M14 99v1M15 63v1M15 99v1M17 61v1M19 96v1M20 70v1M20 73v1M21 100v1M23 108v1M25 99v1M25 106v1M26 97v1M26 108v1M29 96v1M30 63v1M30 96v1M30 108v1M31 63v1M31 98v1M33 57v2M33 72v2M34 109v1M35 99v2M35 104v1M37 58v1M37 69v1M37 72v1M37 108v1M38 73v1M38 96v1M39 68v1M41 62v1M43 70v1M43 72v1M44 67v1M44 108v1M46 68v1M47 60v1M49 110v1M49 117v4M51 58v1M51 73v1M52 68v1M52 97v1M56 69v1M58 97v1M60 110v1M61 69v1M62 95v1M62 108v1M63 111v1M64 97v1M65 58v1M65 72v2M65 107v1M67 98v1M67 110v1M68 69v1M68 107v1M69 73v1M71 61v1M72 99v1M72 105v1M73 57v1M74 61v1M74 68v1M74 107v1M75 69v1M75 108v1M76 68v1M77 67v1M77 107v1M78 101v1M78 105v1M80 57v1M80 72v1M80 118v2M83 95v1M84 72v1M85 61v1M85 106v1M87 106v1M88 111v1M89 97v1M90 107v1M91 69v1M91 97v1M93 64v1M93 66v1M94 69v1M96 109v1M98 58v1M98 74v1M99 62v1M99 96v1M100 107v1M102 98v1M104 69v1M104 96v1M105 60v1M105 68v1M106 96v1M107 108v1M109 98v1M110 62v1M111 107v1M112 97v1M113 68v1M115 98v1M118 110v1M119 116v2M120 97v1M121 58v1M122 97v1M122 106v1M123 96v1M125 60v1M125 98v1M125 106v1M126 98v1M127 62v1M127 108v1M128 69v1M128 109v1M129 97v1M130 62v1M130 66v1M131 96v1M134 69v1M134 110v1M135 107v1M138 97v1M138 106v1M139 101v1M140 60v1M140 97v1M140 110v1M143 62v1M144 98v1M145 98v1M145 110v1M146 62v1M148 62v1M149 107v1M150 69v1M150 96v1M151 103v2M152 69v1M152 109v1M154 70v1M154 109v1M155 68v1M155 100v1M155 104v1M155 107v1" stroke="#003bff"/>
<path d="M0 67v1M0 107v1M1 99v1M1 105v1M2 60v1M2 96v1M2 105v1M3 98v1M5 102v1M5 106v1M6 96v1M6 103v1M7 61v1M7 109v1M8 96v1M9 66v1M9 69v1M9 99v1M10 97v1M11 105v1M12 98v1M13 68v1M14 100v1M14 106v1M15 69v1M15 100v2M15 104v1M16 106v1M17 67v1M17 96v1M17 105v1M18 97v1M18 105v1M19 108v1M20 106v1M21 101v1M21 103v1M23 62v1M25 66v1M25 100v4M25 105v1M26 107v1M27 62v1M28 107v1M29 63v1M29 67v1M31 70v1M32 109v1M33 97v1M35 101v1M35 103v1M36 62v1M36 69v1M38 109v1M39 107v1M43 96v1M43 108v1M46 63v1M47 68v1M47 109v1M50 96v1M52 62v1M53 110v1M54 57v2M54 69v1M54 97v1M56 97v1M58 109v1M64 105v1M65 61v1M65 95v1M66 109v1M67 67v1M70 61v1M73 58v1M73 107v1M75 57v2M75 99v1M76 60v1M76 108v1M77 98v1M77 106v1M78 57v2M78 72v2M79 108v1M80 58v1M80 73v1M81 68v1M81 108v1M83 69v1M86 96v1M87 61v1M89 110v1M91 63v1M93 65v1M94 96v1M95 96v1M95 108v1M97 96v1M98 72v1M100 97v1M102 61v1M103 97v1M103 108v1M104 107v1M107 58v1M108 97v1M108 109v1M109 108v1M110 98v1M110 107v1M111 64v1M111 95v1M112 67v1M112 108v1M113 97v1M114 64v1M114 106v1M115 106v1M116 97v1M116 106v1M117 97v1M117 107v1M121 96v1M121 106v1M123 61v1M123 105v1M126 104v2M127 69v1M128 61v1M129 67v1M129 106v1M130 105v1M131 107v1M132 97v1M133 70v1M137 62v1M137 98v1M137 108v1M138 105v1M139 68v1M139 102v2M141 70v1M141 98v1M142 61v1M142 97v1M143 70v1M143 102v1M144 69v1M144 99v2M144 106v1M145 63v1M146 98v1M146 107v1M147 106v1M148 67v1M149 96v1M150 106v1M151 67v1M152 63v1M152 98v1M153 67v1M155 63v1M155 101v3M155 105v2" stroke="#0051ff"/>
<path d="M0 62v1M0 97v1M1 62v1M3 64v1M3 69v1M3 108v1M4 62v1M4 68v1M4 105v1M5 63v1M6 65v1M6 67v1M6 102v1M8 69v1M8 107v1M9 67v2M10 105v1M11 97v1M12 107v1M13 64v1M13 96v1M13 107v1M14 101v2M14 104v2M15 102v1M16 97v1M16 105v1M17 62v1M17 97v1M18 69v1M20 62v1M21 61v1M21 66v1M21 102v1M22 95v1M22 106v1M23 68v1M23 97v1M24 70v1M24 109v1M25 104v1M26 60v1M27 66v1M27 109v1M28 68v1M28 97v1M29 64v1M29 66v1M29 108v1M32 63v1M33 61v1M33 109v1M34 98v1M35 102v1M36 95v1M36 106v1M37 96v1M37 107v1M38 61v1M40 107v1M41 68v1M41 107v1M42 98v1M42 108v1M44 63v1M44 66v1M45 62v1M45 98v1M46 97v1M46 107v1M48 68v1M49 96v1M50 60v1M54 109v1M55 62v1M55 68v1M55 99v1M56 68v1M56 106v1M57 96v1M58 62v1M60 61v1M62 68v1M63 70v1M64 68v1M64 98v1M66 98v1M67 62v1M68 62v1M68 96v1M69 96v1M69 109v1M70 69v1M71 68v1M72 100v1M72 104v1M75 107v1M76 99v1M77 63v1M77 66v1M77 99v1M77 105v1M78 104v1M83 62v1M83 107v1M86 68v1M88 69v1M88 97v1M89 61v1M90 95v1M91 68v1M92 63v1M95 69v1M96 62v1M96 96v1M97 68v1M98 61v1M98 73v1M98 108v1M99 68v1M100 62v1M100 106v1M101 96v1M102 68v1M102 108v1M104 61v1M105 106v1M106 109v1M107 95v1M109 62v1M109 99v1M109 107v1M110 99v1M113 62v1M114 69v1M114 95v1M116 69v1M116 105v1M119 95v1M120 62v1M120 110v1M122 63v1M122 68v1M122 98v1M123 97v1M123 104v1M124 96v1M124 108v1M125 67v1M125 105v1M126 99v1M126 103v1M127 98v1M127 107v1M128 97v1M130 63v1M130 65v1M130 97v1M132 68v1M132 105v1M133 107v1M136 62v1M136 67v1M136 96v1M137 69v1M137 107v1M138 98v1M138 104v1M141 62v1M143 96v1M143 101v1M144 101v2M144 105v1M145 68v1M146 99v1M147 62v1M147 68v1M147 96v1M147 104v2M148 97v1M148 108v1M152 108v1M153 63v1M153 106v1M154 99v1M154 106v3" stroke="#0068ff"/>
<path d="M0 106v1M1 67v1M1 100v1M1 104v1M2 65v1M2 97v1M3 99v1M4 97v1M5 103v1M5 105v1M6 66v1M6 97v1M7 98v1M8 63v1M10 104v1M11 98v1M11 104v1M13 65v3M14 103v1M15 67v2M15 103v1M17 63v2M17 66v1M17 98v1M17 104v1M20 97v1M20 105v1M22 63v1M24 98v1M25 62v1M25 65v1M26 98v1M26 106v1M27 63v1M27 98v1M28 61v1M28 106v1M29 65v1M30 97v1M30 107v1M32 68v1M32 98v1M32 108v1M33 69v1M34 108v1M35 62v1M37 61v1M39 61v1M39 98v1M40 96v1M42 62v1M42 69v1M44 64v2M44 97v1M44 107v1M45 67v1M45 111v1M47 96v1M48 63v1M48 98v1M50 109v1M51 96v1M52 67v1M52 111v1M53 97v1M56 64v1M56 67v1M57 61v1M57 68v1M57 109v1M58 68v1M58 98v1M59 106v1M60 69v1M61 97v1M62 63v1M62 107v1M63 97v1M63 110v1M64 99v6M65 69v1M66 108v1M67 66v1M67 109v1M68 106v1M70 96v1M70 106v1M71 106v1M72 69v1M72 101v3M74 106v1M75 61v1M75 100v1M75 106v1M77 64v2M78 102v2M79 96v1M80 107v1M82 61v1M82 69v1M82 107v1M84 106v1M87 96v1M88 62v1M89 98v1M90 68v1M90 106v1M92 69v1M93 109v1M96 69v1M97 61v1M97 106v1M98 69v1M99 108v1M100 98v1M101 62v1M101 109v1M102 99v1M103 107v1M104 97v1M109 106v1M110 100v1M110 106v1M111 69v1M112 62v1M112 66v1M112 107v1M113 67v1M113 110v1M115 63v1M115 69v1M115 99v2M115 105v1M116 63v1M116 98v3M116 104v1M118 68v1M118 109v1M120 69v1M122 104v2M123 98v1M123 103v1M124 62v1M124 69v1M125 99v1M126 63v1M126 69v1M126 100v1M126 102v1M127 63v1M128 108v1M129 98v1M130 64v1M130 98v1M130 104v1M132 63v1M133 96v1M134 98v1M135 69v1M135 97v1M135 106v1M136 66v1M137 99v1M137 106v1M138 68v1M138 102v2M139 64v1M139 67v1M140 109v1M141 111v1M142 108v1M143 100v1M144 62v1M144 103v2M145 64v1M145 109v1M146 67v1M146 100v1M146 106v1M148 66v1M149 106v1M150 65v1M150 68v1M150 97v1M150 105v1M152 99v1M152 107v1M153 66v1M153 97v1M154 105v1M155 64v1M155 67v1" stroke="#007eff"/>
<path d="M0 63v4M1 63v1M1 101v3M2 61v1M3 68v1M3 107v1M4 98v1M4 104v1M5 69v1M5 104v1M6 98v4M7 108v1M8 97v1M8 106v1M10 62v1M10 98v1M11 102v2M12 63v1M12 68v1M13 106v1M14 69v1M15 64v1M15 66v1M16 98v1M17 65v1M17 99v1M17 103v1M18 62v1M18 98v1M18 100v5M19 69v1M19 97v1M20 104v1M21 62v1M22 69v1M22 105v1M23 63v1M23 107v1M25 63v2M26 67v1M26 99v1M27 64v2M27 99v1M27 108v1M28 105v1M29 97v1M30 98v1M31 69v1M31 99v1M31 111v1M32 64v1M32 66v2M35 63v1M35 67v1M37 106v1M39 67v1M39 106v1M40 69v1M41 63v1M41 96v1M42 107v1M43 97v1M46 64v1M46 67v1M46 106v1M48 111v1M49 62v1M49 68v1M50 67v1M51 108v1M52 63v1M52 66v1M53 61v1M53 67v1M53 109v1M54 108v1M55 63v1M55 67v1M55 111v1M56 65v2M56 98v1M56 105v1M58 108v1M59 68v1M60 97v1M60 109v1M61 62v1M61 108v1M64 62v1M65 106v1M66 68v1M66 107v1M67 63v1M67 99v1M72 63v1M73 70v1M74 62v1M74 96v1M75 101v1M75 105v1M76 107v1M77 104v1M79 107v1M80 67v1M81 61v1M81 67v1M82 96v1M84 62v1M85 105v1M86 109v1M87 105v1M88 110v1M90 61v1M91 64v1M91 67v1M93 97v1M94 62v1M95 62v1M95 107v1M97 97v1M98 96v1M99 63v1M99 97v1M100 68v1M100 99v1M100 105v1M105 95v1M106 69v1M107 107v1M108 62v1M108 108v1M109 70v1M109 100v2M110 69v1M111 65v1M111 96v1M111 106v1M112 98v1M114 105v1M115 101v1M115 104v1M116 101v3M117 98v1M117 106v1M118 61v1M118 97v1M119 108v1M120 109v1M121 63v1M121 97v1M121 105v1M122 64v1M122 99v5M123 99v1M124 107v1M125 61v1M125 100v1M125 104v1M126 101v1M127 106v1M129 60v1M129 105v1M130 103v1M131 61v1M131 97v1M131 106v1M132 67v1M132 98v1M132 104v1M134 62v1M134 109v1M135 63v1M135 105v1M136 63v3M136 109v1M138 62v1M138 99v3M139 66v1M140 67v1M140 108v1M142 107v1M143 97v1M143 99v1M145 65v3M145 99v1M145 108v1M146 63v1M147 103v1M148 63v3M149 97v1M150 66v2M150 98v2M150 104v1M151 62v1M152 68v1M153 64v2M153 105v1M154 100v1M155 65v2" stroke="#0094ff"/>
<path d="M0 98v1M0 105v1M1 64v1M1 66v1M2 62v1M2 98v1M2 104v1M3 65v3M3 100v1M4 63v1M4 67v1M4 99v1M5 64v1M7 68v1M7 99v1M7 107v1M8 64v1M8 68v1M8 105v1M9 100v1M9 111v1M10 68v1M10 103v1M11 99v3M12 99v1M12 106v1M13 97v1M14 63v1M15 65v1M16 104v1M17 100v1M18 99v1M19 62v1M19 107v1M20 102v2M21 65v1M23 67v1M23 98v1M24 63v1M24 108v1M26 100v1M26 105v1M28 98v1M28 104v1M29 107v1M30 64v1M30 70v1M30 106v1M31 64v1M31 100v1M31 110v1M32 65v1M33 98v1M34 99v1M34 107v1M35 64v3M36 105v1M37 97v1M38 69v1M38 97v1M38 108v1M39 99v1M40 62v1M41 67v1M41 106v1M42 99v1M43 107v1M45 63v1M45 110v1M46 65v2M46 98v1M47 61v1M47 108v1M48 64v1M48 66v2M49 109v1M51 61v1M52 64v2M52 98v1M54 61v1M54 98v1M55 100v1M55 110v1M58 99v1M59 61v1M59 95v1M62 67v1M62 96v1M63 109v1M66 61v1M66 99v1M67 64v2M70 97v1M70 105v1M71 62v1M73 62v1M73 95v1M73 106v1M74 67v1M74 105v1M75 102v3M76 100v1M76 105v2M77 100v1M79 62v1M81 96v1M81 107v1M83 96v1M84 69v1M85 62v1M86 61v1M87 68v1M89 68v1M89 109v1M91 65v1M91 111v1M92 64v1M92 98v1M92 111v1M94 68v1M94 108v1M95 97v1M96 108v1M99 67v1M99 107v1M100 63v1M100 100v1M101 68v1M102 100v1M102 107v1M103 61v1M103 68v1M103 98v1M103 106v1M104 68v1M104 106v1M105 61v1M105 67v1M105 105v1M106 62v1M106 97v1M107 68v1M108 69v1M108 98v1M108 107v1M109 102v1M109 105v1M110 101v1M110 105v1M111 66v1M111 68v1M111 105v1M112 65v1M112 105v2M113 63v1M113 98v1M113 109v1M114 65v1M114 68v1M115 64v1M115 102v2M116 64v1M121 98v1M122 67v1M123 68v1M123 100v3M124 97v1M125 101v1M125 103v1M127 99v1M127 105v1M128 68v1M129 99v3M129 104v1M130 99v1M130 101v2M131 68v1M132 64v1M132 66v1M133 63v1M133 106v1M134 68v1M135 98v1M135 104v1M137 63v1M137 100v1M137 105v1M139 65v1M140 98v1M141 99v1M142 68v1M142 98v1M142 106v1M143 98v1M146 66v1M146 101v1M146 105v1M147 63v1M147 97v1M148 98v1M148 107v1M149 105v1M150 103v1M151 66v1M152 64v1M152 100v2M152 106v1M153 98v1M153 104v1M154 63v1M154 103v2" stroke="#00abff"/>
<path d="M1 65v1M2 63v2M2 99v2M3 106v1M4 100v2M4 103v1M7 105v2M8 65v1M8 67v1M8 98v1M8 104v1M10 67v1M10 99v1M10 102v1M12 64v1M13 105v1M16 99v1M17 101v2M18 68v1M20 69v1M20 98v1M20 100v2M22 64v1M22 68v1M22 96v1M22 104v1M23 64v1M23 66v1M26 101v1M27 100v1M27 107v1M28 67v1M29 98v1M30 99v1M30 104v2M31 68v1M32 99v1M32 107v1M33 108v1M34 61v1M34 100v1M36 63v1M36 68v1M36 96v1M37 68v1M39 100v2M40 106v1M41 97v1M42 106v1M44 98v1M44 106v1M45 66v1M47 106v2M48 65v1M50 97v1M53 108v1M54 107v1M55 66v1M55 109v1M56 99v6M57 62v1M58 63v1M58 67v1M58 107v1M61 68v1M63 63v1M64 67v1M65 96v1M66 105v2M67 108v1M68 68v1M68 97v1M68 105v1M69 63v1M69 70v1M69 97v1M69 108v1M70 62v1M70 98v1M70 104v1M71 95v1M74 63v1M76 61v1M76 67v1M76 101v1M76 104v1M77 101v3M78 61v1M79 68v1M79 97v1M80 95v1M80 106v1M81 106v1M82 106v1M83 63v1M83 68v1M83 106v1M84 95v1M84 105v1M85 68v1M85 104v1M86 67v1M86 97v1M86 108v1M87 97v1M87 104v1M88 63v1M88 68v1M88 98v1M89 62v1M89 99v1M90 105v1M91 66v1M91 98v1M93 108v1M94 63v1M94 97v1M96 97v1M97 105v1M98 107v1M99 64v3M99 106v1M100 104v1M101 97v1M101 108v1M102 62v1M102 67v1M102 101v1M102 104v3M103 99v1M103 105v1M104 98v1M106 108v1M107 61v1M109 103v1M110 63v1M110 102v3M111 67v1M111 97v1M112 63v2M112 104v1M113 66v1M114 96v1M114 103v2M115 68v1M116 68v1M117 66v1M117 99v3M117 103v3M118 108v1M119 69v1M120 63v1M120 98v1M120 108v1M121 104v1M122 65v2M123 62v1M124 106v1M125 66v1M125 102v1M126 64v1M127 64v1M127 68v1M127 100v1M127 104v1M128 98v1M128 107v1M129 66v1M129 102v2M130 100v1M131 98v1M131 105v1M132 65v1M132 99v1M132 102v2M133 69v1M135 99v1M135 103v1M136 97v1M137 68v1M137 104v1M140 61v1M141 63v1M141 110v1M142 62v1M142 105v1M143 69v1M144 68v1M145 100v2M145 107v1M147 64v1M147 67v1M147 98v5M148 99v1M148 106v1M149 98v2M149 104v1M150 100v3M151 63v1M152 67v1M152 102v1M152 105v1M154 101v2" stroke="#00c1ff"/>
<path d="M0 104v1M2 101v3M3 101v1M3 105v1M4 64v1M4 66v1M4 102v1M5 65v1M5 68v1M7 62v1M7 100v1M7 104v1M8 66v1M9 101v1M9 110v1M10 63v1M10 66v1M10 100v2M12 65v3M12 100v2M12 105v1M13 98v1M14 64v1M14 68v1M16 100v2M16 103v1M19 98v1M19 106v1M20 99v1M21 63v2M22 65v3M22 97v1M23 65v1M23 106v1M24 69v1M24 99v1M26 61v1M26 66v1M26 102v1M26 104v1M28 62v1M28 99v3M28 103v1M29 106v1M30 69v1M30 102v2M31 65v1M31 67v1M31 101v1M31 109v1M32 100v2M33 68v1M34 101v1M34 106v1M36 104v1M37 98v1M37 105v1M38 107v1M39 66v1M39 102v1M39 105v1M40 68v1M40 97v1M41 64v1M41 66v1M42 68v1M42 100v1M42 105v1M43 62v1M43 69v1M43 98v1M43 106v1M44 105v1M45 99v1M45 109v1M46 99v1M46 105v1M47 67v1M47 97v1M48 99v1M48 110v1M49 63v1M49 67v1M50 108v1M51 68v1M52 110v1M53 62v5M54 68v1M54 99v1M55 64v1M57 67v1M57 97v1M57 108v1M58 100v1M59 105v1M60 62v1M60 98v1M60 108v1M61 98v1M61 107v1M62 64v1M62 106v1M64 63v1M65 105v1M66 100v1M66 104v1M67 100v1M67 106v2M68 63v1M68 104v1M71 67v1M71 105v1M72 68v1M74 97v1M75 68v1M76 102v2M78 69v1M79 106v1M81 66v1M81 105v1M82 97v1M83 97v1M85 95v1M86 62v1M87 62v1M87 102v2M88 64v1M88 109v1M89 108v1M90 96v1M92 68v1M92 110v1M93 98v1M94 64v1M94 107v1M95 63v1M95 68v1M95 106v1M96 68v1M97 67v1M97 98v1M98 97v1M99 98v1M99 105v1M100 64v1M100 67v1M100 101v1M101 63v1M102 102v2M103 100v1M103 104v1M104 62v1M104 105v1M105 96v1M107 106v1M108 63v1M108 99v3M109 104v1M110 68v1M111 98v1M111 104v1M112 99v1M112 103v1M113 64v2M114 66v2M114 102v1M117 60v1M117 102v1M118 67v1M119 62v1M121 99v2M124 98v1M124 105v1M125 62v1M126 68v1M127 103v1M129 61v1M131 104v1M132 100v2M133 64v1M133 105v1M134 67v1M134 99v1M134 108v1M135 64v1M135 68v1M135 100v1M135 102v1M137 101v1M138 67v1M140 99v1M140 107v1M142 99v4M142 104v1M145 106v1M146 64v2M146 104v1M147 65v2M148 100v1M148 105v1M149 100v1M149 103v1M151 64v2M152 65v2M152 103v2M153 99v1M154 69v1" stroke="#00d7ff"/>
<path d="M0 99v1M3 102v3M4 65v1M5 66v1M7 101v3M8 99v5M9 102v2M12 102v3M13 104v1M14 65v3M16 102v1M18 63v1M18 67v1M19 99v1M19 105v1M20 63v1M22 103v1M23 99v1M24 107v1M26 65v1M26 103v1M27 101v1M27 106v1M28 66v1M28 102v1M29 99v1M30 65v2M30 100v2M31 66v1M32 102v1M32 106v1M33 62v1M33 99v1M33 107v1M34 102v4M36 64v2M36 97v1M37 62v1M37 102v1M38 62v1M38 98v1M39 62v1M39 103v1M41 65v1M41 98v1M41 105v1M42 63v1M42 101v1M42 104v1M43 105v1M45 64v2M46 100v1M47 105v1M49 97v1M50 61v1M50 66v1M51 97v1M51 107v1M52 99v1M53 98v1M53 107v1M54 62v1M54 100v1M54 106v1M55 65v1M55 101v1M58 64v3M58 106v1M59 67v1M59 96v1M61 63v3M62 66v1M62 97v1M62 105v1M63 69v1M63 98v1M64 66v1M65 62v1M65 68v1M65 104v1M66 62v1M66 67v1M66 101v1M66 103v1M67 105v1M68 98v1M68 103v1M69 107v1M70 68v1M70 99v1M71 63v1M72 64v1M73 105v1M74 64v1M74 66v1M74 98v1M74 104v1M75 62v1M80 105v1M81 62v2M81 97v1M82 68v1M82 105v1M83 64v1M83 67v1M83 98v1M84 63v1M84 104v1M85 63v1M85 103v1M88 65v3M89 63v1M89 67v1M89 100v1M90 62v1M90 67v1M92 65v3M92 99v1M93 107v1M94 65v1M94 67v1M95 98v1M95 105v1M96 63v1M96 107v1M97 62v1M97 99v1M98 62v1M98 68v1M99 104v1M100 65v2M100 102v2M101 107v1M103 101v3M104 67v1M104 99v2M104 104v1M105 62v1M105 66v1M105 104v1M106 68v1M106 98v1M107 96v1M108 68v1M108 102v1M108 106v1M112 102v1M113 99v1M113 108v1M114 97v1M115 65v1M115 67v1M116 65v1M118 98v1M119 96v1M119 107v1M120 64v1M120 68v1M120 99v1M120 105v3M121 70v1M121 101v3M123 63v1M123 67v1M124 63v1M124 68v1M125 63v1M126 65v1M126 67v1M127 101v2M128 62v1M129 65v1M131 62v1M131 99v1M131 103v1M133 65v1M133 68v1M133 97v1M134 63v1M134 66v1M135 65v1M135 67v1M135 101v1M136 108v1M137 64v1M137 67v1M137 102v2M138 63v1M140 100v1M141 69v1M141 100v1M141 109v1M142 63v1M142 67v1M142 103v1M143 63v1M144 63v1M144 67v1M145 102v4M146 102v2M148 101v1M148 103v2M149 101v2M153 100v1M153 103v1M154 64v1" stroke="#00edff"/>
<path d="M0 103v1M5 67v1M7 63v1M9 104v1M9 108v2M10 64v2M13 99v2M13 103v1M19 63v1M19 68v1M19 100v1M19 103v2M22 98v1M23 100v1M23 105v1M24 64v3M24 68v1M24 100v1M26 62v3M27 102v4M28 63v1M28 65v1M29 105v1M30 67v2M31 102v1M31 108v1M32 103v3M33 100v1M34 68v1M36 66v2M36 103v1M37 67v1M37 99v1M37 101v1M37 103v2M38 68v1M38 106v1M39 65v1M39 104v1M40 67v1M40 98v1M40 103v3M42 103v1M43 99v2M43 104v1M44 99v1M44 104v1M45 108v1M46 104v1M47 62v1M47 98v1M47 104v1M48 100v1M48 109v1M49 64v3M49 108v1M50 98v1M50 107v1M51 62v1M52 109v1M53 106v1M54 101v5M55 108v1M57 63v1M57 66v1M57 107v1M58 101v1M58 104v2M59 97v1M59 104v1M60 68v1M60 107v1M61 66v2M61 99v1M61 101v3M61 106v1M62 65v1M62 104v1M64 64v2M65 103v1M66 102v1M67 101v2M68 67v1M68 99v4M69 69v1M69 98v1M70 63v1M70 103v1M71 64v1M71 96v1M71 104v1M72 65v1M72 67v1M73 69v1M74 65v1M74 99v2M79 63v1M79 98v1M80 60v1M81 64v2M81 104v1M82 62v1M82 98v1M82 103v2M83 65v2M83 105v1M84 96v1M85 96v1M86 63v1M86 66v1M86 107v1M87 67v1M87 98v1M87 101v1M89 66v1M89 101v2M89 106v2M90 97v1M90 104v1M91 99v1M91 110v1M92 109v1M93 99v1M94 66v1M94 98v1M94 106v1M95 99v1M96 67v1M97 63v1M97 66v1M97 100v5M98 106v1M101 64v1M101 67v1M101 98v1M102 63v1M102 66v1M103 62v1M103 67v1M104 63v1M104 66v1M104 101v3M105 97v1M106 63v1M106 99v1M106 107v1M107 67v1M108 103v1M108 105v1M109 63v1M109 69v1M110 64v1M110 67v1M111 99v3M111 103v1M112 100v2M113 107v1M114 101v1M115 66v1M116 66v2M117 61v1M118 62v1M118 66v1M118 107v1M120 65v3M120 100v1M120 104v1M121 64v1M123 64v1M123 66v1M124 99v1M124 104v1M125 64v2M126 66v1M127 65v1M127 67v1M128 67v1M128 99v1M128 106v1M129 62v1M129 64v1M131 67v1M131 100v3M133 66v2M133 104v1M134 65v1M134 100v1M134 107v1M135 66v1M136 98v1M136 107v1M137 65v2M140 62v1M140 101v1M140 106v1M141 64v1M142 64v1M142 66v1M144 66v1M148 102v1" stroke="#05fffa"/>
<path d="M0 100v1M0 102v1M7 67v1M9 107v1M13 101v2M18 64v1M18 66v1M19 101v2M20 64v1M22 99v1M22 102v1M23 101v4M24 67v1M24 101v3M24 106v1M28 64v1M29 100v5M33 67v1M33 106v1M34 62v1M36 100v3M37 100v1M38 105v1M39 63v2M40 63v1M40 102v1M41 99v1M41 103v2M42 64v2M42 67v1M42 102v1M43 101v3M44 100v4M45 100v1M45 107v1M46 101v3M47 63v1M47 66v1M48 108v1M51 67v1M51 106v1M52 100v1M53 99v1M53 105v1M54 63v1M54 67v1M55 102v5M57 64v2M58 103v1M59 62v1M59 66v1M59 103v1M60 99v1M61 100v1M61 104v2M62 98v1M62 103v1M63 64v1M63 99v1M63 108v1M65 97v1M65 102v1M66 66v1M67 103v2M68 64v1M68 66v1M69 64v1M69 99v1M69 106v1M70 100v2M71 65v2M71 97v1M72 66v1M73 96v1M73 104v1M74 101v1M76 62v1M76 66v1M79 67v1M79 105v1M80 66v1M80 96v1M80 104v1M81 98v2M82 101v2M83 99v1M84 68v1M84 103v1M85 64v1M85 67v1M85 102v1M86 64v1M86 98v1M87 63v1M87 99v2M88 99v1M89 64v2M89 103v1M89 105v1M90 98v1M90 103v1M91 100v1M92 100v1M95 64v1M95 67v1M95 100v1M95 104v1M96 66v1M96 98v1M97 64v2M98 98v1M99 99v5M101 106v1M102 64v1M103 63v1M103 66v1M104 64v1M105 98v2M105 103v1M106 67v1M107 105v1M108 64v1M108 67v1M108 104v1M110 66v1M111 102v1M113 100v1M113 106v1M114 98v1M114 100v1M117 62v1M117 65v1M118 65v1M119 106v1M120 101v1M120 103v1M123 65v1M127 66v1M128 104v2M129 63v1M133 103v1M134 64v1M134 101v6M136 106v1M138 64v1M138 66v1M140 66v1M140 102v1M141 101v1M141 105v2M141 108v1M142 65v1M143 68v1M144 64v2M153 101v2M154 65v1M154 68v1" stroke="#1bffe4"/>
<path d="M0 101v1M7 64v1M9 105v1M18 65v1M19 64v1M20 65v1M20 68v1M22 100v2M24 104v2M31 103v1M31 107v1M33 101v5M36 98v2M38 63v1M38 99v1M40 66v1M40 99v1M41 100v1M41 102v1M42 66v1M43 63v1M43 68v1M47 64v2M47 99v1M47 103v1M48 107v1M49 98v1M49 107v1M50 62v1M50 65v1M50 106v1M51 66v1M51 98v1M52 108v1M53 100v1M53 103v2M54 64v1M55 107v1M57 98v1M58 102v1M59 98v5M60 100v1M60 106v1M62 99v1M63 65v1M63 68v1M63 100v1M65 67v1M65 100v2M66 63v1M66 65v1M68 65v1M69 68v1M69 100v1M70 67v1M70 102v1M71 103v1M73 63v1M73 103v1M74 102v2M75 67v1M79 64v3M79 99v1M81 100v2M81 103v1M82 67v1M82 99v2M83 100v1M83 103v2M84 97v1M85 65v2M85 97v1M86 65v1M86 106v1M87 64v3M88 108v1M89 104v1M90 63v1M90 66v1M90 99v4M91 109v1M92 108v1M93 106v1M94 105v1M95 65v2M95 101v1M95 103v1M96 64v2M96 106v1M98 105v1M101 65v2M102 65v1M103 64v2M104 65v1M105 63v1M105 65v1M105 100v1M106 64v1M106 66v1M106 100v1M106 106v1M107 97v2M109 68v1M110 65v1M114 99v1M117 63v1M118 63v2M118 99v1M118 104v3M119 63v1M119 68v1M120 102v1M121 69v1M124 67v1M124 100v1M124 103v1M128 63v1M128 66v1M128 100v4M131 63v1M131 66v1M133 98v5M138 65v1M140 103v3M141 65v1M141 104v1M141 107v1M143 64v1M154 66v2" stroke="#31ffce"/>
<path d="M7 65v2M9 106v1M19 65v1M19 67v1M31 104v3M33 63v1M33 66v1M37 63v1M37 66v1M38 67v1M38 100v1M40 64v2M40 100v2M41 101v1M45 101v1M45 105v2M47 100v1M48 101v1M48 106v1M50 99v1M50 105v1M51 63v3M51 99v3M51 105v1M52 101v2M52 107v1M53 101v2M54 66v1M57 106v1M59 63v3M60 63v1M60 67v1M60 101v5M62 102v1M63 66v2M63 101v2M65 63v1M65 98v2M66 64v1M69 65v3M69 105v1M70 64v1M71 98v1M71 102v1M73 68v1M73 97v1M75 63v1M76 63v1M79 100v3M79 104v1M80 61v1M80 103v1M81 102v1M82 63v1M83 101v2M84 64v1M84 98v1M84 102v1M85 98v1M85 100v2M91 101v1M92 101v1M92 107v1M93 100v1M93 104v2M94 99v1M94 102v3M95 102v1M96 99v1M98 63v1M98 67v1M98 99v1M101 99v1M101 105v1M105 64v1M105 101v2M106 65v1M106 101v5M107 62v1M107 99v1M107 104v1M108 65v2M109 64v1M109 67v1M113 101v3M113 105v1M117 64v1M118 100v2M118 103v1M119 97v1M119 105v1M121 65v1M124 64v1M124 66v1M124 101v1M128 64v2M136 99v1M136 105v1M140 63v1M141 66v1M141 68v1M141 102v2M143 65v1" stroke="#48ffb7"/>
<path d="M19 66v1M20 66v2M34 63v1M38 64v1M38 101v1M38 104v1M43 67v1M45 102v3M47 101v2M48 102v4M49 99v1M49 106v1M50 63v2M50 100v1M50 104v1M51 102v3M52 103v4M54 65v1M57 99v1M57 105v1M60 66v1M62 100v2M63 107v1M69 101v1M69 104v1M70 65v2M71 101v1M73 67v1M73 98v5M75 66v1M76 64v2M79 103v1M80 65v1M80 97v1M82 64v1M82 66v1M84 65v3M84 99v3M85 99v1M86 99v1M86 101v5M88 100v1M88 107v1M90 64v2M91 108v1M92 102v1M92 106v1M94 101v1M96 100v6M98 100v5M101 104v1M107 63v1M107 66v1M107 100v1M109 65v2M113 104v1M118 102v1M119 64v1M119 67v1M119 104v1M121 68v1M124 65v1M124 102v1M140 64v2M141 67v1M143 66v2" stroke="#5effa1"/>
<path d="M33 65v1M34 67v1M37 64v2M38 66v1M38 102v2M43 64v1M43 66v1M49 105v1M50 101v3M57 100v5M60 64v2M63 103v1M65 64v1M65 66v1M69 102v2M71 99v2M73 64v1M75 64v2M80 62v1M80 64v1M80 98v1M80 102v1M82 65v1M86 100v1M88 102v3M91 102v1M92 103v3M93 101v3M94 100v1M98 66v1M101 100v1M107 64v2M107 101v3M119 98v1M119 100v3M121 66v2M131 64v2M136 100v5" stroke="#74ff8b"/>
<path d="M33 64v1M34 64v3M38 65v1M43 65v1M49 100v1M49 104v1M63 104v1M63 106v1M65 65v1M73 66v1M80 63v1M80 99v1M88 101v1M88 105v2M91 105v3M98 64v2M101 101v3M119 65v2M119 99v1M119 103v1" stroke="#8bff74"/>
<path d="M63 105v1M73 65v1M78 62v1M80 100v2M91 103v2" stroke="#a1ff5e"/>
<path d="M49 101v1M49 103v1M78 68v1" stroke="#b7ff48"/>
<path d="M49 102v1" stroke="#ceff31"/>
<path d="M78 63v1" stroke="#ffd700"/>
<path d="M78 67v1" stroke="#ffc100"/>
<path d="M78 64v1M78 66v1" stroke="#ff7e00"/>
<path d="M78 65v1" stroke="#ff6800"/>
</g></g></g>
<rect x="302.40" y="287.50" width="33.80" height="133.00" fill="none" stroke="#b8b8b8" stroke-width="0.60"/>
<defs><linearGradient id="gd" x1="0" y1="0" x2="0" y2="1"><stop offset="0.0000" stop-color="#870000"/><stop offset="0.0312" stop-color="#a70000"/><stop offset="0.0625" stop-color="#c60000"/><stop offset="0.0938" stop-color="#e60000"/><stop offset="0.1250" stop-color="#ff0600"/><stop offset="0.1562" stop-color="#ff2500"/><stop offset="0.1875" stop-color="#ff4500"/><stop offset="0.2188" stop-color="#ff6400"/><stop offset="0.2500" stop-color="#ff8300"/><stop offset="0.2812" stop-color="#ffa300"/><stop offset="0.3125" stop-color="#ffc200"/><stop offset="0.3438" stop-color="#ffe200"/><stop offset="0.3750" stop-color="#fdff02"/><stop offset="0.4062" stop-color="#deff21"/><stop offset="0.4375" stop-color="#beff41"/><stop offset="0.4688" stop-color="#9fff60"/><stop offset="0.5000" stop-color="#80ff80"/><stop offset="0.5312" stop-color="#60ff9f"/><stop offset="0.5625" stop-color="#41ffbe"/><stop offset="0.5938" stop-color="#21ffde"/><stop offset="0.6250" stop-color="#02fffd"/><stop offset="0.6562" stop-color="#00e2ff"/><stop offset="0.6875" stop-color="#00c2ff"/><stop offset="0.7188" stop-color="#00a3ff"/><stop offset="0.7500" stop-color="#0083ff"/><stop offset="0.7812" stop-color="#0064ff"/><stop offset="0.8125" stop-color="#0045ff"/><stop offset="0.8438" stop-color="#0025ff"/><stop offset="0.8750" stop-color="#0006ff"/><stop offset="0.9062" stop-color="#0000e6"/><stop offset="0.9375" stop-color="#0000c6"/><stop offset="0.9688" stop-color="#0000a7"/><stop offset="1.0000" stop-color="#000087"/></linearGradient></defs>
<rect x="503.00" y="288.00" width="8.90" height="132.30" fill="url(#gd)"/>
<text x="515.00" y="288.30" font-family='"Liberation Sans", Arial, sans-serif' font-size="7.00" text-anchor="start" dominant-baseline="central" fill="#404040">100</text>
<line x1="510.70" y1="288.30" x2="511.90" y2="288.30" stroke="#555" stroke-width="0.4"/>
<text x="515.00" y="302.98" font-family='"Liberation Sans", Arial, sans-serif' font-size="7.00" text-anchor="start" dominant-baseline="central" fill="#404040">95</text>
<line x1="510.70" y1="302.98" x2="511.90" y2="302.98" stroke="#555" stroke-width="0.4"/>
<text x="515.00" y="317.65" font-family='"Liberation Sans", Arial, sans-serif' font-size="7.00" text-anchor="start" dominant-baseline="central" fill="#404040">90</text>
<line x1="510.70" y1="317.65" x2="511.90" y2="317.65" stroke="#555" stroke-width="0.4"/>
<text x="515.00" y="332.32" font-family='"Liberation Sans", Arial, sans-serif' font-size="7.00" text-anchor="start" dominant-baseline="central" fill="#404040">85</text>
<line x1="510.70" y1="332.32" x2="511.90" y2="332.32" stroke="#555" stroke-width="0.4"/>
<text x="515.00" y="347.00" font-family='"Liberation Sans", Arial, sans-serif' font-size="7.00" text-anchor="start" dominant-baseline="central" fill="#404040">80</text>
<line x1="510.70" y1="347.00" x2="511.90" y2="347.00" stroke="#555" stroke-width="0.4"/>
<text x="515.00" y="361.68" font-family='"Liberation Sans", Arial, sans-serif' font-size="7.00" text-anchor="start" dominant-baseline="central" fill="#404040">75</text>
<line x1="510.70" y1="361.68" x2="511.90" y2="361.68" stroke="#555" stroke-width="0.4"/>
<text x="515.00" y="376.35" font-family='"Liberation Sans", Arial, sans-serif' font-size="7.00" text-anchor="start" dominant-baseline="central" fill="#404040">70</text>
<line x1="510.70" y1="376.35" x2="511.90" y2="376.35" stroke="#555" stroke-width="0.4"/>
<text x="515.00" y="391.03" font-family='"Liberation Sans", Arial, sans-serif' font-size="7.00" text-anchor="start" dominant-baseline="central" fill="#404040">65</text>
<line x1="510.70" y1="391.03" x2="511.90" y2="391.03" stroke="#555" stroke-width="0.4"/>
<text x="515.00" y="405.70" font-family='"Liberation Sans", Arial, sans-serif' font-size="7.00" text-anchor="start" dominant-baseline="central" fill="#404040">60</text>
<line x1="510.70" y1="405.70" x2="511.90" y2="405.70" stroke="#555" stroke-width="0.4"/>
<text x="515.00" y="420.38" font-family='"Liberation Sans", Arial, sans-serif' font-size="7.00" text-anchor="start" dominant-baseline="central" fill="#404040">55</text>
<line x1="510.70" y1="420.38" x2="511.90" y2="420.38" stroke="#555" stroke-width="0.4"/>
<rect x="343.60" y="427.90" width="154.60" height="38.40" fill="none" stroke="#b8b8b8" stroke-width="0.60"/>
<text x="341.20" y="427.70" font-family='"Liberation Serif", "Times New Roman", serif' font-size="10.00" text-anchor="end" dominant-baseline="central" fill="#333" stroke="#333" stroke-width="0.22">100</text>
<text x="341.20" y="447.00" font-family='"Liberation Serif", "Times New Roman", serif' font-size="10.00" text-anchor="end" dominant-baseline="central" fill="#333" stroke="#333" stroke-width="0.22">80</text>
<text x="341.20" y="465.80" font-family='"Liberation Serif", "Times New Roman", serif' font-size="10.00" text-anchor="end" dominant-baseline="central" fill="#333" stroke="#333" stroke-width="0.22">60</text>
<text x="360.70" y="474.40" font-family='"Liberation Serif", "Times New Roman", serif' font-size="10.00" text-anchor="middle" dominant-baseline="central" fill="#333" stroke="#333" stroke-width="0.22">−100</text>
<line x1="360.70" y1="466.30" x2="360.70" y2="465.10" stroke="#888" stroke-width="0.5"/>
<line x1="360.70" y1="427.90" x2="360.70" y2="429.10" stroke="#888" stroke-width="0.5"/>
<text x="390.70" y="474.40" font-family='"Liberation Serif", "Times New Roman", serif' font-size="10.00" text-anchor="middle" dominant-baseline="central" fill="#333" stroke="#333" stroke-width="0.22">−50</text>
<line x1="390.70" y1="466.30" x2="390.70" y2="465.10" stroke="#888" stroke-width="0.5"/>
<line x1="390.70" y1="427.90" x2="390.70" y2="429.10" stroke="#888" stroke-width="0.5"/>
<text x="420.70" y="474.40" font-family='"Liberation Serif", "Times New Roman", serif' font-size="10.00" text-anchor="middle" dominant-baseline="central" fill="#333" stroke="#333" stroke-width="0.22">0</text>
<line x1="420.70" y1="466.30" x2="420.70" y2="465.10" stroke="#888" stroke-width="0.5"/>
<line x1="420.70" y1="427.90" x2="420.70" y2="429.10" stroke="#888" stroke-width="0.5"/>
<text x="450.70" y="474.40" font-family='"Liberation Serif", "Times New Roman", serif' font-size="10.00" text-anchor="middle" dominant-baseline="central" fill="#333" stroke="#333" stroke-width="0.22">50</text>
<line x1="450.70" y1="466.30" x2="450.70" y2="465.10" stroke="#888" stroke-width="0.5"/>
<line x1="450.70" y1="427.90" x2="450.70" y2="429.10" stroke="#888" stroke-width="0.5"/>
<text x="480.70" y="474.40" font-family='"Liberation Serif", "Times New Roman", serif' font-size="10.00" text-anchor="middle" dominant-baseline="central" fill="#333" stroke="#333" stroke-width="0.22">100</text>
<line x1="480.70" y1="466.30" x2="480.70" y2="465.10" stroke="#888" stroke-width="0.5"/>
<line x1="480.70" y1="427.90" x2="480.70" y2="429.10" stroke="#888" stroke-width="0.5"/>
<text x="420.70" y="487.80" font-family='"Liberation Sans", Arial, sans-serif' font-size="9.60" text-anchor="middle" dominant-baseline="central" fill="#333">Lag number</text>
<text x="410.70" y="504.90" font-family='"Liberation Serif", "Times New Roman", serif' font-size="13.20" text-anchor="middle" dominant-baseline="central" fill="#111" font-weight="bold">(d)</text>
<text x="319.80" y="266.80" font-family='"Liberation Sans", Arial, sans-serif' font-size="8.50" text-anchor="middle" dominant-baseline="central" fill="#333" transform="rotate(180 319.80 266.80)">dB</text>
<text x="311.80" y="284.50" font-family='"Liberation Serif", "Times New Roman", serif' font-size="8.00" text-anchor="end" dominant-baseline="central" fill="#333" transform="rotate(90 311.80 284.50)">50</text>
<line x1="311.80" y1="287.50" x2="311.80" y2="288.70" stroke="#888" stroke-width="0.5"/>
<line x1="311.80" y1="420.50" x2="311.80" y2="419.30" stroke="#888" stroke-width="0.5"/>
<text x="323.60" y="284.50" font-family='"Liberation Serif", "Times New Roman", serif' font-size="8.00" text-anchor="end" dominant-baseline="central" fill="#333" transform="rotate(90 323.60 284.50)">75</text>
<line x1="323.60" y1="287.50" x2="323.60" y2="288.70" stroke="#888" stroke-width="0.5"/>
<line x1="323.60" y1="420.50" x2="323.60" y2="419.30" stroke="#888" stroke-width="0.5"/>
<text x="336.20" y="284.50" font-family='"Liberation Serif", "Times New Roman", serif' font-size="8.00" text-anchor="end" dominant-baseline="central" fill="#333" transform="rotate(90 336.20 284.50)">100</text>
<line x1="336.20" y1="287.50" x2="336.20" y2="288.70" stroke="#888" stroke-width="0.5"/>
<line x1="336.20" y1="420.50" x2="336.20" y2="419.30" stroke="#888" stroke-width="0.5"/>
<text x="295.80" y="318.20" font-family='"Liberation Serif", "Times New Roman", serif' font-size="7.40" text-anchor="middle" dominant-baseline="central" fill="#333" transform="rotate(90 295.80 318.20)">−50</text>
<line x1="302.40" y1="318.20" x2="303.60" y2="318.20" stroke="#888" stroke-width="0.5"/>
<line x1="336.20" y1="318.20" x2="335.00" y2="318.20" stroke="#888" stroke-width="0.5"/>
<text x="295.80" y="354.40" font-family='"Liberation Serif", "Times New Roman", serif' font-size="7.40" text-anchor="middle" dominant-baseline="central" fill="#333" transform="rotate(90 295.80 354.40)">0</text>
<line x1="302.40" y1="354.40" x2="303.60" y2="354.40" stroke="#888" stroke-width="0.5"/>
<line x1="336.20" y1="354.40" x2="335.00" y2="354.40" stroke="#888" stroke-width="0.5"/>
<text x="295.80" y="390.60" font-family='"Liberation Serif", "Times New Roman", serif' font-size="7.40" text-anchor="middle" dominant-baseline="central" fill="#333" transform="rotate(90 295.80 390.60)">50</text>
<line x1="302.40" y1="390.60" x2="303.60" y2="390.60" stroke="#888" stroke-width="0.5"/>
<line x1="336.20" y1="390.60" x2="335.00" y2="390.60" stroke="#888" stroke-width="0.5"/>
<text x="284.00" y="354.60" font-family='"Liberation Sans", Arial, sans-serif' font-size="8.40" text-anchor="middle" dominant-baseline="central" fill="#333" transform="rotate(90 284.00 354.60)">Direction(degree)</text>
<text x="321.20" y="447.50" font-family='"Liberation Sans", Arial, sans-serif' font-size="9.60" text-anchor="middle" dominant-baseline="central" fill="#333" transform="rotate(-90 321.20 447.50)">dB</text>
<clipPath id="cp11"><rect x="302.70" y="287.80" width="33.20" height="132.40"/></clipPath><g clip-path="url(#cp11)">
<polyline points="310.4,287.6 310.4,287.8 310.4,288.0 310.3,288.2 310.3,288.4 310.2,288.6 310.1,288.8 310.0,289.0 309.9,289.2 309.7,289.4 309.6,289.6 309.4,289.8 309.2,290.0 309.0,290.2 308.8,290.4 308.6,290.6 308.4,290.8 308.1,291.0 307.8,291.2 307.6,291.4 307.3,291.6 306.9,291.8 306.6,292.0 306.3,292.2 305.9,292.4 305.5,292.6 305.1,292.8 304.7,293.0 304.2,293.2 303.7,293.4 303.0,293.6 304.1,293.8 304.9,294.0 305.6,294.2 306.2,294.4 306.8,294.6 307.3,294.8 307.8,295.0 308.3,295.2 308.8,295.4 309.3,295.6 309.7,295.8 310.2,296.0 310.6,296.3 311.0,296.5 311.4,296.7 311.8,296.9 312.2,297.1 312.5,297.3 312.9,297.5 313.2,297.7 313.5,297.9 313.9,298.1 314.2,298.3 314.5,298.5 314.7,298.7 315.0,298.9 315.3,299.1 315.5,299.3 315.8,299.5 316.0,299.7 316.2,299.9 316.4,300.1 316.6,300.3 316.8,300.5 317.0,300.7 317.2,300.9 317.3,301.1 317.5,301.3 317.6,301.6 317.7,301.8 317.9,302.0 318.0,302.2 318.0,302.4 318.1,302.6 318.2,302.8 318.3,303.0 318.3,303.2 318.4,303.4 318.4,303.6 318.4,303.8 318.4,304.0 318.4,304.2 318.3,304.4 318.3,304.6 318.2,304.8 318.0,305.0 317.8,305.2 317.6,305.4 317.4,305.6 317.2,305.8 316.9,306.0 316.5,306.2 316.2,306.4 315.8,306.6 315.4,306.8 315.0,307.0 314.5,307.2 314.0,307.4 313.5,307.6 312.9,307.8 312.3,308.0 311.7,308.2 311.0,308.4 310.3,308.6 309.6,308.8 308.8,309.0 308.0,309.2 307.0,309.4 306.0,309.6 304.4,309.8 305.8,310.0 306.7,310.2 307.6,310.4 308.3,310.6 309.0,310.8 309.7,311.0 310.3,311.2 310.9,311.4 311.4,311.6 311.9,311.8 312.4,312.0 312.9,312.2 313.3,312.4 313.8,312.6 314.2,312.8 314.5,313.0 314.9,313.2 315.2,313.4 315.4,313.6 315.7,313.8 315.9,314.0 316.1,314.2 316.3,314.4 316.5,314.6 316.6,314.8 316.7,315.0 316.7,315.2 316.8,315.4 316.8,315.6 316.8,315.8 316.6,316.0 316.4,316.2 316.1,316.5 315.8,316.7 315.3,316.9 314.8,317.1 314.2,317.3 313.5,317.5 312.7,317.7 311.9,317.9 310.9,318.2 309.9,318.4 308.6,318.6 306.8,318.8 308.1,319.0 309.0,319.2 309.8,319.4 310.4,319.6 311.0,319.8 311.6,320.0 312.0,320.2 312.5,320.4 312.8,320.6 313.1,320.8 313.3,321.0 313.5,321.2 313.6,321.4 313.6,321.6 313.6,321.8 313.5,322.0 313.4,322.2 313.3,322.4 313.1,322.6 312.8,322.9 312.5,323.1 312.2,323.3 311.8,323.5 311.4,323.7 311.0,323.9 310.5,324.1 310.0,324.3 309.4,324.5 308.8,324.7 308.1,325.0 307.4,325.2 306.6,325.4 305.7,325.6 304.7,325.8 303.2,326.0 305.5,326.2 307.0,326.4 308.3,326.6 309.5,326.9 310.6,327.1 311.5,327.3 312.4,327.5 313.1,327.7 313.8,327.9 314.3,328.1 314.8,328.3 315.1,328.6 315.4,328.8 315.5,329.0 315.6,329.2 315.6,329.4 315.4,329.6 315.2,329.8 314.9,330.1 314.6,330.3 314.1,330.5 313.6,330.7 313.0,330.9 312.3,331.1 311.5,331.3 310.7,331.5 309.7,331.8 308.7,332.0 307.4,332.2 305.6,332.4 307.6,332.6 309.0,332.8 310.1,333.0 311.2,333.2 312.1,333.4 312.9,333.6 313.6,333.8 314.2,334.0 314.8,334.2 315.2,334.4 315.6,334.6 315.8,334.8 316.0,335.0 316.0,335.2 315.9,335.4 315.8,335.6 315.5,335.8 315.2,336.0 314.7,336.2 314.1,336.4 313.5,336.6 312.7,336.8 311.8,337.0 310.8,337.2 309.7,337.4 308.4,337.6 306.4,337.8 308.5,338.0 309.9,338.2 311.1,338.4 312.2,338.6 313.1,338.8 314.0,339.0 314.7,339.2 315.4,339.4 315.9,339.6 316.4,339.8 316.7,340.0 317.0,340.2 317.1,340.4 317.2,340.6 317.2,340.8 317.0,341.0 316.8,341.2 316.5,341.4 316.1,341.6 315.6,341.8 315.0,342.0 314.4,342.2 313.6,342.4 312.8,342.6 311.9,342.8 310.9,343.0 309.7,343.2 308.4,343.4 306.4,343.6 309.5,343.8 311.6,344.0 313.4,344.2 315.0,344.5 316.3,344.7 317.6,344.9 318.6,345.1 319.5,345.3 320.3,345.5 320.9,345.8 321.3,346.0 321.5,346.2 321.6,346.4 321.5,346.6 321.3,346.8 321.0,347.0 320.5,347.2 319.9,347.4 319.1,347.6 318.2,347.8 317.2,348.0 316.1,348.2 314.7,348.4 313.1,348.6 310.8,348.8 313.9,349.0 316.0,349.2 317.9,349.4 319.5,349.6 321.1,349.8 322.5,350.0 323.9,350.3 325.1,350.5 326.3,350.7 327.4,350.9 328.5,351.1 329.5,351.3 330.4,351.5 331.2,351.7 332.0,351.9 332.6,352.1 333.3,352.3 333.8,352.5 334.3,352.8 334.7,353.0 335.0,353.2 335.3,353.4 335.5,353.6 335.6,353.8 335.6,354.0 335.6,354.2 335.5,354.4 335.3,354.6 335.0,354.8 334.7,355.0 334.3,355.2 333.9,355.5 333.4,355.7 332.8,355.9 332.1,356.1 331.4,356.3 330.6,356.5 329.7,356.7 328.8,356.9 327.8,357.1 326.8,357.3 325.6,357.5 324.4,357.7 323.1,357.9 321.8,358.2 320.3,358.4 318.8,358.6 317.1,358.8 315.2,359.0 313.1,359.2 310.0,359.4 311.6,359.6 312.7,359.8 313.7,360.0 314.5,360.2 315.2,360.4 315.9,360.6 316.4,360.8 316.9,361.0 317.3,361.2 317.6,361.4 317.8,361.6 318.0,361.8 318.0,362.0 317.9,362.2 317.7,362.4 317.3,362.6 316.8,362.8 316.2,363.0 315.3,363.2 314.4,363.4 313.3,363.6 312.1,363.8 310.6,364.0 309.1,364.2 307.2,364.4 304.4,364.6 306.7,364.8 308.3,365.0 309.7,365.2 310.8,365.5 311.8,365.7 312.7,365.9 313.5,366.1 314.1,366.3 314.6,366.6 314.9,366.8 315.1,367.0 315.2,367.2 315.1,367.4 314.9,367.6 314.6,367.8 314.2,368.0 313.6,368.2 312.9,368.4 312.1,368.6 311.1,368.8 310.1,369.0 308.8,369.2 307.4,369.4 305.2,369.6 306.7,369.8 307.8,370.0 308.7,370.2 309.5,370.4 310.2,370.7 310.9,370.9 311.5,371.1 312.0,371.3 312.5,371.5 313.0,371.7 313.3,371.9 313.7,372.1 313.9,372.4 314.1,372.6 314.3,372.8 314.4,373.0 314.4,373.2 314.4,373.4 314.3,373.6 314.2,373.8 314.0,374.0 313.8,374.2 313.6,374.4 313.3,374.6 313.0,374.8 312.6,375.0 312.2,375.2 311.7,375.4 311.2,375.6 310.7,375.8 310.1,376.0 309.5,376.2 308.8,376.4 308.0,376.6 307.2,376.8 306.2,377.0 304.8,377.2 306.4,377.4 307.5,377.6 308.4,377.8 309.3,378.0 310.1,378.2 310.8,378.4 311.5,378.7 312.2,378.9 312.8,379.1 313.4,379.3 313.9,379.5 314.4,379.7 314.9,379.9 315.3,380.1 315.7,380.3 316.1,380.5 316.4,380.7 316.7,380.9 316.9,381.2 317.1,381.4 317.3,381.6 317.4,381.8 317.5,382.0 317.6,382.2 317.6,382.4 317.5,382.6 317.1,382.8 316.4,383.0 315.5,383.2 314.3,383.4 312.4,383.6 314.5,383.8 316.0,384.0 317.2,384.2 318.4,384.4 319.4,384.6 320.4,384.8 321.4,385.0 322.3,385.2 323.2,385.4 324.0,385.7 324.8,385.9 325.6,386.1 326.3,386.3 327.0,386.5 327.7,386.7 328.3,386.9 329.0,387.1 329.5,387.3 330.1,387.5 330.6,387.7 331.1,387.9 331.6,388.1 332.0,388.3 332.4,388.5 332.8,388.7 333.2,388.9 333.5,389.1 333.8,389.4 334.0,389.6 334.3,389.8 334.5,390.0 334.6,390.2 334.8,390.4 334.9,390.6 334.9,390.8 335.0,391.0 335.0,391.2 335.0,391.4 335.0,391.6 334.9,391.8 334.8,392.0 334.8,392.2 334.7,392.4 334.5,392.6 334.4,392.8 334.2,393.0 334.1,393.2 333.9,393.4 333.6,393.6 333.4,393.8 333.2,394.0 332.9,394.2 332.6,394.4 332.3,394.6 332.0,394.8 331.6,395.0 331.2,395.2 330.9,395.4 330.5,395.6 330.0,395.8 329.6,396.0 329.2,396.2 328.7,396.4 328.2,396.6 327.7,396.8 327.1,397.0 326.6,397.2 326.0,397.4 325.4,397.6 324.8,397.8 324.2,398.0 323.6,398.2 322.9,398.4 322.2,398.6 321.5,398.8 320.7,399.0 320.0,399.2 319.1,399.4 318.3,399.6 317.4,399.8 316.4,400.0 315.4,400.2 314.2,400.4 312.4,400.6 314.3,400.8 315.5,401.1 316.4,401.3 317.1,401.5 317.5,401.8 317.6,402.0 317.6,402.2 317.5,402.4 317.3,402.6 317.1,402.8 316.9,403.0 316.5,403.2 316.2,403.4 315.7,403.6 315.2,403.8 314.7,404.0 314.1,404.2 313.4,404.4 312.6,404.6 311.7,404.8 310.4,405.0 311.7,405.2 312.6,405.4 313.4,405.6 314.1,405.8 314.7,406.0 315.2,406.2 315.7,406.4 316.2,406.6 316.5,406.8 316.9,407.0 317.1,407.2 317.3,407.4 317.5,407.6 317.6,407.8 317.6,408.0 317.6,408.2 317.6,408.4 317.6,408.6 317.6,408.8 317.5,409.0 317.5,409.2 317.5,409.4 317.4,409.6 317.4,409.8 317.3,410.0 317.3,410.2 317.2,410.4 317.2,410.6 317.1,410.8 317.0,411.0 317.0,411.3 316.9,411.5 316.8,411.7 316.7,411.9 316.6,412.1 316.5,412.3 316.4,412.5 316.3,412.7 316.2,412.9 316.1,413.1 316.0,413.3 315.8,413.5 315.7,413.7 315.6,413.9 315.4,414.1 315.3,414.3 315.2,414.5 315.0,414.7 314.9,414.9 314.7,415.1 314.6,415.3 314.4,415.5 314.2,415.7 314.1,415.9 313.9,416.1 313.7,416.3 313.6,416.5 313.4,416.7 313.2,416.9 313.0,417.1 312.9,417.4 312.7,417.6 312.5,417.8 312.3,418.0 312.1,418.2 311.9,418.4 311.7,418.6 311.6,418.8 311.4,419.0 311.2,419.2 311.0,419.4 310.8,419.6 310.6,419.8 310.4,420.0 310.2,420.2 310.0,420.4" fill="none" stroke="#0072bd" stroke-width="1.05" stroke-linejoin="round" stroke-linecap="round"/>
</g>
<clipPath id="cp12"><rect x="343.90" y="428.20" width="154.00" height="37.90"/></clipPath><g clip-path="url(#cp12)">
<polyline points="344.0,462.6 344.7,458.0 345.3,460.2 345.9,460.5 346.5,460.4 347.1,459.4 347.7,457.2 348.3,459.2 349.0,454.2 349.6,463.4 350.2,463.3 350.8,452.1 351.4,453.7 352.0,458.4 352.6,454.2 353.2,465.6 353.9,456.4 354.5,456.1 355.1,467.6 355.7,457.2 356.3,460.0 356.9,462.3 357.5,459.8 358.2,454.6 358.8,459.5 359.4,462.9 360.0,467.8 360.6,463.9 361.2,458.1 361.8,452.7 362.4,460.7 363.1,451.6 363.7,450.8 364.3,452.2 364.9,460.2 365.5,459.7 366.1,456.8 366.7,457.8 367.4,455.9 368.0,454.5 368.6,456.8 369.2,466.9 369.8,455.2 370.4,456.0 371.0,464.1 371.6,456.5 372.3,452.2 372.9,464.3 373.5,454.7 374.1,454.5 374.7,455.3 375.3,461.8 375.9,459.0 376.5,451.5 377.2,449.2 377.8,450.6 378.4,458.9 379.0,459.9 379.6,458.2 380.2,452.1 380.8,451.4 381.5,452.1 382.1,448.1 382.7,455.9 383.3,456.6 383.9,451.3 384.5,461.0 385.1,451.3 385.7,454.0 386.4,449.3 387.0,451.6 387.6,463.5 388.2,466.1 388.8,455.5 389.4,461.3 390.0,465.9 390.7,451.0 391.3,460.3 391.9,458.3 392.5,457.1 393.1,457.3 393.7,451.6 394.3,453.4 394.9,446.4 395.6,460.7 396.2,454.1 396.8,457.5 397.4,449.8 398.0,455.3 398.6,458.7 399.2,457.6 399.9,463.7 400.5,454.4 401.1,467.8 401.7,451.8 402.3,451.1 402.9,451.5 403.5,450.8 404.1,456.8 404.8,452.6 405.4,458.8 406.0,455.5 406.6,451.6 407.2,458.5 407.8,454.6 408.4,449.7 409.0,450.1 409.7,453.2 410.3,459.6 410.9,460.4 411.5,454.3 412.1,450.2 412.7,452.8 413.3,452.2 414.0,455.9 414.6,453.9 415.2,456.2 415.8,451.6 416.4,448.7 417.0,455.6 417.6,461.2 418.2,449.8 418.9,450.0 419.5,454.4 420.1,463.6 420.7,428.6 421.3,453.4 421.9,448.0 422.5,463.5 423.2,449.5 423.8,458.9 424.4,453.1 425.0,450.5 425.6,452.2 426.2,455.5 426.8,453.2 427.4,449.4 428.1,453.2 428.7,453.9 429.3,453.7 429.9,451.6 430.5,459.3 431.1,454.7 431.7,461.2 432.4,447.8 433.0,452.7 433.6,458.1 434.2,460.9 434.8,455.3 435.4,457.5 436.0,466.6 436.6,454.2 437.3,454.1 437.9,451.8 438.5,453.7 439.1,453.7 439.7,455.2 440.3,453.6 440.9,449.5 441.5,460.4 442.2,458.7 442.8,457.0 443.4,456.7 444.0,455.3 444.6,453.2 445.2,455.5 445.8,452.2 446.5,452.7 447.1,454.4 447.7,453.5 448.3,455.5 448.9,452.1 449.5,450.1 450.1,450.9 450.7,454.6 451.4,451.3 452.0,450.6 452.6,454.7 453.2,456.5 453.8,462.4 454.4,455.0 455.0,461.5 455.7,458.7 456.3,457.1 456.9,461.0 457.5,452.2 458.1,465.9 458.7,456.6 459.3,453.7 459.9,452.2 460.6,453.6 461.2,456.9 461.8,448.6 462.4,454.9 463.0,458.5 463.6,450.7 464.2,466.4 464.9,456.3 465.5,453.7 466.1,454.1 466.7,454.3 467.3,457.0 467.9,453.4 468.5,456.2 469.1,458.7 469.8,453.7 470.4,451.7 471.0,454.8 471.6,452.6 472.2,459.2 472.8,468.9 473.4,450.6 474.0,456.9 474.7,460.5 475.3,453.2 475.9,460.6 476.5,454.7 477.1,454.6 477.7,458.7 478.3,461.4 479.0,452.6 479.6,457.1 480.2,453.6 480.8,462.1 481.4,461.9 482.0,451.7 482.6,457.1 483.2,452.0 483.9,455.4 484.5,455.2 485.1,452.0 485.7,455.0 486.3,454.7 486.9,466.3 487.5,457.7 488.2,461.5 488.8,455.1 489.4,459.3 490.0,463.3 490.6,460.6 491.2,469.3 491.8,463.9 492.4,461.7 493.1,461.5 493.7,456.2 494.3,459.9 494.9,468.5 495.5,457.6 496.1,453.3 496.7,463.5 497.4,461.7" fill="none" stroke="#0072bd" stroke-width="1.10" stroke-linejoin="round" stroke-linecap="round"/>
</g>
<clipPath id="cp13"><rect x="343.90" y="428.20" width="154.00" height="37.90"/></clipPath><g clip-path="url(#cp13)">
<polyline points="344.0,456.7 344.7,458.8 345.3,464.7 345.9,461.5 346.5,457.5 347.1,459.5 347.7,460.5 348.3,461.9 349.0,469.3 349.6,453.7 350.2,462.2 350.8,461.7 351.4,455.8 352.0,456.3 352.6,465.0 353.2,452.8 353.9,462.0 354.5,458.0 355.1,461.0 355.7,453.6 356.3,462.3 356.9,453.1 357.5,466.2 358.2,463.3 358.8,462.3 359.4,469.3 360.0,459.3 360.6,458.6 361.2,463.6 361.8,463.7 362.4,456.7 363.1,456.3 363.7,462.1 364.3,458.9 364.9,469.3 365.5,452.3 366.1,457.6 366.7,457.7 367.4,457.8 368.0,456.1 368.6,462.8 369.2,469.3 369.8,458.5 370.4,463.8 371.0,454.1 371.6,460.3 372.3,454.7 372.9,455.7 373.5,459.7 374.1,457.3 374.7,452.9 375.3,462.6 375.9,456.7 376.5,454.9 377.2,454.9 377.8,458.0 378.4,460.6 379.0,469.3 379.6,455.8 380.2,451.6 380.8,457.9 381.5,453.9 382.1,453.4 382.7,460.4 383.3,455.7 383.9,454.2 384.5,455.3 385.1,454.5 385.7,460.9 386.4,452.4 387.0,458.5 387.6,455.7 388.2,455.7 388.8,452.4 389.4,458.8 390.0,456.4 390.7,453.6 391.3,455.6 391.9,450.4 392.5,449.3 393.1,448.6 393.7,452.2 394.3,452.2 394.9,451.4 395.6,451.8 396.2,454.4 396.8,453.3 397.4,455.5 398.0,460.2 398.6,453.5 399.2,457.3 399.9,461.5 400.5,450.9 401.1,457.5 401.7,455.0 402.3,455.4 402.9,449.6 403.5,452.5 404.1,458.9 404.8,451.4 405.4,452.8 406.0,452.7 406.6,449.0 407.2,462.2 407.8,465.1 408.4,453.4 409.0,457.7 409.7,458.8 410.3,456.5 410.9,459.6 411.5,454.7 412.1,452.3 412.7,453.3 413.3,457.0 414.0,450.4 414.6,453.1 415.2,466.7 415.8,452.0 416.4,452.6 417.0,454.6 417.6,459.1 418.2,461.3 418.9,455.7 419.5,463.6 420.1,460.8 420.7,435.2 421.3,467.7 421.9,456.4 422.5,452.9 423.2,450.2 423.8,456.2 424.4,451.7 425.0,455.9 425.6,453.1 426.2,454.1 426.8,452.7 427.4,453.4 428.1,454.4 428.7,448.5 429.3,452.7 429.9,460.6 430.5,453.0 431.1,451.0 431.7,456.5 432.4,455.4 433.0,454.6 433.6,453.3 434.2,447.8 434.8,451.1 435.4,451.6 436.0,452.8 436.6,454.0 437.3,452.6 437.9,455.5 438.5,451.1 439.1,453.0 439.7,454.5 440.3,464.6 440.9,452.4 441.5,458.2 442.2,452.6 442.8,459.4 443.4,462.2 444.0,449.4 444.6,456.3 445.2,466.9 445.8,458.1 446.5,450.2 447.1,461.5 447.7,454.6 448.3,452.7 448.9,453.3 449.5,451.1 450.1,452.4 450.7,456.9 451.4,459.2 452.0,461.5 452.6,462.7 453.2,461.5 453.8,455.7 454.4,464.6 455.0,456.4 455.7,454.6 456.3,449.8 456.9,458.6 457.5,462.0 458.1,465.3 458.7,460.9 459.3,459.6 459.9,458.3 460.6,451.3 461.2,454.2 461.8,449.5 462.4,453.3 463.0,455.9 463.6,459.3 464.2,457.3 464.9,465.6 465.5,461.3 466.1,459.7 466.7,454.8 467.3,465.8 467.9,459.3 468.5,465.2 469.1,459.5 469.8,459.4 470.4,454.0 471.0,456.7 471.6,461.5 472.2,455.8 472.8,468.6 473.4,457.2 474.0,463.5 474.7,459.8 475.3,453.8 475.9,456.1 476.5,454.9 477.1,465.4 477.7,455.3 478.3,451.2 479.0,457.5 479.6,462.6 480.2,466.6 480.8,458.6 481.4,468.2 482.0,455.2 482.6,455.9 483.2,453.0 483.9,455.4 484.5,459.8 485.1,462.4 485.7,465.0 486.3,464.3 486.9,463.0 487.5,456.2 488.2,461.5 488.8,461.9 489.4,458.9 490.0,458.9 490.6,457.9 491.2,458.3 491.8,456.7 492.4,462.3 493.1,469.3 493.7,460.0 494.3,460.1 494.9,459.5 495.5,458.4 496.1,462.0 496.7,462.9 497.4,465.3" fill="none" stroke="#d95319" stroke-width="1.10" stroke-linejoin="round" stroke-linecap="round" stroke-dasharray="2.8 1.4"/>
</g>
<rect x="468.7" y="430.0" width="27.3" height="13.8" fill="#fff" stroke="#777" stroke-width="0.5"/>
<line x1="471" y1="433.4" x2="484" y2="433.4" stroke="#0072bd" stroke-width="0.9"/>
<line x1="471" y1="440.1" x2="484" y2="440.1" stroke="#d95319" stroke-width="0.9" stroke-dasharray="3 1.8"/>
<text x="486.60" y="433.50" font-family='"Liberation Sans", Arial, sans-serif' font-size="4.80" text-anchor="start" dominant-baseline="central" fill="#333">0°</text>
<text x="486.60" y="440.20" font-family='"Liberation Sans", Arial, sans-serif' font-size="4.80" text-anchor="start" dominant-baseline="central" fill="#333">50°</text>
<rect x="3.5" y="4.5" width="543" height="510" fill="none" stroke="#2b2b2b" stroke-width="1"/>
<line x1="275.1" y1="4" x2="275.1" y2="515" stroke="#4a4a4a" stroke-width="1.5"/>
<line x1="3" y1="259.2" x2="547" y2="259.2" stroke="#4a4a4a" stroke-width="1.5"/></svg>
</body></html>
